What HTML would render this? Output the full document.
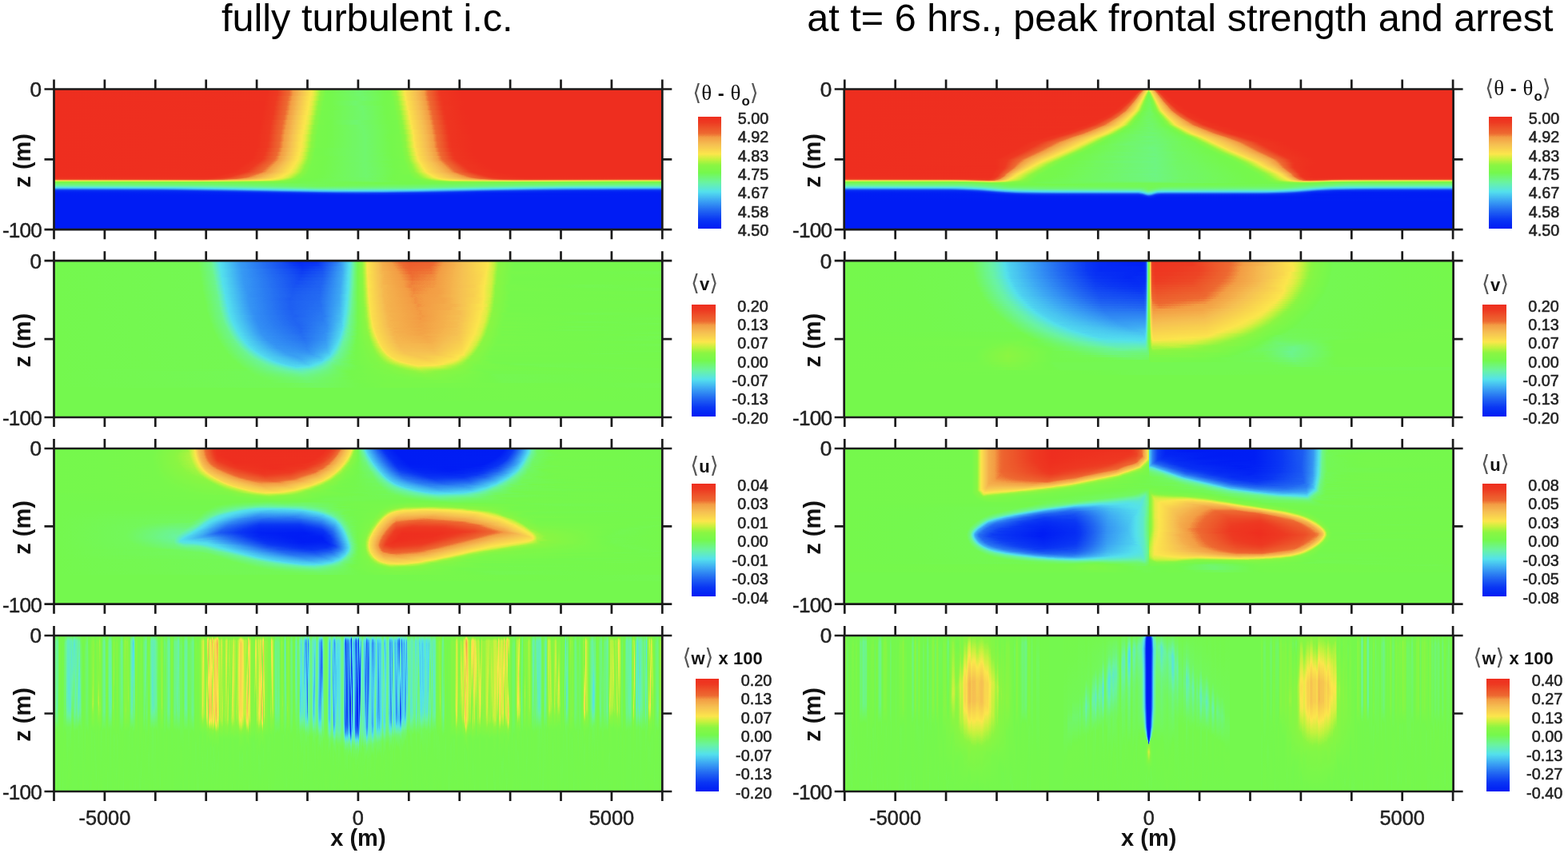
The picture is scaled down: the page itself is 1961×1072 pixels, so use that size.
<!DOCTYPE html><html><head><meta charset="utf-8"><style>body{margin:0;width:1961px;height:1072px;background:#fff;overflow:hidden;position:relative}.f{position:absolute;display:flex;filter:url(#cm);overflow:hidden}.c i{flex:none;width:1px}.r{flex-direction:column;filter:url(#cv)}.r i{flex:none;height:1px}.cb{position:absolute;filter:url(#cm);background:linear-gradient(#fff,#000)}svg.o{position:absolute;left:0;top:0}</style></head><body>
<svg width="0" height="0" style="position:absolute"><filter id="cm" x="0" y="0" width="1" height="1" color-interpolation-filters="sRGB"><feGaussianBlur stdDeviation="0.6 0" edgeMode="duplicate"/><feComponentTransfer><feFuncR type="table" tableValues="0 0.008 0.016 0.025 0.033 0.043 0.062 0.081 0.1 0.119 0.137 0.157 0.176 0.196 0.216 0.235 0.255 0.275 0.294 0.314 0.333 0.35 0.367 0.384 0.4 0.417 0.425 0.433 0.442 0.45 0.459 0.48 0.502 0.523 0.545 0.612 0.69 0.769 0.842 0.914 0.987 0.984 0.979 0.974 0.969 0.965 0.962 0.959 0.956 0.954 0.942 0.933 0.933 0.933 0.933 0.933 0.933 0.933 0.935 0.936 0.937"/><feFuncG type="table" tableValues="0.11 0.131 0.152 0.174 0.195 0.22 0.259 0.298 0.337 0.376 0.416 0.461 0.507 0.554 0.6 0.647 0.696 0.745 0.794 0.843 0.885 0.9 0.914 0.929 0.944 0.957 0.961 0.965 0.969 0.973 0.976 0.974 0.971 0.968 0.965 0.961 0.955 0.95 0.936 0.919 0.902 0.873 0.843 0.813 0.783 0.753 0.718 0.684 0.649 0.615 0.51 0.415 0.386 0.358 0.329 0.295 0.261 0.227 0.213 0.199 0.184"/><feFuncB type="table" tableValues="0.957 0.957 0.957 0.957 0.957 0.957 0.955 0.954 0.952 0.951 0.949 0.95 0.952 0.954 0.955 0.957 0.952 0.947 0.942 0.937 0.921 0.861 0.801 0.741 0.681 0.621 0.557 0.493 0.43 0.366 0.302 0.292 0.281 0.271 0.261 0.255 0.249 0.244 0.259 0.278 0.298 0.303 0.307 0.312 0.317 0.322 0.308 0.295 0.282 0.269 0.229 0.193 0.184 0.174 0.165 0.154 0.144 0.133 0.129 0.125 0.122"/></feComponentTransfer></filter><filter id="cv" x="0" y="0" width="1" height="1" color-interpolation-filters="sRGB"><feGaussianBlur stdDeviation="0 0.6" edgeMode="duplicate"/><feComponentTransfer><feFuncR type="table" tableValues="0 0.008 0.016 0.025 0.033 0.043 0.062 0.081 0.1 0.119 0.137 0.157 0.176 0.196 0.216 0.235 0.255 0.275 0.294 0.314 0.333 0.35 0.367 0.384 0.4 0.417 0.425 0.433 0.442 0.45 0.459 0.48 0.502 0.523 0.545 0.612 0.69 0.769 0.842 0.914 0.987 0.984 0.979 0.974 0.969 0.965 0.962 0.959 0.956 0.954 0.942 0.933 0.933 0.933 0.933 0.933 0.933 0.933 0.935 0.936 0.937"/><feFuncG type="table" tableValues="0.11 0.131 0.152 0.174 0.195 0.22 0.259 0.298 0.337 0.376 0.416 0.461 0.507 0.554 0.6 0.647 0.696 0.745 0.794 0.843 0.885 0.9 0.914 0.929 0.944 0.957 0.961 0.965 0.969 0.973 0.976 0.974 0.971 0.968 0.965 0.961 0.955 0.95 0.936 0.919 0.902 0.873 0.843 0.813 0.783 0.753 0.718 0.684 0.649 0.615 0.51 0.415 0.386 0.358 0.329 0.295 0.261 0.227 0.213 0.199 0.184"/><feFuncB type="table" tableValues="0.957 0.957 0.957 0.957 0.957 0.957 0.955 0.954 0.952 0.951 0.949 0.95 0.952 0.954 0.955 0.957 0.952 0.947 0.942 0.937 0.921 0.861 0.801 0.741 0.681 0.621 0.557 0.493 0.43 0.366 0.302 0.292 0.281 0.271 0.261 0.255 0.249 0.244 0.259 0.278 0.298 0.303 0.307 0.312 0.317 0.322 0.308 0.295 0.282 0.269 0.229 0.193 0.184 0.174 0.165 0.154 0.144 0.133 0.129 0.125 0.122"/></feComponentTransfer></filter></svg>
<div class="f r" style="left:67px;top:111px;width:762px;height:177px"><i style="height:9px;background:linear-gradient(90deg,#fff 0.5px,#fdfdfd 266.5px,#f3f3f3 279.5px,#aeaeae 319.5px,#a5a5a5 325.5px,#818181 340.5px,#777 383.5px,#818181 421.5px,#afafaf 441.5px,#c7c7c7 458.5px,#f8f8f8 485.5px,#fff 509.5px,#fff 761.5px)"></i><i style="height:6px;background:linear-gradient(90deg,#fff 0.5px,#fdfdfd 265.5px,#f2f2f2 278.5px,#adadad 318.5px,#a5a5a5 324.5px,#818181 339.5px,#777 387.5px,#828282 423.5px,#afafaf 442.5px,#c9c9c9 460.5px,#f8f8f8 486.5px,#fff 510.5px,#fff 761.5px)"></i><i style="height:6px;background:linear-gradient(90deg,#fff 0.5px,#fefefe 263.5px,#f3f3f3 276.5px,#adadad 317.5px,#a4a4a4 323.5px,#828282 337.5px,#777 377.5px,#828282 424.5px,#aeaeae 443.5px,#c8c8c8 461.5px,#f9f9f9 488.5px,#fff 514.5px,#fff 761.5px)"></i><i style="height:6px;background:linear-gradient(90deg,#fff 0.5px,#fefefe 262.5px,#f3f3f3 275.5px,#adadad 316.5px,#a4a4a4 322.5px,#828282 336.5px,#777 385.5px,#828282 425.5px,#b0b0b0 445.5px,#c8c8c8 462.5px,#f7f7f7 488.5px,#fff 511.5px,#fff 761.5px)"></i><i style="height:6px;background:linear-gradient(90deg,#fff 0.5px,#fdfdfd 261.5px,#f3f3f3 274.5px,#aeaeae 314.5px,#a4a4a4 321.5px,#818181 335.5px,#777 387.5px,#838383 427.5px,#afafaf 446.5px,#c7c7c7 463.5px,#f8f8f8 490.5px,#fff 515.5px,#fff 761.5px)"></i><i style="height:6px;background:linear-gradient(90deg,#fff 0.5px,#fdfdfd 260.5px,#f3f3f3 273.5px,#adadad 313.5px,#a5a5a5 319.5px,#818181 334.5px,#777 388.5px,#838383 428.5px,#afafaf 447.5px,#c7c7c7 464.5px,#f9f9f9 492.5px,#fff 519.5px,#fff 761.5px)"></i><i style="height:6px;background:linear-gradient(90deg,#fff 0.5px,#fefefe 258.5px,#f3f3f3 271.5px,#adadad 312.5px,#a5a5a5 318.5px,#838383 332.5px,#767676 378.5px,#828282 429.5px,#aeaeae 448.5px,#c8c8c8 466.5px,#f7f7f7 492.5px,#fff 515.5px,#fff 761.5px)"></i><i style="height:6px;background:linear-gradient(90deg,#fff 0.5px,#fefefe 257.5px,#f3f3f3 270.5px,#adadad 311.5px,#a4a4a4 317.5px,#828282 331.5px,#777 386.5px,#828282 430.5px,#b0b0b0 450.5px,#c6c6c6 466.5px,#f8f8f8 494.5px,#fff 519.5px,#fff 761.5px)"></i><i style="height:6px;background:linear-gradient(90deg,#fff 0.5px,#fdfdfd 256.5px,#f3f3f3 269.5px,#aeaeae 309.5px,#a4a4a4 316.5px,#828282 330.5px,#777 388.5px,#828282 431.5px,#afafaf 451.5px,#c8c8c8 468.5px,#f8f8f8 495.5px,#fff 519.5px,#fff 761.5px)"></i><i style="height:9px;background:linear-gradient(90deg,#fff 0.5px,#fdfdfd 255.5px,#f3f3f3 268.5px,#adadad 308.5px,#a5a5a5 314.5px,#828282 329.5px,#777 389.5px,#838383 433.5px,#afafaf 452.5px,#c7c7c7 469.5px,#f9f9f9 497.5px,#fff 524.5px,#fff 761.5px)"></i><i style="height:8px;background:linear-gradient(90deg,#fff 0.5px,#fdfdfd 254.5px,#f3f3f3 267.5px,#adadad 307.5px,#a5a5a5 313.5px,#828282 328.5px,#777 389.5px,#838383 434.5px,#afafaf 453.5px,#c7c7c7 470.5px,#f9f9f9 498.5px,#fff 525.5px,#fff 761.5px)"></i><i style="height:5px;background:linear-gradient(90deg,#fff 0.5px,#fdfdfd 252.5px,#f3f3f3 265.5px,#adadad 306.5px,#a5a5a5 312.5px,#818181 327.5px,#777 389.5px,#838383 435.5px,#aeaeae 454.5px,#c8c8c8 472.5px,#f8f8f8 499.5px,#fff 523.5px,#fff 761.5px)"></i><i style="height:5px;background:linear-gradient(90deg,#fff 0.5px,#fdfdfd 250.5px,#f3f3f3 263.5px,#adadad 305.5px,#a4a4a4 311.5px,#818181 326.5px,#777 389.5px,#838383 436.5px,#b0b0b0 456.5px,#c7c7c7 473.5px,#f8f8f8 501.5px,#fff 526.5px,#fff 761.5px)"></i><i style="height:4px;background:linear-gradient(90deg,#fff 0.5px,#fdfdfd 248.5px,#f3f3f3 261.5px,#acacac 304.5px,#a4a4a4 310.5px,#828282 325.5px,#777 389.5px,#838383 437.5px,#afafaf 457.5px,#c6c6c6 474.5px,#f8f8f8 503.5px,#fff 529.5px,#fff 761.5px)"></i><i style="height:2px;background:linear-gradient(90deg,#fff 0.5px,#fdfdfd 246.5px,#f2f2f2 260.5px,#aeaeae 302.5px,#a4a4a4 309.5px,#828282 324.5px,#777 389.5px,#828282 437.5px,#afafaf 458.5px,#c8c8c8 476.5px,#f8f8f8 505.5px,#fff 533.5px,#fff 761.5px)"></i><i style="height:2px;background:linear-gradient(90deg,#fff 0.5px,#fdfdfd 243.5px,#f3f3f3 257.5px,#adadad 301.5px,#a4a4a4 308.5px,#828282 323.5px,#777 387.5px,#838383 438.5px,#afafaf 459.5px,#c8c8c8 478.5px,#f7f7f7 507.5px,#fff 533.5px,#fff 761.5px)"></i><i style="height:2px;background:linear-gradient(90deg,#fff 0.5px,#fdfdfd 240.5px,#f2f2f2 255.5px,#aeaeae 299.5px,#a4a4a4 307.5px,#828282 323.5px,#777 390.5px,#838383 439.5px,#b0b0b0 461.5px,#c6c6c6 479.5px,#f8f8f8 510.5px,#fff 537.5px,#fff 761.5px)"></i><i style="height:2px;background:linear-gradient(90deg,#fff 0.5px,#fdfdfd 237.5px,#f2f2f2 252.5px,#aeaeae 298.5px,#a5a5a5 305.5px,#828282 322.5px,#777 389.5px,#838383 440.5px,#afafaf 462.5px,#c7c7c7 481.5px,#f8f8f8 513.5px,#fff 542.5px,#fff 761.5px)"></i><i style="height:2px;background:linear-gradient(90deg,#fff 0.5px,#fdfdfd 234.5px,#f3f3f3 249.5px,#adadad 297.5px,#a5a5a5 304.5px,#828282 321.5px,#777 389.5px,#848484 441.5px,#afafaf 463.5px,#c8c8c8 484.5px,#f7f7f7 515.5px,#fff 543.5px,#fff 761.5px)"></i><i style="height:2px;background:linear-gradient(90deg,#fff 0.5px,#fdfdfd 231.5px,#f2f2f2 247.5px,#aeaeae 295.5px,#a5a5a5 303.5px,#828282 321.5px,#777 390.5px,#838383 441.5px,#b0b0b0 465.5px,#c7c7c7 485.5px,#f8f8f8 518.5px,#fff 547.5px,#fff 761.5px)"></i><i style="height:2px;background:linear-gradient(90deg,#fff 0.5px,#fdfdfd 228.5px,#f3f3f3 244.5px,#adadad 294.5px,#a4a4a4 302.5px,#828282 320.5px,#777 390.5px,#838383 442.5px,#afafaf 466.5px,#c7c7c7 487.5px,#f8f8f8 521.5px,#fff 552.5px,#fff 761.5px)"></i><i style="height:2px;background:linear-gradient(90deg,#fff 0.5px,#fdfdfd 225.5px,#f3f3f3 241.5px,#adadad 293.5px,#a4a4a4 301.5px,#828282 319.5px,#777 390.5px,#848484 443.5px,#afafaf 467.5px,#c7c7c7 489.5px,#f8f8f8 524.5px,#fff 556.5px,#fff 761.5px)"></i><i style="background:linear-gradient(90deg,#fff 0.5px,#fdfdfd 222.5px,#f2f2f2 239.5px,#aeaeae 291.5px,#a4a4a4 300.5px,#828282 318.5px,#777 390.5px,#848484 444.5px,#b0b0b0 469.5px,#c7c7c7 491.5px,#f7f7f7 526.5px,#fff 557.5px,#fff 761.5px)"></i><i style="background:linear-gradient(90deg,#fff 0.5px,#fdfdfd 218.5px,#f3f3f3 235.5px,#adadad 290.5px,#a5a5a5 298.5px,#828282 318.5px,#777 390.5px,#848484 445.5px,#afafaf 470.5px,#c8c8c8 494.5px,#f8f8f8 530.5px,#fff 562.5px,#fff 761.5px)"></i><i style="background:linear-gradient(90deg,#fff 0.5px,#fdfdfd 214.5px,#f2f2f2 232.5px,#adadad 288.5px,#a4a4a4 297.5px,#828282 317.5px,#777 390.5px,#848484 446.5px,#afafaf 472.5px,#c7c7c7 496.5px,#f8f8f8 534.5px,#fff 569.5px,#fff 761.5px)"></i><i style="background:linear-gradient(90deg,#fff 0.5px,#fdfdfd 210.5px,#f3f3f3 228.5px,#adadad 286.5px,#a5a5a5 295.5px,#828282 316.5px,#777 390.5px,#818181 432.5px,#828282 445.5px,#afafaf 474.5px,#c8c8c8 499.5px,#f9f9f9 538.5px,#fff 577.5px,#fff 761.5px)"></i><i style="background:linear-gradient(90deg,#fff 0.5px,#fdfdfd 206.5px,#f3f3f3 224.5px,#acacac 285.5px,#a4a4a4 294.5px,#828282 315.5px,#777 391.5px,#818181 430.5px,#818181 445.5px,#afafaf 476.5px,#c7c7c7 501.5px,#f9f9f9 542.5px,#fff 582.5px,#fff 761.5px)"></i><i style="background:linear-gradient(90deg,#fefefe 0.5px,#fdfdfd 202.5px,#f3f3f3 221.5px,#adadad 283.5px,#a5a5a5 292.5px,#828282 314.5px,#777 390.5px,#818181 432.5px,#818181 446.5px,#b0b0b0 478.5px,#c8c8c8 504.5px,#f7f7f7 544.5px,#fff 580.5px,#fefefe 761.5px)"></i><i style="background:linear-gradient(90deg,#fdfdfd 0.5px,#fcfcfc 199.5px,#f2f2f2 218.5px,#adadad 281.5px,#a4a4a4 291.5px,#828282 313.5px,#777 391.5px,#818181 430.5px,#818181 447.5px,#b0b0b0 480.5px,#c7c7c7 506.5px,#f7f7f7 548.5px,#fff 586.5px,#fdfdfd 761.5px)"></i><i style="background:linear-gradient(90deg,#fbfbfb 0.5px,#fafafa 195.5px,#f0f0f0 214.5px,#acacac 279.5px,#a4a4a4 289.5px,#828282 312.5px,#787878 391.5px,#818181 431.5px,#818181 448.5px,#b0b0b0 483.5px,#c6c6c6 509.5px,#f6f6f6 553.5px,#fdfdfd 594.5px,#fbfbfb 761.5px)"></i><i style="background:linear-gradient(90deg,#f4f4f4 0.5px,#f5f5f5 190.5px,#ebebeb 209.5px,#aaa 277.5px,#a4a4a4 285.5px,#818181 310.5px,#787878 391.5px,#818181 432.5px,#818181 450.5px,#aeaeae 486.5px,#c7c7c7 516.5px,#f0f0f0 557.5px,#f8f8f8 595.5px,#f4f4f4 761.5px)"></i><i style="background:linear-gradient(90deg,#e4e4e4 0.5px,#e9e9e9 188.5px,#c2c2c2 243.5px,#aaa 270.5px,#a2a2a2 282.5px,#818181 308.5px,#787878 392.5px,#818181 431.5px,#818181 453.5px,#acacac 490.5px,#c4c4c4 523.5px,#e4e4e4 562.5px,#ebebeb 597.5px,#e3e3e3 722.5px,#e4e4e4 761.5px)"></i><i style="background:linear-gradient(90deg,#c5c5c5 0.5px,#cbcbcb 148.5px,#d0d0d0 184.5px,#a3a3a3 273.5px,#818181 306.5px,#787878 393.5px,#818181 432.5px,#818181 456.5px,#a7a7a7 494.5px,#d0d0d0 577.5px,#c4c4c4 737.5px,#c5c5c5 761.5px)"></i><i style="background:linear-gradient(90deg,#a2a2a2 0.5px,#a8a8a8 149.5px,#adadad 185.5px,#969696 274.5px,#808080 306.5px,#7a7a7a 396.5px,#808080 435.5px,#818181 460.5px,#9b9b9b 497.5px,#adadad 586.5px,#a1a1a1 706.5px,#a2a2a2 761.5px)"></i><i style="background:linear-gradient(90deg,#8b8b8b 0.5px,#909090 225.5px,#878787 284.5px,#7e7e7e 309.5px,#7c7c7c 408.5px,#838383 472.5px,#8e8e8e 504.5px,#8f8f8f 629.5px,#898989 732.5px,#8b8b8b 761.5px)"></i><i style="background:linear-gradient(90deg,#808080 0.5px,#838383 283.5px,#7d7d7d 323.5px,#818181 486.5px,#858585 525.5px,#7f7f7f 761.5px)"></i><i style="background:linear-gradient(90deg,#7a7a7a 0.5px,#7f7f7f 434.5px,#797979 761.5px)"></i><i style="background:linear-gradient(90deg,#757575 0.5px,#7e7e7e 443.5px,#747474 761.5px)"></i><i style="background:linear-gradient(90deg,#707070 0.5px,#767676 221.5px,#7e7e7e 349.5px,#747474 614.5px,#6e6e6e 739.5px,#707070 761.5px)"></i><i style="background:linear-gradient(90deg,#686868 0.5px,#6e6e6e 188.5px,#7c7c7c 333.5px,#767676 524.5px,#686868 668.5px,#686868 761.5px)"></i><i style="background:linear-gradient(90deg,#5f5f5f 0.5px,#656565 169.5px,#797979 328.5px,#747474 487.5px,#606060 655.5px,#5f5f5f 761.5px)"></i><i style="background:linear-gradient(90deg,#535353 0.5px,#595959 156.5px,#747474 329.5px,#727272 462.5px,#555 644.5px,#535353 761.5px)"></i><i style="background:linear-gradient(90deg,#464646 0.5px,#4c4c4c 150.5px,#6f6f6f 333.5px,#6d6d6d 446.5px,#494949 632.5px,#454545 761.5px)"></i><i style="background:linear-gradient(90deg,#323232 0.5px,#383838 124.5px,#686868 339.5px,#666 437.5px,#383838 639.5px,#313131 761.5px)"></i><i style="background:linear-gradient(90deg,#1d1d1d 0.5px,#242424 133.5px,#3b3b3b 214.5px,#464646 240.5px,#5f5f5f 351.5px,#5b5b5b 438.5px,#383838 561.5px,#282828 605.5px,#1c1c1c 727.5px,#1d1d1d 761.5px)"></i><i style="background:linear-gradient(90deg,#101010 0.5px,#151515 151.5px,#2b2b2b 230.5px,#454545 286.5px,#555 374.5px,#4a4a4a 457.5px,#363636 512.5px,#212121 557.5px,#111 651.5px,#101010 761.5px)"></i><i style="background:linear-gradient(90deg,#080808 0.5px,#0d0d0d 175.5px,#212121 256.5px,#434343 333.5px,#464646 410.5px,#383838 459.5px,#181818 530.5px,#090909 627.5px,#080808 761.5px)"></i><i style="background:linear-gradient(90deg,#040404 0.5px,#080808 204.5px,#1d1d1d 295.5px,#313131 354.5px,#303030 413.5px,#0c0c0c 530.5px,#030303 683.5px,#040404 761.5px)"></i><i style="background:linear-gradient(90deg,#020202 0.5px,#060606 235.5px,#1f1f1f 378.5px,#0f0f0f 480.5px,#040404 539.5px,#020202 761.5px)"></i><i style="background:linear-gradient(90deg,#010101 0.5px,#040404 270.5px,#111 386.5px,#010101 558.5px,#010101 761.5px)"></i><i style="background:linear-gradient(90deg,#000 0.5px,#040404 314.5px,#090909 400.5px,#000 578.5px,#000 761.5px)"></i><i style="height:2px;background:linear-gradient(90deg,#000 0.5px,#020202 547.5px,#000 761.5px)"></i><i style="height:42px;background:#000"></i></div>
<div class="f r" style="left:67px;top:326px;width:762px;height:196px"><i style="height:2px;background:linear-gradient(90deg,#7f7f7f 0.5px,#7e7e7e 180.5px,#707070 196.5px,#555 207.5px,#3c3c3c 233.5px,#212121 282.5px,#0b0b0b 307.5px,#0f0f0f 327.5px,#303030 353.5px,#545454 370.5px,#707070 376.5px,#9e9e9e 389.5px,#a9a9a9 391.5px,#c6c6c6 409.5px,#e2e2e2 444.5px,#e0e0e0 467.5px,#bfbfbf 511.5px,#acacac 541.5px,#9d9d9d 551.5px,#909090 556.5px,#828282 572.5px,#7e7e7e 761.5px)"></i><i style="height:2px;background:linear-gradient(90deg,#7f7f7f 0.5px,#7e7e7e 180.5px,#707070 196.5px,#555 207.5px,#3c3c3c 233.5px,#202020 284.5px,#0e0e0e 307.5px,#121212 328.5px,#343434 355.5px,#545454 370.5px,#717171 376.5px,#9e9e9e 389.5px,#ababab 392.5px,#c8c8c8 411.5px,#e1e1e1 445.5px,#ddd 469.5px,#bfbfbf 511.5px,#acacac 541.5px,#9f9f9f 550.5px,#8d8d8d 557.5px,#818181 575.5px,#808080 761.5px)"></i><i style="height:3px;background:linear-gradient(90deg,#7f7f7f 0.5px,#7e7e7e 180.5px,#6f6f6f 197.5px,#565656 207.5px,#3d3d3d 232.5px,#1d1d1d 290.5px,#101010 309.5px,#171717 331.5px,#3a3a3a 358.5px,#565656 370.5px,#757575 377.5px,#9d9d9d 389.5px,#ababab 392.5px,#c8c8c8 412.5px,#dfdfdf 446.5px,#dbdbdb 470.5px,#aaa 543.5px,#9c9c9c 551.5px,#8d8d8d 557.5px,#808080 576.5px,#808080 761.5px)"></i><i style="height:3px;background:linear-gradient(90deg,#7f7f7f 0.5px,#7e7e7e 181.5px,#707070 197.5px,#555 208.5px,#3c3c3c 234.5px,#131313 311.5px,#1d1d1d 334.5px,#3f3f3f 360.5px,#565656 370.5px,#757575 377.5px,#9d9d9d 389.5px,#ababab 392.5px,#c6c6c6 411.5px,#ddd 445.5px,#d9d9d9 470.5px,#acacac 541.5px,#9e9e9e 550.5px,#8e8e8e 556.5px,#818181 574.5px,#808080 761.5px)"></i><i style="height:3px;background:linear-gradient(90deg,#7f7f7f 0.5px,#7e7e7e 181.5px,#6f6f6f 198.5px,#565656 208.5px,#3d3d3d 234.5px,#161616 311.5px,#202020 335.5px,#3f3f3f 360.5px,#575757 370.5px,#727272 376.5px,#9c9c9c 389.5px,#ababab 392.5px,#c6c6c6 411.5px,#dbdbdb 446.5px,#d7d7d7 472.5px,#adadad 539.5px,#a0a0a0 549.5px,#8e8e8e 556.5px,#818181 574.5px,#808080 761.5px)"></i><i style="height:4px;background:linear-gradient(90deg,#7f7f7f 0.5px,#7e7e7e 182.5px,#707070 198.5px,#555 209.5px,#3c3c3c 235.5px,#181818 310.5px,#232323 336.5px,#424242 361.5px,#585858 370.5px,#767676 377.5px,#9c9c9c 389.5px,#aaa 392.5px,#c4c4c4 410.5px,#d9d9d9 445.5px,#d6d6d6 472.5px,#afafaf 537.5px,#9f9f9f 549.5px,#8f8f8f 555.5px,#828282 571.5px,#7e7e7e 761.5px)"></i><i style="height:4px;background:linear-gradient(90deg,#7f7f7f 0.5px,#7e7e7e 182.5px,#707070 199.5px,#545454 210.5px,#3b3b3b 237.5px,#1b1b1b 309.5px,#252525 336.5px,#414141 360.5px,#595959 370.5px,#737373 376.5px,#9b9b9b 389.5px,#adadad 393.5px,#c6c6c6 413.5px,#d8d8d8 448.5px,#d3d3d3 475.5px,#b1b1b1 535.5px,#a0a0a0 548.5px,#8e8e8e 555.5px,#818181 572.5px,#7f7f7f 761.5px)"></i><i style="height:4px;background:linear-gradient(90deg,#7f7f7f 0.5px,#7e7e7e 183.5px,#6f6f6f 200.5px,#565656 210.5px,#3c3c3c 236.5px,#1d1d1d 307.5px,#272727 336.5px,#424242 360.5px,#565656 369.5px,#737373 376.5px,#9a9a9a 389.5px,#acacac 393.5px,#c5c5c5 412.5px,#d7d7d7 448.5px,#d2d2d2 476.5px,#b2b2b2 533.5px,#a0a0a0 548.5px,#8d8d8d 555.5px,#808080 574.5px,#808080 761.5px)"></i><i style="height:5px;background:linear-gradient(90deg,#7f7f7f 0.5px,#7e7e7e 184.5px,#6f6f6f 201.5px,#555 211.5px,#3c3c3c 237.5px,#1f1f1f 304.5px,#282828 335.5px,#414141 359.5px,#575757 369.5px,#747474 376.5px,#9a9a9a 389.5px,#ababab 393.5px,#c5c5c5 412.5px,#d5d5d5 448.5px,#d1d1d1 477.5px,#b3b3b3 531.5px,#a1a1a1 547.5px,#8f8f8f 554.5px,#818181 571.5px,#7f7f7f 761.5px)"></i><i style="height:4px;background:linear-gradient(90deg,#7f7f7f 0.5px,#7e7e7e 185.5px,#6f6f6f 202.5px,#555 212.5px,#3b3b3b 239.5px,#212121 301.5px,#282828 333.5px,#404040 358.5px,#585858 369.5px,#717171 375.5px,#999 389.5px,#aaa 393.5px,#c2c2c2 410.5px,#d4d4d4 445.5px,#d1d1d1 475.5px,#b7b7b7 526.5px,#a0a0a0 547.5px,#919191 552.5px,#828282 567.5px,#7e7e7e 667.5px,#808080 761.5px)"></i><i style="height:4px;background:linear-gradient(90deg,#7f7f7f 0.5px,#7e7e7e 185.5px,#707070 202.5px,#555 213.5px,#3b3b3b 240.5px,#232323 299.5px,#292929 333.5px,#414141 358.5px,#555 368.5px,#727272 375.5px,#9b9b9b 390.5px,#adadad 394.5px,#c4c4c4 413.5px,#d4d4d4 450.5px,#cecece 482.5px,#b3b3b3 530.5px,#9f9f9f 547.5px,#909090 552.5px,#828282 568.5px,#7e7e7e 756.5px,#808080 761.5px)"></i><i style="height:4px;background:linear-gradient(90deg,#7f7f7f 0.5px,#7e7e7e 186.5px,#707070 203.5px,#545454 214.5px,#3a3a3a 242.5px,#242424 298.5px,#2a2a2a 333.5px,#414141 358.5px,#565656 368.5px,#737373 375.5px,#979797 389.5px,#acacac 394.5px,#c4c4c4 413.5px,#d3d3d3 450.5px,#cecece 482.5px,#b4b4b4 529.5px,#a0a0a0 546.5px,#8e8e8e 553.5px,#818181 571.5px,#808080 761.5px)"></i><i style="height:4px;background:linear-gradient(90deg,#7f7f7f 0.5px,#7e7e7e 187.5px,#707070 204.5px,#545454 215.5px,#393939 244.5px,#252525 298.5px,#2b2b2b 333.5px,#414141 357.5px,#585858 368.5px,#707070 374.5px,#9a9a9a 390.5px,#ababab 394.5px,#c3c3c3 412.5px,#d2d2d2 448.5px,#cecece 479.5px,#b7b7b7 525.5px,#a2a2a2 545.5px,#8f8f8f 552.5px,#818181 569.5px,#7f7f7f 761.5px)"></i><i style="height:4px;background:linear-gradient(90deg,#7f7f7f 0.5px,#7e7e7e 188.5px,#6f6f6f 205.5px,#555 215.5px,#3b3b3b 242.5px,#252525 295.5px,#2b2b2b 332.5px,#414141 357.5px,#555 367.5px,#717171 374.5px,#999 390.5px,#adadad 395.5px,#c4c4c4 414.5px,#d2d2d2 452.5px,#cbcbcb 489.5px,#b0b0b0 533.5px,#a0a0a0 545.5px,#8e8e8e 552.5px,#818181 570.5px,#808080 761.5px)"></i><i style="height:4px;background:linear-gradient(90deg,#7f7f7f 0.5px,#7e7e7e 189.5px,#6f6f6f 206.5px,#555 216.5px,#3a3a3a 244.5px,#262626 295.5px,#2c2c2c 332.5px,#424242 357.5px,#575757 367.5px,#6e6e6e 373.5px,#989898 390.5px,#acacac 395.5px,#c4c4c4 414.5px,#d2d2d2 452.5px,#cbcbcb 488.5px,#b1b1b1 531.5px,#9f9f9f 545.5px,#8f8f8f 551.5px,#818181 568.5px,#7f7f7f 761.5px)"></i><i style="height:4px;background:linear-gradient(90deg,#7f7f7f 0.5px,#7e7e7e 190.5px,#707070 206.5px,#555 217.5px,#3a3a3a 245.5px,#262626 296.5px,#2d2d2d 334.5px,#444 358.5px,#585858 367.5px,#6f6f6f 373.5px,#979797 390.5px,#adadad 396.5px,#c5c5c5 416.5px,#d2d2d2 456.5px,#c5c5c5 502.5px,#a6a6a6 541.5px,#8c8c8c 552.5px,#808080 571.5px,#808080 761.5px)"></i><i style="height:4px;background:linear-gradient(90deg,#7f7f7f 0.5px,#7e7e7e 190.5px,#707070 207.5px,#555 218.5px,#3a3a3a 246.5px,#262626 296.5px,#2e2e2e 334.5px,#444 357.5px,#565656 366.5px,#707070 373.5px,#959595 390.5px,#acacac 396.5px,#c4c4c4 415.5px,#d1d1d1 454.5px,#c8c8c8 494.5px,#acacac 535.5px,#9e9e9e 544.5px,#8f8f8f 550.5px,#818181 567.5px,#7f7f7f 761.5px)"></i><i style="height:3px;background:linear-gradient(90deg,#7f7f7f 0.5px,#7e7e7e 191.5px,#707070 208.5px,#545454 219.5px,#393939 248.5px,#272727 297.5px,#2f2f2f 335.5px,#464646 358.5px,#585858 366.5px,#6e6e6e 372.5px,#979797 391.5px,#aeaeae 397.5px,#c5c5c5 417.5px,#d1d1d1 458.5px,#c1c1c1 508.5px,#a4a4a4 541.5px,#8d8d8d 550.5px,#808080 569.5px,#808080 761.5px)"></i><i style="height:3px;background:linear-gradient(90deg,#7f7f7f 0.5px,#7e7e7e 192.5px,#707070 209.5px,#545454 220.5px,#383838 250.5px,#272727 298.5px,#303030 336.5px,#474747 358.5px,#565656 365.5px,#6f6f6f 372.5px,#969696 391.5px,#adadad 397.5px,#c4c4c4 417.5px,#d1d1d1 458.5px,#c1c1c1 508.5px,#a3a3a3 541.5px,#929292 547.5px,#828282 562.5px,#7e7e7e 669.5px,#808080 761.5px)"></i><i style="height:3px;background:linear-gradient(90deg,#7f7f7f 0.5px,#7e7e7e 193.5px,#6f6f6f 210.5px,#545454 221.5px,#383838 252.5px,#272727 301.5px,#323232 339.5px,#4b4b4b 360.5px,#5b5b5b 366.5px,#6e6e6e 371.5px,#969696 391.5px,#afafaf 398.5px,#c5c5c5 419.5px,#d1d1d1 461.5px,#bebebe 511.5px,#a3a3a3 540.5px,#8f8f8f 548.5px,#818181 565.5px,#7f7f7f 761.5px)"></i><i style="height:3px;background:linear-gradient(90deg,#7f7f7f 0.5px,#7e7e7e 194.5px,#6f6f6f 211.5px,#545454 222.5px,#383838 252.5px,#282828 299.5px,#313131 336.5px,#484848 358.5px,#595959 365.5px,#6c6c6c 370.5px,#979797 392.5px,#aeaeae 398.5px,#c4c4c4 418.5px,#d1d1d1 458.5px,#c1c1c1 506.5px,#a4a4a4 539.5px,#8f8f8f 547.5px,#828282 563.5px,#7e7e7e 761.5px)"></i><i style="height:2px;background:linear-gradient(90deg,#7f7f7f 0.5px,#7e7e7e 194.5px,#717171 211.5px,#545454 223.5px,#383838 253.5px,#282828 301.5px,#323232 337.5px,#494949 358.5px,#575757 364.5px,#6d6d6d 370.5px,#969696 392.5px,#afafaf 399.5px,#c6c6c6 421.5px,#d0d0d0 462.5px,#bebebe 510.5px,#a3a3a3 539.5px,#8f8f8f 546.5px,#818181 563.5px,#7f7f7f 761.5px)"></i><i style="height:2px;background:linear-gradient(90deg,#7f7f7f 0.5px,#7e7e7e 195.5px,#707070 212.5px,#545454 224.5px,#383838 254.5px,#282828 303.5px,#343434 339.5px,#4b4b4b 359.5px,#5c5c5c 365.5px,#6d6d6d 370.5px,#959595 392.5px,#aeaeae 399.5px,#c4c4c4 419.5px,#d0d0d0 458.5px,#c1c1c1 505.5px,#a4a4a4 538.5px,#919191 545.5px,#828282 560.5px,#7e7e7e 665.5px,#808080 761.5px)"></i><i style="height:2px;background:linear-gradient(90deg,#7f7f7f 0.5px,#7e7e7e 196.5px,#707070 213.5px,#545454 225.5px,#383838 255.5px,#282828 304.5px,#353535 340.5px,#4e4e4e 360.5px,#707070 371.5px,#949494 392.5px,#adadad 399.5px,#c4c4c4 419.5px,#cfcfcf 457.5px,#c2c2c2 503.5px,#a4a4a4 537.5px,#909090 545.5px,#828282 561.5px,#7e7e7e 759.5px,#808080 761.5px)"></i><i style="height:2px;background:linear-gradient(90deg,#7f7f7f 0.5px,#7e7e7e 197.5px,#707070 214.5px,#545454 226.5px,#383838 256.5px,#282828 306.5px,#363636 341.5px,#505050 361.5px,#6d6d6d 369.5px,#949494 392.5px,#afafaf 400.5px,#c5c5c5 421.5px,#cfcfcf 460.5px,#c0c0c0 506.5px,#a3a3a3 537.5px,#909090 544.5px,#818181 561.5px,#7f7f7f 761.5px)"></i><i style="height:2px;background:linear-gradient(90deg,#7f7f7f 0.5px,#7e7e7e 197.5px,#707070 215.5px,#545454 227.5px,#383838 257.5px,#292929 307.5px,#373737 341.5px,#4f4f4f 360.5px,#707070 370.5px,#939393 392.5px,#aeaeae 400.5px,#c4c4c4 420.5px,#cfcfcf 457.5px,#c2c2c2 503.5px,#a4a4a4 536.5px,#919191 543.5px,#838383 558.5px,#7e7e7e 654.5px,#808080 761.5px)"></i><i style="height:2px;background:linear-gradient(90deg,#7f7f7f 0.5px,#7e7e7e 198.5px,#707070 216.5px,#545454 228.5px,#383838 258.5px,#292929 309.5px,#383838 342.5px,#525252 361.5px,#646464 365.5px,#7e7e7e 378.5px,#909090 391.5px,#b1b1b1 402.5px,#c7c7c7 426.5px,#cecece 464.5px,#bebebe 508.5px,#a2a2a2 536.5px,#8f8f8f 543.5px,#818181 560.5px,#7f7f7f 761.5px)"></i><i style="height:2px;background:linear-gradient(90deg,#7f7f7f 0.5px,#7e7e7e 199.5px,#707070 217.5px,#545454 229.5px,#393939 258.5px,#2a2a2a 308.5px,#383838 341.5px,#515151 360.5px,#6b6b6b 367.5px,#959595 394.5px,#aeaeae 401.5px,#c4c4c4 422.5px,#cecece 458.5px,#c0c0c0 504.5px,#a3a3a3 535.5px,#929292 541.5px,#838383 556.5px,#7e7e7e 643.5px,#808080 761.5px)"></i><i style="height:2px;background:linear-gradient(90deg,#7f7f7f 0.5px,#7e7e7e 200.5px,#707070 218.5px,#545454 230.5px,#393939 259.5px,#2a2a2a 309.5px,#383838 341.5px,#535353 360.5px,#646464 364.5px,#7b7b7b 376.5px,#909090 392.5px,#b1b1b1 403.5px,#c7c7c7 427.5px,#cdcdcd 464.5px,#bebebe 507.5px,#a3a3a3 534.5px,#8f8f8f 542.5px,#818181 560.5px,#7f7f7f 761.5px)"></i><i style="height:2px;background:linear-gradient(90deg,#7f7f7f 0.5px,#7e7e7e 201.5px,#707070 219.5px,#555 231.5px,#3a3a3a 259.5px,#2b2b2b 308.5px,#373737 338.5px,#505050 358.5px,#6d6d6d 367.5px,#939393 394.5px,#afafaf 403.5px,#c5c5c5 425.5px,#cdcdcd 460.5px,#bfbfbf 505.5px,#a4a4a4 533.5px,#8f8f8f 541.5px,#828282 558.5px,#7e7e7e 761.5px)"></i><i style="height:2px;background:linear-gradient(90deg,#7f7f7f 0.5px,#7e7e7e 202.5px,#707070 220.5px,#535353 233.5px,#393939 262.5px,#2c2c2c 311.5px,#393939 340.5px,#515151 358.5px,#696969 365.5px,#828282 381.5px,#8e8e8e 392.5px,#a6a6a6 401.5px,#aeaeae 403.5px,#c4c4c4 424.5px,#ccc 457.5px,#bfbfbf 504.5px,#a4a4a4 532.5px,#8e8e8e 541.5px,#818181 560.5px,#808080 761.5px)"></i><i style="height:2px;background:linear-gradient(90deg,#7f7f7f 0.5px,#7e7e7e 203.5px,#6f6f6f 222.5px,#545454 234.5px,#3a3a3a 263.5px,#2d2d2d 311.5px,#393939 339.5px,#525252 358.5px,#636363 362.5px,#7a7a7a 374.5px,#8e8e8e 393.5px,#b0b0b0 405.5px,#c5c5c5 428.5px,#cbcbcb 467.5px,#bbb 508.5px,#a2a2a2 532.5px,#909090 539.5px,#828282 556.5px,#7e7e7e 760.5px,#808080 761.5px)"></i><i style="height:2px;background:linear-gradient(90deg,#7f7f7f 0.5px,#7e7e7e 204.5px,#6f6f6f 223.5px,#535353 236.5px,#393939 266.5px,#2d2d2d 313.5px,#3a3a3a 340.5px,#525252 357.5px,#6a6a6a 364.5px,#828282 381.5px,#8d8d8d 393.5px,#a7a7a7 403.5px,#afafaf 405.5px,#c4c4c4 427.5px,#cacaca 465.5px,#bbb 507.5px,#a2a2a2 531.5px,#909090 538.5px,#828282 555.5px,#7e7e7e 761.5px)"></i><i style="height:2px;background:linear-gradient(90deg,#7f7f7f 0.5px,#7e7e7e 205.5px,#707070 224.5px,#545454 237.5px,#3a3a3a 266.5px,#2e2e2e 313.5px,#3a3a3a 339.5px,#525252 356.5px,#696969 363.5px,#7f7f7f 378.5px,#8c8c8c 393.5px,#a4a4a4 403.5px,#afafaf 406.5px,#c4c4c4 428.5px,#c9c9c9 468.5px,#bababa 508.5px,#a2a2a2 530.5px,#909090 537.5px,#828282 554.5px,#7e7e7e 742.5px,#808080 761.5px)"></i><i style="background:linear-gradient(90deg,#7f7f7f 0.5px,#7e7e7e 206.5px,#707070 225.5px,#545454 238.5px,#3a3a3a 268.5px,#2f2f2f 314.5px,#3c3c3c 340.5px,#535353 356.5px,#686868 362.5px,#7d7d7d 376.5px,#8d8d8d 394.5px,#a5a5a5 404.5px,#afafaf 407.5px,#c4c4c4 430.5px,#c8c8c8 472.5px,#b8b8b8 509.5px,#a2a2a2 529.5px,#8f8f8f 537.5px,#818181 555.5px,#7f7f7f 761.5px)"></i><i style="height:2px;background:linear-gradient(90deg,#7f7f7f 0.5px,#7e7e7e 207.5px,#6e6e6e 227.5px,#535353 240.5px,#393939 272.5px,#303030 315.5px,#3d3d3d 340.5px,#525252 355.5px,#6a6a6a 362.5px,#7e7e7e 377.5px,#8c8c8c 394.5px,#a3a3a3 404.5px,#aeaeae 407.5px,#c3c3c3 428.5px,#c8c8c8 469.5px,#b8b8b8 508.5px,#a2a2a2 528.5px,#8f8f8f 536.5px,#818181 555.5px,#808080 761.5px)"></i><i style="background:linear-gradient(90deg,#7f7f7f 0.5px,#7e7e7e 208.5px,#6f6f6f 228.5px,#535353 241.5px,#3a3a3a 272.5px,#313131 315.5px,#3d3d3d 340.5px,#545454 355.5px,#696969 361.5px,#7d7d7d 376.5px,#8c8c8c 395.5px,#a4a4a4 405.5px,#afafaf 408.5px,#c3c3c3 430.5px,#c6c6c6 472.5px,#b7b7b7 509.5px,#a0a0a0 528.5px,#8f8f8f 535.5px,#818181 554.5px,#7f7f7f 761.5px)"></i><i style="height:2px;background:linear-gradient(90deg,#7f7f7f 0.5px,#7e7e7e 209.5px,#6f6f6f 229.5px,#525252 243.5px,#393939 276.5px,#323232 316.5px,#3f3f3f 341.5px,#535353 354.5px,#6a6a6a 361.5px,#7e7e7e 376.5px,#8c8c8c 395.5px,#a4a4a4 406.5px,#afafaf 409.5px,#c2c2c2 431.5px,#c5c5c5 473.5px,#b5b5b5 510.5px,#a1a1a1 527.5px,#909090 534.5px,#828282 552.5px,#7e7e7e 761.5px)"></i><i style="background:linear-gradient(90deg,#7f7f7f 0.5px,#7e7e7e 210.5px,#6f6f6f 230.5px,#525252 245.5px,#3a3a3a 278.5px,#333 316.5px,#404040 341.5px,#555 354.5px,#696969 360.5px,#7d7d7d 375.5px,#8b8b8b 395.5px,#a2a2a2 406.5px,#afafaf 410.5px,#c2c2c2 432.5px,#c4c4c4 474.5px,#b4b4b4 510.5px,#a1a1a1 526.5px,#909090 533.5px,#828282 551.5px,#7e7e7e 761.5px)"></i><i style="background:linear-gradient(90deg,#7f7f7f 0.5px,#7e7e7e 210.5px,#6f6f6f 231.5px,#535353 245.5px,#3b3b3b 277.5px,#333 316.5px,#414141 341.5px,#545454 353.5px,#6a6a6a 360.5px,#7d7d7d 375.5px,#8b8b8b 396.5px,#a3a3a3 407.5px,#aeaeae 410.5px,#c1c1c1 431.5px,#c4c4c4 473.5px,#b4b4b4 510.5px,#a1a1a1 525.5px,#8f8f8f 533.5px,#818181 552.5px,#7f7f7f 761.5px)"></i><i style="background:linear-gradient(90deg,#7f7f7f 0.5px,#7e7e7e 211.5px,#6f6f6f 232.5px,#535353 246.5px,#3b3b3b 278.5px,#343434 316.5px,#414141 341.5px,#555 353.5px,#696969 359.5px,#7d7d7d 374.5px,#8b8b8b 396.5px,#a4a4a4 408.5px,#afafaf 411.5px,#c1c1c1 433.5px,#c3c3c3 474.5px,#b3b3b3 510.5px,#a2a2a2 524.5px,#8f8f8f 532.5px,#818181 551.5px,#7f7f7f 761.5px)"></i><i style="background:linear-gradient(90deg,#7f7f7f 0.5px,#7e7e7e 212.5px,#6f6f6f 233.5px,#535353 247.5px,#3b3b3b 279.5px,#353535 316.5px,#424242 341.5px,#545454 352.5px,#6a6a6a 359.5px,#7e7e7e 375.5px,#8a8a8a 396.5px,#a2a2a2 408.5px,#afafaf 412.5px,#c1c1c1 434.5px,#c3c3c3 475.5px,#b2b2b2 510.5px,#a1a1a1 524.5px,#909090 531.5px,#818181 550.5px,#7f7f7f 761.5px)"></i><i style="background:linear-gradient(90deg,#7f7f7f 0.5px,#7e7e7e 212.5px,#6f6f6f 234.5px,#525252 249.5px,#3b3b3b 282.5px,#353535 317.5px,#444 342.5px,#555 352.5px,#6b6b6b 359.5px,#7e7e7e 376.5px,#8a8a8a 396.5px,#a0a0a0 408.5px,#aeaeae 412.5px,#bfbfbf 432.5px,#c2c2c2 473.5px,#b2b2b2 510.5px,#a1a1a1 523.5px,#8f8f8f 531.5px,#818181 551.5px,#7f7f7f 761.5px)"></i><i style="background:linear-gradient(90deg,#7f7f7f 0.5px,#7e7e7e 213.5px,#6f6f6f 235.5px,#525252 250.5px,#3c3c3c 283.5px,#363636 317.5px,#454545 342.5px,#575757 352.5px,#6a6a6a 358.5px,#7d7d7d 374.5px,#8a8a8a 397.5px,#a1a1a1 409.5px,#afafaf 413.5px,#c0c0c0 435.5px,#c1c1c1 475.5px,#b1b1b1 510.5px,#a2a2a2 522.5px,#8f8f8f 530.5px,#818181 550.5px,#7f7f7f 761.5px)"></i><i style="background:linear-gradient(90deg,#7f7f7f 0.5px,#7e7e7e 214.5px,#6f6f6f 236.5px,#515151 252.5px,#3b3b3b 286.5px,#373737 318.5px,#464646 342.5px,#565656 351.5px,#6b6b6b 358.5px,#7d7d7d 374.5px,#8a8a8a 397.5px,#a0a0a0 409.5px,#afafaf 414.5px,#bfbfbf 435.5px,#c1c1c1 475.5px,#b0b0b0 510.5px,#a2a2a2 521.5px,#909090 529.5px,#828282 548.5px,#7f7f7f 761.5px)"></i><i style="background:linear-gradient(90deg,#7f7f7f 0.5px,#7e7e7e 215.5px,#6f6f6f 237.5px,#525252 253.5px,#3c3c3c 287.5px,#383838 319.5px,#484848 343.5px,#585858 351.5px,#686868 356.5px,#7b7b7b 370.5px,#8a8a8a 398.5px,#a3a3a3 411.5px,#afafaf 415.5px,#bfbfbf 438.5px,#c0c0c0 476.5px,#afafaf 510.5px,#a1a1a1 521.5px,#909090 528.5px,#828282 547.5px,#7e7e7e 761.5px)"></i><i style="background:linear-gradient(90deg,#7f7f7f 0.5px,#7e7e7e 215.5px,#6f6f6f 238.5px,#515151 255.5px,#3c3c3c 289.5px,#393939 320.5px,#494949 343.5px,#575757 350.5px,#6b6b6b 357.5px,#7d7d7d 373.5px,#8a8a8a 398.5px,#a1a1a1 411.5px,#afafaf 416.5px,#bebebe 439.5px,#bfbfbf 476.5px,#aeaeae 510.5px,#a1a1a1 520.5px,#8f8f8f 528.5px,#818181 548.5px,#7f7f7f 761.5px)"></i><i style="background:linear-gradient(90deg,#7f7f7f 0.5px,#7e7e7e 216.5px,#6f6f6f 239.5px,#525252 256.5px,#3d3d3d 289.5px,#3a3a3a 319.5px,#4a4a4a 343.5px,#595959 350.5px,#6c6c6c 357.5px,#7e7e7e 374.5px,#898989 398.5px,#a1a1a1 412.5px,#aeaeae 416.5px,#bdbdbd 438.5px,#bebebe 476.5px,#aeaeae 510.5px,#a1a1a1 519.5px,#8f8f8f 527.5px,#818181 548.5px,#808080 761.5px)"></i><i style="background:linear-gradient(90deg,#7f7f7f 0.5px,#7e7e7e 217.5px,#6e6e6e 241.5px,#515151 258.5px,#3d3d3d 293.5px,#3c3c3c 322.5px,#4e4e4e 345.5px,#6d6d6d 357.5px,#7e7e7e 375.5px,#898989 399.5px,#a1a1a1 413.5px,#aeaeae 417.5px,#bdbdbd 440.5px,#bdbdbd 477.5px,#acacac 511.5px,#9f9f9f 519.5px,#919191 525.5px,#828282 544.5px,#7e7e7e 693.5px,#808080 761.5px)"></i><i style="background:linear-gradient(90deg,#7f7f7f 0.5px,#7e7e7e 218.5px,#6e6e6e 242.5px,#525252 259.5px,#3d3d3d 294.5px,#3d3d3d 323.5px,#505050 345.5px,#6b6b6b 355.5px,#7d7d7d 372.5px,#898989 399.5px,#9f9f9f 413.5px,#afafaf 419.5px,#bdbdbd 445.5px,#bbb 480.5px,#aaa 512.5px,#8c8c8c 528.5px,#808080 553.5px,#808080 761.5px)"></i><i style="background:linear-gradient(90deg,#7f7f7f 0.5px,#7e7e7e 219.5px,#6e6e6e 243.5px,#515151 261.5px,#3d3d3d 297.5px,#404040 325.5px,#515151 345.5px,#686868 353.5px,#7b7b7b 369.5px,#8a8a8a 401.5px,#a2a2a2 415.5px,#afafaf 420.5px,#bcbcbc 447.5px,#bababa 482.5px,#a8a8a8 513.5px,#909090 524.5px,#818181 546.5px,#808080 761.5px)"></i><i style="background:linear-gradient(90deg,#7f7f7f 0.5px,#7e7e7e 220.5px,#6e6e6e 245.5px,#515151 263.5px,#3d3d3d 301.5px,#434343 330.5px,#545454 345.5px,#6c6c6c 354.5px,#7d7d7d 372.5px,#898989 400.5px,#9f9f9f 415.5px,#b0b0b0 422.5px,#bcbcbc 455.5px,#b3b3b3 496.5px,#a3a3a3 514.5px,#909090 523.5px,#818181 544.5px,#7f7f7f 761.5px)"></i><i style="background:linear-gradient(90deg,#7f7f7f 0.5px,#7e7e7e 220.5px,#6e6e6e 246.5px,#515151 265.5px,#3e3e3e 303.5px,#454545 331.5px,#545454 344.5px,#6b6b6b 353.5px,#7d7d7d 371.5px,#898989 401.5px,#a1a1a1 417.5px,#afafaf 423.5px,#bbb 456.5px,#b2b2b2 497.5px,#a3a3a3 513.5px,#909090 522.5px,#818181 544.5px,#7f7f7f 761.5px)"></i><i style="background:linear-gradient(90deg,#7f7f7f 0.5px,#7e7e7e 221.5px,#6e6e6e 247.5px,#515151 267.5px,#3f3f3f 305.5px,#484848 333.5px,#575757 344.5px,#6b6b6b 352.5px,#7d7d7d 371.5px,#888 401.5px,#a0a0a0 418.5px,#afafaf 425.5px,#bbb 461.5px,#adadad 503.5px,#a0a0a0 513.5px,#8e8e8e 523.5px,#808080 547.5px,#808080 761.5px)"></i><i style="background:linear-gradient(90deg,#7f7f7f 0.5px,#7e7e7e 222.5px,#6e6e6e 249.5px,#515151 269.5px,#404040 307.5px,#4a4a4a 334.5px,#575757 343.5px,#696969 350.5px,#7c7c7c 368.5px,#898989 403.5px,#a4a4a4 421.5px,#afafaf 427.5px,#bababa 465.5px,#aaa 505.5px,#8c8c8c 524.5px,#808080 551.5px,#808080 761.5px)"></i><i style="background:linear-gradient(90deg,#7f7f7f 0.5px,#7e7e7e 223.5px,#6e6e6e 251.5px,#505050 272.5px,#414141 309.5px,#4e4e4e 336.5px,#727272 355.5px,#818181 381.5px,#888 402.5px,#a1a1a1 421.5px,#aeaeae 428.5px,#b8b8b8 464.5px,#aaa 504.5px,#8d8d8d 522.5px,#808080 548.5px,#808080 761.5px)"></i><i style="background:linear-gradient(90deg,#7f7f7f 0.5px,#7e7e7e 225.5px,#6d6d6d 253.5px,#505050 274.5px,#434343 310.5px,#4f4f4f 336.5px,#6f6f6f 352.5px,#7f7f7f 374.5px,#888 403.5px,#a3a3a3 424.5px,#afafaf 431.5px,#b7b7b7 468.5px,#a8a8a8 504.5px,#909090 518.5px,#818181 542.5px,#7f7f7f 761.5px)"></i><i style="background:linear-gradient(90deg,#7f7f7f 0.5px,#7e7e7e 226.5px,#6d6d6d 255.5px,#515151 276.5px,#444 310.5px,#505050 335.5px,#6f6f6f 351.5px,#7f7f7f 374.5px,#888 404.5px,#a9a9a9 430.5px,#afafaf 434.5px,#b5b5b5 470.5px,#a7a7a7 502.5px,#8c8c8c 520.5px,#808080 548.5px,#808080 761.5px)"></i><i style="background:linear-gradient(90deg,#7f7f7f 0.5px,#7e7e7e 227.5px,#6d6d6d 257.5px,#505050 279.5px,#464646 312.5px,#535353 335.5px,#656565 343.5px,#7a7a7a 363.5px,#898989 406.5px,#afafaf 438.5px,#b3b3b3 473.5px,#a7a7a7 500.5px,#8b8b8b 520.5px,#808080 549.5px,#808080 761.5px)"></i><i style="background:linear-gradient(90deg,#7f7f7f 0.5px,#7e7e7e 228.5px,#6c6c6c 259.5px,#505050 282.5px,#484848 313.5px,#535353 333.5px,#6e6e6e 348.5px,#7f7f7f 372.5px,#878787 405.5px,#b0b0b0 442.5px,#b1b1b1 475.5px,#a6a6a6 498.5px,#8a8a8a 520.5px,#7f7f7f 552.5px,#808080 761.5px)"></i><i style="background:linear-gradient(90deg,#7f7f7f 0.5px,#7e7e7e 229.5px,#6c6c6c 261.5px,#505050 285.5px,#494949 314.5px,#555 332.5px,#6f6f6f 348.5px,#7f7f7f 374.5px,#878787 405.5px,#afafaf 446.5px,#afafaf 478.5px,#a4a4a4 497.5px,#898989 520.5px,#7f7f7f 555.5px,#808080 761.5px)"></i><i style="background:linear-gradient(90deg,#7f7f7f 0.5px,#7e7e7e 230.5px,#6c6c6c 263.5px,#505050 289.5px,#4b4b4b 316.5px,#565656 330.5px,#717171 349.5px,#808080 378.5px,#878787 406.5px,#afafaf 451.5px,#acacac 484.5px,#868686 525.5px,#7e7e7e 577.5px,#808080 761.5px)"></i><i style="background:linear-gradient(90deg,#7f7f7f 0.5px,#7e7e7e 231.5px,#6c6c6c 265.5px,#505050 293.5px,#4e4e4e 318.5px,#5a5a5a 331.5px,#737373 349.5px,#818181 381.5px,#868686 407.5px,#aeaeae 455.5px,#a9a9a9 483.5px,#858585 525.5px,#7e7e7e 582.5px,#808080 761.5px)"></i><i style="background:linear-gradient(90deg,#7f7f7f 0.5px,#7e7e7e 233.5px,#6b6b6b 269.5px,#505050 297.5px,#515151 320.5px,#767676 352.5px,#8a8a8a 414.5px,#a9a9a9 453.5px,#ababab 472.5px,#838383 529.5px,#7e7e7e 622.5px,#808080 761.5px)"></i><i style="background:linear-gradient(90deg,#7f7f7f 0.5px,#7e7e7e 234.5px,#6b6b6b 271.5px,#505050 303.5px,#555 320.5px,#777 352.5px,#8a8a8a 415.5px,#a6a6a6 455.5px,#a3a3a3 481.5px,#838383 527.5px,#7e7e7e 613.5px,#808080 761.5px)"></i><i style="background:linear-gradient(90deg,#7f7f7f 0.5px,#7e7e7e 235.5px,#6b6b6b 274.5px,#545454 303.5px,#575757 318.5px,#797979 354.5px,#898989 415.5px,#a3a3a3 456.5px,#9f9f9f 483.5px,#838383 528.5px,#7e7e7e 652.5px,#808080 761.5px)"></i><i style="background:linear-gradient(90deg,#7f7f7f 0.5px,#7e7e7e 237.5px,#6a6a6a 279.5px,#585858 303.5px,#5c5c5c 320.5px,#797979 354.5px,#898989 417.5px,#9f9f9f 456.5px,#9c9c9c 484.5px,#828282 529.5px,#7e7e7e 720.5px,#808080 761.5px)"></i><i style="background:linear-gradient(90deg,#7f7f7f 0.5px,#7e7e7e 238.5px,#696969 284.5px,#5c5c5c 302.5px,#606060 321.5px,#7a7a7a 355.5px,#888 417.5px,#9d9d9d 458.5px,#969696 490.5px,#828282 529.5px,#7e7e7e 761.5px)"></i><i style="background:linear-gradient(90deg,#7f7f7f 0.5px,#7d7d7d 240.5px,#646464 296.5px,#5e5e5e 307.5px,#6c6c6c 334.5px,#7b7b7b 355.5px,#888 419.5px,#9a9a9a 458.5px,#939393 492.5px,#818181 530.5px,#7f7f7f 761.5px)"></i><i style="background:linear-gradient(90deg,#7f7f7f 0.5px,#7e7e7e 241.5px,#616161 310.5px,#7e7e7e 364.5px,#868686 417.5px,#989898 460.5px,#8e8e8e 501.5px,#818181 530.5px,#808080 761.5px)"></i><i style="height:2px;background:linear-gradient(90deg,#7f7f7f 0.5px,#7d7d7d 244.5px,#656565 310.5px,#7f7f7f 366.5px,#868686 419.5px,#959595 461.5px,#878787 516.5px,#7f7f7f 542.5px,#808080 761.5px)"></i><i style="height:2px;background:linear-gradient(90deg,#7f7f7f 0.5px,#7d7d7d 247.5px,#6a6a6a 311.5px,#7f7f7f 369.5px,#868686 422.5px,#929292 463.5px,#7f7f7f 548.5px,#808080 761.5px)"></i><i style="height:2px;background:linear-gradient(90deg,#7f7f7f 0.5px,#7d7d7d 251.5px,#6e6e6e 312.5px,#808080 372.5px,#858585 426.5px,#8e8e8e 465.5px,#7e7e7e 552.5px,#808080 761.5px)"></i><i style="height:2px;background:linear-gradient(90deg,#7f7f7f 0.5px,#7d7d7d 255.5px,#717171 313.5px,#808080 376.5px,#858585 432.5px,#8c8c8c 469.5px,#7e7e7e 554.5px,#808080 761.5px)"></i><i style="height:3px;background:linear-gradient(90deg,#7f7f7f 0.5px,#7d7d7d 260.5px,#747474 316.5px,#818181 379.5px,#858585 444.5px,#898989 477.5px,#7e7e7e 556.5px,#808080 761.5px)"></i><i style="height:4px;background:linear-gradient(90deg,#7f7f7f 0.5px,#7d7d7d 270.5px,#777 318.5px,#818181 391.5px,#858585 492.5px,#7e7e7e 563.5px,#808080 761.5px)"></i><i style="height:6px;background:linear-gradient(90deg,#7f7f7f 0.5px,#7d7d7d 288.5px,#7a7a7a 328.5px,#838383 423.5px,#7e7e7e 761.5px)"></i><i style="height:16px;background:linear-gradient(90deg,#7f7f7f 0.5px,#7f7f7f 447.5px,#818181 577.5px,#7f7f7f 761.5px)"></i><i style="height:21px;background:#7f7f7f"></i></div>
<div class="f r" style="left:67px;top:561px;width:762px;height:195px"><i style="background:linear-gradient(90deg,#808080 0.5px,#828282 126.5px,#949494 167.5px,#a5a5a5 175.5px,#bfbfbf 180.5px,#fdfdfd 203.5px,#fff 219.5px,#fefefe 340.5px,#e9e9e9 352.5px,#a8a8a8 373.5px,#8e8e8e 377.5px,#666 386.5px,#525252 389.5px,#101010 412.5px,#000 425.5px,#010101 563.5px,#171717 575.5px,#535353 594.5px,#6a6a6a 598.5px,#7b7b7b 606.5px,#818181 636.5px,#7f7f7f 761.5px)"></i><i style="height:2px;background:linear-gradient(90deg,#808080 0.5px,#828282 125.5px,#959595 167.5px,#a5a5a5 175.5px,#bfbfbf 180.5px,#fcfcfc 203.5px,#fff 214.5px,#fefefe 339.5px,#e7e7e7 352.5px,#aaa 372.5px,#8d8d8d 377.5px,#646464 387.5px,#515151 390.5px,#0d0d0d 414.5px,#000 427.5px,#010101 562.5px,#171717 574.5px,#535353 594.5px,#666 597.5px,#787878 604.5px,#818181 623.5px,#7f7f7f 761.5px)"></i><i style="background:linear-gradient(90deg,#808080 0.5px,#828282 124.5px,#969696 168.5px,#a8a8a8 176.5px,#c2c2c2 181.5px,#fcfcfc 203.5px,#fff 211.5px,#fefefe 338.5px,#e8e8e8 351.5px,#a8a8a8 372.5px,#949494 375.5px,#666 387.5px,#505050 391.5px,#0d0d0d 415.5px,#000 428.5px,#010101 561.5px,#161616 573.5px,#555 594.5px,#676767 597.5px,#797979 604.5px,#818181 623.5px,#7f7f7f 761.5px)"></i><i style="background:linear-gradient(90deg,#808080 0.5px,#828282 123.5px,#969696 168.5px,#a8a8a8 176.5px,#c1c1c1 181.5px,#fbfbfb 203.5px,#fff 210.5px,#fefefe 337.5px,#e8e8e8 350.5px,#ababab 371.5px,#939393 375.5px,#686868 387.5px,#515151 391.5px,#0f0f0f 415.5px,#000 428.5px,#010101 561.5px,#1a1a1a 574.5px,#565656 594.5px,#686868 597.5px,#797979 604.5px,#818181 623.5px,#7f7f7f 761.5px)"></i><i style="background:linear-gradient(90deg,#808080 0.5px,#828282 123.5px,#989898 169.5px,#ababab 177.5px,#c1c1c1 181.5px,#fdfdfd 204.5px,#fff 223.5px,#fefefe 336.5px,#e9e9e9 349.5px,#a9a9a9 371.5px,#969696 374.5px,#666 388.5px,#4f4f4f 392.5px,#0e0e0e 416.5px,#000 429.5px,#010101 560.5px,#161616 572.5px,#535353 593.5px,#696969 597.5px,#7b7b7b 605.5px,#818181 633.5px,#7f7f7f 761.5px)"></i><i style="background:linear-gradient(90deg,#808080 0.5px,#828282 123.5px,#989898 169.5px,#aaa 177.5px,#c0c0c0 181.5px,#fcfcfc 204.5px,#fff 215.5px,#fefefe 335.5px,#e7e7e7 349.5px,#ababab 370.5px,#909090 375.5px,#686868 388.5px,#515151 392.5px,#0d0d0d 417.5px,#000 430.5px,#010101 559.5px,#151515 571.5px,#555 593.5px,#6a6a6a 597.5px,#7a7a7a 605.5px,#818181 631.5px,#7f7f7f 761.5px)"></i><i style="background:linear-gradient(90deg,#808080 0.5px,#828282 123.5px,#989898 169.5px,#aaa 177.5px,#c3c3c3 182.5px,#fcfcfc 204.5px,#fff 211.5px,#fefefe 334.5px,#e8e8e8 348.5px,#aaa 370.5px,#929292 374.5px,#696969 388.5px,#505050 393.5px,#0d0d0d 418.5px,#000 431.5px,#010101 558.5px,#141414 570.5px,#535353 592.5px,#6c6c6c 597.5px,#7c7c7c 606.5px,#818181 644.5px,#7f7f7f 761.5px)"></i><i style="background:linear-gradient(90deg,#808080 0.5px,#828282 122.5px,#989898 169.5px,#a9a9a9 177.5px,#c2c2c2 182.5px,#fdfdfd 205.5px,#fff 223.5px,#fdfdfd 333.5px,#e8e8e8 347.5px,#acacac 369.5px,#929292 374.5px,#6b6b6b 388.5px,#515151 393.5px,#0f0f0f 418.5px,#000 432.5px,#010101 557.5px,#131313 569.5px,#555 592.5px,#6a6a6a 596.5px,#7b7b7b 605.5px,#818181 637.5px,#7f7f7f 761.5px)"></i><i style="background:linear-gradient(90deg,#808080 0.5px,#828282 122.5px,#999 170.5px,#acacac 178.5px,#c1c1c1 182.5px,#fcfcfc 205.5px,#fff 214.5px,#fefefe 331.5px,#ebebeb 345.5px,#aaa 369.5px,#989898 372.5px,#767676 384.5px,#696969 389.5px,#505050 394.5px,#0e0e0e 419.5px,#000 433.5px,#010101 556.5px,#131313 568.5px,#535353 591.5px,#6c6c6c 596.5px,#7b7b7b 605.5px,#818181 638.5px,#7f7f7f 761.5px)"></i><i style="background:linear-gradient(90deg,#808080 0.5px,#828282 122.5px,#999 170.5px,#ababab 178.5px,#c0c0c0 182.5px,#fbfbfb 205.5px,#fff 215.5px,#fefefe 330.5px,#e9e9e9 345.5px,#acacac 368.5px,#929292 373.5px,#6b6b6b 389.5px,#4e4e4e 395.5px,#0e0e0e 420.5px,#000 434.5px,#020202 555.5px,#141414 568.5px,#565656 591.5px,#666 594.5px,#797979 602.5px,#818181 624.5px,#7f7f7f 761.5px)"></i><i style="background:linear-gradient(90deg,#808080 0.5px,#828282 122.5px,#989898 170.5px,#a9a9a9 178.5px,#c3c3c3 183.5px,#fafafa 205.5px,#fff 216.5px,#fdfdfd 329.5px,#e9e9e9 344.5px,#a9a9a9 368.5px,#989898 371.5px,#7e7e7e 381.5px,#707070 388.5px,#4d4d4d 396.5px,#0e0e0e 421.5px,#000 435.5px,#010101 553.5px,#141414 567.5px,#535353 590.5px,#686868 594.5px,#797979 602.5px,#818181 624.5px,#7f7f7f 761.5px)"></i><i style="background:linear-gradient(90deg,#808080 0.5px,#828282 122.5px,#999 171.5px,#acacac 179.5px,#c2c2c2 183.5px,#f8f8f8 205.5px,#fff 218.5px,#fdfdfd 327.5px,#e9e9e9 343.5px,#ababab 367.5px,#969696 371.5px,#7c7c7c 382.5px,#717171 388.5px,#595959 394.5px,#4f4f4f 396.5px,#0d0d0d 422.5px,#000 436.5px,#020202 552.5px,#151515 567.5px,#565656 590.5px,#6b6b6b 594.5px,#7c7c7c 604.5px,#818181 648.5px,#7f7f7f 761.5px)"></i><i style="background:linear-gradient(90deg,#808080 0.5px,#828282 123.5px,#999 171.5px,#ababab 179.5px,#c0c0c0 183.5px,#f7f7f7 205.5px,#fff 220.5px,#fefefe 325.5px,#ebebeb 341.5px,#adadad 366.5px,#949494 371.5px,#7c7c7c 382.5px,#707070 389.5px,#4e4e4e 397.5px,#0d0d0d 423.5px,#000 437.5px,#010101 550.5px,#151515 566.5px,#545454 589.5px,#646464 592.5px,#777 599.5px,#808080 616.5px,#7f7f7f 761.5px)"></i><i style="background:linear-gradient(90deg,#808080 0.5px,#828282 123.5px,#999 172.5px,#aaa 179.5px,#c2c2c2 184.5px,#f5f5f5 205.5px,#fff 221.5px,#fdfdfd 324.5px,#ebebeb 340.5px,#aeaeae 365.5px,#929292 371.5px,#6e6e6e 390.5px,#4c4c4c 398.5px,#0d0d0d 424.5px,#000 438.5px,#020202 549.5px,#151515 565.5px,#525252 588.5px,#6b6b6b 593.5px,#7b7b7b 602.5px,#818181 634.5px,#7f7f7f 761.5px)"></i><i style="background:linear-gradient(90deg,#808080 0.5px,#828282 123.5px,#999 172.5px,#acacac 180.5px,#c1c1c1 184.5px,#f3f3f3 205.5px,#fff 223.5px,#fdfdfd 321.5px,#ececec 338.5px,#b2b2b2 363.5px,#919191 371.5px,#6d6d6d 391.5px,#4f4f4f 398.5px,#0d0d0d 425.5px,#000 440.5px,#020202 547.5px,#151515 564.5px,#535353 588.5px,#656565 591.5px,#787878 599.5px,#808080 620.5px,#7f7f7f 761.5px)"></i><i style="background:linear-gradient(90deg,#808080 0.5px,#828282 123.5px,#989898 172.5px,#aaa 180.5px,#c3c3c3 185.5px,#f0f0f0 205.5px,#fff 225.5px,#fdfdfd 319.5px,#ececec 337.5px,#b3b3b3 362.5px,#8f8f8f 371.5px,#6f6f6f 391.5px,#4d4d4d 399.5px,#0d0d0d 426.5px,#000 441.5px,#020202 545.5px,#141414 562.5px,#434343 582.5px,#575757 588.5px,#676767 591.5px,#797979 599.5px,#818181 623.5px,#7f7f7f 761.5px)"></i><i style="background:linear-gradient(90deg,#808080 0.5px,#828282 123.5px,#999 173.5px,#acacac 181.5px,#c1c1c1 185.5px,#eee 205.5px,#fff 226.5px,#fdfdfd 317.5px,#ebebeb 336.5px,#b1b1b1 362.5px,#939393 369.5px,#7f7f7f 380.5px,#737373 390.5px,#5a5a5a 397.5px,#4f4f4f 399.5px,#0c0c0c 427.5px,#000 442.5px,#020202 543.5px,#151515 561.5px,#454545 582.5px,#5a5a5a 588.5px,#696969 591.5px,#797979 599.5px,#818181 623.5px,#7f7f7f 761.5px)"></i><i style="background:linear-gradient(90deg,#808080 0.5px,#828282 123.5px,#989898 173.5px,#aaa 181.5px,#bfbfbf 185.5px,#eaeaea 204.5px,#fefefe 225.5px,#fdfdfd 314.5px,#ececec 334.5px,#b7b7b7 359.5px,#a6a6a6 364.5px,#949494 368.5px,#808080 379.5px,#747474 390.5px,#5d5d5d 397.5px,#4f4f4f 400.5px,#0c0c0c 428.5px,#000 444.5px,#020202 541.5px,#151515 560.5px,#444 581.5px,#585858 587.5px,#676767 590.5px,#797979 598.5px,#818181 621.5px,#7f7f7f 761.5px)"></i><i style="background:linear-gradient(90deg,#808080 0.5px,#828282 123.5px,#999 174.5px,#acacac 182.5px,#c1c1c1 186.5px,#e9e9e9 205.5px,#fdfdfd 226.5px,#fff 297.5px,#f5f5f5 325.5px,#d9d9d9 343.5px,#acacac 362.5px,#959595 367.5px,#818181 378.5px,#757575 390.5px,#606060 397.5px,#515151 400.5px,#0e0e0e 428.5px,#000 443.5px,#010101 538.5px,#131313 557.5px,#3e3e3e 578.5px,#565656 586.5px,#6a6a6a 590.5px,#7b7b7b 599.5px,#818181 632.5px,#7f7f7f 761.5px)"></i><i style="background:linear-gradient(90deg,#808080 0.5px,#828282 124.5px,#989898 174.5px,#aaa 182.5px,#bfbfbf 186.5px,#e8e8e8 206.5px,#fcfcfc 228.5px,#fff 283.5px,#f9f9f9 317.5px,#e4e4e4 336.5px,#adadad 361.5px,#999 365.5px,#858585 374.5px,#747474 391.5px,#5f5f5f 398.5px,#505050 401.5px,#0e0e0e 429.5px,#010101 445.5px,#010101 536.5px,#141414 556.5px,#404040 578.5px,#555 585.5px,#686868 589.5px,#797979 597.5px,#818181 619.5px,#7f7f7f 761.5px)"></i><i style="background:linear-gradient(90deg,#808080 0.5px,#828282 124.5px,#989898 175.5px,#a9a9a9 182.5px,#bfbfbf 187.5px,#e5e5e5 206.5px,#fbfbfb 228.5px,#fff 270.5px,#fbfbfb 311.5px,#e6e6e6 333.5px,#aeaeae 360.5px,#999 364.5px,#868686 373.5px,#747474 392.5px,#5e5e5e 399.5px,#4f4f4f 402.5px,#101010 429.5px,#020202 445.5px,#010101 531.5px,#121212 553.5px,#3d3d3d 576.5px,#585858 585.5px,#6b6b6b 589.5px,#7b7b7b 599.5px,#818181 639.5px,#7f7f7f 761.5px)"></i><i style="background:linear-gradient(90deg,#808080 0.5px,#828282 124.5px,#989898 175.5px,#aaa 183.5px,#bebebe 187.5px,#e4e4e4 207.5px,#f9f9f9 229.5px,#fff 270.5px,#fafafa 310.5px,#e5e5e5 332.5px,#aeaeae 359.5px,#979797 364.5px,#848484 374.5px,#757575 392.5px,#5d5d5d 400.5px,#525252 402.5px,#121212 429.5px,#030303 445.5px,#000 497.5px,#030303 535.5px,#181818 556.5px,#4c4c4c 581.5px,#6f6f6f 590.5px,#7e7e7e 602.5px,#808080 761.5px)"></i><i style="background:linear-gradient(90deg,#808080 0.5px,#828282 124.5px,#989898 176.5px,#ababab 184.5px,#bebebe 188.5px,#e5e5e5 210.5px,#fafafa 233.5px,#fff 279.5px,#f5f5f5 315.5px,#dcdcdc 336.5px,#adadad 358.5px,#949494 364.5px,#828282 375.5px,#767676 392.5px,#606060 400.5px,#4e4e4e 404.5px,#111 431.5px,#020202 450.5px,#000 518.5px,#0d0d0d 545.5px,#2d2d2d 566.5px,#555 583.5px,#686868 587.5px,#7a7a7a 596.5px,#818181 623.5px,#7f7f7f 761.5px)"></i><i style="background:linear-gradient(90deg,#808080 0.5px,#828282 125.5px,#979797 176.5px,#a8a8a8 184.5px,#bfbfbf 189.5px,#e6e6e6 213.5px,#f9f9f9 236.5px,#fff 279.5px,#f3f3f3 314.5px,#d9d9d9 336.5px,#ababab 358.5px,#9b9b9b 361.5px,#878787 370.5px,#757575 393.5px,#606060 401.5px,#515151 404.5px,#151515 430.5px,#050505 447.5px,#000 493.5px,#050505 533.5px,#1c1c1c 555.5px,#505050 581.5px,#6b6b6b 587.5px,#7b7b7b 597.5px,#818181 635.5px,#7f7f7f 761.5px)"></i><i style="background:linear-gradient(90deg,#808080 0.5px,#828282 125.5px,#979797 177.5px,#a9a9a9 185.5px,#bcbcbc 189.5px,#e1e1e1 211.5px,#f6f6f6 234.5px,#fff 274.5px,#f4f4f4 311.5px,#d8d8d8 335.5px,#ababab 357.5px,#989898 361.5px,#858585 371.5px,#767676 393.5px,#636363 401.5px,#505050 405.5px,#161616 431.5px,#050505 450.5px,#000 498.5px,#080808 534.5px,#202020 556.5px,#535353 581.5px,#636363 584.5px,#777 592.5px,#808080 610.5px,#7f7f7f 761.5px)"></i><i style="background:linear-gradient(90deg,#808080 0.5px,#828282 125.5px,#969696 177.5px,#a9a9a9 186.5px,#bcbcbc 190.5px,#e5e5e5 217.5px,#f9f9f9 245.5px,#fdfdfd 284.5px,#ededed 316.5px,#cdcdcd 340.5px,#ababab 356.5px,#959595 361.5px,#838383 372.5px,#767676 394.5px,#626262 402.5px,#505050 406.5px,#161616 432.5px,#050505 454.5px,#000 502.5px,#0a0a0a 534.5px,#252525 557.5px,#535353 580.5px,#666 584.5px,#797979 593.5px,#818181 616.5px,#7f7f7f 761.5px)"></i><i style="background:linear-gradient(90deg,#808080 0.5px,#828282 126.5px,#969696 178.5px,#aaa 187.5px,#bbb 191.5px,#e7e7e7 221.5px,#fbfbfb 254.5px,#f9f9f9 293.5px,#e4e4e4 322.5px,#bdbdbd 347.5px,#a6a6a6 356.5px,#969696 360.5px,#858585 370.5px,#777 394.5px,#626262 403.5px,#4f4f4f 407.5px,#191919 432.5px,#070707 454.5px,#010101 498.5px,#0a0a0a 532.5px,#262626 556.5px,#535353 579.5px,#656565 583.5px,#787878 592.5px,#818181 614.5px,#7f7f7f 761.5px)"></i><i style="background:linear-gradient(90deg,#808080 0.5px,#828282 126.5px,#969696 179.5px,#aaa 188.5px,#bbb 192.5px,#e7e7e7 224.5px,#fbfbfb 259.5px,#f5f5f5 297.5px,#ddd 326.5px,#aeaeae 353.5px,#9c9c9c 357.5px,#888 366.5px,#767676 396.5px,#616161 404.5px,#4f4f4f 408.5px,#1c1c1c 432.5px,#090909 454.5px,#020202 493.5px,#0a0a0a 529.5px,#252525 554.5px,#535353 578.5px,#656565 582.5px,#797979 592.5px,#818181 619.5px,#7f7f7f 761.5px)"></i><i style="background:linear-gradient(90deg,#808080 0.5px,#828282 126.5px,#959595 179.5px,#a6a6a6 188.5px,#bcbcbc 194.5px,#e7e7e7 227.5px,#f9f9f9 261.5px,#f3f3f3 297.5px,#dadada 326.5px,#aeaeae 352.5px,#999 357.5px,#868686 367.5px,#777 396.5px,#616161 405.5px,#4e4e4e 409.5px,#1d1d1d 433.5px,#090909 457.5px,#040404 496.5px,#0c0c0c 529.5px,#2a2a2a 555.5px,#535353 577.5px,#686868 582.5px,#7b7b7b 593.5px,#818181 629.5px,#7f7f7f 761.5px)"></i><i style="background:linear-gradient(90deg,#808080 0.5px,#828282 127.5px,#959595 180.5px,#a6a6a6 189.5px,#b9b9b9 194.5px,#e3e3e3 226.5px,#f7f7f7 260.5px,#f2f2f2 295.5px,#d8d8d8 325.5px,#adadad 351.5px,#9b9b9b 355.5px,#878787 365.5px,#777 397.5px,#646464 405.5px,#4c4c4c 411.5px,#1d1d1d 435.5px,#080808 464.5px,#060606 510.5px,#161616 537.5px,#3d3d3d 565.5px,#545454 576.5px,#696969 581.5px,#7a7a7a 592.5px,#818181 624.5px,#7f7f7f 761.5px)"></i><i style="background:linear-gradient(90deg,#808080 0.5px,#828282 127.5px,#959595 181.5px,#a8a8a8 191.5px,#bababa 196.5px,#e3e3e3 229.5px,#f6f6f6 263.5px,#eee 297.5px,#d1d1d1 328.5px,#acacac 350.5px,#9b9b9b 354.5px,#868686 365.5px,#787878 397.5px,#646464 406.5px,#4e4e4e 411.5px,#202020 435.5px,#0a0a0a 465.5px,#080808 509.5px,#171717 536.5px,#404040 565.5px,#565656 575.5px,#6b6b6b 581.5px,#7c7c7c 593.5px,#818181 644.5px,#7f7f7f 761.5px)"></i><i style="background:linear-gradient(90deg,#808080 0.5px,#828282 128.5px,#949494 182.5px,#a7a7a7 192.5px,#b8b8b8 197.5px,#e0e0e0 229.5px,#f3f3f3 263.5px,#ececec 296.5px,#cecece 328.5px,#ababab 349.5px,#9a9a9a 353.5px,#868686 364.5px,#777 398.5px,#636363 407.5px,#515151 411.5px,#252525 433.5px,#0f0f0f 460.5px,#090909 494.5px,#121212 526.5px,#313131 554.5px,#535353 573.5px,#6b6b6b 580.5px,#7c7c7c 592.5px,#818181 639.5px,#7f7f7f 761.5px)"></i><i style="background:linear-gradient(90deg,#808080 0.5px,#828282 128.5px,#949494 183.5px,#a5a5a5 193.5px,#b6b6b6 198.5px,#ddd 229.5px,#f1f1f1 263.5px,#eaeaea 295.5px,#cbcbcb 328.5px,#acacac 347.5px,#949494 354.5px,#848484 366.5px,#787878 398.5px,#666 407.5px,#4e4e4e 413.5px,#262626 435.5px,#0f0f0f 465.5px,#0b0b0b 501.5px,#161616 529.5px,#3d3d3d 560.5px,#545454 572.5px,#696969 578.5px,#7b7b7b 590.5px,#818181 630.5px,#7f7f7f 761.5px)"></i><i style="background:linear-gradient(90deg,#808080 0.5px,#828282 129.5px,#939393 184.5px,#a7a7a7 195.5px,#b7b7b7 200.5px,#ddd 232.5px,#efefef 265.5px,#e6e6e6 297.5px,#c4c4c4 331.5px,#ababab 346.5px,#969696 352.5px,#858585 364.5px,#787878 399.5px,#666 408.5px,#4e4e4e 414.5px,#272727 436.5px,#0f0f0f 469.5px,#101010 513.5px,#242424 540.5px,#515151 570.5px,#6a6a6a 577.5px,#7c7c7c 590.5px,#818181 637.5px,#7f7f7f 761.5px)"></i><i style="background:linear-gradient(90deg,#808080 0.5px,#828282 130.5px,#939393 186.5px,#a8a8a8 197.5px,#b5b5b5 201.5px,#d8d8d8 231.5px,#ececec 264.5px,#e4e4e4 295.5px,#c3c3c3 330.5px,#aaa 345.5px,#939393 352.5px,#838383 366.5px,#797979 399.5px,#666 409.5px,#4e4e4e 415.5px,#2b2b2b 436.5px,#121212 469.5px,#121212 512.5px,#262626 539.5px,#525252 569.5px,#636363 573.5px,#777 584.5px,#808080 608.5px,#7f7f7f 761.5px)"></i><i style="background:linear-gradient(90deg,#808080 0.5px,#828282 130.5px,#939393 187.5px,#a8a8a8 199.5px,#b5b5b5 203.5px,#d7d7d7 233.5px,#e9e9e9 265.5px,#e1e1e1 296.5px,#bdbdbd 332.5px,#a8a8a8 344.5px,#959595 350.5px,#848484 363.5px,#797979 400.5px,#666 410.5px,#4f4f4f 416.5px,#2e2e2e 436.5px,#141414 470.5px,#151515 512.5px,#292929 539.5px,#525252 567.5px,#696969 574.5px,#7b7b7b 587.5px,#818181 627.5px,#7f7f7f 761.5px)"></i><i style="background:linear-gradient(90deg,#808080 0.5px,#828282 131.5px,#929292 188.5px,#a6a6a6 200.5px,#b3b3b3 204.5px,#d4d4d4 233.5px,#e7e7e7 265.5px,#dedede 296.5px,#b9b9b9 333.5px,#a9a9a9 342.5px,#929292 350.5px,#828282 366.5px,#7a7a7a 400.5px,#676767 411.5px,#4f4f4f 417.5px,#2f2f2f 437.5px,#161616 472.5px,#191919 514.5px,#303030 542.5px,#535353 566.5px,#686868 572.5px,#7a7a7a 585.5px,#818181 622.5px,#7f7f7f 761.5px)"></i><i style="background:linear-gradient(90deg,#808080 0.5px,#828282 132.5px,#929292 190.5px,#a6a6a6 202.5px,#b5b5b5 207.5px,#d8d8d8 242.5px,#e4e4e4 270.5px,#d6d6d6 302.5px,#b0b0b0 337.5px,#919191 349.5px,#828282 365.5px,#7b7b7b 400.5px,#696969 411.5px,#4d4d4d 419.5px,#2e2e2e 441.5px,#181818 476.5px,#1d1d1d 517.5px,#393939 547.5px,#555 565.5px,#6b6b6b 572.5px,#7c7c7c 587.5px,#818181 659.5px,#7f7f7f 761.5px)"></i><i style="background:linear-gradient(90deg,#808080 0.5px,#828282 132.5px,#919191 191.5px,#a6a6a6 204.5px,#b3b3b3 208.5px,#d4d4d4 241.5px,#e1e1e1 269.5px,#d4d4d4 301.5px,#afafaf 336.5px,#929292 347.5px,#818181 364.5px,#7b7b7b 401.5px,#6a6a6a 412.5px,#4e4e4e 420.5px,#313131 442.5px,#1b1b1b 477.5px,#212121 518.5px,#404040 550.5px,#545454 563.5px,#6c6c6c 571.5px,#7d7d7d 587.5px,#818181 681.5px,#7f7f7f 761.5px)"></i><i style="background:linear-gradient(90deg,#808080 0.5px,#828282 133.5px,#909090 192.5px,#a4a4a4 205.5px,#b3b3b3 210.5px,#d5d5d5 247.5px,#ddd 273.5px,#cdcdcd 306.5px,#adadad 335.5px,#949494 344.5px,#838383 360.5px,#7a7a7a 402.5px,#686868 414.5px,#4f4f4f 421.5px,#343434 442.5px,#1e1e1e 478.5px,#242424 519.5px,#454545 552.5px,#575757 562.5px,#6b6b6b 569.5px,#7c7c7c 584.5px,#818181 640.5px,#7f7f7f 761.5px)"></i><i style="background:linear-gradient(90deg,#808080 0.5px,#828282 134.5px,#909090 194.5px,#a4a4a4 207.5px,#b3b3b3 212.5px,#d5d5d5 252.5px,#d9d9d9 277.5px,#c5c5c5 311.5px,#aaa 334.5px,#959595 342.5px,#838383 358.5px,#7a7a7a 403.5px,#686868 415.5px,#4e4e4e 423.5px,#323232 448.5px,#212121 480.5px,#282828 520.5px,#4a4a4a 553.5px,#595959 561.5px,#6c6c6c 568.5px,#7c7c7c 584.5px,#818181 665.5px,#7f7f7f 761.5px)"></i><i style="background:linear-gradient(90deg,#808080 0.5px,#828282 135.5px,#909090 196.5px,#a4a4a4 209.5px,#b2b2b2 214.5px,#d4d4d4 256.5px,#d4d4d4 283.5px,#bbb 319.5px,#a9a9a9 332.5px,#959595 340.5px,#838383 357.5px,#7a7a7a 404.5px,#696969 416.5px,#4e4e4e 425.5px,#303030 454.5px,#242424 483.5px,#2c2c2c 521.5px,#4e4e4e 554.5px,#6f6f6f 568.5px,#7e7e7e 586.5px,#808080 761.5px)"></i><i style="background:linear-gradient(90deg,#808080 0.5px,#828282 136.5px,#8f8f8f 197.5px,#a1a1a1 210.5px,#b2b2b2 217.5px,#d2d2d2 259.5px,#d0d0d0 286.5px,#b3b3b3 323.5px,#a3a3a3 332.5px,#929292 340.5px,#828282 359.5px,#7b7b7b 404.5px,#6a6a6a 417.5px,#4f4f4f 426.5px,#323232 456.5px,#272727 484.5px,#2f2f2f 521.5px,#515151 554.5px,#6b6b6b 564.5px,#7c7c7c 581.5px,#818181 658.5px,#7f7f7f 761.5px)"></i><i style="background:linear-gradient(90deg,#808080 0.5px,#828282 137.5px,#8e8e8e 199.5px,#a3a3a3 213.5px,#b1b1b1 219.5px,#cfcfcf 259.5px,#ccc 286.5px,#b0b0b0 323.5px,#8f8f8f 340.5px,#808080 362.5px,#7c7c7c 404.5px,#6b6b6b 418.5px,#4f4f4f 428.5px,#333 460.5px,#2a2a2a 488.5px,#343434 523.5px,#535353 553.5px,#606060 557.5px,#767676 571.5px,#808080 598.5px,#7f7f7f 761.5px)"></i><i style="background:linear-gradient(90deg,#808080 0.5px,#828282 138.5px,#8d8d8d 200.5px,#a2a2a2 215.5px,#b0b0b0 221.5px,#cbcbcb 259.5px,#c9c9c9 286.5px,#aeaeae 322.5px,#939393 335.5px,#828282 356.5px,#7b7b7b 406.5px,#6a6a6a 420.5px,#505050 430.5px,#343434 464.5px,#2e2e2e 493.5px,#393939 526.5px,#545454 551.5px,#636363 556.5px,#797979 572.5px,#818181 607.5px,#7f7f7f 761.5px)"></i><i style="background:linear-gradient(90deg,#808080 0.5px,#828282 139.5px,#8d8d8d 202.5px,#a4a4a4 219.5px,#b0b0b0 224.5px,#c9c9c9 261.5px,#c5c5c5 289.5px,#acacac 320.5px,#949494 332.5px,#828282 353.5px,#7b7b7b 407.5px,#676767 423.5px,#4f4f4f 433.5px,#333 471.5px,#353535 512.5px,#4b4b4b 542.5px,#5a5a5a 551.5px,#6a6a6a 558.5px,#7c7c7c 576.5px,#818181 641.5px,#7f7f7f 761.5px)"></i><i style="background:linear-gradient(90deg,#808080 0.5px,#828282 140.5px,#8c8c8c 203.5px,#a2a2a2 221.5px,#afafaf 227.5px,#c6c6c6 262.5px,#c1c1c1 290.5px,#aaa 318.5px,#999 326.5px,#848484 347.5px,#7b7b7b 409.5px,#676767 425.5px,#515151 435.5px,#373737 471.5px,#383838 512.5px,#4d4d4d 541.5px,#707070 560.5px,#7e7e7e 582.5px,#7f7f7f 761.5px)"></i><i style="background:linear-gradient(90deg,#808080 0.5px,#828282 141.5px,#8c8c8c 205.5px,#a5a5a5 226.5px,#afafaf 230.5px,#c3c3c3 264.5px,#bbb 296.5px,#a9a9a9 315.5px,#919191 329.5px,#818181 354.5px,#7c7c7c 409.5px,#676767 427.5px,#4f4f4f 439.5px,#383838 476.5px,#3d3d3d 518.5px,#535353 543.5px,#6a6a6a 553.5px,#7c7c7c 573.5px,#818181 645.5px,#7f7f7f 761.5px)"></i><i style="background:linear-gradient(90deg,#808080 0.5px,#828282 143.5px,#898989 187.5px,#8a8a8a 204.5px,#a0a0a0 226.5px,#b0b0b0 235.5px,#c0c0c0 266.5px,#b6b6b6 298.5px,#a7a7a7 313.5px,#929292 326.5px,#818181 353.5px,#7c7c7c 410.5px,#666 430.5px,#505050 442.5px,#3b3b3b 478.5px,#414141 520.5px,#555 541.5px,#686868 550.5px,#7c7c7c 571.5px,#818181 644.5px,#808080 761.5px)"></i><i style="background:linear-gradient(90deg,#808080 0.5px,#828282 144.5px,#888 189.5px,#8a8a8a 207.5px,#a0a0a0 230.5px,#b0b0b0 239.5px,#bdbdbd 267.5px,#b3b3b3 298.5px,#a5a5a5 311.5px,#8f8f8f 326.5px,#808080 356.5px,#7c7c7c 410.5px,#696969 431.5px,#505050 446.5px,#3e3e3e 479.5px,#454545 520.5px,#575757 539.5px,#6c6c6c 550.5px,#7d7d7d 573.5px,#818181 726.5px,#808080 761.5px)"></i><i style="background:linear-gradient(90deg,#808080 0.5px,#828282 146.5px,#888 189.5px,#888 207.5px,#9e9e9e 232.5px,#afafaf 243.5px,#bababa 270.5px,#adadad 302.5px,#999 314.5px,#848484 340.5px,#7b7b7b 414.5px,#636363 438.5px,#505050 450.5px,#414141 481.5px,#484848 521.5px,#575757 536.5px,#6f6f6f 550.5px,#7e7e7e 576.5px,#808080 761.5px)"></i><i style="background:linear-gradient(90deg,#808080 0.5px,#828282 148.5px,#878787 189.5px,#888 209.5px,#9d9d9d 235.5px,#b0b0b0 248.5px,#b6b6b6 275.5px,#a9a9a9 300.5px,#939393 316.5px,#818181 347.5px,#7c7c7c 414.5px,#646464 441.5px,#505050 454.5px,#444 483.5px,#4c4c4c 522.5px,#595959 534.5px,#6c6c6c 545.5px,#7d7d7d 570.5px,#818181 761.5px)"></i><i style="background:linear-gradient(90deg,#808080 0.5px,#828282 150.5px,#878787 191.5px,#878787 211.5px,#9d9d9d 239.5px,#afafaf 252.5px,#b2b2b2 279.5px,#a7a7a7 296.5px,#8e8e8e 318.5px,#808080 353.5px,#7d7d7d 414.5px,#666 443.5px,#4f4f4f 460.5px,#484848 488.5px,#515151 524.5px,#707070 546.5px,#7f7f7f 574.5px,#808080 761.5px)"></i><i style="background:linear-gradient(90deg,#808080 0.5px,#828282 152.5px,#888 217.5px,#a2a2a2 248.5px,#aeaeae 258.5px,#acacac 285.5px,#8a8a8a 320.5px,#7f7f7f 361.5px,#7d7d7d 415.5px,#666 447.5px,#505050 465.5px,#4b4b4b 495.5px,#505050 505.5px,#505050 516.5px,#5c5c5c 528.5px,#727272 545.5px,#7f7f7f 576.5px,#808080 761.5px)"></i><i style="background:linear-gradient(90deg,#808080 0.5px,#828282 155.5px,#888 219.5px,#ababab 266.5px,#a7a7a7 282.5px,#878787 323.5px,#7e7e7e 375.5px,#7d7d7d 416.5px,#676767 451.5px,#515151 470.5px,#525252 511.5px,#787878 551.5px,#818181 596.5px,#808080 761.5px)"></i><i style="background:linear-gradient(90deg,#7f7f7f 0.5px,#828282 158.5px,#878787 222.5px,#a4a4a4 265.5px,#9f9f9f 286.5px,#858585 324.5px,#7e7e7e 393.5px,#7d7d7d 420.5px,#656565 458.5px,#535353 476.5px,#575757 508.5px,#7a7a7a 553.5px,#818181 612.5px,#808080 761.5px)"></i><i style="background:linear-gradient(90deg,#7f7f7f 0.5px,#828282 164.5px,#878787 225.5px,#9e9e9e 266.5px,#979797 291.5px,#848484 324.5px,#7b7b7b 426.5px,#5a5a5a 479.5px,#5f5f5f 514.5px,#6f6f6f 531.5px,#7f7f7f 566.5px,#808080 761.5px)"></i><i style="background:linear-gradient(90deg,#7f7f7f 0.5px,#838383 214.5px,#999 268.5px,#8e8e8e 303.5px,#838383 323.5px,#7c7c7c 429.5px,#5f5f5f 480.5px,#666 517.5px,#7c7c7c 553.5px,#818181 656.5px,#808080 761.5px)"></i><i style="background:linear-gradient(90deg,#7f7f7f 0.5px,#838383 219.5px,#959595 269.5px,#808080 339.5px,#7d7d7d 428.5px,#656565 481.5px,#6b6b6b 520.5px,#7d7d7d 553.5px,#818181 726.5px,#808080 761.5px)"></i><i style="background:linear-gradient(90deg,#7f7f7f 0.5px,#838383 225.5px,#919191 270.5px,#7f7f7f 340.5px,#7d7d7d 432.5px,#696969 482.5px,#707070 525.5px,#7b7b7b 545.5px,#818181 633.5px,#808080 761.5px)"></i><i style="background:linear-gradient(90deg,#7f7f7f 0.5px,#838383 232.5px,#8e8e8e 271.5px,#7f7f7f 341.5px,#7d7d7d 435.5px,#6d6d6d 484.5px,#747474 529.5px,#7f7f7f 560.5px,#808080 761.5px)"></i><i style="background:linear-gradient(90deg,#7f7f7f 0.5px,#838383 240.5px,#8b8b8b 273.5px,#7e7e7e 340.5px,#7e7e7e 440.5px,#707070 485.5px,#797979 538.5px,#808080 569.5px,#808080 761.5px)"></i><i style="background:linear-gradient(90deg,#7f7f7f 0.5px,#838383 249.5px,#888 275.5px,#7e7e7e 338.5px,#7e7e7e 446.5px,#737373 486.5px,#818181 586.5px,#808080 761.5px)"></i><i style="background:linear-gradient(90deg,#7f7f7f 0.5px,#828282 260.5px,#858585 277.5px,#7e7e7e 338.5px,#7f7f7f 448.5px,#767676 490.5px,#818181 590.5px,#808080 761.5px)"></i><i style="background:linear-gradient(90deg,#7f7f7f 0.5px,#818181 295.5px,#7d7d7d 338.5px,#818181 446.5px,#797979 496.5px,#818181 575.5px,#808080 761.5px)"></i><i style="background:linear-gradient(90deg,#7f7f7f 0.5px,#808080 220.5px,#7e7e7e 273.5px,#818181 457.5px,#7b7b7b 501.5px,#818181 608.5px,#808080 761.5px)"></i><i style="background:linear-gradient(90deg,#7f7f7f 0.5px,#808080 213.5px,#7b7b7b 272.5px,#7d7d7d 293.5px,#7b7b7b 319.5px,#818181 387.5px,#818181 431.5px,#838383 465.5px,#7d7d7d 505.5px,#818181 627.5px,#808080 761.5px)"></i><i style="background:linear-gradient(90deg,#7f7f7f 0.5px,#808080 210.5px,#787878 271.5px,#7b7b7b 287.5px,#797979 314.5px,#818181 377.5px,#818181 422.5px,#868686 446.5px,#7f7f7f 547.5px,#808080 761.5px)"></i><i style="background:linear-gradient(90deg,#7f7f7f 0.5px,#808080 206.5px,#747474 270.5px,#787878 287.5px,#767676 311.5px,#818181 370.5px,#818181 418.5px,#888 446.5px,#7e7e7e 605.5px,#808080 761.5px)"></i><i style="background:linear-gradient(90deg,#7f7f7f 0.5px,#808080 204.5px,#717171 267.5px,#797979 334.5px,#818181 367.5px,#828282 416.5px,#8b8b8b 443.5px,#7e7e7e 618.5px,#808080 761.5px)"></i><i style="background:linear-gradient(90deg,#7f7f7f 0.5px,#7f7f7f 201.5px,#6d6d6d 266.5px,#757575 324.5px,#808080 359.5px,#828282 415.5px,#8d8d8d 440.5px,#8c8c8c 498.5px,#848484 524.5px,#7e7e7e 637.5px,#808080 761.5px)"></i><i style="background:linear-gradient(90deg,#7f7f7f 0.5px,#7f7f7f 199.5px,#696969 261.5px,#6e6e6e 311.5px,#797979 332.5px,#818181 387.5px,#828282 412.5px,#909090 440.5px,#919191 486.5px,#8c8c8c 501.5px,#8b8b8b 519.5px,#7f7f7f 573.5px,#808080 761.5px)"></i><i style="background:linear-gradient(90deg,#7f7f7f 0.5px,#7f7f7f 197.5px,#646464 260.5px,#676767 303.5px,#7f7f7f 354.5px,#828282 412.5px,#949494 440.5px,#949494 450.5px,#989898 470.5px,#7f7f7f 581.5px,#808080 761.5px)"></i><i style="background:linear-gradient(90deg,#7f7f7f 0.5px,#7f7f7f 195.5px,#686868 240.5px,#5d5d5d 255.5px,#5e5e5e 290.5px,#636363 298.5px,#636363 306.5px,#6c6c6c 317.5px,#7f7f7f 359.5px,#828282 410.5px,#989898 439.5px,#9e9e9e 475.5px,#999 485.5px,#989898 498.5px,#939393 505.5px,#8f8f8f 527.5px,#808080 571.5px,#808080 761.5px)"></i><i style="background:linear-gradient(90deg,#7f7f7f 0.5px,#7f7f7f 193.5px,#696969 233.5px,#555 254.5px,#575757 295.5px,#5b5b5b 297.5px,#5d5d5d 306.5px,#7c7c7c 348.5px,#848484 411.5px,#9d9d9d 437.5px,#9f9f9f 450.5px,#a5a5a5 464.5px,#9a9a9a 510.5px,#939393 518.5px,#7f7f7f 577.5px,#808080 761.5px)"></i><i style="background:linear-gradient(90deg,#7f7f7f 0.5px,#7f7f7f 192.5px,#676767 229.5px,#565656 244.5px,#505050 283.5px,#565656 308.5px,#5c5c5c 311.5px,#7c7c7c 351.5px,#838383 409.5px,#a3a3a3 437.5px,#a4a4a4 446.5px,#a9a9a9 449.5px,#acacac 476.5px,#a8a8a8 484.5px,#a8a8a8 493.5px,#a2a2a2 500.5px,#a0a0a0 510.5px,#989898 518.5px,#808080 573.5px,#808080 761.5px)"></i><i style="background:linear-gradient(90deg,#7f7f7f 0.5px,#7f7f7f 190.5px,#686868 223.5px,#555 238.5px,#4c4c4c 270.5px,#4f4f4f 279.5px,#4e4e4e 299.5px,#565656 316.5px,#646464 325.5px,#7c7c7c 353.5px,#838383 408.5px,#acacac 438.5px,#acacac 450.5px,#b0b0b0 460.5px,#a8a8a8 509.5px,#9f9f9f 517.5px,#9c9c9c 526.5px,#929292 537.5px,#808080 576.5px,#808080 761.5px)"></i><i style="background:linear-gradient(90deg,#7f7f7f 0.5px,#7e7e7e 189.5px,#696969 218.5px,#555 233.5px,#494949 266.5px,#4e4e4e 312.5px,#585858 323.5px,#757575 344.5px,#808080 370.5px,#828282 405.5px,#959595 420.5px,#acacac 430.5px,#b4b4b4 468.5px,#a7a7a7 521.5px,#a1a1a1 524.5px,#838383 568.5px,#7e7e7e 681.5px,#808080 761.5px)"></i><i style="background:linear-gradient(90deg,#7f7f7f 0.5px,#7e7e7e 187.5px,#6a6a6a 213.5px,#575757 226.5px,#474747 260.5px,#4a4a4a 309.5px,#565656 327.5px,#707070 342.5px,#7f7f7f 364.5px,#838383 405.5px,#969696 418.5px,#afafaf 428.5px,#b8b8b8 469.5px,#a9a9a9 525.5px,#868686 563.5px,#7e7e7e 611.5px,#808080 761.5px)"></i><i style="background:linear-gradient(90deg,#7f7f7f 0.5px,#7e7e7e 186.5px,#6a6a6a 209.5px,#575757 222.5px,#444 259.5px,#464646 309.5px,#545454 330.5px,#6c6c6c 342.5px,#7e7e7e 362.5px,#838383 404.5px,#959595 416.5px,#adadad 424.5px,#b8b8b8 443.5px,#b9b9b9 484.5px,#a7a7a7 535.5px,#8b8b8b 559.5px,#7f7f7f 591.5px,#808080 761.5px)"></i><i style="background:linear-gradient(90deg,#7f7f7f 0.5px,#7e7e7e 185.5px,#6b6b6b 205.5px,#585858 217.5px,#404040 258.5px,#434343 308.5px,#535353 333.5px,#6c6c6c 344.5px,#7e7e7e 362.5px,#848484 404.5px,#969696 415.5px,#aeaeae 422.5px,#bababa 439.5px,#bdbdbd 479.5px,#aeaeae 529.5px,#a1a1a1 545.5px,#8a8a8a 563.5px,#7f7f7f 596.5px,#808080 761.5px)"></i><i style="background:linear-gradient(90deg,#7f7f7f 0.5px,#7d7d7d 184.5px,#6c6c6c 202.5px,#585858 213.5px,#3d3d3d 257.5px,#3f3f3f 307.5px,#525252 336.5px,#696969 345.5px,#7d7d7d 361.5px,#848484 403.5px,#949494 413.5px,#aeaeae 420.5px,#bcbcbc 435.5px,#c1c1c1 476.5px,#b2b2b2 527.5px,#a1a1a1 549.5px,#8c8c8c 563.5px,#808080 591.5px,#808080 761.5px)"></i><i style="background:linear-gradient(90deg,#7f7f7f 0.5px,#7d7d7d 183.5px,#6b6b6b 200.5px,#595959 209.5px,#3a3a3a 256.5px,#3c3c3c 307.5px,#4f4f4f 337.5px,#727272 352.5px,#7f7f7f 369.5px,#838383 401.5px,#949494 412.5px,#afafaf 419.5px,#bfbfbf 434.5px,#c4c4c4 475.5px,#b5b5b5 527.5px,#a1a1a1 553.5px,#919191 561.5px,#818181 584.5px,#7f7f7f 761.5px)"></i><i style="background:linear-gradient(90deg,#7f7f7f 0.5px,#7d7d7d 182.5px,#6c6c6c 197.5px,#595959 206.5px,#383838 254.5px,#373737 304.5px,#4b4b4b 336.5px,#575757 343.5px,#6e6e6e 351.5px,#7e7e7e 365.5px,#848484 401.5px,#959595 411.5px,#aeaeae 417.5px,#c1c1c1 431.5px,#c8c8c8 473.5px,#b8b8b8 525.5px,#a2a2a2 556.5px,#939393 563.5px,#828282 584.5px,#7f7f7f 761.5px)"></i><i style="background:linear-gradient(90deg,#7f7f7f 0.5px,#7c7c7c 181.5px,#6c6c6c 195.5px,#5a5a5a 203.5px,#353535 252.5px,#333 301.5px,#454545 333.5px,#565656 345.5px,#6a6a6a 351.5px,#7c7c7c 363.5px,#848484 401.5px,#959595 410.5px,#afafaf 416.5px,#c4c4c4 430.5px,#ccc 472.5px,#bcbcbc 524.5px,#a3a3a3 558.5px,#929292 566.5px,#828282 586.5px,#7f7f7f 761.5px)"></i><i style="background:linear-gradient(90deg,#7f7f7f 0.5px,#7c7c7c 180.5px,#6d6d6d 193.5px,#595959 201.5px,#333 250.5px,#2f2f2f 294.5px,#3d3d3d 328.5px,#535353 346.5px,#6e6e6e 354.5px,#7d7d7d 366.5px,#848484 400.5px,#959595 409.5px,#b0b0b0 415.5px,#c6c6c6 429.5px,#cfcfcf 469.5px,#c0c0c0 522.5px,#a4a4a4 561.5px,#939393 568.5px,#838383 587.5px,#7e7e7e 761.5px)"></i><i style="background:linear-gradient(90deg,#7f7f7f 0.5px,#7c7c7c 179.5px,#6b6b6b 192.5px,#5b5b5b 198.5px,#363636 239.5px,#2b2b2b 269.5px,#2e2e2e 277.5px,#2c2c2c 299.5px,#3e3e3e 332.5px,#535353 348.5px,#6d6d6d 355.5px,#7d7d7d 366.5px,#848484 399.5px,#959595 408.5px,#b0b0b0 414.5px,#c8c8c8 428.5px,#d3d3d3 461.5px,#c7c7c7 514.5px,#a9a9a9 558.5px,#9a9a9a 568.5px,#8c8c8c 576.5px,#808080 599.5px,#808080 761.5px)"></i><i style="background:linear-gradient(90deg,#7f7f7f 0.5px,#7b7b7b 178.5px,#6c6c6c 190.5px,#5b5b5b 196.5px,#393939 231.5px,#292929 261.5px,#2b2b2b 307.5px,#3f3f3f 336.5px,#545454 350.5px,#6a6a6a 355.5px,#7c7c7c 365.5px,#858585 399.5px,#989898 408.5px,#b1b1b1 413.5px,#cdcdcd 429.5px,#d6d6d6 468.5px,#c7c7c7 520.5px,#a8a8a8 562.5px,#8a8a8a 580.5px,#808080 604.5px,#808080 761.5px)"></i><i style="background:linear-gradient(90deg,#7f7f7f 0.5px,#7b7b7b 176.5px,#6d6d6d 188.5px,#5a5a5a 195.5px,#363636 232.5px,#262626 261.5px,#282828 307.5px,#3c3c3c 336.5px,#535353 351.5px,#6a6a6a 356.5px,#7c7c7c 366.5px,#858585 398.5px,#959595 406.5px,#b0b0b0 412.5px,#cfcfcf 428.5px,#d9d9d9 460.5px,#cecece 512.5px,#b0b0b0 557.5px,#9e9e9e 571.5px,#8b8b8b 581.5px,#808080 604.5px,#808080 761.5px)"></i><i style="background:linear-gradient(90deg,#7f7f7f 0.5px,#7b7b7b 174.5px,#6e6e6e 186.5px,#595959 194.5px,#343434 230.5px,#232323 261.5px,#242424 307.5px,#383838 336.5px,#525252 352.5px,#696969 357.5px,#7b7b7b 366.5px,#858585 398.5px,#979797 406.5px,#b0b0b0 411.5px,#d1d1d1 427.5px,#dbdbdb 449.5px,#dadada 485.5px,#c9c9c9 527.5px,#a7a7a7 568.5px,#8a8a8a 584.5px,#818181 607.5px,#808080 761.5px)"></i><i style="background:linear-gradient(90deg,#7f7f7f 0.5px,#7b7b7b 172.5px,#6d6d6d 185.5px,#595959 192.5px,#373737 223.5px,#202020 259.5px,#212121 306.5px,#343434 335.5px,#515151 353.5px,#6a6a6a 358.5px,#7b7b7b 367.5px,#858585 397.5px,#979797 405.5px,#b0b0b0 410.5px,#d5d5d5 428.5px,#e0e0e0 459.5px,#d5d5d5 511.5px,#b6b6b6 556.5px,#9f9f9f 575.5px,#8e8e8e 583.5px,#828282 601.5px,#7f7f7f 761.5px)"></i><i style="background:linear-gradient(90deg,#7f7f7f 0.5px,#7b7b7b 169.5px,#707070 182.5px,#585858 191.5px,#353535 222.5px,#1d1d1d 259.5px,#1e1e1e 307.5px,#313131 335.5px,#4e4e4e 353.5px,#6d6d6d 360.5px,#7c7c7c 369.5px,#858585 396.5px,#969696 404.5px,#afafaf 409.5px,#d8d8d8 428.5px,#e4e4e4 458.5px,#d9d9d9 511.5px,#b8b8b8 556.5px,#9f9f9f 577.5px,#8d8d8d 585.5px,#828282 603.5px,#7f7f7f 761.5px)"></i><i style="background:linear-gradient(90deg,#7f7f7f 0.5px,#7c7c7c 121.5px,#777 175.5px,#666 185.5px,#5b5b5b 188.5px,#383838 216.5px,#1a1a1a 257.5px,#1a1a1a 306.5px,#2d2d2d 334.5px,#4a4a4a 352.5px,#565656 356.5px,#6e6e6e 361.5px,#7e7e7e 371.5px,#858585 395.5px,#959595 403.5px,#afafaf 408.5px,#dcdcdc 428.5px,#e6e6e6 455.5px,#dfdfdf 504.5px,#c0c0c0 551.5px,#a0a0a0 579.5px,#8e8e8e 586.5px,#838383 603.5px,#7f7f7f 761.5px)"></i><i style="background:linear-gradient(90deg,#7f7f7f 0.5px,#7c7c7c 114.5px,#777 156.5px,#777 172.5px,#6a6a6a 182.5px,#585858 188.5px,#333 218.5px,#171717 258.5px,#171717 307.5px,#2a2a2a 334.5px,#474747 352.5px,#565656 357.5px,#686868 360.5px,#797979 367.5px,#878787 396.5px,#989898 403.5px,#aeaeae 407.5px,#ddd 427.5px,#e7e7e7 445.5px,#e7e7e7 482.5px,#d8d8d8 523.5px,#b6b6b6 563.5px,#9f9f9f 581.5px,#8e8e8e 588.5px,#838383 605.5px,#7f7f7f 761.5px)"></i><i style="background:linear-gradient(90deg,#7f7f7f 0.5px,#7c7c7c 109.5px,#777 152.5px,#767676 171.5px,#696969 181.5px,#595959 186.5px,#313131 217.5px,#151515 257.5px,#141414 307.5px,#262626 334.5px,#424242 351.5px,#535353 357.5px,#6d6d6d 362.5px,#7d7d7d 371.5px,#868686 395.5px,#979797 402.5px,#b1b1b1 407.5px,#e2e2e2 428.5px,#ebebeb 450.5px,#e8e8e8 490.5px,#d6d6d6 531.5px,#acacac 575.5px,#9c9c9c 584.5px,#8d8d8d 590.5px,#848484 608.5px,#7f7f7f 761.5px)"></i><i style="background:linear-gradient(90deg,#7f7f7f 0.5px,#7c7c7c 106.5px,#767676 148.5px,#757575 170.5px,#676767 180.5px,#595959 185.5px,#2f2f2f 216.5px,#121212 257.5px,#121212 307.5px,#232323 334.5px,#404040 351.5px,#545454 358.5px,#6a6a6a 362.5px,#7b7b7b 370.5px,#868686 394.5px,#969696 401.5px,#b0b0b0 406.5px,#e4e4e4 428.5px,#eee 449.5px,#ebebeb 490.5px,#d9d9d9 531.5px,#afafaf 574.5px,#9e9e9e 585.5px,#8e8e8e 591.5px,#848484 609.5px,#7e7e7e 761.5px)"></i><i style="background:linear-gradient(90deg,#7f7f7f 0.5px,#7c7c7c 103.5px,#757575 147.5px,#757575 168.5px,#676767 179.5px,#585858 184.5px,#2d2d2d 216.5px,#101010 257.5px,#0f0f0f 308.5px,#202020 334.5px,#3b3b3b 350.5px,#555 359.5px,#676767 362.5px,#797979 369.5px,#878787 394.5px,#999 401.5px,#b0b0b0 405.5px,#e7e7e7 428.5px,#f0f0f0 447.5px,#efefef 485.5px,#e0e0e0 524.5px,#bfbfbf 562.5px,#a2a2a2 585.5px,#919191 591.5px,#868686 606.5px,#7e7e7e 746.5px,#808080 761.5px)"></i><i style="background:linear-gradient(90deg,#7f7f7f 0.5px,#7c7c7c 100.5px,#747474 146.5px,#747474 167.5px,#676767 177.5px,#595959 182.5px,#2b2b2b 215.5px,#0e0e0e 257.5px,#0d0d0d 309.5px,#1e1e1e 335.5px,#3b3b3b 351.5px,#575757 360.5px,#696969 363.5px,#7a7a7a 370.5px,#878787 394.5px,#9c9c9c 401.5px,#aeaeae 404.5px,#eaeaea 428.5px,#f3f3f3 447.5px,#f0f0f0 489.5px,#dfdfdf 529.5px,#bbb 568.5px,#a1a1a1 587.5px,#919191 593.5px,#868686 610.5px,#7e7e7e 742.5px,#808080 761.5px)"></i><i style="background:linear-gradient(90deg,#7f7f7f 0.5px,#7c7c7c 98.5px,#737373 145.5px,#727272 166.5px,#646464 177.5px,#5a5a5a 180.5px,#2a2a2a 214.5px,#0c0c0c 257.5px,#0b0b0b 309.5px,#1a1a1a 334.5px,#343434 349.5px,#545454 360.5px,#6b6b6b 364.5px,#7c7c7c 372.5px,#878787 393.5px,#9b9b9b 400.5px,#b1b1b1 404.5px,#ececec 428.5px,#f4f4f4 444.5px,#f3f3f3 485.5px,#e4e4e4 525.5px,#c5c5c5 562.5px,#a3a3a3 588.5px,#939393 593.5px,#878787 608.5px,#7e7e7e 729.5px,#808080 761.5px)"></i><i style="background:linear-gradient(90deg,#7f7f7f 0.5px,#7c7c7c 96.5px,#727272 145.5px,#717171 165.5px,#626262 176.5px,#585858 179.5px,#272727 214.5px,#0a0a0a 257.5px,#090909 310.5px,#181818 335.5px,#323232 349.5px,#565656 361.5px,#696969 364.5px,#7b7b7b 372.5px,#868686 392.5px,#999 399.5px,#b0b0b0 403.5px,#eee 428.5px,#f7f7f7 444.5px,#f5f5f5 487.5px,#e5e5e5 527.5px,#c5c5c5 564.5px,#a4a4a4 589.5px,#939393 595.5px,#888 611.5px,#7e7e7e 724.5px,#808080 761.5px)"></i><i style="background:linear-gradient(90deg,#7f7f7f 0.5px,#7c7c7c 95.5px,#717171 144.5px,#707070 163.5px,#636363 174.5px,#575757 178.5px,#393939 200.5px,#282828 211.5px,#090909 256.5px,#070707 311.5px,#161616 336.5px,#333 350.5px,#535353 361.5px,#6b6b6b 365.5px,#7c7c7c 373.5px,#878787 392.5px,#989898 398.5px,#aeaeae 402.5px,#efefef 427.5px,#f8f8f8 439.5px,#f7f7f7 484.5px,#e9e9e9 525.5px,#cacaca 562.5px,#a3a3a3 591.5px,#969696 595.5px,#898989 609.5px,#7e7e7e 717.5px,#808080 761.5px)"></i><i style="background:linear-gradient(90deg,#7f7f7f 0.5px,#7c7c7c 93.5px,#707070 144.5px,#6f6f6f 162.5px,#616161 173.5px,#565656 177.5px,#383838 199.5px,#272727 210.5px,#080808 255.5px,#050505 311.5px,#141414 336.5px,#2e2e2e 349.5px,#555 362.5px,#696969 365.5px,#7a7a7a 372.5px,#888 392.5px,#9b9b9b 398.5px,#b1b1b1 402.5px,#f1f1f1 427.5px,#f9f9f9 438.5px,#f9f9f9 484.5px,#ebebeb 525.5px,#cdcdcd 562.5px,#a4a4a4 592.5px,#979797 596.5px,#8a8a8a 609.5px,#7e7e7e 712.5px,#808080 761.5px)"></i><i style="background:linear-gradient(90deg,#7f7f7f 0.5px,#7c7c7c 92.5px,#6f6f6f 144.5px,#6e6e6e 161.5px,#5e5e5e 172.5px,#565656 175.5px,#414141 192.5px,#262626 209.5px,#070707 255.5px,#040404 312.5px,#111 336.5px,#292929 348.5px,#535353 362.5px,#6b6b6b 366.5px,#7b7b7b 373.5px,#878787 391.5px,#999 397.5px,#b0b0b0 401.5px,#f1f1f1 426.5px,#fbfbfb 437.5px,#fafafa 486.5px,#ececec 526.5px,#cfcfcf 562.5px,#a5a5a5 593.5px,#969696 598.5px,#8b8b8b 612.5px,#7e7e7e 712.5px,#808080 761.5px)"></i><i style="background:linear-gradient(90deg,#7f7f7f 0.5px,#7c7c7c 92.5px,#6f6f6f 143.5px,#6d6d6d 159.5px,#5f5f5f 170.5px,#555 174.5px,#3c3c3c 194.5px,#252525 208.5px,#060606 255.5px,#020202 313.5px,#101010 337.5px,#2a2a2a 349.5px,#565656 363.5px,#646464 365.5px,#787878 371.5px,#888 391.5px,#9b9b9b 397.5px,#aeaeae 400.5px,#f1f1f1 425.5px,#fcfcfc 436.5px,#fbfbfb 485.5px,#f0f0f0 518.5px,#cfcfcf 565.5px,#a4a4a4 595.5px,#979797 599.5px,#8c8c8c 612.5px,#7e7e7e 708.5px,#808080 761.5px)"></i><i style="background:linear-gradient(90deg,#7f7f7f 0.5px,#7c7c7c 91.5px,#6e6e6e 143.5px,#6d6d6d 158.5px,#5d5d5d 169.5px,#555 172.5px,#454545 187.5px,#262626 206.5px,#040404 258.5px,#010101 315.5px,#0f0f0f 338.5px,#2e2e2e 351.5px,#535353 363.5px,#6b6b6b 367.5px,#7b7b7b 374.5px,#898989 391.5px,#9e9e9e 397.5px,#b1b1b1 400.5px,#f2f2f2 425.5px,#fdfdfd 436.5px,#fcfcfc 486.5px,#ededed 520.5px,#c9c9c9 572.5px,#a5a5a5 596.5px,#959595 602.5px,#8b8b8b 618.5px,#7e7e7e 707.5px,#808080 761.5px)"></i><i style="background:linear-gradient(90deg,#7f7f7f 0.5px,#7c7c7c 90.5px,#6e6e6e 144.5px,#6c6c6c 157.5px,#505050 175.5px,#3e3e3e 190.5px,#2c2c2c 201.5px,#040404 259.5px,#000 315.5px,#0d0d0d 338.5px,#2f2f2f 352.5px,#565656 364.5px,#6a6a6a 367.5px,#7b7b7b 374.5px,#888 390.5px,#9c9c9c 396.5px,#afafaf 399.5px,#f2f2f2 424.5px,#fff 436.5px,#fcfcfc 486.5px,#e7e7e7 525.5px,#c4c4c4 578.5px,#a6a6a6 597.5px,#979797 602.5px,#8d8d8d 615.5px,#7e7e7e 705.5px,#808080 761.5px)"></i><i style="background:linear-gradient(90deg,#7f7f7f 0.5px,#7c7c7c 90.5px,#6d6d6d 144.5px,#6b6b6b 156.5px,#515151 172.5px,#414141 187.5px,#323232 196.5px,#050505 259.5px,#000 314.5px,#0a0a0a 337.5px,#252525 349.5px,#545454 364.5px,#686868 367.5px,#797979 373.5px,#898989 390.5px,#9e9e9e 396.5px,#acacac 398.5px,#efefef 422.5px,#fff 435.5px,#fdfdfd 482.5px,#e7e7e7 522.5px,#cdcdcd 559.5px,#c0c0c0 582.5px,#a6a6a6 598.5px,#999 602.5px,#8e8e8e 614.5px,#7e7e7e 703.5px,#808080 761.5px)"></i><i style="background:linear-gradient(90deg,#7f7f7f 0.5px,#7c7c7c 90.5px,#6d6d6d 145.5px,#6a6a6a 155.5px,#515151 170.5px,#424242 185.5px,#383838 192.5px,#1a1a1a 233.5px,#060606 257.5px,#000 306.5px,#060606 335.5px,#181818 345.5px,#525252 364.5px,#6a6a6a 368.5px,#7a7a7a 374.5px,#8a8a8a 390.5px,#a1a1a1 396.5px,#aaa 397.5px,#e8e8e8 418.5px,#fefefe 431.5px,#fdfdfd 477.5px,#e7e7e7 519.5px,#ccc 556.5px,#bcbcbc 586.5px,#a7a7a7 599.5px,#989898 603.5px,#8e8e8e 616.5px,#858585 665.5px,#7f7f7f 697.5px,#808080 761.5px)"></i><i style="background:linear-gradient(90deg,#7f7f7f 0.5px,#7c7c7c 90.5px,#6a6a6a 154.5px,#515151 168.5px,#3a3a3a 192.5px,#252525 222.5px,#090909 254.5px,#000 301.5px,#040404 334.5px,#161616 345.5px,#555 365.5px,#686868 368.5px,#797979 374.5px,#898989 389.5px,#999 394.5px,#b1b1b1 398.5px,#f3f3f3 422.5px,#fff 435.5px,#fcfcfc 478.5px,#e4e4e4 521.5px,#cdcdcd 550.5px,#b8b8b8 591.5px,#a9a9a9 599.5px,#979797 604.5px,#8e8e8e 618.5px,#858585 665.5px,#7e7e7e 698.5px,#808080 761.5px)"></i><i style="background:linear-gradient(90deg,#7f7f7f 0.5px,#7c7c7c 90.5px,#6a6a6a 153.5px,#535353 165.5px,#404040 186.5px,#333 208.5px,#090909 256.5px,#000 303.5px,#030303 335.5px,#181818 346.5px,#535353 365.5px,#6c6c6c 369.5px,#7d7d7d 377.5px,#898989 389.5px,#a1a1a1 395.5px,#aaa 396.5px,#ececec 418.5px,#fff 431.5px,#fdfdfd 473.5px,#e3e3e3 518.5px,#cbcbcb 549.5px,#b5b5b5 594.5px,#a7a7a7 600.5px,#989898 604.5px,#8e8e8e 618.5px,#878787 657.5px,#7f7f7f 689.5px,#808080 761.5px)"></i><i style="background:linear-gradient(90deg,#7f7f7f 0.5px,#7c7c7c 90.5px,#6b6b6b 152.5px,#525252 164.5px,#444 181.5px,#3d3d3d 199.5px,#090909 259.5px,#000 305.5px,#030303 336.5px,#1c1c1c 348.5px,#565656 366.5px,#6a6a6a 369.5px,#7c7c7c 376.5px,#8a8a8a 389.5px,#9e9e9e 394.5px,#b1b1b1 397.5px,#f4f4f4 421.5px,#fff 433.5px,#fbfbfb 474.5px,#dfdfdf 520.5px,#c8c8c8 549.5px,#b1b1b1 597.5px,#999 604.5px,#8f8f8f 615.5px,#868686 661.5px,#7f7f7f 693.5px,#808080 761.5px)"></i><i style="background:linear-gradient(90deg,#7f7f7f 0.5px,#7c7c7c 91.5px,#6b6b6b 151.5px,#525252 163.5px,#484848 177.5px,#444 193.5px,#0a0a0a 261.5px,#000 307.5px,#020202 336.5px,#1a1a1a 348.5px,#545454 366.5px,#686868 369.5px,#797979 375.5px,#8a8a8a 389.5px,#9f9f9f 394.5px,#adadad 396.5px,#f1f1f1 419.5px,#fff 431.5px,#fafafa 473.5px,#dcdcdc 520.5px,#c5c5c5 549.5px,#afafaf 598.5px,#999 604.5px,#8f8f8f 616.5px,#7e7e7e 700.5px,#808080 761.5px)"></i><i style="background:linear-gradient(90deg,#7f7f7f 0.5px,#7c7c7c 91.5px,#6c6c6c 151.5px,#535353 161.5px,#4b4b4b 174.5px,#4a4a4a 185.5px,#222 236.5px,#0c0c0c 260.5px,#000 308.5px,#020202 336.5px,#161616 347.5px,#535353 366.5px,#6b6b6b 370.5px,#7c7c7c 377.5px,#898989 388.5px,#9c9c9c 393.5px,#b0b0b0 396.5px,#f2f2f2 419.5px,#fff 431.5px,#f8f8f8 474.5px,#d5d5d5 525.5px,#c4c4c4 546.5px,#adadad 598.5px,#989898 604.5px,#8f8f8f 617.5px,#868686 663.5px,#7f7f7f 695.5px,#808080 761.5px)"></i><i style="background:linear-gradient(90deg,#7f7f7f 0.5px,#7c7c7c 92.5px,#6d6d6d 150.5px,#5c5c5c 157.5px,#535353 160.5px,#474747 196.5px,#0c0c0c 263.5px,#000 312.5px,#020202 337.5px,#1b1b1b 349.5px,#565656 367.5px,#6a6a6a 370.5px,#7c7c7c 377.5px,#898989 388.5px,#9d9d9d 393.5px,#acacac 395.5px,#efefef 417.5px,#fff 429.5px,#f7f7f7 473.5px,#bcbcbc 556.5px,#ababab 597.5px,#969696 605.5px,#8d8d8d 628.5px,#7e7e7e 700.5px,#808080 761.5px)"></i><i style="background:linear-gradient(90deg,#7f7f7f 0.5px,#7c7c7c 93.5px,#6d6d6d 150.5px,#5e5e5e 156.5px,#565656 158.5px,#4e4e4e 181.5px,#4a4a4a 195.5px,#0e0e0e 264.5px,#000 312.5px,#030303 338.5px,#1a1a1a 349.5px,#545454 367.5px,#6d6d6d 371.5px,#7e7e7e 379.5px,#8a8a8a 388.5px,#9e9e9e 393.5px,#adadad 395.5px,#eee 416.5px,#fff 427.5px,#f6f6f6 470.5px,#bababa 555.5px,#a9a9a9 596.5px,#959595 605.5px,#8b8b8b 633.5px,#7e7e7e 702.5px,#808080 761.5px)"></i><i style="background:linear-gradient(90deg,#7f7f7f 0.5px,#7c7c7c 95.5px,#6e6e6e 150.5px,#5f5f5f 156.5px,#575757 158.5px,#4e4e4e 192.5px,#0f0f0f 266.5px,#000 312.5px,#040404 340.5px,#222 352.5px,#525252 367.5px,#6b6b6b 371.5px,#7d7d7d 378.5px,#8a8a8a 388.5px,#a0a0a0 393.5px,#aeaeae 395.5px,#efefef 416.5px,#fefefe 426.5px,#f5f5f5 468.5px,#b9b9b9 552.5px,#a8a8a8 593.5px,#919191 608.5px,#7e7e7e 698.5px,#808080 761.5px)"></i><i style="background:linear-gradient(90deg,#7f7f7f 0.5px,#7c7c7c 96.5px,#6f6f6f 150.5px,#595959 159.5px,#515151 192.5px,#111 267.5px,#010101 312.5px,#050505 341.5px,#242424 353.5px,#565656 368.5px,#646464 370.5px,#797979 376.5px,#8a8a8a 388.5px,#a1a1a1 393.5px,#aaa 394.5px,#eee 415.5px,#fcfcfc 424.5px,#f5f5f5 465.5px,#b7b7b7 551.5px,#a6a6a6 591.5px,#909090 609.5px,#7e7e7e 700.5px,#808080 761.5px)"></i><i style="background:linear-gradient(90deg,#7f7f7f 0.5px,#7c7c7c 98.5px,#707070 150.5px,#5a5a5a 162.5px,#555 189.5px,#262626 246.5px,#151515 263.5px,#030303 309.5px,#070707 342.5px,#292929 355.5px,#545454 368.5px,#686868 371.5px,#7a7a7a 377.5px,#8a8a8a 388.5px,#a1a1a1 393.5px,#ababab 394.5px,#efefef 415.5px,#fbfbfb 423.5px,#f3f3f3 464.5px,#b5b5b5 549.5px,#a4a4a4 587.5px,#8f8f8f 610.5px,#7e7e7e 702.5px,#808080 761.5px)"></i><i style="background:linear-gradient(90deg,#7f7f7f 0.5px,#7c7c7c 100.5px,#717171 151.5px,#616161 161.5px,#545454 195.5px,#141414 269.5px,#040404 313.5px,#090909 344.5px,#3e3e3e 362.5px,#535353 368.5px,#6c6c6c 372.5px,#7f7f7f 380.5px,#8b8b8b 388.5px,#a1a1a1 393.5px,#ababab 394.5px,#f0f0f0 415.5px,#f9f9f9 422.5px,#f2f2f2 461.5px,#b3b3b3 548.5px,#a3a3a3 583.5px,#979797 595.5px,#8b8b8b 621.5px,#868686 659.5px,#7f7f7f 694.5px,#808080 761.5px)"></i><i style="background:linear-gradient(90deg,#7f7f7f 0.5px,#7c7c7c 103.5px,#727272 151.5px,#646464 163.5px,#646464 174.5px,#595959 186.5px,#4f4f4f 207.5px,#171717 269.5px,#060606 313.5px,#0b0b0b 344.5px,#1d1d1d 352.5px,#525252 368.5px,#707070 373.5px,#8e8e8e 389.5px,#a3a3a3 393.5px,#acacac 394.5px,#f1f1f1 415.5px,#f7f7f7 424.5px,#efefef 462.5px,#b1b1b1 546.5px,#a3a3a3 576.5px,#959595 593.5px,#8a8a8a 626.5px,#7e7e7e 708.5px,#808080 761.5px)"></i><i style="background:linear-gradient(90deg,#7f7f7f 0.5px,#7c7c7c 105.5px,#737373 152.5px,#686868 163.5px,#666 180.5px,#585858 194.5px,#434343 224.5px,#1a1a1a 268.5px,#080808 312.5px,#0d0d0d 343.5px,#191919 351.5px,#565656 369.5px,#656565 371.5px,#7a7a7a 377.5px,#8b8b8b 388.5px,#a2a2a2 393.5px,#acacac 394.5px,#ededed 414.5px,#f5f5f5 423.5px,#eee 459.5px,#aeaeae 546.5px,#a2a2a2 571.5px,#959595 586.5px,#888 632.5px,#7e7e7e 713.5px,#808080 761.5px)"></i><i style="background:linear-gradient(90deg,#7f7f7f 0.5px,#7c7c7c 109.5px,#737373 153.5px,#6b6b6b 165.5px,#6b6b6b 180.5px,#555 201.5px,#3d3d3d 234.5px,#1e1e1e 267.5px,#0a0a0a 311.5px,#0e0e0e 341.5px,#1c1c1c 352.5px,#545454 369.5px,#6a6a6a 372.5px,#7d7d7d 379.5px,#8b8b8b 388.5px,#a1a1a1 393.5px,#ababab 394.5px,#e9e9e9 413.5px,#f3f3f3 422.5px,#ececec 458.5px,#ababab 546.5px,#a2a2a2 566.5px,#979797 575.5px,#888 626.5px,#7e7e7e 715.5px,#808080 761.5px)"></i><i style="background:linear-gradient(90deg,#7f7f7f 0.5px,#7c7c7c 113.5px,#747474 156.5px,#6e6e6e 166.5px,#6d6d6d 183.5px,#555 205.5px,#393939 242.5px,#212121 267.5px,#0d0d0d 311.5px,#101010 341.5px,#202020 353.5px,#545454 369.5px,#646464 371.5px,#777 376.5px,#8d8d8d 389.5px,#a1a1a1 393.5px,#ababab 394.5px,#e8e8e8 413.5px,#f0f0f0 423.5px,#e9e9e9 457.5px,#a8a8a8 546.5px,#a3a3a3 559.5px,#969696 571.5px,#888 625.5px,#7e7e7e 720.5px,#808080 761.5px)"></i><i style="background:linear-gradient(90deg,#7f7f7f 0.5px,#7c7c7c 120.5px,#6e6e6e 187.5px,#565656 207.5px,#353535 250.5px,#252525 266.5px,#0f0f0f 311.5px,#121212 340.5px,#232323 353.5px,#4f4f4f 368.5px,#6f6f6f 373.5px,#818181 382.5px,#8a8a8a 388.5px,#a0a0a0 393.5px,#afafaf 395.5px,#e5e5e5 413.5px,#eee 424.5px,#e6e6e6 458.5px,#a6a6a6 545.5px,#a2a2a2 553.5px,#959595 566.5px,#888 612.5px,#7e7e7e 725.5px,#808080 761.5px)"></i><i style="background:linear-gradient(90deg,#7f7f7f 0.5px,#7c7c7c 131.5px,#6f6f6f 190.5px,#555 212.5px,#1e1e1e 281.5px,#101010 321.5px,#1a1a1a 346.5px,#313131 358.5px,#555 369.5px,#6a6a6a 372.5px,#7d7d7d 379.5px,#8a8a8a 388.5px,#9f9f9f 393.5px,#adadad 395.5px,#e1e1e1 412.5px,#eaeaea 422.5px,#e5e5e5 454.5px,#9e9e9e 551.5px,#959595 560.5px,#898989 598.5px,#7e7e7e 726.5px,#808080 761.5px)"></i><i style="background:linear-gradient(90deg,#7f7f7f 0.5px,#7c7c7c 143.5px,#747474 179.5px,#717171 191.5px,#535353 218.5px,#202020 283.5px,#131313 323.5px,#1d1d1d 346.5px,#363636 359.5px,#565656 369.5px,#656565 371.5px,#777 376.5px,#8c8c8c 389.5px,#a3a3a3 394.5px,#acacac 395.5px,#dedede 412.5px,#e8e8e8 424.5px,#e0e0e0 457.5px,#a0a0a0 543.5px,#929292 558.5px,#878787 600.5px,#7e7e7e 737.5px,#808080 761.5px)"></i><i style="background:linear-gradient(90deg,#7f7f7f 0.5px,#7c7c7c 148.5px,#767676 178.5px,#737373 193.5px,#5e5e5e 212.5px,#565656 218.5px,#232323 284.5px,#161616 324.5px,#222 347.5px,#3d3d3d 361.5px,#535353 368.5px,#6c6c6c 372.5px,#7d7d7d 379.5px,#8b8b8b 389.5px,#a2a2a2 394.5px,#ababab 395.5px,#dadada 411.5px,#e4e4e4 422.5px,#dfdfdf 453.5px,#a2a2a2 535.5px,#959595 547.5px,#878787 587.5px,#7e7e7e 747.5px,#808080 761.5px)"></i><i style="background:linear-gradient(90deg,#7f7f7f 0.5px,#7c7c7c 153.5px,#747474 196.5px,#5e5e5e 216.5px,#565656 221.5px,#424242 249.5px,#303030 269.5px,#1a1a1a 314.5px,#1f1f1f 340.5px,#313131 355.5px,#545454 368.5px,#696969 371.5px,#7c7c7c 378.5px,#8a8a8a 389.5px,#a0a0a0 394.5px,#adadad 396.5px,#d7d7d7 411.5px,#e1e1e1 422.5px,#dcdcdc 453.5px,#a4a4a4 528.5px,#969696 539.5px,#878787 578.5px,#7e7e7e 757.5px,#808080 761.5px)"></i><i style="background:linear-gradient(90deg,#7f7f7f 0.5px,#7b7b7b 178.5px,#6f6f6f 207.5px,#545454 227.5px,#282828 287.5px,#1d1d1d 325.5px,#282828 347.5px,#444 362.5px,#535353 367.5px,#6a6a6a 371.5px,#7c7c7c 378.5px,#8a8a8a 389.5px,#9d9d9d 394.5px,#b0b0b0 397.5px,#d8d8d8 413.5px,#dfdfdf 429.5px,#d3d3d3 463.5px,#a5a5a5 522.5px,#989898 531.5px,#878787 565.5px,#7e7e7e 750.5px,#808080 761.5px)"></i><i style="background:linear-gradient(90deg,#7f7f7f 0.5px,#7b7b7b 186.5px,#6c6c6c 214.5px,#545454 231.5px,#2a2a2a 290.5px,#202020 326.5px,#2c2c2c 348.5px,#4b4b4b 364.5px,#5c5c5c 368.5px,#6c6c6c 371.5px,#7e7e7e 379.5px,#898989 389.5px,#9b9b9b 394.5px,#aeaeae 397.5px,#d1d1d1 411.5px,#dbdbdb 424.5px,#d3d3d3 456.5px,#a6a6a6 517.5px,#9a9a9a 524.5px,#898989 553.5px,#7e7e7e 707.5px,#808080 761.5px)"></i><i style="background:linear-gradient(90deg,#7f7f7f 0.5px,#7b7b7b 190.5px,#6c6c6c 218.5px,#545454 235.5px,#2c2c2c 292.5px,#242424 328.5px,#323232 350.5px,#505050 365.5px,#6a6a6a 370.5px,#7b7b7b 377.5px,#8a8a8a 390.5px,#a3a3a3 396.5px,#ababab 397.5px,#ccc 410.5px,#d8d8d8 423.5px,#d1d1d1 455.5px,#a7a7a7 512.5px,#9a9a9a 519.5px,#898989 546.5px,#818181 630.5px,#7f7f7f 761.5px)"></i><i style="background:linear-gradient(90deg,#7f7f7f 0.5px,#7b7b7b 195.5px,#6a6a6a 223.5px,#525252 240.5px,#2d2d2d 296.5px,#272727 329.5px,#353535 350.5px,#525252 365.5px,#656565 368.5px,#797979 375.5px,#8a8a8a 390.5px,#9f9f9f 396.5px,#b1b1b1 399.5px,#cecece 413.5px,#d4d4d4 430.5px,#c8c8c8 464.5px,#a7a7a7 507.5px,#969696 518.5px,#868686 549.5px,#7e7e7e 761.5px)"></i><i style="background:linear-gradient(90deg,#7f7f7f 0.5px,#7b7b7b 198.5px,#6b6b6b 227.5px,#525252 244.5px,#2f2f2f 299.5px,#2b2b2b 330.5px,#393939 351.5px,#535353 364.5px,#646464 367.5px,#787878 374.5px,#8b8b8b 391.5px,#a1a1a1 397.5px,#aeaeae 399.5px,#c9c9c9 412.5px,#d1d1d1 428.5px,#c6c6c6 462.5px,#a6a6a6 503.5px,#949494 516.5px,#858585 549.5px,#7f7f7f 761.5px)"></i><i style="background:linear-gradient(90deg,#7f7f7f 0.5px,#7c7c7c 202.5px,#6b6b6b 231.5px,#515151 249.5px,#313131 304.5px,#2f2f2f 332.5px,#3f3f3f 353.5px,#535353 363.5px,#6b6b6b 368.5px,#7d7d7d 377.5px,#898989 391.5px,#9e9e9e 397.5px,#aeaeae 400.5px,#c8c8c8 413.5px,#cecece 432.5px,#bfbfbf 468.5px,#a7a7a7 498.5px,#959595 510.5px,#858585 540.5px,#7e7e7e 753.5px,#808080 761.5px)"></i><i style="background:linear-gradient(90deg,#7f7f7f 0.5px,#7c7c7c 205.5px,#6b6b6b 235.5px,#515151 253.5px,#333 308.5px,#333 335.5px,#454545 355.5px,#545454 362.5px,#6b6b6b 367.5px,#7d7d7d 377.5px,#888 391.5px,#9e9e9e 398.5px,#ababab 400.5px,#c4c4c4 412.5px,#cacaca 430.5px,#bebebe 464.5px,#a8a8a8 493.5px,#989898 503.5px,#868686 531.5px,#808080 633.5px,#808080 761.5px)"></i><i style="background:linear-gradient(90deg,#7f7f7f 0.5px,#7c7c7c 208.5px,#6b6b6b 239.5px,#515151 257.5px,#363636 311.5px,#383838 338.5px,#4b4b4b 357.5px,#555 361.5px,#6b6b6b 366.5px,#7c7c7c 375.5px,#898989 392.5px,#9f9f9f 399.5px,#ababab 401.5px,#c2c2c2 413.5px,#c7c7c7 435.5px,#b2b2b2 477.5px,#a4a4a4 491.5px,#939393 503.5px,#848484 536.5px,#7f7f7f 761.5px)"></i><i style="background:linear-gradient(90deg,#7f7f7f 0.5px,#7c7c7c 210.5px,#6c6c6c 242.5px,#515151 262.5px,#383838 314.5px,#3d3d3d 341.5px,#525252 359.5px,#686868 364.5px,#7a7a7a 373.5px,#888 392.5px,#9b9b9b 399.5px,#aeaeae 403.5px,#c0c0c0 415.5px,#c3c3c3 440.5px,#ababab 481.5px,#979797 494.5px,#858585 525.5px,#7e7e7e 669.5px,#808080 761.5px)"></i><i style="background:linear-gradient(90deg,#7f7f7f 0.5px,#7d7d7d 213.5px,#6d6d6d 245.5px,#515151 267.5px,#3b3b3b 316.5px,#414141 343.5px,#545454 358.5px,#656565 362.5px,#797979 371.5px,#888 393.5px,#9e9e9e 401.5px,#adadad 404.5px,#bdbdbd 416.5px,#bfbfbf 442.5px,#aaa 477.5px,#9a9a9a 487.5px,#868686 516.5px,#7f7f7f 597.5px,#808080 761.5px)"></i><i style="background:linear-gradient(90deg,#7f7f7f 0.5px,#7d7d7d 216.5px,#6d6d6d 249.5px,#505050 273.5px,#3e3e3e 320.5px,#474747 346.5px,#545454 356.5px,#6f6f6f 364.5px,#7e7e7e 377.5px,#878787 393.5px,#9d9d9d 402.5px,#afafaf 406.5px,#bcbcbc 420.5px,#b8b8b8 451.5px,#a8a8a8 473.5px,#979797 485.5px,#848484 517.5px,#7f7f7f 645.5px,#808080 761.5px)"></i><i style="background:linear-gradient(90deg,#7f7f7f 0.5px,#7d7d7d 220.5px,#6e6e6e 253.5px,#515151 278.5px,#414141 322.5px,#4c4c4c 348.5px,#585858 355.5px,#6d6d6d 362.5px,#7e7e7e 375.5px,#868686 393.5px,#9c9c9c 403.5px,#afafaf 408.5px,#bababa 425.5px,#b2b2b2 457.5px,#a5a5a5 470.5px,#959595 482.5px,#838383 517.5px,#7e7e7e 720.5px,#808080 761.5px)"></i><i style="background:linear-gradient(90deg,#7f7f7f 0.5px,#7d7d7d 223.5px,#6d6d6d 258.5px,#505050 286.5px,#454545 325.5px,#505050 349.5px,#747474 364.5px,#828282 383.5px,#858585 393.5px,#989898 403.5px,#aeaeae 410.5px,#b7b7b7 428.5px,#acacac 460.5px,#a3a3a3 464.5px,#8b8b8b 491.5px,#808080 540.5px,#808080 761.5px)"></i><i style="background:linear-gradient(90deg,#7f7f7f 0.5px,#7d7d7d 227.5px,#6d6d6d 264.5px,#505050 293.5px,#494949 328.5px,#545454 348.5px,#707070 360.5px,#7f7f7f 376.5px,#858585 394.5px,#9b9b9b 406.5px,#aeaeae 413.5px,#b3b3b3 434.5px,#aaa 455.5px,#969696 471.5px,#838383 509.5px,#7e7e7e 716.5px,#808080 761.5px)"></i><i style="background:linear-gradient(90deg,#7f7f7f 0.5px,#7d7d7d 231.5px,#6b6b6b 271.5px,#505050 301.5px,#4d4d4d 332.5px,#565656 345.5px,#757575 362.5px,#828282 384.5px,#868686 396.5px,#aeaeae 418.5px,#adadad 444.5px,#8f8f8f 475.5px,#818181 520.5px,#808080 761.5px)"></i><i style="background:linear-gradient(90deg,#7f7f7f 0.5px,#7d7d7d 235.5px,#6a6a6a 279.5px,#505050 310.5px,#525252 336.5px,#7b7b7b 366.5px,#878787 398.5px,#a7a7a7 419.5px,#a8a8a8 426.5px,#adadad 429.5px,#a7a7a7 432.5px,#a7a7a7 441.5px,#a1a1a1 446.5px,#989898 461.5px,#8a8a8a 479.5px,#7f7f7f 537.5px,#808080 761.5px)"></i><i style="background:linear-gradient(90deg,#7f7f7f 0.5px,#7d7d7d 239.5px,#686868 289.5px,#585858 311.5px,#535353 326.5px,#585858 328.5px,#5a5a5a 336.5px,#7c7c7c 367.5px,#868686 398.5px,#a0a0a0 419.5px,#a2a2a2 437.5px,#9d9d9d 442.5px,#989898 455.5px,#898989 476.5px,#7f7f7f 540.5px,#808080 761.5px)"></i><i style="background:linear-gradient(90deg,#7f7f7f 0.5px,#7d7d7d 243.5px,#676767 300.5px,#5d5d5d 314.5px,#5f5f5f 334.5px,#6b6b6b 345.5px,#7f7f7f 372.5px,#858585 398.5px,#9c9c9c 421.5px,#979797 449.5px,#888 473.5px,#7f7f7f 542.5px,#808080 761.5px)"></i><i style="background:linear-gradient(90deg,#7f7f7f 0.5px,#7d7d7d 247.5px,#626262 325.5px,#767676 358.5px,#7f7f7f 371.5px,#858585 400.5px,#979797 421.5px,#919191 453.5px,#858585 476.5px,#7e7e7e 570.5px,#808080 761.5px)"></i><i style="background:linear-gradient(90deg,#7f7f7f 0.5px,#7d7d7d 251.5px,#676767 326.5px,#808080 374.5px,#848484 400.5px,#939393 422.5px,#8c8c8c 460.5px,#828282 489.5px,#7f7f7f 761.5px)"></i><i style="background:linear-gradient(90deg,#7f7f7f 0.5px,#7d7d7d 255.5px,#6b6b6b 326.5px,#818181 378.5px,#848484 402.5px,#909090 422.5px,#7f7f7f 514.5px,#808080 761.5px)"></i><i style="background:linear-gradient(90deg,#7f7f7f 0.5px,#7d7d7d 260.5px,#6f6f6f 327.5px,#818181 381.5px,#838383 403.5px,#8d8d8d 424.5px,#7f7f7f 516.5px,#808080 761.5px)"></i><i style="height:2px;background:linear-gradient(90deg,#7f7f7f 0.5px,#7d7d7d 268.5px,#737373 330.5px,#818181 384.5px,#848484 408.5px,#8a8a8a 428.5px,#7f7f7f 516.5px,#808080 761.5px)"></i><i style="height:2px;background:linear-gradient(90deg,#7f7f7f 0.5px,#7d7d7d 281.5px,#777 333.5px,#878787 422.5px,#7e7e7e 542.5px,#808080 761.5px)"></i><i style="height:3px;background:linear-gradient(90deg,#7f7f7f 0.5px,#7d7d7d 301.5px,#7a7a7a 341.5px,#858585 427.5px,#7e7e7e 554.5px,#808080 761.5px)"></i><i style="height:8px;background:linear-gradient(90deg,#7f7f7f 0.5px,#7f7f7f 414.5px,#818181 483.5px,#7e7e7e 761.5px)"></i><i style="height:29px;background:#7f7f7f"></i></div>
<div class="f c" style="left:67px;top:795px;width:762px;height:195px"><i style="background:#808080"></i><i style="background:linear-gradient(#7f7f7f 0.5px,#797979 14.5px,#818181 188.5px,#7f7f7f 194.5px)"></i><i style="background:linear-gradient(#7d7d7d 0.5px,#717171 8.5px,#737373 96.5px,#808080 119.5px,#7f7f7f 194.5px)"></i><i style="background:linear-gradient(#7c7c7c 0.5px,#6c6c6c 6.5px,#6e6e6e 68.5px,#6b6b6b 92.5px,#808080 119.5px,#7f7f7f 194.5px)"></i><i style="background:linear-gradient(#7c7c7c 0.5px,#6e6e6e 7.5px,#6d6d6d 50.5px,#656565 86.5px,#737373 105.5px,#7e7e7e 115.5px,#7f7f7f 194.5px)"></i><i style="background:linear-gradient(#7c7c7c 0.5px,#6b6b6b 7.5px,#787878 104.5px,#808080 122.5px,#7f7f7f 194.5px)"></i><i style="background:linear-gradient(#7f7f7f 0.5px,#7a7a7a 51.5px,#818181 169.5px,#7f7f7f 194.5px)"></i><i style="width:2px;background:linear-gradient(#808080 0.5px,#848484 23.5px,#7e7e7e 194.5px)"></i><i style="width:2px;background:#808080"></i><i style="background:linear-gradient(#808080 0.5px,#848484 27.5px,#7e7e7e 194.5px)"></i><i style="background:linear-gradient(#7f7f7f 0.5px,#7d7d7d 106.5px,#818181 141.5px,#7f7f7f 194.5px)"></i><i style="background:linear-gradient(#7e7e7e 0.5px,#777 11.5px,#787878 98.5px,#818181 121.5px,#7f7f7f 194.5px)"></i><i style="background:linear-gradient(#7e7e7e 0.5px,#737373 9.5px,#787878 98.5px,#818181 122.5px,#7f7f7f 194.5px)"></i><i style="background:linear-gradient(#7c7c7c 0.5px,#6a6a6a 7.5px,#777 101.5px,#808080 122.5px,#7f7f7f 194.5px)"></i><i style="background:linear-gradient(#7c7c7c 0.5px,#6b6b6b 7.5px,#616161 82.5px,#6e6e6e 101.5px,#7d7d7d 113.5px,#818181 194.5px)"></i><i style="background:linear-gradient(#7a7a7a 0.5px,#616161 6.5px,#606060 55.5px,#676767 95.5px,#7d7d7d 115.5px,#808080 194.5px)"></i><i style="width:2px;background:linear-gradient(#7a7a7a 0.5px,#626262 6.5px,#5b5b5b 68.5px,#636363 94.5px,#7d7d7d 114.5px,#818181 175.5px,#7f7f7f 194.5px)"></i><i style="background:linear-gradient(#7a7a7a 0.5px,#646464 6.5px,#5c5c5c 88.5px,#6e6e6e 104.5px,#7c7c7c 113.5px,#818181 150.5px,#7f7f7f 194.5px)"></i><i style="background:linear-gradient(#7a7a7a 0.5px,#656565 6.5px,#646464 61.5px,#5f5f5f 88.5px,#6d6d6d 103.5px,#7c7c7c 114.5px,#818181 165.5px,#7f7f7f 194.5px)"></i><i style="background:linear-gradient(#7b7b7b 0.5px,#636363 6.5px,#5b5b5b 26.5px,#666 67.5px,#808080 121.5px,#7f7f7f 194.5px)"></i><i style="width:2px;background:linear-gradient(#7c7c7c 0.5px,#676767 7.5px,#626262 38.5px,#808080 115.5px,#7f7f7f 194.5px)"></i><i style="background:linear-gradient(#797979 0.5px,#606060 5.5px,#5a5a5a 11.5px,#747474 64.5px,#717171 100.5px,#7f7f7f 120.5px,#7f7f7f 194.5px)"></i><i style="background:linear-gradient(#797979 0.5px,#616161 5.5px,#5c5c5c 11.5px,#6c6c6c 60.5px,#686868 95.5px,#7e7e7e 118.5px,#7f7f7f 194.5px)"></i><i style="background:linear-gradient(#7a7a7a 0.5px,#646464 6.5px,#656565 88.5px,#7f7f7f 119.5px,#7f7f7f 194.5px)"></i><i style="background:linear-gradient(#7a7a7a 0.5px,#636363 6.5px,#606060 30.5px,#757575 103.5px,#7f7f7f 118.5px,#7f7f7f 194.5px)"></i><i style="background:linear-gradient(#7b7b7b 0.5px,#6b6b6b 6.5px,#707070 49.5px,#656565 91.5px,#7f7f7f 118.5px,#7f7f7f 194.5px)"></i><i style="background:linear-gradient(#7b7b7b 0.5px,#666 6.5px,#666 80.5px,#707070 101.5px,#7e7e7e 115.5px,#808080 194.5px)"></i><i style="background:linear-gradient(#7d7d7d 0.5px,#707070 7.5px,#656565 42.5px,#585858 68.5px,#5d5d5d 91.5px,#7d7d7d 113.5px,#818181 172.5px,#7f7f7f 194.5px)"></i><i style="background:linear-gradient(#7c7c7c 0.5px,#696969 7.5px,#595959 43.5px,#616161 76.5px,#7f7f7f 114.5px,#7f7f7f 194.5px)"></i><i style="background:linear-gradient(#7e7e7e 0.5px,#757575 9.5px,#727272 37.5px,#646464 76.5px,#6c6c6c 97.5px,#7e7e7e 113.5px,#808080 194.5px)"></i><i style="background:linear-gradient(#7e7e7e 0.5px,#797979 13.5px,#747474 93.5px,#808080 120.5px,#7f7f7f 194.5px)"></i><i style="background:linear-gradient(#7f7f7f 0.5px,#7b7b7b 28.5px,#808080 194.5px)"></i><i style="width:2px;background:linear-gradient(#808080 0.5px,#818181 194.5px)"></i><i style="background:#7f7f7f"></i><i style="background:linear-gradient(#7f7f7f 0.5px,#7a7a7a 22.5px,#818181 194.5px)"></i><i style="background:linear-gradient(#7e7e7e 0.5px,#777 12.5px,#7b7b7b 102.5px,#818181 125.5px,#7f7f7f 194.5px)"></i><i style="background:linear-gradient(#7e7e7e 0.5px,#747474 9.5px,#767676 94.5px,#818181 122.5px,#7f7f7f 194.5px)"></i><i style="background:linear-gradient(#7d7d7d 0.5px,#737373 8.5px,#7a7a7a 106.5px,#818181 126.5px,#7f7f7f 194.5px)"></i><i style="background:linear-gradient(#7f7f7f 0.5px,#7b7b7b 31.5px,#7d7d7d 108.5px,#818181 137.5px,#7f7f7f 194.5px)"></i><i style="width:2px;background:#808080"></i><i style="background:linear-gradient(#808080 0.5px,#858585 17.5px,#7e7e7e 194.5px)"></i><i style="background:linear-gradient(#818181 0.5px,#8a8a8a 9.5px,#878787 99.5px,#7e7e7e 121.5px,#808080 194.5px)"></i><i style="background:linear-gradient(#828282 0.5px,#8d8d8d 7.5px,#8f8f8f 54.5px,#969696 87.5px,#7f7f7f 119.5px,#808080 194.5px)"></i><i style="background:linear-gradient(#828282 0.5px,#909090 7.5px,#969696 62.5px,#9a9a9a 85.5px,#8b8b8b 105.5px,#818181 115.5px,#808080 194.5px)"></i><i style="background:linear-gradient(#828282 0.5px,#909090 7.5px,#919191 81.5px,#7f7f7f 123.5px,#808080 194.5px)"></i><i style="background:linear-gradient(#808080 0.5px,#868686 13.5px,#848484 104.5px,#7e7e7e 126.5px,#808080 194.5px)"></i><i style="background:linear-gradient(#808080 0.5px,#828282 103.5px,#7e7e7e 152.5px,#808080 194.5px)"></i><i style="background:linear-gradient(#818181 0.5px,#888 11.5px,#7e7e7e 175.5px,#808080 194.5px)"></i><i style="background:linear-gradient(#818181 0.5px,#8c8c8c 9.5px,#888 99.5px,#7f7f7f 120.5px,#808080 194.5px)"></i><i style="background:linear-gradient(#818181 0.5px,#898989 9.5px,#8c8c8c 44.5px,#959595 81.5px,#8a8a8a 103.5px,#808080 114.5px,#808080 194.5px)"></i><i style="background:linear-gradient(#818181 0.5px,#8a8a8a 8.5px,#898989 33.5px,#9c9c9c 84.5px,#919191 101.5px,#828282 113.5px,#7e7e7e 194.5px)"></i><i style="background:linear-gradient(#848484 0.5px,#979797 6.5px,#8c8c8c 59.5px,#929292 95.5px,#808080 119.5px,#808080 194.5px)"></i><i style="background:linear-gradient(#838383 0.5px,#919191 7.5px,#8e8e8e 57.5px,#939393 92.5px,#7f7f7f 119.5px,#808080 194.5px)"></i><i style="background:linear-gradient(#818181 0.5px,#898989 10.5px,#8a8a8a 93.5px,#7e7e7e 121.5px,#808080 194.5px)"></i><i style="background:linear-gradient(#7f7f7f 0.5px,#7c7c7c 58.5px,#818181 194.5px)"></i><i style="background:linear-gradient(#7e7e7e 0.5px,#747474 8.5px,#767676 99.5px,#808080 120.5px,#7f7f7f 194.5px)"></i><i style="background:linear-gradient(#7d7d7d 0.5px,#6e6e6e 7.5px,#707070 95.5px,#808080 118.5px,#7f7f7f 194.5px)"></i><i style="background:linear-gradient(#7c7c7c 0.5px,#6b6b6b 6.5px,#6f6f6f 96.5px,#808080 118.5px,#7f7f7f 194.5px)"></i><i style="background:linear-gradient(#7d7d7d 0.5px,#717171 8.5px,#707070 92.5px,#808080 118.5px,#7f7f7f 194.5px)"></i><i style="background:linear-gradient(#7f7f7f 0.5px,#7d7d7d 110.5px,#818181 170.5px,#7f7f7f 194.5px)"></i><i style="background:linear-gradient(#808080 0.5px,#868686 23.5px,#8c8c8c 90.5px,#7f7f7f 120.5px,#808080 194.5px)"></i><i style="background:linear-gradient(#808080 0.5px,#858585 19.5px,#7e7e7e 194.5px)"></i><i style="background:linear-gradient(#7d7d7d 0.5px,#737373 8.5px,#7b7b7b 107.5px,#818181 126.5px,#7f7f7f 194.5px)"></i><i style="background:linear-gradient(#7d7d7d 0.5px,#6e6e6e 7.5px,#676767 73.5px,#727272 100.5px,#7f7f7f 115.5px,#7f7f7f 194.5px)"></i><i style="background:linear-gradient(#7b7b7b 0.5px,#676767 6.5px,#6d6d6d 96.5px,#7f7f7f 117.5px,#7f7f7f 194.5px)"></i><i style="background:linear-gradient(#7c7c7c 0.5px,#6c6c6c 7.5px,#616161 80.5px,#6e6e6e 100.5px,#7d7d7d 113.5px,#808080 194.5px)"></i><i style="background:linear-gradient(#7d7d7d 0.5px,#717171 8.5px,#696969 83.5px,#808080 119.5px,#7f7f7f 194.5px)"></i><i style="background:#808080"></i><i style="background:linear-gradient(#818181 0.5px,#8a8a8a 8.5px,#8a8a8a 46.5px,#939393 88.5px,#7f7f7f 120.5px,#808080 194.5px)"></i><i style="background:linear-gradient(#828282 0.5px,#909090 8.5px,#959595 53.5px,#7e7e7e 124.5px,#808080 194.5px)"></i><i style="background:linear-gradient(#818181 0.5px,#8a8a8a 9.5px,#818181 66.5px,#858585 104.5px,#7e7e7e 128.5px,#808080 194.5px)"></i><i style="background:linear-gradient(#808080 0.5px,#858585 17.5px,#7f7f7f 99.5px,#808080 194.5px)"></i><i style="background:linear-gradient(#818181 0.5px,#8b8b8b 9.5px,#818181 88.5px,#828282 115.5px,#7e7e7e 172.5px,#808080 194.5px)"></i><i style="background:linear-gradient(#818181 0.5px,#8a8a8a 11.5px,#8c8c8c 81.5px,#7e7e7e 124.5px,#808080 194.5px)"></i><i style="background:linear-gradient(#818181 0.5px,#888 10.5px,#838383 107.5px,#7e7e7e 132.5px,#808080 194.5px)"></i><i style="background:linear-gradient(#808080 0.5px,#818181 191.5px,#808080 194.5px)"></i><i style="background:linear-gradient(#7f7f7f 0.5px,#7a7a7a 45.5px,#818181 171.5px,#7f7f7f 194.5px)"></i><i style="background:linear-gradient(#7e7e7e 0.5px,#777 12.5px,#777 95.5px,#818181 121.5px,#7f7f7f 194.5px)"></i><i style="background:linear-gradient(#7d7d7d 0.5px,#6f6f6f 7.5px,#767676 100.5px,#808080 120.5px,#7f7f7f 194.5px)"></i><i style="background:linear-gradient(#7d7d7d 0.5px,#6d6d6d 7.5px,#6e6e6e 74.5px,#818181 126.5px,#7f7f7f 194.5px)"></i><i style="background:linear-gradient(#7e7e7e 0.5px,#747474 9.5px,#777 99.5px,#818181 121.5px,#7f7f7f 194.5px)"></i><i style="background:linear-gradient(#808080 0.5px,#848484 20.5px,#7e7e7e 194.5px)"></i><i style="background:linear-gradient(#828282 0.5px,#8e8e8e 7.5px,#8f8f8f 93.5px,#7f7f7f 119.5px,#808080 194.5px)"></i><i style="background:linear-gradient(#848484 0.5px,#959595 6.5px,#8e8e8e 73.5px,#909090 96.5px,#808080 119.5px,#808080 194.5px)"></i><i style="background:linear-gradient(#838383 0.5px,#909090 6.5px,#8a8a8a 52.5px,#939393 93.5px,#808080 119.5px,#808080 194.5px)"></i><i style="width:2px;background:linear-gradient(#838383 0.5px,#929292 7.5px,#8a8a8a 101.5px,#7f7f7f 119.5px,#808080 194.5px)"></i><i style="background:linear-gradient(#818181 0.5px,#8b8b8b 9.5px,#949494 77.5px,#868686 107.5px,#7f7f7f 120.5px,#808080 194.5px)"></i><i style="background:linear-gradient(#818181 0.5px,#888 11.5px,#8b8b8b 90.5px,#7e7e7e 121.5px,#808080 194.5px)"></i><i style="background:linear-gradient(#7f7f7f 0.5px,#7b7b7b 88.5px,#818181 146.5px,#7f7f7f 194.5px)"></i><i style="background:linear-gradient(#7c7c7c 0.5px,#6d6d6d 7.5px,#717171 97.5px,#7f7f7f 117.5px,#7f7f7f 194.5px)"></i><i style="background:linear-gradient(#7b7b7b 0.5px,#666 6.5px,#656565 91.5px,#7f7f7f 117.5px,#7f7f7f 194.5px)"></i><i style="background:linear-gradient(#7b7b7b 0.5px,#646464 6.5px,#585858 38.5px,#5e5e5e 80.5px,#717171 103.5px,#7e7e7e 114.5px,#808080 194.5px)"></i><i style="background:linear-gradient(#777 0.5px,#555 5.5px,#4e4e4e 9.5px,#5d5d5d 38.5px,#707070 63.5px,#727272 103.5px,#7f7f7f 120.5px,#7f7f7f 194.5px)"></i><i style="background:linear-gradient(#7a7a7a 0.5px,#5d5d5d 6.5px,#565656 23.5px,#606060 61.5px,#808080 122.5px,#7f7f7f 194.5px)"></i><i style="background:linear-gradient(#7d7d7d 0.5px,#6f6f6f 7.5px,#717171 92.5px,#808080 120.5px,#7f7f7f 194.5px)"></i><i style="background:linear-gradient(#808080 0.5px,#868686 15.5px,#7e7e7e 189.5px,#808080 194.5px)"></i><i style="background:linear-gradient(#828282 0.5px,#8f8f8f 7.5px,#888 102.5px,#7f7f7f 122.5px,#808080 194.5px)"></i><i style="background:linear-gradient(#818181 0.5px,#898989 10.5px,#828282 115.5px,#7e7e7e 153.5px,#808080 194.5px)"></i><i style="width:2px;background:#7f7f7f"></i><i style="background:linear-gradient(#808080 0.5px,#848484 59.5px,#7e7e7e 188.5px,#808080 194.5px)"></i><i style="background:linear-gradient(#808080 0.5px,#868686 15.5px,#7e7e7e 191.5px,#808080 194.5px)"></i><i style="background:linear-gradient(#818181 0.5px,#898989 11.5px,#7e7e7e 169.5px,#808080 194.5px)"></i><i style="background:linear-gradient(#818181 0.5px,#898989 9.5px,#838383 85.5px,#848484 106.5px,#7e7e7e 132.5px,#808080 194.5px)"></i><i style="background:linear-gradient(#808080 0.5px,#808080 194.5px)"></i><i style="background:linear-gradient(#7e7e7e 0.5px,#777 11.5px,#7a7a7a 102.5px,#818181 124.5px,#7f7f7f 194.5px)"></i><i style="background:linear-gradient(#7d7d7d 0.5px,#717171 8.5px,#767676 99.5px,#808080 120.5px,#7f7f7f 194.5px)"></i><i style="background:linear-gradient(#7d7d7d 0.5px,#6f6f6f 8.5px,#6b6b6b 58.5px,#818181 125.5px,#7f7f7f 194.5px)"></i><i style="background:linear-gradient(#7c7c7c 0.5px,#696969 6.5px,#676767 28.5px,#7c7c7c 87.5px,#818181 186.5px,#7f7f7f 194.5px)"></i><i style="background:linear-gradient(#7d7d7d 0.5px,#747474 7.5px,#7b7b7b 52.5px,#737373 96.5px,#808080 121.5px,#7f7f7f 194.5px)"></i><i style="background:linear-gradient(#7f7f7f 0.5px,#7a7a7a 88.5px,#818181 140.5px,#7f7f7f 194.5px)"></i><i style="width:2px;background:linear-gradient(#808080 0.5px,#868686 14.5px,#828282 113.5px,#7e7e7e 150.5px,#808080 194.5px)"></i><i style="background:linear-gradient(#7f7f7f 0.5px,#7a7a7a 19.5px,#818181 194.5px)"></i><i style="background:linear-gradient(#7c7c7c 0.5px,#6e6e6e 7.5px,#707070 95.5px,#808080 118.5px,#7f7f7f 194.5px)"></i><i style="background:linear-gradient(#7a7a7a 0.5px,#646464 6.5px,#6a6a6a 96.5px,#7e7e7e 117.5px,#7f7f7f 194.5px)"></i><i style="background:linear-gradient(#7b7b7b 0.5px,#666 6.5px,#5b5b5b 62.5px,#646464 93.5px,#7d7d7d 114.5px,#808080 194.5px)"></i><i style="background:linear-gradient(#7a7a7a 0.5px,#646464 6.5px,#606060 87.5px,#737373 106.5px,#7d7d7d 115.5px,#808080 194.5px)"></i><i style="background:linear-gradient(#7a7a7a 0.5px,#646464 6.5px,#646464 90.5px,#7e7e7e 117.5px,#7f7f7f 194.5px)"></i><i style="background:linear-gradient(#7b7b7b 0.5px,#666 6.5px,#676767 92.5px,#7f7f7f 117.5px,#7f7f7f 194.5px)"></i><i style="background:linear-gradient(#7b7b7b 0.5px,#696969 6.5px,#666 74.5px,#707070 100.5px,#7e7e7e 115.5px,#7f7f7f 194.5px)"></i><i style="background:linear-gradient(#7d7d7d 0.5px,#6f6f6f 7.5px,#696969 84.5px,#808080 119.5px,#7f7f7f 194.5px)"></i><i style="background:linear-gradient(#7d7d7d 0.5px,#737373 8.5px,#767676 58.5px,#727272 95.5px,#808080 120.5px,#7f7f7f 194.5px)"></i><i style="background:linear-gradient(#7f7f7f 0.5px,#797979 13.5px,#818181 187.5px,#7f7f7f 194.5px)"></i><i style="width:2px;background:#7f7f7f"></i><i style="background:linear-gradient(#808080 0.5px,#868686 14.5px,#7e7e7e 186.5px,#808080 194.5px)"></i><i style="background:linear-gradient(#828282 0.5px,#909090 7.5px,#8d8d8d 94.5px,#7f7f7f 119.5px,#808080 194.5px)"></i><i style="background:linear-gradient(#828282 0.5px,#919191 7.5px,#969696 87.5px,#808080 118.5px,#808080 194.5px)"></i><i style="background:linear-gradient(#818181 0.5px,#8c8c8c 9.5px,#8e8e8e 92.5px,#7f7f7f 119.5px,#808080 194.5px)"></i><i style="background:#7f7f7f"></i><i style="background:linear-gradient(#7d7d7d 0.5px,#737373 8.5px,#7c7c7c 82.5px,#7b7b7b 106.5px,#818181 130.5px,#7f7f7f 194.5px)"></i><i style="background:linear-gradient(#7e7e7e 0.5px,#777 9.5px,#808080 44.5px,#767676 99.5px,#808080 122.5px,#7f7f7f 194.5px)"></i><i style="background:linear-gradient(#7e7e7e 0.5px,#767676 11.5px,#818181 141.5px,#7f7f7f 194.5px)"></i><i style="background:linear-gradient(#7f7f7f 0.5px,#777 15.5px,#767676 86.5px,#818181 123.5px,#7f7f7f 194.5px)"></i><i style="background:linear-gradient(#7c7c7c 0.5px,#6e6e6e 7.5px,#747474 74.5px,#737373 97.5px,#808080 120.5px,#7f7f7f 194.5px)"></i><i style="background:linear-gradient(#7c7c7c 0.5px,#6d6d6d 7.5px,#676767 89.5px,#7f7f7f 118.5px,#7f7f7f 194.5px)"></i><i style="background:linear-gradient(#7b7b7b 0.5px,#676767 6.5px,#707070 80.5px,#6f6f6f 96.5px,#7f7f7f 119.5px,#7f7f7f 194.5px)"></i><i style="background:linear-gradient(#7e7e7e 0.5px,#737373 9.5px,#6f6f6f 86.5px,#808080 120.5px,#7f7f7f 194.5px)"></i><i style="background:linear-gradient(#808080 0.5px,#808080 194.5px)"></i><i style="background:linear-gradient(#818181 0.5px,#8b8b8b 9.5px,#8b8b8b 96.5px,#7f7f7f 119.5px,#808080 194.5px)"></i><i style="background:linear-gradient(#828282 0.5px,#8d8d8d 7.5px,#878787 87.5px,#868686 103.5px,#7f7f7f 123.5px,#808080 194.5px)"></i><i style="background:linear-gradient(#808080 0.5px,#808080 194.5px)"></i><i style="background:linear-gradient(#7e7e7e 0.5px,#767676 9.5px,#757575 96.5px,#808080 120.5px,#7f7f7f 194.5px)"></i><i style="width:2px;background:linear-gradient(#7d7d7d 0.5px,#6f6f6f 7.5px,#717171 96.5px,#808080 118.5px,#7f7f7f 194.5px)"></i><i style="background:linear-gradient(#7d7d7d 0.5px,#6f6f6f 8.5px,#6d6d6d 76.5px,#808080 123.5px,#7f7f7f 194.5px)"></i><i style="background:linear-gradient(#7c7c7c 0.5px,#6c6c6c 7.5px,#6b6b6b 71.5px,#767676 103.5px,#808080 118.5px,#7f7f7f 194.5px)"></i><i style="background:linear-gradient(#7c7c7c 0.5px,#6a6a6a 6.5px,#6b6b6b 92.5px,#7f7f7f 118.5px,#7f7f7f 194.5px)"></i><i style="background:linear-gradient(#7b7b7b 0.5px,#656565 6.5px,#676767 36.5px,#727272 76.5px,#727272 99.5px,#7f7f7f 119.5px,#7f7f7f 194.5px)"></i><i style="background:linear-gradient(#7d7d7d 0.5px,#737373 7.5px,#767676 48.5px,#6d6d6d 91.5px,#808080 120.5px,#7f7f7f 194.5px)"></i><i style="width:3px;background:linear-gradient(#7e7e7e 0.5px,#787878 12.5px,#7d7d7d 113.5px,#818181 152.5px,#7f7f7f 194.5px)"></i><i style="width:2px;background:linear-gradient(#7f7f7f 0.5px,#7e7e7e 113.5px,#818181 194.5px)"></i><i style="background:linear-gradient(#7d7d7d 0.5px,#737373 8.5px,#747474 96.5px,#808080 120.5px,#7f7f7f 194.5px)"></i><i style="background:linear-gradient(#7c7c7c 0.5px,#6d6d6d 7.5px,#666 85.5px,#808080 119.5px,#7f7f7f 194.5px)"></i><i style="background:linear-gradient(#7b7b7b 0.5px,#696969 6.5px,#676767 89.5px,#7f7f7f 118.5px,#7f7f7f 194.5px)"></i><i style="background:linear-gradient(#7c7c7c 0.5px,#6b6b6b 7.5px,#6a6a6a 91.5px,#7f7f7f 118.5px,#7f7f7f 194.5px)"></i><i style="background:linear-gradient(#7d7d7d 0.5px,#727272 8.5px,#757575 97.5px,#808080 120.5px,#7f7f7f 194.5px)"></i><i style="width:2px;background:linear-gradient(#7f7f7f 0.5px,#7a7a7a 18.5px,#818181 194.5px)"></i><i style="background:linear-gradient(#7f7f7f 0.5px,#797979 16.5px,#7b7b7b 105.5px,#818181 128.5px,#7f7f7f 194.5px)"></i><i style="background:linear-gradient(#7e7e7e 0.5px,#767676 10.5px,#7b7b7b 106.5px,#818181 127.5px,#7f7f7f 194.5px)"></i><i style="background:linear-gradient(#7e7e7e 0.5px,#747474 8.5px,#757575 98.5px,#808080 120.5px,#7f7f7f 194.5px)"></i><i style="background:linear-gradient(#7d7d7d 0.5px,#707070 7.5px,#747474 53.5px,#6d6d6d 94.5px,#808080 120.5px,#7f7f7f 194.5px)"></i><i style="background:linear-gradient(#7c7c7c 0.5px,#6d6d6d 7.5px,#727272 99.5px,#7f7f7f 119.5px,#7f7f7f 194.5px)"></i><i style="background:linear-gradient(#7e7e7e 0.5px,#757575 8.5px,#777 62.5px,#737373 95.5px,#808080 122.5px,#7f7f7f 194.5px)"></i><i style="background:#808080"></i><i style="width:2px;background:linear-gradient(#818181 0.5px,#898989 10.5px,#838383 110.5px,#7e7e7e 136.5px,#808080 194.5px)"></i><i style="width:3px;background:linear-gradient(#808080 0.5px,#858585 19.5px,#7e7e7e 194.5px)"></i><i style="background:linear-gradient(#818181 0.5px,#8a8a8a 9.5px,#878787 103.5px,#7e7e7e 126.5px,#808080 194.5px)"></i><i style="background:linear-gradient(#818181 0.5px,#8c8c8c 8.5px,#8f8f8f 90.5px,#7f7f7f 125.5px,#808080 194.5px)"></i><i style="background:linear-gradient(#838383 0.5px,#949494 6.5px,#909090 86.5px,#909090 101.5px,#808080 122.5px,#808080 194.5px)"></i><i style="background:linear-gradient(#858585 0.5px,#9b9b9b 6.5px,#9a9a9a 98.5px,#818181 121.5px,#808080 194.5px)"></i><i style="background:linear-gradient(#858585 0.5px,#9e9e9e 6.5px,#a6a6a6 86.5px,#9a9a9a 103.5px,#848484 118.5px,#7e7e7e 154.5px,#808080 194.5px)"></i><i style="background:linear-gradient(#868686 0.5px,#a3a3a3 6.5px,#a9a9a9 30.5px,#999 100.5px,#818181 121.5px,#7f7f7f 194.5px)"></i><i style="background:linear-gradient(#848484 0.5px,#989898 6.5px,#999 96.5px,#808080 123.5px,#808080 194.5px)"></i><i style="background:linear-gradient(#828282 0.5px,#909090 8.5px,#949494 72.5px,#878787 110.5px,#7f7f7f 124.5px,#808080 194.5px)"></i><i style="background:linear-gradient(#838383 0.5px,#939393 6.5px,#8b8b8b 60.5px,#939393 100.5px,#808080 126.5px,#808080 194.5px)"></i><i style="background:linear-gradient(#838383 0.5px,#929292 6.5px,#929292 37.5px,#aaa 85.5px,#a2a2a2 102.5px,#838383 120.5px,#7e7e7e 157.5px,#808080 194.5px)"></i><i style="background:linear-gradient(#888 0.5px,#a8a8a8 5.5px,#ababab 10.5px,#939393 40.5px,#959595 65.5px,#ababab 98.5px,#9f9f9f 109.5px,#868686 121.5px,#7e7e7e 143.5px,#808080 194.5px)"></i><i style="background:linear-gradient(#8a8a8a 0.5px,#a2a2a2 3.5px,#b5b5b5 5.5px,#c0c0c0 9.5px,#c3c3c3 29.5px,#a8a8a8 61.5px,#959595 80.5px,#8b8b8b 114.5px,#808080 128.5px,#808080 194.5px)"></i><i style="background:linear-gradient(#858585 0.5px,#999 6.5px,#969696 28.5px,#b2b2b2 62.5px,#c2c2c2 80.5px,#c1c1c1 96.5px,#acacac 107.5px,#8b8b8b 118.5px,#808080 131.5px,#808080 194.5px)"></i><i style="background:linear-gradient(#878787 0.5px,#a4a4a4 5.5px,#a9a9a9 10.5px,#a4a4a4 36.5px,#bababa 91.5px,#b0b0b0 104.5px,#898989 120.5px,#7f7f7f 135.5px,#808080 194.5px)"></i><i style="background:linear-gradient(#878787 0.5px,#a5a5a5 5.5px,#acacac 10.5px,#ababab 42.5px,#b9b9b9 89.5px,#afafaf 103.5px,#878787 121.5px,#7e7e7e 139.5px,#808080 194.5px)"></i><i style="background:linear-gradient(#868686 0.5px,#9d9d9d 5.5px,#a3a3a3 12.5px,#a6a6a6 32.5px,#bfbfbf 75.5px,#bbb 96.5px,#a7a7a7 108.5px,#8a8a8a 119.5px,#7f7f7f 133.5px,#808080 194.5px)"></i><i style="background:linear-gradient(#8c8c8c 0.5px,#bbb 5.5px,#c3c3c3 8.5px,#b8b8b8 26.5px,#999 56.5px,#969696 79.5px,#a4a4a4 104.5px,#919191 118.5px,#848484 126.5px,#7e7e7e 161.5px,#808080 194.5px)"></i><i style="background:linear-gradient(#888 0.5px,#a4a4a4 5.5px,#a9a9a9 10.5px,#9c9c9c 38.5px,#a7a7a7 73.5px,#b3b3b3 95.5px,#aaa 107.5px,#888 122.5px,#7e7e7e 140.5px,#808080 194.5px)"></i><i style="background:linear-gradient(#868686 0.5px,#a0a0a0 5.5px,#a4a4a4 11.5px,#9f9f9f 36.5px,#b4b4b4 93.5px,#aaa 106.5px,#878787 122.5px,#7e7e7e 141.5px,#808080 194.5px)"></i><i style="background:linear-gradient(#878787 0.5px,#a6a6a6 5.5px,#b1b1b1 10.5px,#bfbfbf 45.5px,#b2b2b2 80.5px,#9a9a9a 108.5px,#848484 122.5px,#7e7e7e 154.5px,#808080 194.5px)"></i><i style="background:linear-gradient(#898989 0.5px,#acacac 5.5px,#b3b3b3 9.5px,#b2b2b2 55.5px,#bababa 94.5px,#adadad 107.5px,#898989 122.5px,#7f7f7f 138.5px,#808080 194.5px)"></i><i style="background:linear-gradient(#8a8a8a 0.5px,#aeaeae 5.5px,#b3b3b3 9.5px,#a6a6a6 35.5px,#b0b0b0 64.5px,#c6c6c6 93.5px,#bfbfbf 104.5px,#a1a1a1 115.5px,#8c8c8c 122.5px,#808080 135.5px,#808080 194.5px)"></i><i style="background:linear-gradient(#8c8c8c 0.5px,#9f9f9f 2.5px,#b6b6b6 4.5px,#c3c3c3 6.5px,#cbcbcb 11.5px,#bfbfbf 42.5px,#aaa 72.5px,#a8a8a8 105.5px,#848484 127.5px,#7e7e7e 162.5px,#808080 194.5px)"></i><i style="background:linear-gradient(#8a8a8a 0.5px,#b4b4b4 5.5px,#bcbcbc 9.5px,#a9a9a9 65.5px,#afafaf 102.5px,#9d9d9d 114.5px,#898989 123.5px,#7f7f7f 140.5px,#808080 194.5px)"></i><i style="background:linear-gradient(#868686 0.5px,#9d9d9d 5.5px,#a1a1a1 12.5px,#9a9a9a 42.5px,#a7a7a7 99.5px,#979797 113.5px,#858585 123.5px,#7e7e7e 147.5px,#808080 194.5px)"></i><i style="background:linear-gradient(#848484 0.5px,#989898 6.5px,#9e9e9e 38.5px,#8e8e8e 109.5px,#808080 128.5px,#808080 194.5px)"></i><i style="background:linear-gradient(#848484 0.5px,#979797 6.5px,#959595 72.5px,#999 102.5px,#808080 129.5px,#808080 194.5px)"></i><i style="background:linear-gradient(#858585 0.5px,#9b9b9b 6.5px,#9d9d9d 63.5px,#969696 106.5px,#818181 127.5px,#7f7f7f 194.5px)"></i><i style="background:linear-gradient(#868686 0.5px,#9e9e9e 5.5px,#a3a3a3 11.5px,#939393 61.5px,#9a9a9a 106.5px,#818181 129.5px,#808080 194.5px)"></i><i style="background:linear-gradient(#838383 0.5px,#929292 6.5px,#989898 61.5px,#9e9e9e 91.5px,#949494 110.5px,#828282 125.5px,#7f7f7f 194.5px)"></i><i style="background:linear-gradient(#838383 0.5px,#939393 6.5px,#919191 101.5px,#7f7f7f 132.5px,#808080 194.5px)"></i><i style="background:linear-gradient(#838383 0.5px,#929292 7.5px,#919191 104.5px,#7f7f7f 130.5px,#808080 194.5px)"></i><i style="background:linear-gradient(#838383 0.5px,#939393 6.5px,#979797 100.5px,#808080 130.5px,#808080 194.5px)"></i><i style="background:linear-gradient(#858585 0.5px,#9f9f9f 6.5px,#a1a1a1 32.5px,#959595 93.5px,#949494 108.5px,#818181 128.5px,#808080 194.5px)"></i><i style="background:linear-gradient(#858585 0.5px,#a0a0a0 6.5px,#a5a5a5 30.5px,#939393 109.5px,#818181 128.5px,#808080 194.5px)"></i><i style="background:linear-gradient(#858585 0.5px,#9c9c9c 6.5px,#909090 57.5px,#9b9b9b 104.5px,#818181 129.5px,#808080 194.5px)"></i><i style="background:linear-gradient(#828282 0.5px,#8c8c8c 8.5px,#8c8c8c 32.5px,#a0a0a0 82.5px,#999 105.5px,#818181 125.5px,#7f7f7f 194.5px)"></i><i style="background:linear-gradient(#848484 0.5px,#989898 6.5px,#9d9d9d 28.5px,#888 96.5px,#878787 116.5px,#7f7f7f 136.5px,#808080 194.5px)"></i><i style="width:2px;background:linear-gradient(#838383 0.5px,#949494 6.5px,#959595 50.5px,#8b8b8b 112.5px,#7f7f7f 130.5px,#808080 194.5px)"></i><i style="background:linear-gradient(#848484 0.5px,#969696 6.5px,#8e8e8e 59.5px,#979797 103.5px,#808080 130.5px,#808080 194.5px)"></i><i style="background:linear-gradient(#838383 0.5px,#949494 6.5px,#9a9a9a 53.5px,#a3a3a3 86.5px,#9b9b9b 107.5px,#828282 125.5px,#7e7e7e 194.5px)"></i><i style="background:linear-gradient(#848484 0.5px,#9a9a9a 6.5px,#aaa 57.5px,#a0a0a0 98.5px,#818181 127.5px,#808080 194.5px)"></i><i style="background:linear-gradient(#868686 0.5px,#9d9d9d 5.5px,#a3a3a3 11.5px,#999 78.5px,#9b9b9b 104.5px,#818181 129.5px,#808080 194.5px)"></i><i style="background:linear-gradient(#848484 0.5px,#979797 6.5px,#9c9c9c 56.5px,#929292 107.5px,#808080 128.5px,#808080 194.5px)"></i><i style="background:linear-gradient(#848484 0.5px,#989898 6.5px,#979797 39.5px,#8e8e8e 83.5px,#8f8f8f 109.5px,#7f7f7f 131.5px,#808080 194.5px)"></i><i style="background:linear-gradient(#838383 0.5px,#919191 7.5px,#909090 49.5px,#999 95.5px,#8e8e8e 114.5px,#818181 126.5px,#7f7f7f 194.5px)"></i><i style="background:linear-gradient(#848484 0.5px,#959595 6.5px,#949494 102.5px,#7f7f7f 131.5px,#808080 194.5px)"></i><i style="background:linear-gradient(#848484 0.5px,#979797 6.5px,#9d9d9d 82.5px,#949494 109.5px,#818181 126.5px,#7f7f7f 194.5px)"></i><i style="background:linear-gradient(#858585 0.5px,#a0a0a0 6.5px,#a7a7a7 42.5px,#9d9d9d 103.5px,#818181 128.5px,#808080 194.5px)"></i><i style="background:linear-gradient(#878787 0.5px,#a2a2a2 5.5px,#a9a9a9 10.5px,#aeaeae 67.5px,#b1b1b1 92.5px,#a5a5a5 108.5px,#868686 124.5px,#7e7e7e 147.5px,#808080 194.5px)"></i><i style="background:linear-gradient(#898989 0.5px,#adadad 5.5px,#b5b5b5 9.5px,#b6b6b6 67.5px,#acacac 103.5px,#858585 126.5px,#7e7e7e 154.5px,#808080 194.5px)"></i><i style="background:linear-gradient(#898989 0.5px,#afafaf 5.5px,#b7b7b7 9.5px,#b0b0b0 86.5px,#b0b0b0 101.5px,#9f9f9f 113.5px,#878787 124.5px,#7f7f7f 143.5px,#808080 194.5px)"></i><i style="background:linear-gradient(#888 0.5px,#aaa 5.5px,#b3b3b3 10.5px,#aeaeae 93.5px,#a2a2a2 109.5px,#858585 125.5px,#7e7e7e 152.5px,#808080 194.5px)"></i><i style="background:linear-gradient(#878787 0.5px,#a4a4a4 5.5px,#acacac 10.5px,#a8a8a8 100.5px,#959595 115.5px,#858585 124.5px,#7e7e7e 148.5px,#808080 194.5px)"></i><i style="background:linear-gradient(#868686 0.5px,#a2a2a2 6.5px,#a8a8a8 40.5px,#9e9e9e 104.5px,#828282 127.5px,#7f7f7f 194.5px)"></i><i style="background:linear-gradient(#858585 0.5px,#9c9c9c 6.5px,#9c9c9c 98.5px,#8d8d8d 117.5px,#818181 127.5px,#7f7f7f 194.5px)"></i><i style="background:linear-gradient(#848484 0.5px,#969696 6.5px,#9d9d9d 95.5px,#8f8f8f 114.5px,#818181 126.5px,#7f7f7f 194.5px)"></i><i style="background:linear-gradient(#858585 0.5px,#9b9b9b 5.5px,#9f9f9f 12.5px,#949494 49.5px,#9f9f9f 103.5px,#818181 129.5px,#808080 194.5px)"></i><i style="background:linear-gradient(#848484 0.5px,#979797 6.5px,#929292 32.5px,#b5b5b5 90.5px,#afafaf 104.5px,#868686 124.5px,#7e7e7e 145.5px,#808080 194.5px)"></i><i style="background:linear-gradient(#838383 0.5px,#919191 6.5px,#959595 28.5px,#bfbfbf 74.5px,#bebebe 94.5px,#acacac 107.5px,#898989 121.5px,#7f7f7f 136.5px,#808080 194.5px)"></i><i style="background:linear-gradient(#8a8a8a 0.5px,#b1b1b1 5.5px,#b6b6b6 9.5px,#939393 45.5px,#929292 68.5px,#aeaeae 102.5px,#a5a5a5 112.5px,#888 125.5px,#7f7f7f 143.5px,#808080 194.5px)"></i><i style="background:linear-gradient(#868686 0.5px,#a3a3a3 6.5px,#b4b4b4 28.5px,#b9b9b9 58.5px,#a2a2a2 99.5px,#828282 125.5px,#7e7e7e 194.5px)"></i><i style="background:linear-gradient(#868686 0.5px,#9f9f9f 5.5px,#a6a6a6 11.5px,#a3a3a3 101.5px,#818181 128.5px,#7f7f7f 194.5px)"></i><i style="background:linear-gradient(#848484 0.5px,#989898 6.5px,#959595 106.5px,#818181 128.5px,#808080 194.5px)"></i><i style="width:2px;background:linear-gradient(#828282 0.5px,#8f8f8f 7.5px,#8b8b8b 109.5px,#7f7f7f 130.5px,#808080 194.5px)"></i><i style="background:linear-gradient(#828282 0.5px,#8c8c8c 8.5px,#8b8b8b 106.5px,#7f7f7f 131.5px,#808080 194.5px)"></i><i style="background:linear-gradient(#818181 0.5px,#8a8a8a 10.5px,#8d8d8d 62.5px,#909090 92.5px,#7e7e7e 133.5px,#808080 194.5px)"></i><i style="background:linear-gradient(#818181 0.5px,#8b8b8b 11.5px,#979797 67.5px,#898989 109.5px,#7f7f7f 126.5px,#808080 194.5px)"></i><i style="background:linear-gradient(#858585 0.5px,#a0a0a0 6.5px,#a7a7a7 22.5px,#999 59.5px,#8a8a8a 86.5px,#868686 118.5px,#7f7f7f 137.5px,#808080 194.5px)"></i><i style="background:linear-gradient(#868686 0.5px,#a5a5a5 6.5px,#ababab 21.5px,#9b9b9b 59.5px,#8d8d8d 82.5px,#898989 115.5px,#7f7f7f 133.5px,#808080 194.5px)"></i><i style="background:linear-gradient(#838383 0.5px,#919191 7.5px,#929292 39.5px,#a1a1a1 84.5px,#9a9a9a 105.5px,#828282 124.5px,#7f7f7f 194.5px)"></i><i style="background:linear-gradient(#858585 0.5px,#9e9e9e 6.5px,#929292 71.5px,#989898 104.5px,#808080 129.5px,#808080 194.5px)"></i><i style="background:linear-gradient(#858585 0.5px,#9a9a9a 5.5px,#9e9e9e 13.5px,#979797 37.5px,#a8a8a8 97.5px,#9c9c9c 110.5px,#858585 123.5px,#7e7e7e 151.5px,#808080 194.5px)"></i><i style="background:linear-gradient(#858585 0.5px,#9e9e9e 6.5px,#adadad 81.5px,#a4a4a4 103.5px,#848484 123.5px,#7e7e7e 158.5px,#808080 194.5px)"></i><i style="background:linear-gradient(#858585 0.5px,#9b9b9b 6.5px,#a3a3a3 50.5px,#aeaeae 81.5px,#a7a7a7 102.5px,#848484 123.5px,#7e7e7e 157.5px,#808080 194.5px)"></i><i style="background:linear-gradient(#878787 0.5px,#ababab 6.5px,#b6b6b6 18.5px,#b7b7b7 43.5px,#8e8e8e 99.5px,#7f7f7f 136.5px,#808080 194.5px)"></i><i style="background:linear-gradient(#828282 0.5px,#8b8b8b 7.5px,#8b8b8b 23.5px,#a9a9a9 53.5px,#bfbfbf 71.5px,#c3c3c3 90.5px,#b3b3b3 103.5px,#898989 119.5px,#7f7f7f 134.5px,#808080 194.5px)"></i><i style="background:linear-gradient(#898989 0.5px,#a9a9a9 5.5px,#aaa 10.5px,#8e8e8e 33.5px,#888 53.5px,#9c9c9c 76.5px,#b5b5b5 96.5px,#b1b1b1 106.5px,#878787 123.5px,#7f7f7f 141.5px,#808080 194.5px)"></i><i style="background:linear-gradient(#888 0.5px,#ababab 5.5px,#b5b5b5 8.5px,#c0c0c0 26.5px,#b7b7b7 49.5px,#8e8e8e 88.5px,#7e7e7e 142.5px,#808080 194.5px)"></i><i style="background:linear-gradient(#838383 0.5px,#949494 7.5px,#9a9a9a 41.5px,#a7a7a7 73.5px,#a1a1a1 99.5px,#828282 122.5px,#7f7f7f 194.5px)"></i><i style="background:linear-gradient(#838383 0.5px,#939393 6.5px,#949494 99.5px,#808080 126.5px,#808080 194.5px)"></i><i style="background:linear-gradient(#838383 0.5px,#929292 7.5px,#909090 102.5px,#808080 125.5px,#808080 194.5px)"></i><i style="background:linear-gradient(#838383 0.5px,#929292 6.5px,#8d8d8d 105.5px,#7f7f7f 126.5px,#808080 194.5px)"></i><i style="background:linear-gradient(#838383 0.5px,#919191 7.5px,#888 109.5px,#7f7f7f 128.5px,#808080 194.5px)"></i><i style="background:linear-gradient(#818181 0.5px,#8b8b8b 9.5px,#848484 113.5px,#7e7e7e 132.5px,#808080 194.5px)"></i><i style="background:linear-gradient(#808080 0.5px,#868686 14.5px,#7e7e7e 194.5px)"></i><i style="background:linear-gradient(#818181 0.5px,#888 11.5px,#858585 107.5px,#7e7e7e 128.5px,#808080 194.5px)"></i><i style="background:linear-gradient(#838383 0.5px,#909090 7.5px,#8b8b8b 44.5px,#979797 95.5px,#808080 124.5px,#808080 194.5px)"></i><i style="background:linear-gradient(#878787 0.5px,#a6a6a6 5.5px,#adadad 10.5px,#8f8f8f 73.5px,#919191 104.5px,#808080 125.5px,#808080 194.5px)"></i><i style="background:linear-gradient(#858585 0.5px,#a0a0a0 6.5px,#aaa 28.5px,#a5a5a5 68.5px,#919191 104.5px,#818181 119.5px,#7f7f7f 194.5px)"></i><i style="background:linear-gradient(#848484 0.5px,#9a9a9a 6.5px,#9a9a9a 94.5px,#808080 122.5px,#808080 194.5px)"></i><i style="background:linear-gradient(#828282 0.5px,#8e8e8e 8.5px,#8d8d8d 95.5px,#7f7f7f 125.5px,#808080 194.5px)"></i><i style="background:linear-gradient(#7f7f7f 0.5px,#797979 14.5px,#7d7d7d 114.5px,#818181 146.5px,#7f7f7f 194.5px)"></i><i style="background:linear-gradient(#7d7d7d 0.5px,#707070 8.5px,#6f6f6f 94.5px,#808080 123.5px,#7f7f7f 194.5px)"></i><i style="background:linear-gradient(#7d7d7d 0.5px,#717171 8.5px,#6c6c6c 90.5px,#808080 123.5px,#7f7f7f 194.5px)"></i><i style="width:2px;background:linear-gradient(#7d7d7d 0.5px,#727272 7.5px,#737373 71.5px,#717171 97.5px,#808080 122.5px,#7f7f7f 194.5px)"></i><i style="background:linear-gradient(#7d7d7d 0.5px,#727272 8.5px,#6d6d6d 88.5px,#808080 123.5px,#7f7f7f 194.5px)"></i><i style="background:linear-gradient(#7e7e7e 0.5px,#757575 9.5px,#747474 96.5px,#808080 122.5px,#7f7f7f 194.5px)"></i><i style="background:#808080"></i><i style="background:linear-gradient(#828282 0.5px,#8e8e8e 8.5px,#888 102.5px,#7f7f7f 123.5px,#808080 194.5px)"></i><i style="background:linear-gradient(#838383 0.5px,#939393 7.5px,#8a8a8a 84.5px,#8b8b8b 101.5px,#7f7f7f 123.5px,#808080 194.5px)"></i><i style="background:linear-gradient(#818181 0.5px,#8a8a8a 9.5px,#8c8c8c 48.5px,#939393 85.5px,#7f7f7f 123.5px,#808080 194.5px)"></i><i style="background:linear-gradient(#818181 0.5px,#868686 12.5px,#858585 67.5px,#878787 100.5px,#7e7e7e 125.5px,#808080 194.5px)"></i><i style="background:linear-gradient(#7e7e7e 0.5px,#777 10.5px,#767676 99.5px,#808080 122.5px,#7f7f7f 194.5px)"></i><i style="background:linear-gradient(#7a7a7a 0.5px,#616161 6.5px,#5e5e5e 24.5px,#797979 85.5px,#7b7b7b 113.5px,#818181 133.5px,#7f7f7f 194.5px)"></i><i style="background:linear-gradient(#7e7e7e 0.5px,#757575 9.5px,#717171 50.5px,#6a6a6a 80.5px,#737373 103.5px,#7f7f7f 117.5px,#7f7f7f 194.5px)"></i><i style="background:linear-gradient(#818181 0.5px,#878787 13.5px,#7e7e7e 187.5px,#808080 194.5px)"></i><i style="background:linear-gradient(#828282 0.5px,#8d8d8d 7.5px,#8b8b8b 50.5px,#939393 93.5px,#7f7f7f 122.5px,#808080 194.5px)"></i><i style="background:linear-gradient(#838383 0.5px,#929292 7.5px,#8d8d8d 97.5px,#7f7f7f 123.5px,#808080 194.5px)"></i><i style="background:linear-gradient(#828282 0.5px,#8d8d8d 8.5px,#898989 101.5px,#7f7f7f 122.5px,#808080 194.5px)"></i><i style="background:linear-gradient(#808080 0.5px,#848484 29.5px,#7f7f7f 194.5px)"></i><i style="background:linear-gradient(#7e7e7e 0.5px,#767676 10.5px,#7a7a7a 107.5px,#818181 129.5px,#7f7f7f 194.5px)"></i><i style="background:linear-gradient(#7d7d7d 0.5px,#6f6f6f 7.5px,#787878 105.5px,#808080 124.5px,#7f7f7f 194.5px)"></i><i style="background:linear-gradient(#7e7e7e 0.5px,#747474 9.5px,#767676 95.5px,#818181 127.5px,#7f7f7f 194.5px)"></i><i style="background:#7f7f7f"></i><i style="background:linear-gradient(#808080 0.5px,#858585 14.5px,#818181 63.5px,#858585 104.5px,#7e7e7e 131.5px,#808080 194.5px)"></i><i style="background:#808080"></i><i style="background:linear-gradient(#7d7d7d 0.5px,#6f6f6f 8.5px,#6a6a6a 47.5px,#808080 119.5px,#7f7f7f 194.5px)"></i><i style="background:linear-gradient(#7b7b7b 0.5px,#676767 6.5px,#5e5e5e 27.5px,#686868 66.5px,#7e7e7e 114.5px,#7f7f7f 194.5px)"></i><i style="background:linear-gradient(#7d7d7d 0.5px,#6f6f6f 8.5px,#6f6f6f 74.5px,#818181 131.5px,#7f7f7f 194.5px)"></i><i style="background:linear-gradient(#7f7f7f 0.5px,#797979 14.5px,#7d7d7d 115.5px,#818181 146.5px,#7f7f7f 194.5px)"></i><i style="background:linear-gradient(#7e7e7e 0.5px,#777 13.5px,#7c7c7c 107.5px,#818181 135.5px,#7f7f7f 194.5px)"></i><i style="background:linear-gradient(#7b7b7b 0.5px,#676767 6.5px,#787878 54.5px,#6c6c6c 101.5px,#7f7f7f 124.5px,#7f7f7f 194.5px)"></i><i style="background:linear-gradient(#7b7b7b 0.5px,#6a6a6a 6.5px,#616161 39.5px,#4d4d4d 73.5px,#525252 94.5px,#6d6d6d 110.5px,#7a7a7a 117.5px,#818181 141.5px,#7f7f7f 194.5px)"></i><i style="background:linear-gradient(#787878 0.5px,#5a5a5a 5.5px,#525252 10.5px,#565656 69.5px,#606060 100.5px,#7c7c7c 120.5px,#818181 177.5px,#7f7f7f 194.5px)"></i><i style="background:linear-gradient(#7a7a7a 0.5px,#636363 6.5px,#535353 67.5px,#5c5c5c 96.5px,#7c7c7c 119.5px,#818181 169.5px,#7f7f7f 194.5px)"></i><i style="background:linear-gradient(#7b7b7b 0.5px,#696969 6.5px,#5b5b5b 88.5px,#686868 105.5px,#7c7c7c 118.5px,#818181 156.5px,#7f7f7f 194.5px)"></i><i style="background:linear-gradient(#7a7a7a 0.5px,#626262 6.5px,#636363 71.5px,#5f5f5f 96.5px,#7e7e7e 123.5px,#7f7f7f 194.5px)"></i><i style="background:linear-gradient(#797979 0.5px,#5c5c5c 6.5px,#4f4f4f 26.5px,#4e4e4e 59.5px,#676767 101.5px,#7d7d7d 120.5px,#808080 194.5px)"></i><i style="background:linear-gradient(#757575 0.5px,#4c4c4c 5.5px,#414141 9.5px,#4a4a4a 38.5px,#616161 73.5px,#636363 103.5px,#7d7d7d 124.5px,#808080 194.5px)"></i><i style="background:linear-gradient(#747474 0.5px,#474747 5.5px,#3f3f3f 9.5px,#585858 58.5px,#515151 100.5px,#686868 113.5px,#797979 121.5px,#818181 143.5px,#7f7f7f 194.5px)"></i><i style="background:linear-gradient(#747474 0.5px,#595959 3.5px,#444 5.5px,#393939 9.5px,#373737 36.5px,#5c5c5c 103.5px,#7a7a7a 121.5px,#818181 147.5px,#7f7f7f 194.5px)"></i><i style="background:linear-gradient(#7b7b7b 0.5px,#656565 6.5px,#525252 30.5px,#2d2d2d 60.5px,#272727 80.5px,#353535 95.5px,#555 107.5px,#707070 115.5px,#7e7e7e 126.5px,#7f7f7f 194.5px)"></i><i style="background:linear-gradient(#727272 0.5px,#5f5f5f 2.5px,#474747 4.5px,#393939 6.5px,#323232 11.5px,#474747 37.5px,#646464 62.5px,#696969 84.5px,#626262 104.5px,#7d7d7d 127.5px,#808080 194.5px)"></i><i style="background:linear-gradient(#787878 0.5px,#585858 5.5px,#4f4f4f 10.5px,#555 46.5px,#666 84.5px,#696969 105.5px,#7e7e7e 125.5px,#808080 194.5px)"></i><i style="background:linear-gradient(#7c7c7c 0.5px,#6a6a6a 6.5px,#666 96.5px,#7f7f7f 126.5px,#7f7f7f 194.5px)"></i><i style="width:2px;background:linear-gradient(#7d7d7d 0.5px,#707070 7.5px,#747474 106.5px,#808080 128.5px,#7f7f7f 194.5px)"></i><i style="background:linear-gradient(#7b7b7b 0.5px,#696969 6.5px,#686868 101.5px,#7f7f7f 126.5px,#7f7f7f 194.5px)"></i><i style="background:linear-gradient(#797979 0.5px,#5e5e5e 6.5px,#585858 85.5px,#616161 105.5px,#7c7c7c 123.5px,#818181 163.5px,#7f7f7f 194.5px)"></i><i style="background:linear-gradient(#7a7a7a 0.5px,#646464 6.5px,#5c5c5c 38.5px,#464646 75.5px,#4a4a4a 97.5px,#5f5f5f 110.5px,#777 120.5px,#808080 136.5px,#7f7f7f 194.5px)"></i><i style="background:linear-gradient(#7a7a7a 0.5px,#5d5d5d 6.5px,#4a4a4a 32.5px,#474747 63.5px,#5d5d5d 100.5px,#7c7c7c 123.5px,#818181 178.5px,#7f7f7f 194.5px)"></i><i style="background:linear-gradient(#797979 0.5px,#5e5e5e 5.5px,#585858 10.5px,#666 80.5px,#646464 104.5px,#7e7e7e 128.5px,#7f7f7f 194.5px)"></i><i style="background:linear-gradient(#7c7c7c 0.5px,#6e6e6e 7.5px,#6e6e6e 104.5px,#808080 129.5px,#7f7f7f 194.5px)"></i><i style="background:linear-gradient(#7d7d7d 0.5px,#717171 8.5px,#747474 109.5px,#808080 130.5px,#7f7f7f 194.5px)"></i><i style="background:linear-gradient(#7c7c7c 0.5px,#6d6d6d 7.5px,#626262 88.5px,#6e6e6e 111.5px,#7e7e7e 125.5px,#808080 194.5px)"></i><i style="background:linear-gradient(#797979 0.5px,#5e5e5e 5.5px,#585858 11.5px,#575757 43.5px,#4c4c4c 87.5px,#555 105.5px,#7a7a7a 125.5px,#818181 151.5px,#7f7f7f 194.5px)"></i><i style="background:linear-gradient(#767676 0.5px,#525252 5.5px,#4a4a4a 9.5px,#3f3f3f 81.5px,#494949 103.5px,#686868 118.5px,#767676 124.5px,#808080 140.5px,#7f7f7f 194.5px)"></i><i style="background:linear-gradient(#747474 0.5px,#595959 3.5px,#464646 5.5px,#3b3b3b 9.5px,#373737 45.5px,#4d4d4d 104.5px,#6a6a6a 119.5px,#787878 126.5px,#818181 146.5px,#7f7f7f 194.5px)"></i><i style="background:linear-gradient(#767676 0.5px,#4e4e4e 5.5px,#444 8.5px,#2f2f2f 41.5px,#333 70.5px,#4e4e4e 104.5px,#7a7a7a 126.5px,#818181 151.5px,#7f7f7f 194.5px)"></i><i style="background:linear-gradient(#737373 0.5px,#5f5f5f 2.5px,#3a3a3a 5.5px,#2e2e2e 8.5px,#232323 20.5px,#282828 39.5px,#656565 85.5px,#6f6f6f 118.5px,#7e7e7e 133.5px,#808080 194.5px)"></i><i style="background:linear-gradient(#7a7a7a 0.5px,#5b5b5b 6.5px,#494949 21.5px,#3f3f3f 46.5px,#4d4d4d 72.5px,#7a7a7a 120.5px,#818181 156.5px,#7f7f7f 194.5px)"></i><i style="background:linear-gradient(#7c7c7c 0.5px,#6d6d6d 7.5px,#6b6b6b 63.5px,#676767 98.5px,#757575 119.5px,#7f7f7f 130.5px,#7f7f7f 194.5px)"></i><i style="background:linear-gradient(#7e7e7e 0.5px,#747474 8.5px,#7a7a7a 98.5px,#7a7a7a 118.5px,#818181 139.5px,#7f7f7f 194.5px)"></i><i style="background:linear-gradient(#7f7f7f 0.5px,#787878 25.5px,#818181 185.5px,#7f7f7f 194.5px)"></i><i style="width:2px;background:linear-gradient(#7f7f7f 0.5px,#7b7b7b 50.5px,#818181 194.5px)"></i><i style="background:linear-gradient(#7e7e7e 0.5px,#757575 9.5px,#7a7a7a 118.5px,#818181 140.5px,#7f7f7f 194.5px)"></i><i style="background:linear-gradient(#7b7b7b 0.5px,#676767 6.5px,#686868 61.5px,#606060 102.5px,#6d6d6d 118.5px,#7d7d7d 130.5px,#818181 188.5px,#7f7f7f 194.5px)"></i><i style="background:linear-gradient(#787878 0.5px,#5c5c5c 5.5px,#545454 10.5px,#434343 74.5px,#4d4d4d 104.5px,#656565 119.5px,#787878 128.5px,#818181 149.5px,#7f7f7f 194.5px)"></i><i style="background:linear-gradient(#767676 0.5px,#4f4f4f 5.5px,#464646 9.5px,#4f4f4f 88.5px,#4e4e4e 106.5px,#5e5e5e 118.5px,#777 129.5px,#808080 146.5px,#7f7f7f 194.5px)"></i><i style="background:linear-gradient(#797979 0.5px,#5e5e5e 6.5px,#5b5b5b 98.5px,#666 116.5px,#7c7c7c 131.5px,#818181 174.5px,#7f7f7f 194.5px)"></i><i style="background:linear-gradient(#7c7c7c 0.5px,#6b6b6b 6.5px,#6c6c6c 113.5px,#7f7f7f 135.5px,#7f7f7f 194.5px)"></i><i style="background:linear-gradient(#7a7a7a 0.5px,#626262 6.5px,#5d5d5d 29.5px,#6f6f6f 101.5px,#707070 117.5px,#7f7f7f 137.5px,#7f7f7f 194.5px)"></i><i style="background:linear-gradient(#797979 0.5px,#585858 6.5px,#474747 25.5px,#3f3f3f 54.5px,#535353 91.5px,#6e6e6e 121.5px,#7c7c7c 132.5px,#818181 189.5px,#7f7f7f 194.5px)"></i><i style="background:linear-gradient(#757575 0.5px,#4d4d4d 5.5px,#484848 9.5px,#565656 36.5px,#4e4e4e 64.5px,#363636 99.5px,#3c3c3c 111.5px,#555 121.5px,#707070 129.5px,#7e7e7e 140.5px,#808080 194.5px)"></i><i style="background:linear-gradient(#737373 0.5px,#575757 3.5px,#434343 5.5px,#393939 9.5px,#535353 68.5px,#4a4a4a 111.5px,#5d5d5d 122.5px,#747474 131.5px,#7f7f7f 145.5px,#7f7f7f 194.5px)"></i><i style="background:linear-gradient(#777 0.5px,#555 5.5px,#4c4c4c 10.5px,#515151 108.5px,#626262 121.5px,#787878 132.5px,#818181 153.5px,#7f7f7f 194.5px)"></i><i style="background:linear-gradient(#7a7a7a 0.5px,#5e5e5e 6.5px,#4d4d4d 45.5px,#515151 83.5px,#656565 116.5px,#7c7c7c 133.5px,#818181 180.5px,#7f7f7f 194.5px)"></i><i style="background:linear-gradient(#7a7a7a 0.5px,#606060 6.5px,#515151 37.5px,#535353 74.5px,#6b6b6b 118.5px,#7e7e7e 135.5px,#808080 194.5px)"></i><i style="background:linear-gradient(#787878 0.5px,#5a5a5a 5.5px,#515151 10.5px,#565656 50.5px,#646464 88.5px,#646464 116.5px,#7e7e7e 138.5px,#808080 194.5px)"></i><i style="background:linear-gradient(#797979 0.5px,#5b5b5b 6.5px,#515151 33.5px,#565656 83.5px,#646464 117.5px,#7c7c7c 135.5px,#818181 184.5px,#7f7f7f 194.5px)"></i><i style="background:linear-gradient(#797979 0.5px,#5e5e5e 5.5px,#565656 11.5px,#595959 103.5px,#656565 120.5px,#7c7c7c 135.5px,#818181 175.5px,#7f7f7f 194.5px)"></i><i style="background:linear-gradient(#797979 0.5px,#5f5f5f 6.5px,#5c5c5c 54.5px,#626262 114.5px,#7e7e7e 138.5px,#808080 194.5px)"></i><i style="background:linear-gradient(#7b7b7b 0.5px,#696969 6.5px,#6a6a6a 114.5px,#7f7f7f 140.5px,#7f7f7f 194.5px)"></i><i style="width:2px;background:linear-gradient(#7d7d7d 0.5px,#717171 8.5px,#737373 118.5px,#808080 142.5px,#7f7f7f 194.5px)"></i><i style="background:linear-gradient(#7b7b7b 0.5px,#696969 6.5px,#6b6b6b 73.5px,#666 111.5px,#7f7f7f 141.5px,#7f7f7f 194.5px)"></i><i style="background:linear-gradient(#777 0.5px,#555 5.5px,#4d4d4d 10.5px,#4b4b4b 103.5px,#575757 119.5px,#787878 135.5px,#818181 154.5px,#7f7f7f 194.5px)"></i><i style="background:linear-gradient(#737373 0.5px,#434343 5.5px,#3b3b3b 9.5px,#434343 34.5px,#303030 73.5px,#232323 93.5px,#282828 110.5px,#3c3c3c 120.5px,#6d6d6d 133.5px,#7d7d7d 143.5px,#818181 194.5px)"></i><i style="background:linear-gradient(#6c6c6c 0.5px,#505050 2.5px,#2d2d2d 4.5px,#191919 6.5px,#111 10.5px,#2a2a2a 40.5px,#3d3d3d 59.5px,#404040 82.5px,#2b2b2b 112.5px,#353535 120.5px,#6f6f6f 136.5px,#7e7e7e 147.5px,#808080 194.5px)"></i><i style="background:linear-gradient(#737373 0.5px,#575757 3.5px,#434343 5.5px,#383838 9.5px,#2f2f2f 32.5px,#111 67.5px,#111 92.5px,#242424 111.5px,#434343 122.5px,#6a6a6a 132.5px,#7c7c7c 142.5px,#818181 186.5px,#7f7f7f 194.5px)"></i><i style="background:linear-gradient(#717171 0.5px,#5c5c5c 2.5px,#424242 4.5px,#343434 6.5px,#2e2e2e 11.5px,#343434 35.5px,#1c1c1c 100.5px,#262626 114.5px,#3f3f3f 123.5px,#6c6c6c 134.5px,#7c7c7c 144.5px,#818181 193.5px,#7f7f7f 194.5px)"></i><i style="background:linear-gradient(#727272 0.5px,#5f5f5f 2.5px,#484848 4.5px,#3a3a3a 6.5px,#323232 11.5px,#3b3b3b 112.5px,#4b4b4b 122.5px,#747474 136.5px,#7f7f7f 150.5px,#7f7f7f 194.5px)"></i><i style="background:linear-gradient(#747474 0.5px,#585858 3.5px,#454545 5.5px,#3b3b3b 9.5px,#3d3d3d 108.5px,#4c4c4c 121.5px,#747474 136.5px,#808080 151.5px,#7f7f7f 194.5px)"></i><i style="background:linear-gradient(#767676 0.5px,#525252 5.5px,#494949 10.5px,#424242 25.5px,#141414 65.5px,#101010 86.5px,#232323 106.5px,#3f3f3f 119.5px,#6f6f6f 133.5px,#7e7e7e 144.5px,#808080 194.5px)"></i><i style="background:linear-gradient(#707070 0.5px,#474747 4.5px,#3e3e3e 6.5px,#464646 12.5px,#5b5b5b 22.5px,#646464 36.5px,#565656 50.5px,#262626 70.5px,#000 84.5px,#000 118.5px,#141414 122.5px,#585858 132.5px,#707070 138.5px,#7e7e7e 147.5px,#808080 194.5px)"></i><i style="background:linear-gradient(#666 0.5px,#555 1.5px,#0e0e0e 4.5px,#000 5.5px,#000 39.5px,#525252 69.5px,#656565 83.5px,#626262 96.5px,#404040 118.5px,#454545 125.5px,#727272 140.5px,#7f7f7f 153.5px,#7f7f7f 194.5px)"></i><i style="background:linear-gradient(#7a7a7a 0.5px,#606060 6.5px,#4d4d4d 26.5px,#151515 59.5px,#0b0b0b 77.5px,#181818 95.5px,#3d3d3d 114.5px,#727272 132.5px,#7f7f7f 144.5px,#7f7f7f 194.5px)"></i><i style="background:linear-gradient(#767676 0.5px,#515151 5.5px,#484848 9.5px,#575757 91.5px,#545454 116.5px,#696969 130.5px,#797979 138.5px,#818181 160.5px,#7f7f7f 194.5px)"></i><i style="background:linear-gradient(#777 0.5px,#545454 5.5px,#4d4d4d 9.5px,#5f5f5f 73.5px,#575757 116.5px,#686868 129.5px,#797979 138.5px,#818181 160.5px,#7f7f7f 194.5px)"></i><i style="background:linear-gradient(#757575 0.5px,#4e4e4e 5.5px,#454545 9.5px,#4e4e4e 95.5px,#4d4d4d 114.5px,#5e5e5e 126.5px,#767676 137.5px,#808080 154.5px,#7f7f7f 194.5px)"></i><i style="background:linear-gradient(#707070 0.5px,#5b5b5b 2.5px,#424242 4.5px,#343434 6.5px,#303030 11.5px,#404040 35.5px,#3c3c3c 62.5px,#202020 104.5px,#272727 116.5px,#3d3d3d 124.5px,#6a6a6a 135.5px,#7b7b7b 144.5px,#818181 173.5px,#7f7f7f 194.5px)"></i><i style="background:linear-gradient(#6e6e6e 0.5px,#555 2.5px,#363636 4.5px,#252525 6.5px,#1d1d1d 10.5px,#2a2a2a 61.5px,#202020 110.5px,#2e2e2e 120.5px,#6f6f6f 137.5px,#7e7e7e 148.5px,#808080 194.5px)"></i><i style="background:linear-gradient(#727272 0.5px,#424242 5.5px,#393939 9.5px,#3b3b3b 27.5px,#202020 57.5px,#0b0b0b 76.5px,#050505 97.5px,#141414 112.5px,#2e2e2e 121.5px,#696969 134.5px,#7b7b7b 143.5px,#818181 172.5px,#7f7f7f 194.5px)"></i><i style="background:linear-gradient(#737373 0.5px,#454545 5.5px,#3d3d3d 9.5px,#3f3f3f 26.5px,#282828 52.5px,#0c0c0c 76.5px,#070707 97.5px,#161616 112.5px,#333 122.5px,#666 133.5px,#797979 141.5px,#818181 159.5px,#7f7f7f 194.5px)"></i><i style="background:linear-gradient(#6b6b6b 0.5px,#4f4f4f 2.5px,#2a2a2a 4.5px,#161616 6.5px,#0e0e0e 10.5px,#272727 38.5px,#3d3d3d 58.5px,#414141 80.5px,#282828 114.5px,#323232 122.5px,#6f6f6f 138.5px,#7e7e7e 149.5px,#808080 194.5px)"></i><i style="background:linear-gradient(#7a7a7a 0.5px,#5e5e5e 6.5px,#424242 26.5px,#0b0b0b 54.5px,#000 69.5px,#030303 84.5px,#222 103.5px,#585858 123.5px,#737373 132.5px,#7f7f7f 145.5px,#7f7f7f 194.5px)"></i><i style="background:linear-gradient(#7b7b7b 0.5px,#5c5c5c 7.5px,#1d1d1d 38.5px,#0f0f0f 54.5px,#171717 70.5px,#414141 93.5px,#686868 111.5px,#7c7c7c 129.5px,#818181 194.5px)"></i><i style="background:linear-gradient(#767676 0.5px,#515151 5.5px,#474747 8.5px,#424242 25.5px,#575757 54.5px,#6f6f6f 78.5px,#727272 102.5px,#696969 122.5px,#7f7f7f 147.5px,#7f7f7f 194.5px)"></i><i style="background:linear-gradient(#7d7d7d 0.5px,#6e6e6e 7.5px,#5d5d5d 80.5px,#6a6a6a 117.5px,#7e7e7e 139.5px,#7f7f7f 194.5px)"></i><i style="background:linear-gradient(#7c7c7c 0.5px,#6c6c6c 6.5px,#676767 66.5px,#626262 98.5px,#6b6b6b 122.5px,#7e7e7e 139.5px,#808080 194.5px)"></i><i style="background:linear-gradient(#7a7a7a 0.5px,#616161 6.5px,#5d5d5d 45.5px,#666 119.5px,#7e7e7e 141.5px,#808080 194.5px)"></i><i style="background:linear-gradient(#787878 0.5px,#575757 5.5px,#4e4e4e 10.5px,#515151 52.5px,#5e5e5e 95.5px,#5f5f5f 118.5px,#7d7d7d 141.5px,#818181 194.5px)"></i><i style="background:linear-gradient(#787878 0.5px,#555 6.5px,#414141 30.5px,#383838 60.5px,#4e4e4e 99.5px,#666 124.5px,#7a7a7a 137.5px,#818181 166.5px,#7f7f7f 194.5px)"></i><i style="background:linear-gradient(#777 0.5px,#535353 5.5px,#484848 9.5px,#2c2c2c 53.5px,#313131 81.5px,#4f4f4f 116.5px,#797979 137.5px,#818181 159.5px,#7f7f7f 194.5px)"></i><i style="background:linear-gradient(#707070 0.5px,#595959 2.5px,#3d3d3d 4.5px,#2d2d2d 6.5px,#262626 10.5px,#3b3b3b 49.5px,#464646 67.5px,#414141 96.5px,#393939 113.5px,#454545 122.5px,#737373 137.5px,#7f7f7f 150.5px,#7f7f7f 194.5px)"></i><i style="background:linear-gradient(#737373 0.5px,#565656 3.5px,#424242 5.5px,#373737 9.5px,#2e2e2e 93.5px,#393939 114.5px,#525252 125.5px,#6f6f6f 134.5px,#7d7d7d 145.5px,#808080 194.5px)"></i><i style="background:linear-gradient(#757575 0.5px,#5b5b5b 3.5px,#474747 5.5px,#3b3b3b 9.5px,#262626 41.5px,#2a2a2a 68.5px,#545454 119.5px,#787878 137.5px,#818181 158.5px,#7f7f7f 194.5px)"></i><i style="background:linear-gradient(#757575 0.5px,#5d5d5d 3.5px,#4a4a4a 5.5px,#3e3e3e 9.5px,#2f2f2f 33.5px,#393939 58.5px,#5b5b5b 97.5px,#646464 122.5px,#7c7c7c 140.5px,#818181 187.5px,#7f7f7f 194.5px)"></i><i style="background:linear-gradient(#787878 0.5px,#5a5a5a 5.5px,#545454 10.5px,#5c5c5c 66.5px,#565656 112.5px,#656565 125.5px,#797979 136.5px,#818181 158.5px,#7f7f7f 194.5px)"></i><i style="background:linear-gradient(#787878 0.5px,#5d5d5d 5.5px,#565656 10.5px,#5d5d5d 92.5px,#5c5c5c 114.5px,#7d7d7d 140.5px,#808080 194.5px)"></i><i style="background:linear-gradient(#777 0.5px,#565656 5.5px,#4e4e4e 10.5px,#505050 109.5px,#5f5f5f 123.5px,#787878 135.5px,#818181 155.5px,#7f7f7f 194.5px)"></i><i style="background:linear-gradient(#737373 0.5px,#454545 5.5px,#3c3c3c 9.5px,#4f4f4f 53.5px,#454545 92.5px,#3e3e3e 109.5px,#4a4a4a 120.5px,#747474 135.5px,#808080 149.5px,#7f7f7f 194.5px)"></i><i style="background:linear-gradient(#737373 0.5px,#565656 3.5px,#414141 5.5px,#363636 9.5px,#4e4e4e 72.5px,#464646 113.5px,#555 123.5px,#757575 135.5px,#808080 150.5px,#7f7f7f 194.5px)"></i><i style="background:linear-gradient(#757575 0.5px,#4e4e4e 5.5px,#454545 9.5px,#525252 89.5px,#505050 112.5px,#606060 124.5px,#787878 135.5px,#808080 154.5px,#7f7f7f 194.5px)"></i><i style="background:linear-gradient(#777 0.5px,#555 5.5px,#4b4b4b 9.5px,#494949 34.5px,#6a6a6a 89.5px,#6a6a6a 121.5px,#7e7e7e 141.5px,#7f7f7f 194.5px)"></i><i style="background:linear-gradient(#787878 0.5px,#585858 5.5px,#4f4f4f 10.5px,#545454 37.5px,#727272 80.5px,#6f6f6f 111.5px,#6d6d6d 121.5px,#7f7f7f 142.5px,#7f7f7f 194.5px)"></i><i style="background:linear-gradient(#7a7a7a 0.5px,#656565 5.5px,#636363 13.5px,#6b6b6b 35.5px,#5f5f5f 74.5px,#525252 99.5px,#585858 115.5px,#7b7b7b 135.5px,#818181 167.5px,#7f7f7f 194.5px)"></i><i style="background:linear-gradient(#787878 0.5px,#5a5a5a 5.5px,#535353 10.5px,#505050 64.5px,#4c4c4c 97.5px,#565656 115.5px,#797979 134.5px,#818181 157.5px,#7f7f7f 194.5px)"></i><i style="background:linear-gradient(#757575 0.5px,#4f4f4f 5.5px,#474747 9.5px,#484848 51.5px,#3e3e3e 98.5px,#474747 114.5px,#767676 133.5px,#808080 148.5px,#7f7f7f 194.5px)"></i><i style="background:linear-gradient(#777 0.5px,#555 5.5px,#4a4a4a 10.5px,#333 57.5px,#3b3b3b 88.5px,#515151 113.5px,#797979 133.5px,#818181 156.5px,#7f7f7f 194.5px)"></i><i style="background:linear-gradient(#767676 0.5px,#535353 5.5px,#4c4c4c 10.5px,#545454 37.5px,#3f3f3f 102.5px,#4a4a4a 115.5px,#767676 132.5px,#808080 147.5px,#7f7f7f 194.5px)"></i><i style="background:linear-gradient(#777 0.5px,#555 5.5px,#4c4c4c 10.5px,#4d4d4d 104.5px,#5b5b5b 118.5px,#787878 132.5px,#818181 152.5px,#7f7f7f 194.5px)"></i><i style="background:linear-gradient(#777 0.5px,#585858 5.5px,#515151 10.5px,#545454 109.5px,#6a6a6a 124.5px,#797979 132.5px,#818181 155.5px,#7f7f7f 194.5px)"></i><i style="background:linear-gradient(#7a7a7a 0.5px,#656565 6.5px,#5a5a5a 101.5px,#676767 118.5px,#7c7c7c 132.5px,#818181 173.5px,#7f7f7f 194.5px)"></i><i style="background:linear-gradient(#7c7c7c 0.5px,#686868 7.5px,#5d5d5d 47.5px,#737373 116.5px,#808080 137.5px,#7f7f7f 194.5px)"></i><i style="background:linear-gradient(#7b7b7b 0.5px,#6c6c6c 6.5px,#747474 36.5px,#565656 99.5px,#5f5f5f 114.5px,#7b7b7b 131.5px,#818181 163.5px,#7f7f7f 194.5px)"></i><i style="background:linear-gradient(#767676 0.5px,#545454 5.5px,#4e4e4e 9.5px,#676767 60.5px,#5e5e5e 95.5px,#575757 109.5px,#656565 121.5px,#7a7a7a 132.5px,#818181 158.5px,#7f7f7f 194.5px)"></i><i style="background:linear-gradient(#767676 0.5px,#535353 5.5px,#4c4c4c 9.5px,#585858 61.5px,#505050 107.5px,#5f5f5f 119.5px,#777 130.5px,#818181 149.5px,#7f7f7f 194.5px)"></i><i style="background:linear-gradient(#797979 0.5px,#585858 6.5px,#4e4e4e 22.5px,#535353 56.5px,#696969 100.5px,#6d6d6d 116.5px,#7e7e7e 135.5px,#7f7f7f 194.5px)"></i><i style="background:linear-gradient(#7b7b7b 0.5px,#656565 6.5px,#626262 31.5px,#717171 95.5px,#727272 116.5px,#7f7f7f 136.5px,#7f7f7f 194.5px)"></i><i style="background:linear-gradient(#7c7c7c 0.5px,#6d6d6d 7.5px,#717171 81.5px,#6e6e6e 110.5px,#808080 136.5px,#7f7f7f 194.5px)"></i><i style="background:linear-gradient(#7b7b7b 0.5px,#676767 6.5px,#656565 40.5px,#717171 116.5px,#7f7f7f 134.5px,#7f7f7f 194.5px)"></i><i style="background:linear-gradient(#797979 0.5px,#616161 5.5px,#5c5c5c 12.5px,#616161 34.5px,#4e4e4e 97.5px,#595959 112.5px,#797979 128.5px,#818181 149.5px,#7f7f7f 194.5px)"></i><i style="background:linear-gradient(#747474 0.5px,#585858 3.5px,#454545 5.5px,#3b3b3b 9.5px,#4d4d4d 84.5px,#4b4b4b 106.5px,#5c5c5c 117.5px,#767676 128.5px,#808080 145.5px,#7f7f7f 194.5px)"></i><i style="background:linear-gradient(#757575 0.5px,#4c4c4c 5.5px,#434343 9.5px,#363636 84.5px,#404040 105.5px,#5a5a5a 117.5px,#727272 125.5px,#7e7e7e 137.5px,#7f7f7f 194.5px)"></i><i style="background:linear-gradient(#747474 0.5px,#4c4c4c 5.5px,#464646 9.5px,#545454 37.5px,#4b4b4b 67.5px,#373737 96.5px,#3e3e3e 108.5px,#5f5f5f 120.5px,#727272 126.5px,#7f7f7f 139.5px,#7f7f7f 194.5px)"></i><i style="background:linear-gradient(#767676 0.5px,#505050 5.5px,#454545 8.5px,#383838 29.5px,#3f3f3f 54.5px,#646464 96.5px,#6e6e6e 116.5px,#7d7d7d 131.5px,#808080 194.5px)"></i><i style="background:linear-gradient(#777 0.5px,#595959 5.5px,#555 10.5px,#686868 42.5px,#646464 71.5px,#525252 102.5px,#5b5b5b 113.5px,#787878 127.5px,#818181 147.5px,#7f7f7f 194.5px)"></i><i style="background:linear-gradient(#797979 0.5px,#636363 5.5px,#606060 12.5px,#686868 36.5px,#5b5b5b 78.5px,#525252 98.5px,#5c5c5c 111.5px,#797979 126.5px,#818181 147.5px,#7f7f7f 194.5px)"></i><i style="background:linear-gradient(#777 0.5px,#545454 5.5px,#4d4d4d 9.5px,#5e5e5e 82.5px,#5c5c5c 106.5px,#7d7d7d 130.5px,#818181 194.5px)"></i><i style="background:linear-gradient(#767676 0.5px,#4f4f4f 5.5px,#464646 9.5px,#505050 104.5px,#686868 118.5px,#787878 126.5px,#818181 147.5px,#7f7f7f 194.5px)"></i><i style="background:linear-gradient(#777 0.5px,#595959 5.5px,#525252 10.5px,#4e4e4e 33.5px,#353535 75.5px,#383838 97.5px,#4b4b4b 109.5px,#747474 123.5px,#808080 137.5px,#7f7f7f 194.5px)"></i><i style="background:linear-gradient(#757575 0.5px,#4e4e4e 5.5px,#484848 9.5px,#545454 38.5px,#474747 73.5px,#3a3a3a 94.5px,#414141 106.5px,#767676 125.5px,#808080 140.5px,#7f7f7f 194.5px)"></i><i style="background:linear-gradient(#737373 0.5px,#585858 3.5px,#444 5.5px,#3a3a3a 9.5px,#505050 69.5px,#4c4c4c 103.5px,#5d5d5d 114.5px,#757575 124.5px,#808080 140.5px,#7f7f7f 194.5px)"></i><i style="background:linear-gradient(#727272 0.5px,#5e5e5e 2.5px,#464646 4.5px,#393939 6.5px,#353535 11.5px,#565656 50.5px,#565656 75.5px,#454545 101.5px,#4e4e4e 110.5px,#767676 125.5px,#808080 141.5px,#7f7f7f 194.5px)"></i><i style="background:linear-gradient(#6e6e6e 0.5px,#565656 2.5px,#373737 4.5px,#262626 6.5px,#1f1f1f 10.5px,#353535 31.5px,#5a5a5a 57.5px,#636363 77.5px,#505050 105.5px,#5c5c5c 114.5px,#777 126.5px,#808080 145.5px,#7f7f7f 194.5px)"></i><i style="background:linear-gradient(#767676 0.5px,#585858 5.5px,#595959 11.5px,#656565 24.5px,#5f5f5f 42.5px,#1e1e1e 86.5px,#1c1c1c 98.5px,#2c2c2c 106.5px,#6c6c6c 121.5px,#7c7c7c 130.5px,#818181 167.5px,#7f7f7f 194.5px)"></i><i style="background:linear-gradient(#737373 0.5px,#484848 5.5px,#444 9.5px,#595959 30.5px,#595959 50.5px,#3a3a3a 80.5px,#2a2a2a 93.5px,#2e2e2e 103.5px,#444 111.5px,#6d6d6d 121.5px,#7d7d7d 131.5px,#818181 187.5px,#7f7f7f 194.5px)"></i><i style="background:linear-gradient(#737373 0.5px,#606060 2.5px,#494949 4.5px,#3b3b3b 6.5px,#343434 11.5px,#4d4d4d 79.5px,#4d4d4d 102.5px,#626262 114.5px,#777 123.5px,#808080 141.5px,#7f7f7f 194.5px)"></i><i style="background:linear-gradient(#767676 0.5px,#515151 5.5px,#484848 9.5px,#454545 72.5px,#4f4f4f 101.5px,#7a7a7a 124.5px,#818181 152.5px,#7f7f7f 194.5px)"></i><i style="background:linear-gradient(#767676 0.5px,#535353 5.5px,#4c4c4c 9.5px,#505050 98.5px,#626262 111.5px,#777 121.5px,#808080 139.5px,#7f7f7f 194.5px)"></i><i style="background:linear-gradient(#757575 0.5px,#4a4a4a 5.5px,#404040 9.5px,#555 77.5px,#545454 101.5px,#6a6a6a 115.5px,#787878 122.5px,#818181 142.5px,#7f7f7f 194.5px)"></i><i style="background:linear-gradient(#777 0.5px,#575757 5.5px,#505050 10.5px,#515151 35.5px,#3c3c3c 85.5px,#444 100.5px,#5f5f5f 112.5px,#737373 119.5px,#7f7f7f 132.5px,#7f7f7f 194.5px)"></i><i style="background:linear-gradient(#787878 0.5px,#5a5a5a 5.5px,#525252 10.5px,#3b3b3b 66.5px,#444 93.5px,#5a5a5a 107.5px,#757575 118.5px,#808080 133.5px,#7f7f7f 194.5px)"></i><i style="background:linear-gradient(#757575 0.5px,#4a4a4a 5.5px,#414141 8.5px,#404040 27.5px,#646464 80.5px,#676767 106.5px,#7e7e7e 126.5px,#808080 194.5px)"></i><i style="background:linear-gradient(#7c7c7c 0.5px,#676767 7.5px,#4e4e4e 45.5px,#515151 72.5px,#6e6e6e 105.5px,#7d7d7d 118.5px,#818181 194.5px)"></i><i style="background:linear-gradient(#7d7d7d 0.5px,#6c6c6c 7.5px,#626262 49.5px,#747474 104.5px,#808080 123.5px,#7f7f7f 194.5px)"></i><i style="background:linear-gradient(#7d7d7d 0.5px,#6f6f6f 7.5px,#707070 101.5px,#808080 126.5px,#7f7f7f 194.5px)"></i><i style="background:linear-gradient(#7c7c7c 0.5px,#686868 7.5px,#646464 51.5px,#767676 110.5px,#808080 125.5px,#7f7f7f 194.5px)"></i><i style="background:linear-gradient(#7b7b7b 0.5px,#696969 6.5px,#6b6b6b 44.5px,#5b5b5b 91.5px,#666 106.5px,#7b7b7b 119.5px,#818181 149.5px,#7f7f7f 194.5px)"></i><i style="background:linear-gradient(#7a7a7a 0.5px,#636363 6.5px,#5b5b5b 81.5px,#656565 103.5px,#7d7d7d 120.5px,#818181 181.5px,#7f7f7f 194.5px)"></i><i style="background:linear-gradient(#7a7a7a 0.5px,#616161 6.5px,#636363 73.5px,#606060 96.5px,#7e7e7e 123.5px,#808080 194.5px)"></i><i style="background:linear-gradient(#7b7b7b 0.5px,#686868 6.5px,#696969 68.5px,#656565 96.5px,#7f7f7f 124.5px,#7f7f7f 194.5px)"></i><i style="background:linear-gradient(#7c7c7c 0.5px,#6b6b6b 7.5px,#6f6f6f 101.5px,#7f7f7f 123.5px,#7f7f7f 194.5px)"></i><i style="background:linear-gradient(#7c7c7c 0.5px,#6b6b6b 7.5px,#686868 84.5px,#757575 109.5px,#7f7f7f 121.5px,#7f7f7f 194.5px)"></i><i style="background:linear-gradient(#797979 0.5px,#5f5f5f 5.5px,#585858 10.5px,#616161 51.5px,#6d6d6d 80.5px,#6f6f6f 104.5px,#7f7f7f 123.5px,#7f7f7f 194.5px)"></i><i style="background:linear-gradient(#787878 0.5px,#5e5e5e 5.5px,#5b5b5b 11.5px,#6b6b6b 42.5px,#656565 75.5px,#5b5b5b 95.5px,#666 107.5px,#7b7b7b 119.5px,#818181 149.5px,#7f7f7f 194.5px)"></i><i style="background:linear-gradient(#7a7a7a 0.5px,#636363 6.5px,#636363 94.5px,#7e7e7e 122.5px,#7f7f7f 194.5px)"></i><i style="background:linear-gradient(#7a7a7a 0.5px,#626262 6.5px,#646464 29.5px,#747474 72.5px,#737373 105.5px,#808080 125.5px,#7f7f7f 194.5px)"></i><i style="background:linear-gradient(#7a7a7a 0.5px,#656565 6.5px,#787878 53.5px,#6b6b6b 101.5px,#7f7f7f 123.5px,#7f7f7f 194.5px)"></i><i style="background:linear-gradient(#777 0.5px,#565656 5.5px,#4f4f4f 9.5px,#595959 35.5px,#727272 68.5px,#727272 107.5px,#7f7f7f 124.5px,#7f7f7f 194.5px)"></i><i style="background:linear-gradient(#797979 0.5px,#5a5a5a 6.5px,#4e4e4e 25.5px,#4d4d4d 58.5px,#646464 98.5px,#7d7d7d 117.5px,#818181 187.5px,#7f7f7f 194.5px)"></i><i style="background:linear-gradient(#787878 0.5px,#5d5d5d 5.5px,#565656 10.5px,#545454 92.5px,#666 106.5px,#797979 116.5px,#818181 139.5px,#7f7f7f 194.5px)"></i><i style="background:linear-gradient(#787878 0.5px,#5a5a5a 5.5px,#535353 10.5px,#565656 92.5px,#676767 106.5px,#797979 116.5px,#818181 140.5px,#7f7f7f 194.5px)"></i><i style="background:linear-gradient(#777 0.5px,#565656 5.5px,#4d4d4d 10.5px,#505050 57.5px,#5f5f5f 98.5px,#7c7c7c 118.5px,#818181 167.5px,#7f7f7f 194.5px)"></i><i style="background:linear-gradient(#797979 0.5px,#5d5d5d 5.5px,#555 10.5px,#515151 67.5px,#5c5c5c 96.5px,#7c7c7c 117.5px,#818181 156.5px,#7f7f7f 194.5px)"></i><i style="background:linear-gradient(#7a7a7a 0.5px,#5d5d5d 6.5px,#525252 30.5px,#565656 70.5px,#686868 100.5px,#7d7d7d 116.5px,#818181 181.5px,#7f7f7f 194.5px)"></i><i style="background:linear-gradient(#7a7a7a 0.5px,#606060 6.5px,#5e5e5e 88.5px,#6c6c6c 105.5px,#7c7c7c 116.5px,#818181 157.5px,#7f7f7f 194.5px)"></i><i style="background:linear-gradient(#787878 0.5px,#5c5c5c 5.5px,#565656 10.5px,#626262 56.5px,#5c5c5c 95.5px,#7d7d7d 119.5px,#818181 178.5px,#7f7f7f 194.5px)"></i><i style="width:2px;background:linear-gradient(#787878 0.5px,#5a5a5a 5.5px,#535353 10.5px,#5c5c5c 68.5px,#5b5b5b 94.5px,#7d7d7d 119.5px,#818181 194.5px)"></i><i style="background:linear-gradient(#7a7a7a 0.5px,#626262 6.5px,#505050 35.5px,#4f4f4f 67.5px,#636363 96.5px,#7c7c7c 114.5px,#818181 160.5px,#7f7f7f 194.5px)"></i><i style="background:linear-gradient(#787878 0.5px,#585858 5.5px,#4e4e4e 10.5px,#555 38.5px,#707070 78.5px,#767676 108.5px,#808080 124.5px,#7f7f7f 194.5px)"></i><i style="background:linear-gradient(#797979 0.5px,#656565 5.5px,#646464 13.5px,#747474 36.5px,#727272 64.5px,#606060 94.5px,#6d6d6d 107.5px,#7b7b7b 117.5px,#818181 153.5px,#7f7f7f 194.5px)"></i><i style="background:linear-gradient(#7a7a7a 0.5px,#656565 5.5px,#636363 12.5px,#777 46.5px,#737373 77.5px,#6a6a6a 96.5px,#7f7f7f 123.5px,#7f7f7f 194.5px)"></i><i style="background:linear-gradient(#7c7c7c 0.5px,#696969 7.5px,#626262 41.5px,#808080 124.5px,#7f7f7f 194.5px)"></i><i style="background:linear-gradient(#7c7c7c 0.5px,#6c6c6c 6.5px,#737373 101.5px,#808080 121.5px,#7f7f7f 194.5px)"></i><i style="background:linear-gradient(#7b7b7b 0.5px,#656565 6.5px,#676767 43.5px,#6e6e6e 79.5px,#6e6e6e 99.5px,#7f7f7f 121.5px,#7f7f7f 194.5px)"></i><i style="background:linear-gradient(#7b7b7b 0.5px,#666 6.5px,#5c5c5c 54.5px,#656565 94.5px,#7e7e7e 117.5px,#808080 194.5px)"></i><i style="background:linear-gradient(#7a7a7a 0.5px,#636363 6.5px,#616161 82.5px,#6b6b6b 102.5px,#7d7d7d 116.5px,#818181 186.5px,#7f7f7f 194.5px)"></i><i style="background:linear-gradient(#7c7c7c 0.5px,#6a6a6a 6.5px,#6a6a6a 95.5px,#7f7f7f 120.5px,#7f7f7f 194.5px)"></i><i style="background:linear-gradient(#7e7e7e 0.5px,#787878 12.5px,#7d7d7d 118.5px,#818181 167.5px,#7f7f7f 194.5px)"></i><i style="background:linear-gradient(#818181 0.5px,#878787 12.5px,#838383 109.5px,#7e7e7e 130.5px,#808080 194.5px)"></i><i style="background:linear-gradient(#818181 0.5px,#898989 9.5px,#868686 103.5px,#7e7e7e 125.5px,#808080 194.5px)"></i><i style="background:linear-gradient(#828282 0.5px,#8d8d8d 8.5px,#868686 82.5px,#878787 104.5px,#7e7e7e 127.5px,#808080 194.5px)"></i><i style="background:linear-gradient(#838383 0.5px,#939393 7.5px,#919191 53.5px,#7e7e7e 136.5px,#808080 194.5px)"></i><i style="background:linear-gradient(#828282 0.5px,#8d8d8d 8.5px,#949494 58.5px,#989898 83.5px,#8c8c8c 105.5px,#818181 117.5px,#808080 194.5px)"></i><i style="background:linear-gradient(#828282 0.5px,#8b8b8b 8.5px,#858585 51.5px,#8c8c8c 99.5px,#7f7f7f 124.5px,#808080 194.5px)"></i><i style="background:linear-gradient(#7f7f7f 0.5px,#797979 14.5px,#777 99.5px,#818181 125.5px,#7f7f7f 194.5px)"></i><i style="background:linear-gradient(#7d7d7d 0.5px,#6e6e6e 7.5px,#707070 92.5px,#808080 126.5px,#7f7f7f 194.5px)"></i><i style="background:linear-gradient(#7c7c7c 0.5px,#6f6f6f 6.5px,#797979 49.5px,#6c6c6c 99.5px,#7f7f7f 123.5px,#7f7f7f 194.5px)"></i><i style="background:linear-gradient(#7f7f7f 0.5px,#7a7a7a 14.5px,#787878 49.5px,#707070 88.5px,#818181 128.5px,#7f7f7f 194.5px)"></i><i style="background:linear-gradient(#808080 0.5px,#848484 100.5px,#7e7e7e 139.5px,#808080 194.5px)"></i><i style="background:linear-gradient(#808080 0.5px,#878787 14.5px,#878787 101.5px,#7e7e7e 128.5px,#808080 194.5px)"></i><i style="width:2px;background:#808080"></i><i style="width:3px;background:linear-gradient(#808080 0.5px,#848484 35.5px,#7e7e7e 194.5px)"></i><i style="background:linear-gradient(#818181 0.5px,#878787 12.5px,#838383 115.5px,#7e7e7e 139.5px,#808080 194.5px)"></i><i style="background:linear-gradient(#818181 0.5px,#8c8c8c 9.5px,#8c8c8c 86.5px,#7e7e7e 135.5px,#808080 194.5px)"></i><i style="background:linear-gradient(#828282 0.5px,#8f8f8f 7.5px,#8b8b8b 107.5px,#7f7f7f 127.5px,#808080 194.5px)"></i><i style="background:linear-gradient(#828282 0.5px,#8c8c8c 8.5px,#8a8a8a 106.5px,#7f7f7f 129.5px,#808080 194.5px)"></i><i style="width:2px;background:linear-gradient(#818181 0.5px,#8b8b8b 9.5px,#878787 109.5px,#7e7e7e 130.5px,#808080 194.5px)"></i><i style="background:linear-gradient(#838383 0.5px,#929292 7.5px,#979797 88.5px,#8a8a8a 113.5px,#808080 125.5px,#808080 194.5px)"></i><i style="background:linear-gradient(#858585 0.5px,#9c9c9c 6.5px,#9e9e9e 52.5px,#a8a8a8 92.5px,#9e9e9e 107.5px,#848484 123.5px,#7e7e7e 158.5px,#808080 194.5px)"></i><i style="background:linear-gradient(#868686 0.5px,#9e9e9e 5.5px,#a5a5a5 11.5px,#a2a2a2 99.5px,#818181 127.5px,#7f7f7f 194.5px)"></i><i style="background:linear-gradient(#848484 0.5px,#969696 6.5px,#9b9b9b 75.5px,#929292 107.5px,#818181 125.5px,#808080 194.5px)"></i><i style="width:2px;background:linear-gradient(#828282 0.5px,#8f8f8f 7.5px,#8c8c8c 108.5px,#7f7f7f 129.5px,#808080 194.5px)"></i><i style="background:linear-gradient(#818181 0.5px,#8c8c8c 9.5px,#939393 58.5px,#979797 83.5px,#8b8b8b 111.5px,#808080 125.5px,#808080 194.5px)"></i><i style="background:linear-gradient(#838383 0.5px,#9a9a9a 7.5px,#a4a4a4 38.5px,#929292 84.5px,#808080 123.5px,#808080 194.5px)"></i><i style="background:linear-gradient(#838383 0.5px,#939393 7.5px,#a5a5a5 58.5px,#9a9a9a 96.5px,#808080 126.5px,#808080 194.5px)"></i><i style="background:linear-gradient(#838383 0.5px,#939393 7.5px,#a2a2a2 74.5px,#989898 104.5px,#818181 125.5px,#808080 194.5px)"></i><i style="background:linear-gradient(#848484 0.5px,#989898 6.5px,#a0a0a0 54.5px,#969696 104.5px,#808080 127.5px,#808080 194.5px)"></i><i style="background:linear-gradient(#868686 0.5px,#a1a1a1 5.5px,#a7a7a7 11.5px,#9d9d9d 71.5px,#a0a0a0 103.5px,#828282 128.5px,#7f7f7f 194.5px)"></i><i style="background:linear-gradient(#868686 0.5px,#a3a3a3 6.5px,#bfbfbf 57.5px,#bababa 87.5px,#a6a6a6 106.5px,#868686 122.5px,#7e7e7e 142.5px,#808080 194.5px)"></i><i style="background:linear-gradient(#8c8c8c 0.5px,#bababa 5.5px,#c1c1c1 9.5px,#a1a1a1 41.5px,#a0a0a0 63.5px,#bebebe 100.5px,#b6b6b6 109.5px,#8c8c8c 124.5px,#808080 137.5px,#808080 194.5px)"></i><i style="background:linear-gradient(#8e8e8e 0.5px,#a2a2a2 2.5px,#bbb 4.5px,#c9c9c9 6.5px,#cfcfcf 10.5px,#bebebe 35.5px,#a4a4a4 61.5px,#a0a0a0 84.5px,#aaa 105.5px,#9b9b9b 116.5px,#878787 126.5px,#7e7e7e 147.5px,#808080 194.5px)"></i><i style="background:linear-gradient(#898989 0.5px,#adadad 5.5px,#b6b6b6 9.5px,#b8b8b8 45.5px,#a2a2a2 106.5px,#848484 126.5px,#7e7e7e 162.5px,#808080 194.5px)"></i><i style="background:linear-gradient(#858585 0.5px,#a0a0a0 6.5px,#a8a8a8 50.5px,#9f9f9f 102.5px,#828282 127.5px,#7f7f7f 194.5px)"></i><i style="background:linear-gradient(#848484 0.5px,#999 6.5px,#9f9f9f 63.5px,#969696 106.5px,#818181 127.5px,#808080 194.5px)"></i><i style="background:linear-gradient(#838383 0.5px,#959595 6.5px,#9d9d9d 67.5px,#939393 107.5px,#808080 127.5px,#808080 194.5px)"></i><i style="background:linear-gradient(#828282 0.5px,#909090 7.5px,#a2a2a2 73.5px,#979797 104.5px,#818181 125.5px,#808080 194.5px)"></i><i style="background:linear-gradient(#868686 0.5px,#a2a2a2 6.5px,#a7a7a7 23.5px,#8c8c8c 88.5px,#8c8c8c 113.5px,#7f7f7f 133.5px,#808080 194.5px)"></i><i style="background:linear-gradient(#868686 0.5px,#a7a7a7 6.5px,#adadad 21.5px,#9d9d9d 60.5px,#909090 83.5px,#8c8c8c 114.5px,#808080 132.5px,#808080 194.5px)"></i><i style="background:linear-gradient(#898989 0.5px,#ababab 5.5px,#b1b1b1 9.5px,#909090 59.5px,#969696 87.5px,#9f9f9f 104.5px,#949494 116.5px,#848484 127.5px,#7e7e7e 162.5px,#808080 194.5px)"></i><i style="background:linear-gradient(#868686 0.5px,#a6a6a6 6.5px,#b4b4b4 21.5px,#b7b7b7 49.5px,#808080 131.5px,#808080 194.5px)"></i><i style="background:linear-gradient(#868686 0.5px,#a2a2a2 6.5px,#a7a7a7 55.5px,#a0a0a0 103.5px,#828282 127.5px,#7e7e7e 194.5px)"></i><i style="background:linear-gradient(#868686 0.5px,#a4a4a4 6.5px,#acacac 22.5px,#a3a3a3 57.5px,#909090 91.5px,#8b8b8b 114.5px,#7f7f7f 132.5px,#808080 194.5px)"></i><i style="background:linear-gradient(#838383 0.5px,#999 7.5px,#a8a8a8 38.5px,#9f9f9f 70.5px,#818181 120.5px,#7f7f7f 194.5px)"></i><i style="background:linear-gradient(#848484 0.5px,#9b9b9b 6.5px,#9f9f9f 29.5px,#898989 116.5px,#808080 130.5px,#808080 194.5px)"></i><i style="background:linear-gradient(#848484 0.5px,#979797 6.5px,#989898 103.5px,#808080 129.5px,#808080 194.5px)"></i><i style="background:linear-gradient(#858585 0.5px,#9e9e9e 6.5px,#a0a0a0 34.5px,#959595 94.5px,#949494 108.5px,#808080 129.5px,#808080 194.5px)"></i><i style="background:linear-gradient(#838383 0.5px,#959595 7.5px,#a8a8a8 69.5px,#9e9e9e 101.5px,#828282 125.5px,#7f7f7f 194.5px)"></i><i style="background:linear-gradient(#828282 0.5px,#8d8d8d 7.5px,#929292 33.5px,#a9a9a9 75.5px,#a5a5a5 99.5px,#828282 125.5px,#7f7f7f 194.5px)"></i><i style="background:linear-gradient(#828282 0.5px,#919191 9.5px,#a6a6a6 54.5px,#9e9e9e 86.5px,#808080 125.5px,#808080 194.5px)"></i><i style="background:linear-gradient(#858585 0.5px,#9c9c9c 6.5px,#9b9b9b 29.5px,#8a8a8a 73.5px,#8d8d8d 111.5px,#7f7f7f 132.5px,#808080 194.5px)"></i><i style="background:linear-gradient(#838383 0.5px,#939393 7.5px,#969696 79.5px,#8c8c8c 112.5px,#808080 127.5px,#808080 194.5px)"></i><i style="width:3px;background:linear-gradient(#838383 0.5px,#949494 7.5px,#919191 106.5px,#808080 129.5px,#808080 194.5px)"></i><i style="background:linear-gradient(#848484 0.5px,#979797 6.5px,#999 76.5px,#929292 109.5px,#818181 127.5px,#808080 194.5px)"></i><i style="background:linear-gradient(#848484 0.5px,#999 6.5px,#9f9f9f 97.5px,#909090 115.5px,#828282 125.5px,#7e7e7e 184.5px,#808080 194.5px)"></i><i style="background:linear-gradient(#848484 0.5px,#9a9a9a 6.5px,#a2a2a2 88.5px,#989898 109.5px,#828282 125.5px,#7e7e7e 191.5px,#808080 194.5px)"></i><i style="background:linear-gradient(#848484 0.5px,#9a9a9a 6.5px,#a1a1a1 44.5px,#959595 105.5px,#808080 128.5px,#808080 194.5px)"></i><i style="background:linear-gradient(#858585 0.5px,#9c9c9c 6.5px,#989898 42.5px,#919191 74.5px,#949494 107.5px,#808080 130.5px,#808080 194.5px)"></i><i style="background:linear-gradient(#848484 0.5px,#989898 6.5px,#939393 85.5px,#959595 105.5px,#808080 130.5px,#808080 194.5px)"></i><i style="background:linear-gradient(#848484 0.5px,#979797 6.5px,#969696 104.5px,#808080 129.5px,#808080 194.5px)"></i><i style="background:linear-gradient(#848484 0.5px,#989898 6.5px,#9f9f9f 42.5px,#909090 108.5px,#808080 128.5px,#808080 194.5px)"></i><i style="background:linear-gradient(#838383 0.5px,#959595 6.5px,#9f9f9f 71.5px,#959595 106.5px,#818181 126.5px,#808080 194.5px)"></i><i style="background:linear-gradient(#848484 0.5px,#9a9a9a 6.5px,#9a9a9a 101.5px,#808080 129.5px,#808080 194.5px)"></i><i style="background:linear-gradient(#858585 0.5px,#9c9c9c 6.5px,#9d9d9d 73.5px,#a1a1a1 99.5px,#919191 115.5px,#838383 125.5px,#7e7e7e 173.5px,#808080 194.5px)"></i><i style="width:2px;background:linear-gradient(#858585 0.5px,#9f9f9f 6.5px,#a4a4a4 71.5px,#9d9d9d 105.5px,#828282 126.5px,#7e7e7e 194.5px)"></i><i style="background:linear-gradient(#858585 0.5px,#9d9d9d 6.5px,#a1a1a1 65.5px,#9a9a9a 105.5px,#818181 127.5px,#7f7f7f 194.5px)"></i><i style="background:linear-gradient(#848484 0.5px,#999 6.5px,#a4a4a4 39.5px,#9b9b9b 90.5px,#7f7f7f 131.5px,#808080 194.5px)"></i><i style="background:linear-gradient(#828282 0.5px,#969696 8.5px,#aeaeae 48.5px,#a7a7a7 77.5px,#808080 124.5px,#808080 194.5px)"></i><i style="background:linear-gradient(#878787 0.5px,#a6a6a6 5.5px,#afafaf 10.5px,#a7a7a7 42.5px,#939393 78.5px,#919191 110.5px,#808080 130.5px,#808080 194.5px)"></i><i style="background:linear-gradient(#868686 0.5px,#a1a1a1 6.5px,#ababab 81.5px,#a2a2a2 104.5px,#838383 125.5px,#7e7e7e 183.5px,#808080 194.5px)"></i><i style="background:linear-gradient(#848484 0.5px,#989898 6.5px,#9f9f9f 36.5px,#b6b6b6 75.5px,#b3b3b3 97.5px,#9f9f9f 110.5px,#878787 121.5px,#7f7f7f 139.5px,#808080 194.5px)"></i><i style="background:linear-gradient(#858585 0.5px,#a0a0a0 6.5px,#adadad 32.5px,#acacac 69.5px,#979797 106.5px,#828282 124.5px,#7f7f7f 194.5px)"></i><i style="width:2px;background:linear-gradient(#858585 0.5px,#a0a0a0 6.5px,#a1a1a1 97.5px,#909090 114.5px,#838383 123.5px,#7e7e7e 161.5px,#808080 194.5px)"></i><i style="background:linear-gradient(#848484 0.5px,#979797 6.5px,#b3b3b3 65.5px,#adadad 93.5px,#979797 110.5px,#848484 121.5px,#7e7e7e 155.5px,#808080 194.5px)"></i><i style="background:linear-gradient(#898989 0.5px,#adadad 5.5px,#b6b6b6 9.5px,#b0b0b0 33.5px,#919191 74.5px,#919191 110.5px,#808080 129.5px,#808080 194.5px)"></i><i style="background:linear-gradient(#858585 0.5px,#9e9e9e 6.5px,#a5a5a5 32.5px,#989898 98.5px,#808080 127.5px,#808080 194.5px)"></i><i style="background:linear-gradient(#848484 0.5px,#999 6.5px,#9a9a9a 60.5px,#a0a0a0 95.5px,#939393 111.5px,#838383 122.5px,#7e7e7e 172.5px,#808080 194.5px)"></i><i style="background:linear-gradient(#878787 0.5px,#a3a3a3 5.5px,#a9a9a9 10.5px,#9d9d9d 62.5px,#a2a2a2 100.5px,#828282 125.5px,#7e7e7e 194.5px)"></i><i style="background:linear-gradient(#8a8a8a 0.5px,#b1b1b1 5.5px,#b8b8b8 9.5px,#9c9c9c 62.5px,#a3a3a3 103.5px,#838383 125.5px,#7e7e7e 179.5px,#808080 194.5px)"></i><i style="background:linear-gradient(#888 0.5px,#a2a2a2 5.5px,#9f9f9f 12.5px,#8d8d8d 27.5px,#8a8a8a 47.5px,#a1a1a1 71.5px,#bbb 91.5px,#bababa 102.5px,#9c9c9c 114.5px,#8b8b8b 120.5px,#7f7f7f 134.5px,#808080 194.5px)"></i><i style="background:linear-gradient(#878787 0.5px,#a1a1a1 5.5px,#a2a2a2 11.5px,#8b8b8b 37.5px,#8b8b8b 61.5px,#a7a7a7 98.5px,#9c9c9c 109.5px,#868686 121.5px,#7e7e7e 144.5px,#808080 194.5px)"></i><i style="background:linear-gradient(#848484 0.5px,#989898 6.5px,#888 64.5px,#909090 104.5px,#808080 127.5px,#808080 194.5px)"></i><i style="background:linear-gradient(#818181 0.5px,#898989 10.5px,#8a8a8a 102.5px,#7f7f7f 126.5px,#808080 194.5px)"></i><i style="background:#808080"></i><i style="background:linear-gradient(#7f7f7f 0.5px,#797979 17.5px,#818181 194.5px)"></i><i style="background:linear-gradient(#7e7e7e 0.5px,#777 11.5px,#797979 106.5px,#818181 128.5px,#7f7f7f 194.5px)"></i><i style="width:2px;background:linear-gradient(#7e7e7e 0.5px,#757575 10.5px,#7a7a7a 106.5px,#818181 128.5px,#7f7f7f 194.5px)"></i><i style="background:#7f7f7f"></i><i style="background:linear-gradient(#828282 0.5px,#909090 8.5px,#909090 72.5px,#7e7e7e 132.5px,#808080 194.5px)"></i><i style="background:linear-gradient(#848484 0.5px,#999 6.5px,#9b9b9b 88.5px,#8c8c8c 108.5px,#818181 118.5px,#7f7f7f 194.5px)"></i><i style="background:linear-gradient(#848484 0.5px,#999 6.5px,#9d9d9d 45.5px,#ababab 83.5px,#a2a2a2 99.5px,#848484 116.5px,#7e7e7e 147.5px,#808080 194.5px)"></i><i style="background:linear-gradient(#848484 0.5px,#9a9a9a 6.5px,#b2b2b2 48.5px,#aeaeae 78.5px,#9b9b9b 99.5px,#838383 114.5px,#7e7e7e 154.5px,#808080 194.5px)"></i><i style="background:linear-gradient(#878787 0.5px,#a1a1a1 5.5px,#a6a6a6 11.5px,#969696 48.5px,#9f9f9f 96.5px,#818181 120.5px,#7f7f7f 194.5px)"></i><i style="background:linear-gradient(#838383 0.5px,#919191 6.5px,#8c8c8c 46.5px,#9a9a9a 92.5px,#808080 121.5px,#808080 194.5px)"></i><i style="background:linear-gradient(#7f7f7f 0.5px,#7e7e7e 116.5px,#818181 194.5px)"></i><i style="background:linear-gradient(#7f7f7f 0.5px,#777 17.5px,#6b6b6b 79.5px,#787878 106.5px,#808080 118.5px,#7f7f7f 194.5px)"></i><i style="background:linear-gradient(#7d7d7d 0.5px,#707070 7.5px,#7d7d7d 69.5px,#797979 104.5px,#818181 127.5px,#7f7f7f 194.5px)"></i><i style="background:linear-gradient(#808080 0.5px,#818181 143.5px,#808080 194.5px)"></i><i style="background:linear-gradient(#828282 0.5px,#8e8e8e 7.5px,#818181 46.5px,#8d8d8d 98.5px,#7f7f7f 122.5px,#808080 194.5px)"></i><i style="background:linear-gradient(#818181 0.5px,#898989 12.5px,#909090 46.5px,#989898 72.5px,#909090 97.5px,#808080 115.5px,#808080 194.5px)"></i><i style="background:linear-gradient(#828282 0.5px,#8e8e8e 8.5px,#888 102.5px,#7f7f7f 121.5px,#808080 194.5px)"></i><i style="background:linear-gradient(#818181 0.5px,#8c8c8c 9.5px,#7e7e7e 157.5px,#808080 194.5px)"></i><i style="background:linear-gradient(#828282 0.5px,#8d8d8d 8.5px,#8b8b8b 76.5px,#7e7e7e 129.5px,#808080 194.5px)"></i><i style="background:linear-gradient(#838383 0.5px,#959595 7.5px,#909090 91.5px,#7f7f7f 120.5px,#808080 194.5px)"></i><i style="background:linear-gradient(#848484 0.5px,#9a9a9a 6.5px,#919191 98.5px,#808080 117.5px,#808080 194.5px)"></i><i style="background:linear-gradient(#838383 0.5px,#959595 6.5px,#979797 89.5px,#808080 118.5px,#808080 194.5px)"></i><i style="background:linear-gradient(#838383 0.5px,#929292 7.5px,#8d8d8d 97.5px,#7f7f7f 118.5px,#808080 194.5px)"></i><i style="background:linear-gradient(#808080 0.5px,#848484 34.5px,#7e7e7e 194.5px)"></i><i style="background:linear-gradient(#7d7d7d 0.5px,#707070 8.5px,#797979 103.5px,#818181 123.5px,#7f7f7f 194.5px)"></i><i style="background:linear-gradient(#7c7c7c 0.5px,#6b6b6b 6.5px,#6a6a6a 82.5px,#777 106.5px,#7f7f7f 118.5px,#7f7f7f 194.5px)"></i><i style="background:linear-gradient(#7b7b7b 0.5px,#656565 6.5px,#606060 28.5px,#818181 128.5px,#7f7f7f 194.5px)"></i><i style="background:linear-gradient(#7c7c7c 0.5px,#6d6d6d 6.5px,#777 67.5px,#737373 98.5px,#808080 121.5px,#7f7f7f 194.5px)"></i><i style="background:linear-gradient(#7d7d7d 0.5px,#717171 8.5px,#787878 102.5px,#808080 122.5px,#7f7f7f 194.5px)"></i><i style="background:linear-gradient(#7c7c7c 0.5px,#6e6e6e 7.5px,#717171 74.5px,#6f6f6f 94.5px,#808080 119.5px,#7f7f7f 194.5px)"></i><i style="background:linear-gradient(#7a7a7a 0.5px,#616161 6.5px,#666 35.5px,#717171 65.5px,#707070 99.5px,#7f7f7f 119.5px,#7f7f7f 194.5px)"></i><i style="background:linear-gradient(#7c7c7c 0.5px,#676767 7.5px,#5b5b5b 56.5px,#666 91.5px,#7e7e7e 114.5px,#7f7f7f 194.5px)"></i><i style="background:linear-gradient(#7a7a7a 0.5px,#646464 6.5px,#636363 90.5px,#7e7e7e 117.5px,#7f7f7f 194.5px)"></i><i style="background:linear-gradient(#7b7b7b 0.5px,#656565 6.5px,#5e5e5e 85.5px,#6d6d6d 102.5px,#7c7c7c 113.5px,#818181 161.5px,#7f7f7f 194.5px)"></i><i style="background:linear-gradient(#7a7a7a 0.5px,#636363 6.5px,#656565 92.5px,#7e7e7e 117.5px,#7f7f7f 194.5px)"></i><i style="background:linear-gradient(#7b7b7b 0.5px,#6a6a6a 6.5px,#6f6f6f 96.5px,#7f7f7f 118.5px,#7f7f7f 194.5px)"></i><i style="background:linear-gradient(#7f7f7f 0.5px,#797979 14.5px,#7d7d7d 115.5px,#818181 165.5px,#7f7f7f 194.5px)"></i><i style="background:linear-gradient(#808080 0.5px,#838383 30.5px,#7e7e7e 194.5px)"></i><i style="background:linear-gradient(#7f7f7f 0.5px,#7e7e7e 194.5px)"></i><i style="background:linear-gradient(#7e7e7e 0.5px,#737373 9.5px,#797979 101.5px,#808080 121.5px,#7f7f7f 194.5px)"></i><i style="background:linear-gradient(#7d7d7d 0.5px,#727272 8.5px,#717171 38.5px,#656565 82.5px,#707070 101.5px,#7d7d7d 113.5px,#808080 194.5px)"></i><i style="background:linear-gradient(#7b7b7b 0.5px,#656565 7.5px,#5c5c5c 38.5px,#6e6e6e 84.5px,#808080 116.5px,#7f7f7f 194.5px)"></i><i style="background:linear-gradient(#7d7d7d 0.5px,#6f6f6f 7.5px,#787878 103.5px,#808080 121.5px,#7f7f7f 194.5px)"></i><i style="background:linear-gradient(#818181 0.5px,#8d8d8d 9.5px,#888 94.5px,#7e7e7e 123.5px,#808080 194.5px)"></i><i style="background:linear-gradient(#858585 0.5px,#9e9e9e 6.5px,#a0a0a0 31.5px,#8f8f8f 99.5px,#808080 117.5px,#808080 194.5px)"></i><i style="background:linear-gradient(#858585 0.5px,#9d9d9d 6.5px,#9b9b9b 93.5px,#818181 116.5px,#7f7f7f 194.5px)"></i><i style="background:linear-gradient(#858585 0.5px,#9e9e9e 6.5px,#979797 60.5px,#9c9c9c 92.5px,#818181 118.5px,#808080 194.5px)"></i><i style="background:linear-gradient(#838383 0.5px,#969696 6.5px,#a1a1a1 56.5px,#989898 92.5px,#818181 115.5px,#808080 194.5px)"></i><i style="background:linear-gradient(#828282 0.5px,#8f8f8f 8.5px,#969696 53.5px,#9b9b9b 79.5px,#909090 100.5px,#818181 113.5px,#7f7f7f 194.5px)"></i><i style="background:linear-gradient(#818181 0.5px,#898989 8.5px,#878787 41.5px,#949494 88.5px,#7f7f7f 120.5px,#808080 194.5px)"></i><i style="background:linear-gradient(#828282 0.5px,#909090 7.5px,#8a8a8a 66.5px,#7e7e7e 138.5px,#808080 194.5px)"></i><i style="background:linear-gradient(#838383 0.5px,#919191 7.5px,#909090 95.5px,#808080 117.5px,#808080 194.5px)"></i><i style="background:linear-gradient(#838383 0.5px,#949494 6.5px,#9c9c9c 85.5px,#8d8d8d 104.5px,#818181 115.5px,#808080 194.5px)"></i><i style="background:linear-gradient(#848484 0.5px,#9b9b9b 6.5px,#a0a0a0 36.5px,#929292 96.5px,#808080 116.5px,#808080 194.5px)"></i><i style="background:linear-gradient(#848484 0.5px,#9a9a9a 6.5px,#9f9f9f 29.5px,#878787 105.5px,#7f7f7f 120.5px,#808080 194.5px)"></i><i style="background:linear-gradient(#828282 0.5px,#909090 7.5px,#979797 71.5px,#8c8c8c 100.5px,#808080 115.5px,#808080 194.5px)"></i><i style="background:linear-gradient(#828282 0.5px,#8d8d8d 8.5px,#8d8d8d 36.5px,#9b9b9b 83.5px,#909090 101.5px,#818181 114.5px,#7f7f7f 194.5px)"></i><i style="background:linear-gradient(#818181 0.5px,#8d8d8d 11.5px,#a6a6a6 62.5px,#9e9e9e 88.5px,#818181 112.5px,#7f7f7f 194.5px)"></i><i style="background:linear-gradient(#828282 0.5px,#8f8f8f 9.5px,#a1a1a1 66.5px,#979797 93.5px,#818181 112.5px,#7f7f7f 194.5px)"></i><i style="background:linear-gradient(#818181 0.5px,#8b8b8b 8.5px,#8e8e8e 55.5px,#949494 86.5px,#7f7f7f 120.5px,#808080 194.5px)"></i><i style="background:linear-gradient(#808080 0.5px,#868686 24.5px,#7e7e7e 172.5px,#808080 194.5px)"></i><i style="background:#7f7f7f"></i><i style="background:linear-gradient(#808080 0.5px,#878787 13.5px,#7e7e7e 165.5px,#808080 194.5px)"></i><i style="background:linear-gradient(#818181 0.5px,#888 11.5px,#868686 101.5px,#7e7e7e 124.5px,#808080 194.5px)"></i><i style="background:#7f7f7f"></i><i style="background:linear-gradient(#7e7e7e 0.5px,#737373 11.5px,#696969 65.5px,#757575 99.5px,#7f7f7f 113.5px,#7f7f7f 194.5px)"></i><i style="background:linear-gradient(#797979 0.5px,#616161 5.5px,#5b5b5b 11.5px,#7b7b7b 70.5px,#787878 106.5px,#808080 126.5px,#7f7f7f 194.5px)"></i><i style="background:linear-gradient(#7e7e7e 0.5px,#767676 12.5px,#6f6f6f 34.5px,#5c5c5c 66.5px,#5f5f5f 89.5px,#7d7d7d 113.5px,#808080 194.5px)"></i><i style="background:linear-gradient(#7d7d7d 0.5px,#707070 8.5px,#626262 66.5px,#6d6d6d 95.5px,#7e7e7e 113.5px,#7f7f7f 194.5px)"></i><i style="background:linear-gradient(#7e7e7e 0.5px,#747474 9.5px,#6f6f6f 82.5px,#808080 121.5px,#7f7f7f 194.5px)"></i><i style="background:linear-gradient(#808080 0.5px,#808080 194.5px)"></i><i style="background:linear-gradient(#828282 0.5px,#8f8f8f 7.5px,#868686 104.5px,#7e7e7e 123.5px,#808080 194.5px)"></i><i style="background:linear-gradient(#838383 0.5px,#959595 6.5px,#8d8d8d 43.5px,#858585 69.5px,#878787 104.5px,#7f7f7f 124.5px,#808080 194.5px)"></i><i style="background:linear-gradient(#838383 0.5px,#909090 7.5px,#848484 51.5px,#8d8d8d 98.5px,#7f7f7f 120.5px,#808080 194.5px)"></i><i style="background:linear-gradient(#838383 0.5px,#929292 7.5px,#838383 111.5px,#7e7e7e 130.5px,#808080 194.5px)"></i><i style="background:linear-gradient(#818181 0.5px,#8a8a8a 9.5px,#8c8c8c 93.5px,#7f7f7f 119.5px,#808080 194.5px)"></i><i style="background:linear-gradient(#808080 0.5px,#848484 37.5px,#7e7e7e 194.5px)"></i><i style="background:linear-gradient(#7e7e7e 0.5px,#767676 9.5px,#787878 101.5px,#818181 121.5px,#7f7f7f 194.5px)"></i><i style="background:linear-gradient(#7d7d7d 0.5px,#707070 7.5px,#737373 97.5px,#808080 119.5px,#7f7f7f 194.5px)"></i><i style="background:linear-gradient(#7d7d7d 0.5px,#727272 8.5px,#717171 75.5px,#818181 126.5px,#7f7f7f 194.5px)"></i><i style="background:linear-gradient(#7f7f7f 0.5px,#797979 22.5px,#787878 97.5px,#818181 121.5px,#7f7f7f 194.5px)"></i><i style="width:2px;background:linear-gradient(#7f7f7f 0.5px,#7c7c7c 61.5px,#818181 194.5px)"></i><i style="width:2px;background:linear-gradient(#7e7e7e 0.5px,#787878 12.5px,#7a7a7a 102.5px,#818181 125.5px,#7f7f7f 194.5px)"></i><i style="background:linear-gradient(#7f7f7f 0.5px,#7c7c7c 45.5px,#808080 194.5px)"></i><i style="background:linear-gradient(#808080 0.5px,#808080 194.5px)"></i><i style="background:linear-gradient(#808080 0.5px,#878787 28.5px,#868686 94.5px,#7e7e7e 121.5px,#808080 194.5px)"></i><i style="background:linear-gradient(#838383 0.5px,#929292 7.5px,#8f8f8f 59.5px,#949494 91.5px,#7f7f7f 119.5px,#808080 194.5px)"></i><i style="background:linear-gradient(#848484 0.5px,#949494 6.5px,#919191 36.5px,#a8a8a8 86.5px,#9d9d9d 99.5px,#848484 113.5px,#7e7e7e 143.5px,#808080 194.5px)"></i><i style="background:linear-gradient(#828282 0.5px,#8d8d8d 7.5px,#898989 25.5px,#a1a1a1 57.5px,#b4b4b4 77.5px,#b1b1b1 92.5px,#858585 113.5px,#7e7e7e 136.5px,#808080 194.5px)"></i><i style="background:linear-gradient(#878787 0.5px,#a4a4a4 5.5px,#acacac 10.5px,#a9a9a9 42.5px,#898989 106.5px,#808080 119.5px,#808080 194.5px)"></i><i style="background:linear-gradient(#858585 0.5px,#9d9d9d 6.5px,#9c9c9c 92.5px,#818181 117.5px,#808080 194.5px)"></i><i style="background:linear-gradient(#848484 0.5px,#979797 6.5px,#999 91.5px,#808080 117.5px,#808080 194.5px)"></i><i style="background:linear-gradient(#838383 0.5px,#939393 7.5px,#929292 76.5px,#929292 94.5px,#808080 117.5px,#808080 194.5px)"></i><i style="background:linear-gradient(#818181 0.5px,#898989 11.5px,#848484 102.5px,#7e7e7e 126.5px,#808080 194.5px)"></i><i style="background:linear-gradient(#7f7f7f 0.5px,#7a7a7a 15.5px,#818181 194.5px)"></i><i style="background:linear-gradient(#7e7e7e 0.5px,#747474 9.5px,#767676 93.5px,#818181 123.5px,#7f7f7f 194.5px)"></i><i style="background:linear-gradient(#7d7d7d 0.5px,#6f6f6f 7.5px,#6e6e6e 90.5px,#808080 119.5px,#7f7f7f 194.5px)"></i><i style="background:linear-gradient(#7b7b7b 0.5px,#686868 6.5px,#676767 72.5px,#656565 91.5px,#7e7e7e 117.5px,#7f7f7f 194.5px)"></i><i style="background:linear-gradient(#7c7c7c 0.5px,#6d6d6d 6.5px,#696969 40.5px,#575757 79.5px,#5f5f5f 95.5px,#7c7c7c 113.5px,#818181 149.5px,#7f7f7f 194.5px)"></i><i style="background:linear-gradient(#7d7d7d 0.5px,#707070 8.5px,#646464 37.5px,#555 62.5px,#585858 86.5px,#707070 104.5px,#7c7c7c 112.5px,#818181 153.5px,#7f7f7f 194.5px)"></i><i style="background:linear-gradient(#7e7e7e 0.5px,#737373 9.5px,#707070 32.5px,#5e5e5e 72.5px,#646464 93.5px,#7d7d7d 113.5px,#818181 194.5px)"></i><i style="background:linear-gradient(#7d7d7d 0.5px,#717171 9.5px,#6c6c6c 59.5px,#818181 123.5px,#7f7f7f 194.5px)"></i><i style="background:linear-gradient(#7f7f7f 0.5px,#787878 54.5px,#818181 156.5px,#7f7f7f 194.5px)"></i><i style="background:linear-gradient(#808080 0.5px,#858585 25.5px,#7e7e7e 194.5px)"></i><i style="background:linear-gradient(#818181 0.5px,#878787 12.5px,#828282 109.5px,#7e7e7e 135.5px,#808080 194.5px)"></i><i style="background:linear-gradient(#808080 0.5px,#838383 45.5px,#7f7f7f 194.5px)"></i><i style="background:linear-gradient(#7e7e7e 0.5px,#767676 10.5px,#818181 160.5px,#7f7f7f 194.5px)"></i><i style="background:linear-gradient(#7e7e7e 0.5px,#767676 8.5px,#777 42.5px,#6c6c6c 88.5px,#808080 120.5px,#7f7f7f 194.5px)"></i><i style="background:linear-gradient(#7c7c7c 0.5px,#6e6e6e 7.5px,#737373 68.5px,#707070 95.5px,#808080 120.5px,#7f7f7f 194.5px)"></i><i style="background:linear-gradient(#7d7d7d 0.5px,#727272 7.5px,#7a7a7a 105.5px,#818181 125.5px,#7f7f7f 194.5px)"></i><i style="width:2px;background:linear-gradient(#7f7f7f 0.5px,#777 57.5px,#818181 144.5px,#7f7f7f 194.5px)"></i><i style="background:linear-gradient(#7e7e7e 0.5px,#767676 10.5px,#737373 91.5px,#808080 120.5px,#7f7f7f 194.5px)"></i><i style="width:2px;background:linear-gradient(#7d7d7d 0.5px,#717171 8.5px,#757575 97.5px,#808080 120.5px,#7f7f7f 194.5px)"></i><i style="background:linear-gradient(#7c7c7c 0.5px,#6e6e6e 7.5px,#707070 95.5px,#808080 118.5px,#7f7f7f 194.5px)"></i><i style="background:linear-gradient(#7b7b7b 0.5px,#6a6a6a 6.5px,#707070 60.5px,#6a6a6a 93.5px,#7f7f7f 119.5px,#7f7f7f 194.5px)"></i><i style="background:linear-gradient(#7c7c7c 0.5px,#6d6d6d 7.5px,#757575 75.5px,#747474 98.5px,#808080 120.5px,#7f7f7f 194.5px)"></i><i style="background:linear-gradient(#828282 0.5px,#8c8c8c 8.5px,#7e7e7e 155.5px,#808080 194.5px)"></i><i style="background:linear-gradient(#838383 0.5px,#929292 6.5px,#8d8d8d 38.5px,#a3a3a3 88.5px,#959595 102.5px,#848484 113.5px,#7e7e7e 147.5px,#808080 194.5px)"></i><i style="background:linear-gradient(#848484 0.5px,#9a9a9a 6.5px,#a0a0a0 73.5px,#969696 97.5px,#828282 114.5px,#7f7f7f 194.5px)"></i><i style="background:linear-gradient(#858585 0.5px,#9c9c9c 6.5px,#9f9f9f 47.5px,#969696 95.5px,#818181 116.5px,#808080 194.5px)"></i><i style="background:linear-gradient(#848484 0.5px,#989898 6.5px,#9e9e9e 86.5px,#8e8e8e 104.5px,#818181 115.5px,#7f7f7f 194.5px)"></i><i style="background:linear-gradient(#848484 0.5px,#9b9b9b 6.5px,#a2a2a2 34.5px,#949494 93.5px,#808080 116.5px,#808080 194.5px)"></i><i style="background:linear-gradient(#838383 0.5px,#949494 7.5px,#a1a1a1 52.5px,#959595 90.5px,#808080 114.5px,#808080 194.5px)"></i><i style="background:linear-gradient(#838383 0.5px,#929292 6.5px,#8e8e8e 58.5px,#959595 92.5px,#808080 119.5px,#808080 194.5px)"></i><i style="background:linear-gradient(#838383 0.5px,#949494 6.5px,#929292 94.5px,#808080 117.5px,#808080 194.5px)"></i><i style="background:linear-gradient(#848484 0.5px,#999 6.5px,#909090 75.5px,#919191 96.5px,#808080 119.5px,#808080 194.5px)"></i><i style="background:linear-gradient(#828282 0.5px,#8f8f8f 7.5px,#a1a1a1 76.5px,#979797 96.5px,#828282 113.5px,#7f7f7f 194.5px)"></i><i style="background:linear-gradient(#858585 0.5px,#999 5.5px,#9a9a9a 13.5px,#8e8e8e 39.5px,#949494 73.5px,#9d9d9d 92.5px,#818181 118.5px,#7f7f7f 194.5px)"></i><i style="background:linear-gradient(#878787 0.5px,#a3a3a3 5.5px,#acacac 10.5px,#a8a8a8 40.5px,#8f8f8f 86.5px,#898989 105.5px,#7f7f7f 121.5px,#808080 194.5px)"></i><i style="background:linear-gradient(#868686 0.5px,#a0a0a0 6.5px,#989898 95.5px,#818181 116.5px,#7f7f7f 194.5px)"></i><i style="background:linear-gradient(#858585 0.5px,#9e9e9e 6.5px,#a0a0a0 30.5px,#8d8d8d 101.5px,#808080 117.5px,#808080 194.5px)"></i><i style="background:linear-gradient(#818181 0.5px,#8a8a8a 11.5px,#8e8e8e 66.5px,#7e7e7e 124.5px,#808080 194.5px)"></i><i style="background:linear-gradient(#7f7f7f 0.5px,#7a7a7a 20.5px,#787878 98.5px,#818181 121.5px,#7f7f7f 194.5px)"></i><i style="background:linear-gradient(#7e7e7e 0.5px,#787878 11.5px,#7c7c7c 108.5px,#818181 131.5px,#7f7f7f 194.5px)"></i><i style="background:linear-gradient(#808080 0.5px,#818181 194.5px)"></i><i style="background:linear-gradient(#818181 0.5px,#878787 12.5px,#838383 107.5px,#7e7e7e 130.5px,#808080 194.5px)"></i><i style="background:#808080"></i><i style="background:linear-gradient(#7d7d7d 0.5px,#727272 8.5px,#717171 69.5px,#818181 127.5px,#7f7f7f 194.5px)"></i><i style="background:linear-gradient(#7b7b7b 0.5px,#686868 6.5px,#727272 70.5px,#6f6f6f 96.5px,#7f7f7f 119.5px,#7f7f7f 194.5px)"></i><i style="background:linear-gradient(#7b7b7b 0.5px,#676767 6.5px,#717171 99.5px,#7f7f7f 118.5px,#7f7f7f 194.5px)"></i><i style="background:linear-gradient(#7c7c7c 0.5px,#6a6a6a 6.5px,#6e6e6e 95.5px,#7f7f7f 118.5px,#7f7f7f 194.5px)"></i><i style="background:linear-gradient(#7c7c7c 0.5px,#6c6c6c 7.5px,#666 82.5px,#747474 104.5px,#7e7e7e 115.5px,#7f7f7f 194.5px)"></i><i style="background:linear-gradient(#7b7b7b 0.5px,#686868 6.5px,#6a6a6a 95.5px,#7f7f7f 117.5px,#7f7f7f 194.5px)"></i><i style="background:linear-gradient(#7b7b7b 0.5px,#686868 6.5px,#626262 57.5px,#6b6b6b 95.5px,#7e7e7e 115.5px,#7f7f7f 194.5px)"></i><i style="background:linear-gradient(#7b7b7b 0.5px,#696969 6.5px,#6d6d6d 57.5px,#747474 101.5px,#808080 119.5px,#7f7f7f 194.5px)"></i><i style="background:#808080"></i><i style="background:linear-gradient(#848484 0.5px,#989898 6.5px,#949494 53.5px,#8d8d8d 100.5px,#808080 118.5px,#808080 194.5px)"></i><i style="background:linear-gradient(#848484 0.5px,#979797 6.5px,#8a8a8a 37.5px,#979797 70.5px,#a3a3a3 88.5px,#9b9b9b 100.5px,#848484 114.5px,#7e7e7e 147.5px,#808080 194.5px)"></i><i style="background:linear-gradient(#838383 0.5px,#9a9a9a 7.5px,#acacac 34.5px,#a6a6a6 60.5px,#808080 107.5px,#808080 194.5px)"></i><i style="background:linear-gradient(#808080 0.5px,#818181 113.5px,#7e7e7e 194.5px)"></i><i style="background:linear-gradient(#7c7c7c 0.5px,#6a6a6a 7.5px,#656565 85.5px,#7f7f7f 118.5px,#7f7f7f 194.5px)"></i><i style="background:linear-gradient(#7b7b7b 0.5px,#676767 6.5px,#5e5e5e 87.5px,#6f6f6f 104.5px,#7d7d7d 114.5px,#818181 192.5px,#7f7f7f 194.5px)"></i><i style="background:linear-gradient(#797979 0.5px,#5e5e5e 5.5px,#575757 10.5px,#6e6e6e 84.5px,#6f6f6f 99.5px,#7f7f7f 118.5px,#7f7f7f 194.5px)"></i><i style="background:linear-gradient(#7c7c7c 0.5px,#676767 7.5px,#565656 46.5px,#5e5e5e 79.5px,#7f7f7f 114.5px,#7f7f7f 194.5px)"></i><i style="background:linear-gradient(#7b7b7b 0.5px,#696969 6.5px,#717171 41.5px,#5f5f5f 90.5px,#6d6d6d 104.5px,#7c7c7c 114.5px,#818181 155.5px,#7f7f7f 194.5px)"></i><i style="background:linear-gradient(#7c7c7c 0.5px,#686868 6.5px,#5c5c5c 46.5px,#646464 87.5px,#7e7e7e 115.5px,#7f7f7f 194.5px)"></i><i style="background:linear-gradient(#7b7b7b 0.5px,#656565 6.5px,#676767 81.5px,#717171 102.5px,#7e7e7e 116.5px,#7f7f7f 194.5px)"></i><i style="background:linear-gradient(#7c7c7c 0.5px,#6b6b6b 6.5px,#696969 87.5px,#7f7f7f 119.5px,#7f7f7f 194.5px)"></i><i style="background:linear-gradient(#7d7d7d 0.5px,#707070 7.5px,#707070 92.5px,#808080 119.5px,#7f7f7f 194.5px)"></i><i style="width:2px;background:linear-gradient(#7d7d7d 0.5px,#727272 8.5px,#777 100.5px,#808080 120.5px,#7f7f7f 194.5px)"></i><i style="background:linear-gradient(#7c7c7c 0.5px,#6a6a6a 7.5px,#777 101.5px,#808080 121.5px,#7f7f7f 194.5px)"></i><i style="background:linear-gradient(#7d7d7d 0.5px,#747474 8.5px,#747474 31.5px,#5e5e5e 80.5px,#666 97.5px,#7d7d7d 113.5px,#818181 180.5px,#7f7f7f 194.5px)"></i><i style="background:linear-gradient(#797979 0.5px,#5c5c5c 6.5px,#575757 21.5px,#686868 58.5px,#777 83.5px,#818181 144.5px,#7f7f7f 194.5px)"></i><i style="background:linear-gradient(#7d7d7d 0.5px,#747474 7.5px,#797979 36.5px,#666 89.5px,#7f7f7f 119.5px,#7f7f7f 194.5px)"></i><i style="background:linear-gradient(#828282 0.5px,#8f8f8f 7.5px,#7e7e7e 139.5px,#808080 194.5px)"></i><i style="background:linear-gradient(#848484 0.5px,#999 6.5px,#939393 43.5px,#a2a2a2 89.5px,#949494 103.5px,#848484 113.5px,#7e7e7e 145.5px,#808080 194.5px)"></i><i style="background:linear-gradient(#868686 0.5px,#9e9e9e 5.5px,#9f9f9f 12.5px,#909090 36.5px,#949494 65.5px,#a3a3a3 91.5px,#979797 103.5px,#858585 114.5px,#7e7e7e 142.5px,#808080 194.5px)"></i><i style="background:linear-gradient(#828282 0.5px,#919191 8.5px,#9f9f9f 35.5px,#b0b0b0 59.5px,#aeaeae 83.5px,#9a9a9a 99.5px,#858585 110.5px,#7e7e7e 134.5px,#808080 194.5px)"></i><i style="background:linear-gradient(#868686 0.5px,#9f9f9f 5.5px,#a5a5a5 11.5px,#919191 81.5px,#909090 98.5px,#808080 119.5px,#808080 194.5px)"></i><i style="background:linear-gradient(#848484 0.5px,#9a9a9a 6.5px,#9f9f9f 28.5px,#7e7e7e 127.5px,#808080 194.5px)"></i><i style="background:linear-gradient(#818181 0.5px,#8e8e8e 10.5px,#9b9b9b 58.5px,#8f8f8f 93.5px,#808080 113.5px,#808080 194.5px)"></i><i style="background:linear-gradient(#828282 0.5px,#8b8b8b 8.5px,#848484 50.5px,#8b8b8b 97.5px,#7f7f7f 121.5px,#808080 194.5px)"></i><i style="background:linear-gradient(#808080 0.5px,#838383 31.5px,#7e7e7e 180.5px,#808080 194.5px)"></i><i style="background:linear-gradient(#7f7f7f 0.5px,#797979 13.5px,#7d7d7d 83.5px,#7c7c7c 108.5px,#818181 137.5px,#7f7f7f 194.5px)"></i><i style="background:linear-gradient(#7e7e7e 0.5px,#767676 10.5px,#787878 99.5px,#818181 121.5px,#7f7f7f 194.5px)"></i><i style="background:linear-gradient(#7d7d7d 0.5px,#737373 8.5px,#737373 93.5px,#808080 120.5px,#7f7f7f 194.5px)"></i><i style="background:linear-gradient(#7d7d7d 0.5px,#727272 7.5px,#747474 57.5px,#6f6f6f 93.5px,#808080 120.5px,#7f7f7f 194.5px)"></i><i style="background:linear-gradient(#7e7e7e 0.5px,#787878 12.5px,#767676 59.5px,#737373 89.5px,#808080 121.5px,#7f7f7f 194.5px)"></i><i style="background:linear-gradient(#808080 0.5px,#868686 18.5px,#868686 98.5px,#7e7e7e 124.5px,#808080 194.5px)"></i><i style="width:2px;background:linear-gradient(#838383 0.5px,#939393 7.5px,#8f8f8f 94.5px,#7f7f7f 118.5px,#808080 194.5px)"></i><i style="background:linear-gradient(#828282 0.5px,#909090 7.5px,#8b8b8b 99.5px,#7f7f7f 119.5px,#808080 194.5px)"></i><i style="background:linear-gradient(#838383 0.5px,#919191 7.5px,#868686 72.5px,#888 101.5px,#7f7f7f 123.5px,#808080 194.5px)"></i></div>
<div class="f r" style="left:1055px;top:111px;width:763px;height:177px"><i style="background:linear-gradient(90deg,#fff 0.5px,#fefefe 369.5px,#f5f5f5 372.5px,#a7a7a7 381.5px,#c4c4c4 385.5px,#f3f3f3 390.5px,#fefefe 393.5px,#fff 762.5px)"></i><i style="background:linear-gradient(90deg,#fff 0.5px,#fefefe 368.5px,#f4f4f4 371.5px,#a1a1a1 381.5px,#c6c6c6 386.5px,#f9f9f9 392.5px,#fff 398.5px,#fff 762.5px)"></i><i style="background:linear-gradient(90deg,#fff 0.5px,#fefefe 367.5px,#f4f4f4 370.5px,#acacac 379.5px,#a6a6a6 380.5px,#9a9a9a 381.5px,#f7f7f7 393.5px,#fff 397.5px,#fff 762.5px)"></i><i style="background:linear-gradient(90deg,#fff 0.5px,#fefefe 366.5px,#f3f3f3 369.5px,#aeaeae 378.5px,#a8a8a8 379.5px,#939393 381.5px,#b3b3b3 385.5px,#d0d0d0 389.5px,#f7f7f7 394.5px,#fff 399.5px,#fff 762.5px)"></i><i style="background:linear-gradient(90deg,#fff 0.5px,#fefefe 364.5px,#f8f8f8 367.5px,#a3a3a3 379.5px,#8d8d8d 381.5px,#9c9c9c 383.5px,#a8a8a8 384.5px,#c9c9c9 389.5px,#f7f7f7 395.5px,#fff 400.5px,#fff 762.5px)"></i><i style="background:linear-gradient(90deg,#fff 0.5px,#fefefe 363.5px,#f7f7f7 366.5px,#a5a5a5 378.5px,#888 381.5px,#969696 383.5px,#ababab 385.5px,#cacaca 390.5px,#f6f6f6 396.5px,#fff 401.5px,#fff 762.5px)"></i><i style="background:linear-gradient(90deg,#fff 0.5px,#fefefe 362.5px,#f7f7f7 365.5px,#a1a1a1 378.5px,#848484 381.5px,#919191 383.5px,#aeaeae 386.5px,#c4c4c4 390.5px,#f6f6f6 397.5px,#fff 402.5px,#fff 762.5px)"></i><i style="background:linear-gradient(90deg,#fff 0.5px,#fefefe 361.5px,#f7f7f7 364.5px,#a4a4a4 377.5px,#808080 381.5px,#8d8d8d 383.5px,#a9a9a9 386.5px,#c7c7c7 391.5px,#f6f6f6 398.5px,#fff 403.5px,#fff 762.5px)"></i><i style="background:linear-gradient(90deg,#fff 0.5px,#fefefe 360.5px,#f7f7f7 363.5px,#a1a1a1 377.5px,#858585 380.5px,#7f7f7f 381.5px,#828282 382.5px,#adadad 387.5px,#c8c8c8 392.5px,#f6f6f6 399.5px,#fff 405.5px,#fff 762.5px)"></i><i style="background:linear-gradient(90deg,#fff 0.5px,#fefefe 359.5px,#f3f3f3 363.5px,#a3a3a3 376.5px,#828282 380.5px,#7f7f7f 381.5px,#808080 382.5px,#afafaf 388.5px,#c4c4c4 392.5px,#f6f6f6 400.5px,#fff 406.5px,#fff 762.5px)"></i><i style="background:linear-gradient(90deg,#fff 0.5px,#fefefe 358.5px,#f4f4f4 362.5px,#acacac 374.5px,#a1a1a1 376.5px,#7f7f7f 380.5px,#7f7f7f 382.5px,#939393 385.5px,#adadad 388.5px,#c6c6c6 393.5px,#f7f7f7 401.5px,#fff 407.5px,#fff 762.5px)"></i><i style="background:linear-gradient(90deg,#fff 0.5px,#fefefe 357.5px,#f4f4f4 361.5px,#a4a4a4 375.5px,#7e7e7e 380.5px,#808080 383.5px,#afafaf 389.5px,#c7c7c7 394.5px,#f7f7f7 402.5px,#fff 409.5px,#fff 762.5px)"></i><i style="background:linear-gradient(90deg,#fff 0.5px,#fefefe 356.5px,#f4f4f4 360.5px,#acacac 373.5px,#a2a2a2 375.5px,#818181 379.5px,#7d7d7d 382.5px,#858585 384.5px,#acacac 389.5px,#c9c9c9 395.5px,#f7f7f7 403.5px,#fff 410.5px,#fff 762.5px)"></i><i style="background:linear-gradient(90deg,#fff 0.5px,#fefefe 355.5px,#f4f4f4 359.5px,#a4a4a4 374.5px,#7f7f7f 379.5px,#7d7d7d 382.5px,#838383 384.5px,#aeaeae 390.5px,#c5c5c5 395.5px,#f7f7f7 404.5px,#fff 411.5px,#fff 762.5px)"></i><i style="background:linear-gradient(90deg,#fff 0.5px,#fefefe 354.5px,#f4f4f4 358.5px,#a1a1a1 374.5px,#838383 378.5px,#7b7b7b 381.5px,#808080 384.5px,#ababab 390.5px,#ccc 397.5px,#f7f7f7 405.5px,#fff 412.5px,#fff 762.5px)"></i><i style="background:linear-gradient(90deg,#fff 0.5px,#fdfdfd 353.5px,#f4f4f4 357.5px,#a4a4a4 373.5px,#818181 378.5px,#7c7c7c 382.5px,#838383 385.5px,#aeaeae 391.5px,#c8c8c8 397.5px,#f8f8f8 406.5px,#fff 414.5px,#fff 762.5px)"></i><i style="background:linear-gradient(90deg,#fff 0.5px,#fefefe 351.5px,#f5f5f5 356.5px,#a1a1a1 373.5px,#7f7f7f 378.5px,#7c7c7c 383.5px,#878787 386.5px,#ababab 391.5px,#cacaca 398.5px,#f7f7f7 407.5px,#fff 415.5px,#fff 762.5px)"></i><i style="background:linear-gradient(90deg,#fff 0.5px,#fefefe 350.5px,#f4f4f4 355.5px,#a4a4a4 372.5px,#7e7e7e 378.5px,#7c7c7c 383.5px,#808080 385.5px,#adadad 392.5px,#cacaca 399.5px,#f2f2f2 407.5px,#fff 413.5px,#fff 762.5px)"></i><i style="background:linear-gradient(90deg,#fff 0.5px,#fefefe 349.5px,#f4f4f4 354.5px,#aaa 370.5px,#a2a2a2 372.5px,#808080 377.5px,#7b7b7b 382.5px,#838383 386.5px,#ababab 392.5px,#cbcbcb 400.5px,#f6f6f6 409.5px,#fff 417.5px,#fff 762.5px)"></i><i style="background:linear-gradient(90deg,#fff 0.5px,#fefefe 348.5px,#f3f3f3 353.5px,#acacac 369.5px,#a5a5a5 371.5px,#7f7f7f 377.5px,#7b7b7b 383.5px,#828282 386.5px,#adadad 393.5px,#c8c8c8 400.5px,#f6f6f6 410.5px,#fff 418.5px,#fff 762.5px)"></i><i style="background:linear-gradient(90deg,#fff 0.5px,#fefefe 346.5px,#f3f3f3 352.5px,#a1a1a1 371.5px,#7e7e7e 377.5px,#7b7b7b 383.5px,#808080 386.5px,#afafaf 394.5px,#c8c8c8 401.5px,#f5f5f5 411.5px,#fff 419.5px,#fff 762.5px)"></i><i style="background:linear-gradient(90deg,#fff 0.5px,#fefefe 345.5px,#f3f3f3 351.5px,#ababab 368.5px,#a5a5a5 370.5px,#808080 376.5px,#7b7b7b 382.5px,#838383 387.5px,#acacac 394.5px,#c9c9c9 402.5px,#f9f9f9 413.5px,#fff 424.5px,#fff 762.5px)"></i><i style="background:linear-gradient(90deg,#fff 0.5px,#fefefe 344.5px,#f5f5f5 349.5px,#a2a2a2 370.5px,#7f7f7f 376.5px,#7b7b7b 383.5px,#828282 387.5px,#aeaeae 395.5px,#c6c6c6 402.5px,#f8f8f8 414.5px,#fff 424.5px,#fff 762.5px)"></i><i style="background:linear-gradient(90deg,#fff 0.5px,#fdfdfd 343.5px,#f5f5f5 348.5px,#ababab 367.5px,#a5a5a5 369.5px,#7e7e7e 376.5px,#7b7b7b 384.5px,#808080 387.5px,#acacac 395.5px,#cbcbcb 404.5px,#f7f7f7 415.5px,#fff 425.5px,#fff 762.5px)"></i><i style="background:linear-gradient(90deg,#fff 0.5px,#fefefe 341.5px,#f5f5f5 347.5px,#a2a2a2 369.5px,#818181 375.5px,#7a7a7a 382.5px,#838383 388.5px,#aeaeae 396.5px,#c8c8c8 404.5px,#f7f7f7 416.5px,#fff 426.5px,#fff 762.5px)"></i><i style="background:linear-gradient(90deg,#fff 0.5px,#fefefe 340.5px,#f4f4f4 346.5px,#ababab 366.5px,#a5a5a5 368.5px,#7f7f7f 375.5px,#7a7a7a 383.5px,#828282 388.5px,#ababab 396.5px,#c8c8c8 405.5px,#f6f6f6 417.5px,#fff 427.5px,#fff 762.5px)"></i><i style="background:linear-gradient(90deg,#fff 0.5px,#fefefe 339.5px,#f4f4f4 345.5px,#a2a2a2 368.5px,#7f7f7f 375.5px,#7a7a7a 384.5px,#848484 389.5px,#adadad 397.5px,#c9c9c9 406.5px,#f6f6f6 418.5px,#fff 429.5px,#fff 762.5px)"></i><i style="background:linear-gradient(90deg,#fff 0.5px,#fefefe 337.5px,#f4f4f4 344.5px,#aaa 365.5px,#a5a5a5 367.5px,#818181 374.5px,#7a7a7a 382.5px,#828282 389.5px,#ababab 397.5px,#cacaca 407.5px,#f9f9f9 420.5px,#fff 432.5px,#fff 762.5px)"></i><i style="background:linear-gradient(90deg,#fff 0.5px,#fefefe 336.5px,#f5f5f5 342.5px,#ababab 364.5px,#a5a5a5 366.5px,#7e7e7e 374.5px,#7a7a7a 384.5px,#848484 390.5px,#ababab 398.5px,#c9c9c9 408.5px,#f7f7f7 421.5px,#fff 432.5px,#fff 762.5px)"></i><i style="background:linear-gradient(90deg,#fff 0.5px,#fefefe 334.5px,#f4f4f4 341.5px,#aaa 363.5px,#a5a5a5 365.5px,#7f7f7f 373.5px,#797979 383.5px,#818181 390.5px,#ababab 399.5px,#ccc 410.5px,#f6f6f6 422.5px,#fff 433.5px,#fff 762.5px)"></i><i style="background:linear-gradient(90deg,#fff 0.5px,#fefefe 332.5px,#f5f5f5 339.5px,#aaa 362.5px,#a5a5a5 364.5px,#808080 372.5px,#797979 381.5px,#7f7f7f 390.5px,#afafaf 401.5px,#c7c7c7 410.5px,#f7f7f7 424.5px,#fff 436.5px,#fff 762.5px)"></i><i style="background:linear-gradient(90deg,#fff 0.5px,#fefefe 331.5px,#f3f3f3 338.5px,#adadad 360.5px,#a6a6a6 363.5px,#7e7e7e 372.5px,#797979 385.5px,#838383 392.5px,#ababab 401.5px,#cacaca 412.5px,#f8f8f8 426.5px,#fff 439.5px,#fff 762.5px)"></i><i style="background:linear-gradient(90deg,#fff 0.5px,#fefefe 329.5px,#f4f4f4 336.5px,#aaa 360.5px,#a6a6a6 362.5px,#7f7f7f 371.5px,#797979 383.5px,#808080 392.5px,#afafaf 403.5px,#c6c6c6 412.5px,#f9f9f9 428.5px,#fff 443.5px,#fff 762.5px)"></i><i style="background:linear-gradient(90deg,#fff 0.5px,#fefefe 327.5px,#f3f3f3 335.5px,#adadad 358.5px,#a6a6a6 361.5px,#7f7f7f 370.5px,#797979 382.5px,#808080 393.5px,#afafaf 404.5px,#c5c5c5 413.5px,#f7f7f7 429.5px,#fff 442.5px,#fff 762.5px)"></i><i style="background:linear-gradient(90deg,#fff 0.5px,#fdfdfd 326.5px,#f4f4f4 333.5px,#aaa 358.5px,#a6a6a6 360.5px,#808080 369.5px,#797979 380.5px,#7f7f7f 393.5px,#aeaeae 405.5px,#c7c7c7 415.5px,#f9f9f9 431.5px,#fff 447.5px,#fff 762.5px)"></i><i style="background:linear-gradient(90deg,#fff 0.5px,#fefefe 324.5px,#f3f3f3 332.5px,#adadad 356.5px,#a2a2a2 360.5px,#808080 368.5px,#797979 380.5px,#7f7f7f 394.5px,#aeaeae 406.5px,#c6c6c6 416.5px,#f7f7f7 432.5px,#fff 445.5px,#fff 762.5px)"></i><i style="background:linear-gradient(90deg,#fff 0.5px,#fdfdfd 322.5px,#f3f3f3 330.5px,#acacac 355.5px,#a3a3a3 359.5px,#818181 367.5px,#797979 378.5px,#7e7e7e 394.5px,#aeaeae 407.5px,#c8c8c8 418.5px,#f7f7f7 434.5px,#fff 448.5px,#fff 762.5px)"></i><i style="background:linear-gradient(90deg,#fff 0.5px,#fefefe 319.5px,#f3f3f3 328.5px,#acacac 354.5px,#a3a3a3 358.5px,#7f7f7f 367.5px,#787878 383.5px,#808080 396.5px,#aeaeae 408.5px,#c7c7c7 419.5px,#f7f7f7 436.5px,#fff 450.5px,#fff 762.5px)"></i><i style="background:linear-gradient(90deg,#fff 0.5px,#fefefe 317.5px,#f3f3f3 326.5px,#acacac 353.5px,#a3a3a3 357.5px,#808080 366.5px,#787878 381.5px,#7f7f7f 396.5px,#aeaeae 409.5px,#c8c8c8 421.5px,#f7f7f7 438.5px,#fff 453.5px,#fff 762.5px)"></i><i style="background:linear-gradient(90deg,#fff 0.5px,#fefefe 315.5px,#f3f3f3 324.5px,#acacac 352.5px,#a3a3a3 356.5px,#818181 365.5px,#787878 379.5px,#7f7f7f 397.5px,#adadad 410.5px,#c7c7c7 422.5px,#f7f7f7 440.5px,#fff 455.5px,#fff 762.5px)"></i><i style="background:linear-gradient(90deg,#fff 0.5px,#fdfdfd 313.5px,#f3f3f3 322.5px,#acacac 351.5px,#a3a3a3 355.5px,#7f7f7f 365.5px,#787878 385.5px,#808080 398.5px,#adadad 411.5px,#c6c6c6 423.5px,#f9f9f9 443.5px,#fff 461.5px,#fff 762.5px)"></i><i style="background:linear-gradient(90deg,#fff 0.5px,#fefefe 310.5px,#f3f3f3 320.5px,#ababab 350.5px,#a3a3a3 354.5px,#7f7f7f 364.5px,#787878 382.5px,#808080 399.5px,#adadad 412.5px,#c7c7c7 425.5px,#f6f6f6 444.5px,#fff 460.5px,#fff 762.5px)"></i><i style="background:linear-gradient(90deg,#fff 0.5px,#fefefe 308.5px,#f3f3f3 318.5px,#ababab 349.5px,#a3a3a3 353.5px,#808080 363.5px,#777 381.5px,#7f7f7f 399.5px,#adadad 413.5px,#c9c9c9 427.5px,#f4f4f4 445.5px,#fff 460.5px,#fff 762.5px)"></i><i style="background:linear-gradient(90deg,#fff 0.5px,#fdfdfd 306.5px,#f3f3f3 316.5px,#ababab 348.5px,#a3a3a3 352.5px,#7e7e7e 363.5px,#787878 386.5px,#808080 400.5px,#adadad 414.5px,#c8c8c8 428.5px,#f8f8f8 449.5px,#fff 469.5px,#fff 762.5px)"></i><i style="background:linear-gradient(90deg,#fff 0.5px,#fefefe 303.5px,#f3f3f3 314.5px,#ababab 347.5px,#a4a4a4 351.5px,#7f7f7f 362.5px,#777 385.5px,#808080 401.5px,#adadad 415.5px,#c7c7c7 429.5px,#f8f8f8 451.5px,#fff 471.5px,#fff 762.5px)"></i><i style="background:linear-gradient(90deg,#fff 0.5px,#fefefe 301.5px,#f3f3f3 312.5px,#ababab 346.5px,#a4a4a4 350.5px,#7f7f7f 361.5px,#777 382.5px,#808080 402.5px,#adadad 416.5px,#c8c8c8 431.5px,#f6f6f6 452.5px,#fff 470.5px,#fff 762.5px)"></i><i style="background:linear-gradient(90deg,#fff 0.5px,#fefefe 298.5px,#f3f3f3 309.5px,#ababab 344.5px,#a4a4a4 348.5px,#7e7e7e 360.5px,#787878 387.5px,#818181 404.5px,#adadad 418.5px,#c7c7c7 433.5px,#f8f8f8 456.5px,#fff 476.5px,#fff 762.5px)"></i><i style="background:linear-gradient(90deg,#fff 0.5px,#fdfdfd 295.5px,#f3f3f3 306.5px,#a9a9a9 343.5px,#a4a4a4 346.5px,#7f7f7f 358.5px,#777 384.5px,#808080 405.5px,#adadad 420.5px,#c8c8c8 436.5px,#f4f4f4 457.5px,#fff 475.5px,#fff 762.5px)"></i><i style="background:linear-gradient(90deg,#fff 0.5px,#fdfdfd 292.5px,#f3f3f3 303.5px,#a9a9a9 341.5px,#a5a5a5 344.5px,#808080 356.5px,#767676 380.5px,#7f7f7f 406.5px,#adadad 422.5px,#c8c8c8 438.5px,#f8f8f8 462.5px,#fff 485.5px,#fff 762.5px)"></i><i style="background:linear-gradient(90deg,#fff 0.5px,#fefefe 288.5px,#f4f4f4 300.5px,#a9a9a9 339.5px,#a5a5a5 342.5px,#7f7f7f 355.5px,#777 385.5px,#7f7f7f 408.5px,#adadad 424.5px,#c7c7c7 440.5px,#f8f8f8 465.5px,#fff 488.5px,#fff 762.5px)"></i><i style="background:linear-gradient(90deg,#fff 0.5px,#fefefe 285.5px,#f4f4f4 297.5px,#aaa 337.5px,#a3a3a3 341.5px,#7f7f7f 353.5px,#767676 383.5px,#7f7f7f 409.5px,#adadad 426.5px,#c8c8c8 443.5px,#f7f7f7 467.5px,#fff 488.5px,#fff 762.5px)"></i><i style="background:linear-gradient(90deg,#fff 0.5px,#fefefe 282.5px,#f4f4f4 294.5px,#aaa 335.5px,#a3a3a3 339.5px,#7e7e7e 352.5px,#777 388.5px,#7f7f7f 411.5px,#adadad 428.5px,#c7c7c7 445.5px,#f7f7f7 470.5px,#fff 492.5px,#fff 762.5px)"></i><i style="background:linear-gradient(90deg,#fff 0.5px,#fdfdfd 279.5px,#f3f3f3 292.5px,#aaa 333.5px,#a4a4a4 337.5px,#7f7f7f 350.5px,#767676 384.5px,#7f7f7f 413.5px,#acacac 429.5px,#cacaca 449.5px,#f5f5f5 472.5px,#fff 493.5px,#fff 762.5px)"></i><i style="background:linear-gradient(90deg,#fff 0.5px,#fdfdfd 276.5px,#f3f3f3 289.5px,#aaa 331.5px,#a4a4a4 335.5px,#808080 348.5px,#787878 370.5px,#797979 399.5px,#818181 415.5px,#acacac 431.5px,#cacaca 451.5px,#f5f5f5 475.5px,#fff 497.5px,#fff 762.5px)"></i><i style="background:linear-gradient(90deg,#fff 0.5px,#fdfdfd 273.5px,#f3f3f3 286.5px,#aaa 329.5px,#a5a5a5 333.5px,#7f7f7f 347.5px,#757575 383.5px,#7f7f7f 416.5px,#acacac 433.5px,#c9c9c9 453.5px,#f7f7f7 479.5px,#fff 503.5px,#fff 762.5px)"></i><i style="background:linear-gradient(90deg,#fff 0.5px,#fdfdfd 270.5px,#f3f3f3 283.5px,#aaa 327.5px,#a5a5a5 331.5px,#7e7e7e 346.5px,#767676 388.5px,#7f7f7f 417.5px,#acacac 435.5px,#c9c9c9 455.5px,#f9f9f9 483.5px,#fff 511.5px,#fff 762.5px)"></i><i style="background:linear-gradient(90deg,#fff 0.5px,#fefefe 266.5px,#f3f3f3 280.5px,#aaa 325.5px,#a5a5a5 329.5px,#7e7e7e 344.5px,#757575 385.5px,#7f7f7f 419.5px,#acacac 437.5px,#c9c9c9 458.5px,#f9f9f9 486.5px,#fff 514.5px,#fff 762.5px)"></i><i style="background:linear-gradient(90deg,#fff 0.5px,#fdfdfd 263.5px,#f2f2f2 277.5px,#ababab 322.5px,#a4a4a4 327.5px,#7f7f7f 341.5px,#787878 364.5px,#777 392.5px,#7f7f7f 421.5px,#adadad 440.5px,#c9c9c9 461.5px,#f8f8f8 489.5px,#fff 516.5px,#fff 762.5px)"></i><i style="background:linear-gradient(90deg,#fff 0.5px,#fdfdfd 259.5px,#f3f3f3 273.5px,#ababab 319.5px,#a5a5a5 324.5px,#7f7f7f 339.5px,#787878 364.5px,#777 392.5px,#7f7f7f 423.5px,#adadad 443.5px,#c8c8c8 463.5px,#f8f8f8 493.5px,#fff 521.5px,#fff 762.5px)"></i><i style="background:linear-gradient(90deg,#fff 0.5px,#fdfdfd 255.5px,#f2f2f2 270.5px,#acacac 316.5px,#a4a4a4 322.5px,#7f7f7f 337.5px,#747474 381.5px,#7f7f7f 426.5px,#acacac 445.5px,#c9c9c9 467.5px,#f7f7f7 496.5px,#fff 523.5px,#fff 762.5px)"></i><i style="background:linear-gradient(90deg,#fff 0.5px,#fdfdfd 251.5px,#f3f3f3 266.5px,#ababab 314.5px,#a5a5a5 319.5px,#7f7f7f 335.5px,#747474 383.5px,#7f7f7f 428.5px,#adadad 448.5px,#c9c9c9 470.5px,#f5f5f5 498.5px,#fff 523.5px,#fff 762.5px)"></i><i style="background:linear-gradient(90deg,#fff 0.5px,#fdfdfd 248.5px,#f3f3f3 263.5px,#aaa 312.5px,#a4a4a4 317.5px,#7f7f7f 333.5px,#747474 384.5px,#7c7c7c 416.5px,#7e7e7e 428.5px,#979797 441.5px,#acacac 450.5px,#c9c9c9 473.5px,#f8f8f8 503.5px,#fff 531.5px,#fff 762.5px)"></i><i style="background:linear-gradient(90deg,#fff 0.5px,#fdfdfd 244.5px,#f3f3f3 260.5px,#ababab 309.5px,#a4a4a4 315.5px,#7f7f7f 331.5px,#777 366.5px,#767676 393.5px,#7f7f7f 432.5px,#aeaeae 453.5px,#c7c7c7 474.5px,#f9f9f9 507.5px,#fff 539.5px,#fff 762.5px)"></i><i style="background:linear-gradient(90deg,#fff 0.5px,#fdfdfd 241.5px,#f3f3f3 257.5px,#ababab 307.5px,#a4a4a4 313.5px,#808080 329.5px,#787878 359.5px,#757575 391.5px,#7f7f7f 433.5px,#adadad 455.5px,#c8c8c8 477.5px,#f9f9f9 510.5px,#fff 542.5px,#fff 762.5px)"></i><i style="background:linear-gradient(90deg,#fff 0.5px,#fdfdfd 238.5px,#f3f3f3 254.5px,#ababab 305.5px,#a4a4a4 311.5px,#7f7f7f 328.5px,#747474 387.5px,#7c7c7c 417.5px,#7e7e7e 433.5px,#939393 445.5px,#adadad 457.5px,#c8c8c8 480.5px,#f6f6f6 511.5px,#fff 538.5px,#fff 762.5px)"></i><i style="background:linear-gradient(90deg,#fff 0.5px,#fdfdfd 234.5px,#f4f4f4 250.5px,#ababab 303.5px,#a4a4a4 309.5px,#7f7f7f 326.5px,#737373 383.5px,#7c7c7c 422.5px,#7e7e7e 435.5px,#a0a0a0 453.5px,#adadad 459.5px,#c8c8c8 482.5px,#f8f8f8 516.5px,#fff 548.5px,#fff 762.5px)"></i><i style="background:linear-gradient(90deg,#fff 0.5px,#fdfdfd 231.5px,#f3f3f3 247.5px,#ababab 301.5px,#a4a4a4 307.5px,#808080 324.5px,#777 360.5px,#757575 391.5px,#7f7f7f 439.5px,#adadad 461.5px,#c8c8c8 485.5px,#f8f8f8 519.5px,#fff 551.5px,#fff 762.5px)"></i><i style="background:linear-gradient(90deg,#fff 0.5px,#fdfdfd 228.5px,#f3f3f3 245.5px,#acacac 298.5px,#a4a4a4 305.5px,#808080 322.5px,#777 357.5px,#757575 391.5px,#7d7d7d 426.5px,#7e7e7e 438.5px,#8f8f8f 449.5px,#adadad 463.5px,#c8c8c8 487.5px,#f8f8f8 522.5px,#fff 555.5px,#fff 762.5px)"></i><i style="background:linear-gradient(90deg,#fff 0.5px,#fdfdfd 227.5px,#f3f3f3 243.5px,#acacac 296.5px,#a4a4a4 303.5px,#808080 320.5px,#777 355.5px,#757575 391.5px,#7c7c7c 424.5px,#7e7e7e 440.5px,#909090 451.5px,#adadad 465.5px,#c9c9c9 490.5px,#f6f6f6 522.5px,#fff 551.5px,#fff 762.5px)"></i><i style="background:linear-gradient(90deg,#fff 0.5px,#fdfdfd 225.5px,#f3f3f3 241.5px,#acacac 294.5px,#a4a4a4 301.5px,#808080 318.5px,#777 353.5px,#747474 391.5px,#7c7c7c 422.5px,#7e7e7e 442.5px,#929292 454.5px,#adadad 467.5px,#c9c9c9 492.5px,#f7f7f7 524.5px,#fff 553.5px,#fff 762.5px)"></i><i style="background:linear-gradient(90deg,#fff 0.5px,#fdfdfd 223.5px,#f3f3f3 239.5px,#acacac 292.5px,#a4a4a4 299.5px,#808080 316.5px,#777 351.5px,#747474 391.5px,#7b7b7b 419.5px,#7f7f7f 444.5px,#929292 456.5px,#aeaeae 470.5px,#c8c8c8 493.5px,#f7f7f7 526.5px,#fff 555.5px,#fff 762.5px)"></i><i style="background:linear-gradient(90deg,#fff 0.5px,#fdfdfd 222.5px,#f3f3f3 238.5px,#acacac 290.5px,#a5a5a5 296.5px,#7f7f7f 315.5px,#737373 386.5px,#7b7b7b 417.5px,#7f7f7f 446.5px,#949494 459.5px,#aeaeae 472.5px,#c8c8c8 495.5px,#f7f7f7 528.5px,#fff 557.5px,#fff 762.5px)"></i><i style="background:linear-gradient(90deg,#fff 0.5px,#fdfdfd 220.5px,#f3f3f3 236.5px,#ababab 288.5px,#a5a5a5 294.5px,#7f7f7f 313.5px,#737373 386.5px,#7a7a7a 415.5px,#7f7f7f 448.5px,#969696 462.5px,#aeaeae 474.5px,#c8c8c8 497.5px,#f7f7f7 530.5px,#fff 560.5px,#fff 762.5px)"></i><i style="background:linear-gradient(90deg,#fff 0.5px,#fdfdfd 218.5px,#f3f3f3 234.5px,#ababab 286.5px,#a5a5a5 292.5px,#808080 311.5px,#727272 386.5px,#7a7a7a 413.5px,#7f7f7f 450.5px,#969696 464.5px,#aeaeae 476.5px,#c8c8c8 499.5px,#f8f8f8 532.5px,#fff 562.5px,#fff 762.5px)"></i><i style="background:linear-gradient(90deg,#fff 0.5px,#fdfdfd 216.5px,#f3f3f3 232.5px,#ababab 284.5px,#a5a5a5 290.5px,#808080 309.5px,#727272 386.5px,#7a7a7a 415.5px,#7f7f7f 452.5px,#989898 467.5px,#adadad 478.5px,#c8c8c8 501.5px,#f8f8f8 534.5px,#fff 564.5px,#fff 762.5px)"></i><i style="background:linear-gradient(90deg,#fff 0.5px,#fdfdfd 215.5px,#f3f3f3 230.5px,#ababab 282.5px,#a5a5a5 288.5px,#808080 307.5px,#727272 386.5px,#7a7a7a 415.5px,#7f7f7f 454.5px,#999 470.5px,#afafaf 481.5px,#c7c7c7 502.5px,#f8f8f8 536.5px,#fff 567.5px,#fff 762.5px)"></i><i style="background:linear-gradient(90deg,#fff 0.5px,#fdfdfd 213.5px,#f3f3f3 229.5px,#acacac 279.5px,#a3a3a3 287.5px,#808080 305.5px,#737373 389.5px,#7a7a7a 412.5px,#7f7f7f 456.5px,#9b9b9b 473.5px,#afafaf 483.5px,#c7c7c7 504.5px,#f9f9f9 538.5px,#fff 570.5px,#fff 762.5px)"></i><i style="background:linear-gradient(90deg,#fff 0.5px,#fdfdfd 211.5px,#f3f3f3 227.5px,#acacac 277.5px,#a4a4a4 284.5px,#808080 303.5px,#727272 387.5px,#7a7a7a 414.5px,#808080 459.5px,#b0b0b0 486.5px,#c8c8c8 507.5px,#f8f8f8 539.5px,#fff 568.5px,#fff 762.5px)"></i><i style="background:linear-gradient(90deg,#fff 0.5px,#fdfdfd 209.5px,#f3f3f3 225.5px,#adadad 274.5px,#a4a4a4 282.5px,#808080 301.5px,#737373 389.5px,#7a7a7a 417.5px,#808080 461.5px,#b1b1b1 489.5px,#c7c7c7 508.5px,#f9f9f9 542.5px,#fff 575.5px,#fff 762.5px)"></i><i style="background:linear-gradient(90deg,#fff 0.5px,#fdfdfd 207.5px,#f3f3f3 223.5px,#adadad 272.5px,#a3a3a3 280.5px,#818181 298.5px,#777 346.5px,#737373 391.5px,#7a7a7a 418.5px,#808080 463.5px,#b0b0b0 491.5px,#c8c8c8 511.5px,#f9f9f9 544.5px,#fff 577.5px,#fff 762.5px)"></i><i style="background:linear-gradient(90deg,#fff 0.5px,#fdfdfd 206.5px,#f3f3f3 221.5px,#acacac 270.5px,#a3a3a3 278.5px,#818181 296.5px,#767676 356.5px,#737373 391.5px,#7c7c7c 432.5px,#808080 465.5px,#b1b1b1 494.5px,#c8c8c8 513.5px,#f9f9f9 546.5px,#fff 579.5px,#fff 762.5px)"></i><i style="background:linear-gradient(90deg,#fff 0.5px,#fdfdfd 204.5px,#f3f3f3 219.5px,#acacac 268.5px,#a2a2a2 276.5px,#808080 294.5px,#727272 387.5px,#797979 412.5px,#808080 468.5px,#b1b1b1 496.5px,#c7c7c7 515.5px,#f9f9f9 548.5px,#fff 580.5px,#fff 762.5px)"></i><i style="background:linear-gradient(90deg,#fff 0.5px,#fdfdfd 202.5px,#f3f3f3 217.5px,#adadad 265.5px,#a2a2a2 274.5px,#808080 292.5px,#727272 389.5px,#7a7a7a 419.5px,#808080 470.5px,#b2b2b2 499.5px,#c7c7c7 517.5px,#f8f8f8 549.5px,#fff 577.5px,#fff 762.5px)"></i><i style="background:linear-gradient(90deg,#fff 0.5px,#fdfdfd 200.5px,#f3f3f3 215.5px,#adadad 263.5px,#a3a3a3 271.5px,#808080 290.5px,#727272 389.5px,#7a7a7a 419.5px,#808080 472.5px,#b1b1b1 501.5px,#c8c8c8 520.5px,#f8f8f8 551.5px,#fff 579.5px,#fff 762.5px)"></i><i style="background:linear-gradient(90deg,#fff 0.5px,#fdfdfd 198.5px,#f3f3f3 213.5px,#acacac 261.5px,#a3a3a3 269.5px,#818181 287.5px,#777 342.5px,#737373 391.5px,#797979 416.5px,#808080 475.5px,#b1b1b1 503.5px,#c8c8c8 522.5px,#f8f8f8 553.5px,#fff 581.5px,#fff 762.5px)"></i><i style="background:linear-gradient(90deg,#fff 0.5px,#fdfdfd 196.5px,#f3f3f3 211.5px,#adadad 258.5px,#a2a2a2 267.5px,#818181 285.5px,#757575 358.5px,#737373 392.5px,#7a7a7a 419.5px,#808080 477.5px,#b2b2b2 506.5px,#c8c8c8 524.5px,#f6f6f6 554.5px,#fff 580.5px,#fff 762.5px)"></i><i style="background:linear-gradient(90deg,#fff 0.5px,#fdfdfd 194.5px,#f3f3f3 209.5px,#adadad 256.5px,#a2a2a2 265.5px,#818181 283.5px,#717171 387.5px,#797979 414.5px,#808080 479.5px,#b3b3b3 509.5px,#c8c8c8 526.5px,#f8f8f8 557.5px,#fff 585.5px,#fff 762.5px)"></i><i style="background:linear-gradient(90deg,#fff 0.5px,#fdfdfd 192.5px,#f3f3f3 207.5px,#acacac 254.5px,#a1a1a1 263.5px,#818181 281.5px,#727272 389.5px,#7a7a7a 421.5px,#808080 481.5px,#b4b4b4 512.5px,#c7c7c7 528.5px,#f8f8f8 559.5px,#fff 587.5px,#fff 762.5px)"></i><i style="background:linear-gradient(90deg,#fff 0.5px,#fdfdfd 190.5px,#f3f3f3 205.5px,#acacac 252.5px,#a2a2a2 260.5px,#818181 279.5px,#727272 389.5px,#7a7a7a 422.5px,#808080 483.5px,#b3b3b3 514.5px,#c7c7c7 530.5px,#f8f8f8 561.5px,#fff 588.5px,#fff 762.5px)"></i><i style="background:linear-gradient(90deg,#fff 0.5px,#fdfdfd 190.5px,#f3f3f3 204.5px,#adadad 249.5px,#a0a0a0 259.5px,#818181 277.5px,#727272 389.5px,#7a7a7a 424.5px,#818181 486.5px,#b5b5b5 517.5px,#c6c6c6 531.5px,#f9f9f9 562.5px,#fff 590.5px,#fff 762.5px)"></i><i style="background:linear-gradient(90deg,#fff 0.5px,#fdfdfd 190.5px,#f3f3f3 204.5px,#adadad 247.5px,#a0a0a0 257.5px,#818181 274.5px,#767676 341.5px,#727272 391.5px,#797979 420.5px,#818181 488.5px,#b7b7b7 521.5px,#c7c7c7 533.5px,#f8f8f8 562.5px,#fff 587.5px,#fff 762.5px)"></i><i style="background:linear-gradient(90deg,#fff 0.5px,#fdfdfd 190.5px,#f3f3f3 203.5px,#adadad 245.5px,#9d9d9d 256.5px,#818181 272.5px,#717171 385.5px,#797979 416.5px,#818181 490.5px,#bbb 526.5px,#c6c6c6 534.5px,#f9f9f9 563.5px,#fff 589.5px,#fff 762.5px)"></i><i style="background:linear-gradient(90deg,#fff 0.5px,#fdfdfd 190.5px,#f4f4f4 202.5px,#adadad 243.5px,#989898 257.5px,#828282 270.5px,#767676 340.5px,#727272 391.5px,#797979 420.5px,#818181 492.5px,#dcdcdc 548.5px,#fafafa 565.5px,#fff 592.5px,#fff 762.5px)"></i><i style="background:linear-gradient(90deg,#fff 0.5px,#fdfdfd 190.5px,#f3f3f3 202.5px,#adadad 241.5px,#8a8a8a 264.5px,#818181 270.5px,#727272 390.5px,#787878 413.5px,#818181 494.5px,#d0d0d0 542.5px,#f9f9f9 565.5px,#fff 591.5px,#fff 762.5px)"></i><i style="background:linear-gradient(90deg,#fff 0.5px,#fdfdfd 190.5px,#f3f3f3 202.5px,#adadad 239.5px,#818181 268.5px,#727272 390.5px,#787878 412.5px,#818181 496.5px,#ccc 541.5px,#f9f9f9 564.5px,#fff 587.5px,#fff 762.5px)"></i><i style="background:linear-gradient(90deg,#fff 0.5px,#fdfdfd 190.5px,#f4f4f4 201.5px,#adadad 237.5px,#808080 267.5px,#727272 390.5px,#787878 416.5px,#818181 497.5px,#c8c8c8 540.5px,#f9f9f9 564.5px,#fff 587.5px,#fff 762.5px)"></i><i style="background:linear-gradient(90deg,#fff 0.5px,#fefefe 190.5px,#f3f3f3 201.5px,#aeaeae 235.5px,#818181 265.5px,#727272 390.5px,#787878 415.5px,#818181 499.5px,#c5c5c5 540.5px,#f8f8f8 564.5px,#fff 585.5px,#fff 762.5px)"></i><i style="background:linear-gradient(90deg,#fff 0.5px,#fefefe 190.5px,#f3f3f3 201.5px,#aeaeae 233.5px,#818181 263.5px,#727272 390.5px,#787878 415.5px,#818181 501.5px,#c0c0c0 539.5px,#f8f8f8 564.5px,#fff 584.5px,#fff 762.5px)"></i><i style="background:linear-gradient(90deg,#fff 0.5px,#fdfdfd 191.5px,#f4f4f4 200.5px,#acacac 232.5px,#808080 262.5px,#727272 390.5px,#787878 418.5px,#818181 502.5px,#bbb 538.5px,#f8f8f8 564.5px,#fff 582.5px,#fff 762.5px)"></i><i style="background:linear-gradient(90deg,#fff 0.5px,#fefefe 190.5px,#f3f3f3 200.5px,#afafaf 229.5px,#818181 259.5px,#717171 389.5px,#787878 416.5px,#818181 504.5px,#b9b9b9 539.5px,#f8f8f8 565.5px,#fff 584.5px,#fff 762.5px)"></i><i style="background:linear-gradient(90deg,#fff 0.5px,#fdfdfd 190.5px,#f3f3f3 199.5px,#adadad 228.5px,#818181 258.5px,#727272 390.5px,#787878 417.5px,#818181 506.5px,#b6b6b6 539.5px,#f8f8f8 566.5px,#fff 582.5px,#fff 762.5px)"></i><i style="background:linear-gradient(90deg,#fff 0.5px,#fefefe 189.5px,#f3f3f3 198.5px,#adadad 226.5px,#818181 256.5px,#727272 390.5px,#787878 417.5px,#818181 508.5px,#b4b4b4 540.5px,#f8f8f8 567.5px,#fff 583.5px,#fff 762.5px)"></i><i style="background:linear-gradient(90deg,#fff 0.5px,#fefefe 188.5px,#f3f3f3 197.5px,#adadad 224.5px,#818181 254.5px,#717171 389.5px,#787878 419.5px,#818181 509.5px,#b3b3b3 541.5px,#f8f8f8 568.5px,#fff 583.5px,#fff 762.5px)"></i><i style="background:linear-gradient(90deg,#fff 0.5px,#fdfdfd 188.5px,#f3f3f3 196.5px,#adadad 222.5px,#818181 253.5px,#727272 390.5px,#787878 420.5px,#818181 511.5px,#b1b1b1 542.5px,#f9f9f9 569.5px,#fff 584.5px,#fff 762.5px)"></i><i style="background:linear-gradient(90deg,#fff 0.5px,#fefefe 187.5px,#f3f3f3 195.5px,#aeaeae 220.5px,#818181 251.5px,#727272 390.5px,#787878 420.5px,#818181 513.5px,#b1b1b1 544.5px,#f9f9f9 570.5px,#fff 585.5px,#fff 762.5px)"></i><i style="background:linear-gradient(90deg,#fff 0.5px,#fefefe 186.5px,#f4f4f4 194.5px,#aeaeae 218.5px,#818181 249.5px,#727272 390.5px,#787878 420.5px,#818181 515.5px,#afafaf 545.5px,#f9f9f9 571.5px,#fff 586.5px,#fff 762.5px)"></i><i style="background:linear-gradient(90deg,#fff 0.5px,#fdfdfd 186.5px,#f4f4f4 193.5px,#aeaeae 216.5px,#828282 246.5px,#717171 387.5px,#777 412.5px,#818181 517.5px,#afafaf 547.5px,#f9f9f9 572.5px,#fff 587.5px,#fff 762.5px)"></i><i style="background:linear-gradient(90deg,#fff 0.5px,#fdfdfd 186.5px,#f2f2f2 193.5px,#adadad 215.5px,#828282 245.5px,#717171 389.5px,#787878 422.5px,#818181 518.5px,#aeaeae 548.5px,#f9f9f9 572.5px,#fff 585.5px,#fff 762.5px)"></i><i style="background:linear-gradient(90deg,#fff 0.5px,#fefefe 185.5px,#f4f4f4 192.5px,#acacac 214.5px,#818181 244.5px,#727272 390.5px,#787878 420.5px,#818181 519.5px,#aeaeae 549.5px,#fafafa 573.5px,#fff 589.5px,#fff 762.5px)"></i><i style="background:linear-gradient(90deg,#fefefe 0.5px,#fdfdfd 185.5px,#f5f5f5 191.5px,#aeaeae 212.5px,#828282 242.5px,#717171 390.5px,#787878 418.5px,#818181 521.5px,#adadad 550.5px,#f9f9f9 573.5px,#fff 585.5px,#fefefe 762.5px)"></i><i style="background:linear-gradient(90deg,#fdfdfd 0.5px,#fdfdfd 184.5px,#f3f3f3 190.5px,#acacac 211.5px,#818181 242.5px,#727272 390.5px,#787878 423.5px,#818181 522.5px,#aeaeae 552.5px,#f8f8f8 574.5px,#fff 585.5px,#fdfdfd 762.5px)"></i><i style="background:linear-gradient(90deg,#fbfbfb 0.5px,#fcfcfc 183.5px,#f2f2f2 189.5px,#adadad 209.5px,#818181 240.5px,#727272 390.5px,#787878 423.5px,#818181 523.5px,#adadad 553.5px,#f8f8f8 576.5px,#fefefe 589.5px,#fafafa 710.5px,#fbfbfb 762.5px)"></i><i style="background:linear-gradient(90deg,#f4f4f4 0.5px,#f7f7f7 159.5px,#fafafa 181.5px,#efefef 188.5px,#acacac 208.5px,#818181 239.5px,#727272 390.5px,#787878 424.5px,#818181 525.5px,#adadad 555.5px,#f6f6f6 577.5px,#fbfbfb 588.5px,#f3f3f3 654.5px,#f4f4f4 762.5px)"></i><i style="background:linear-gradient(90deg,#e4e4e4 0.5px,#e6e6e6 142.5px,#f4f4f4 181.5px,#ececec 186.5px,#a7a7a7 208.5px,#808080 239.5px,#727272 391.5px,#787878 416.5px,#818181 526.5px,#acacac 556.5px,#f0f0f0 578.5px,#f4f4f4 589.5px,#e5e5e5 628.5px,#e4e4e4 762.5px)"></i><i style="background:linear-gradient(90deg,#c5c5c5 0.5px,#c7c7c7 135.5px,#d9d9d9 167.5px,#e4e4e4 180.5px,#dedede 186.5px,#a5a5a5 207.5px,#818181 237.5px,#727272 391.5px,#797979 424.5px,#818181 528.5px,#aaa 558.5px,#dfdfdf 577.5px,#e4e4e4 583.5px,#c9c9c9 620.5px,#c3c3c3 701.5px,#c5c5c5 762.5px)"></i><i style="background:linear-gradient(90deg,#a2a2a2 0.5px,#a4a4a4 137.5px,#b5b5b5 165.5px,#c8c8c8 181.5px,#b8b8b8 194.5px,#9f9f9f 206.5px,#808080 236.5px,#737373 392.5px,#7b7b7b 439.5px,#818181 529.5px,#a7a7a7 561.5px,#c3c3c3 575.5px,#c7c7c7 583.5px,#aaa 610.5px,#a1a1a1 655.5px,#a2a2a2 762.5px)"></i><i style="background:linear-gradient(90deg,#8b8b8b 0.5px,#8d8d8d 146.5px,#9e9e9e 175.5px,#a6a6a6 184.5px,#9a9a9a 202.5px,#929292 210.5px,#7f7f7f 237.5px,#767676 396.5px,#818181 532.5px,#a6a6a6 576.5px,#9e9e9e 591.5px,#929292 604.5px,#898989 657.5px,#8b8b8b 762.5px)"></i><i style="background:linear-gradient(90deg,#808080 0.5px,#828282 156.5px,#909090 191.5px,#7d7d7d 244.5px,#797979 420.5px,#818181 536.5px,#8e8e8e 563.5px,#8c8c8c 587.5px,#818181 611.5px,#808080 762.5px)"></i><i style="background:linear-gradient(90deg,#7a7a7a 0.5px,#7c7c7c 163.5px,#858585 198.5px,#7d7d7d 262.5px,#7f7f7f 535.5px,#858585 569.5px,#797979 633.5px,#7a7a7a 762.5px)"></i><i style="background:linear-gradient(90deg,#757575 0.5px,#777 161.5px,#818181 206.5px,#7c7c7c 364.5px,#7f7f7f 455.5px,#7d7d7d 587.5px,#747474 631.5px,#757575 762.5px)"></i><i style="background:linear-gradient(90deg,#6f6f6f 0.5px,#727272 155.5px,#7f7f7f 209.5px,#7c7c7c 578.5px,#6f6f6f 629.5px,#6f6f6f 762.5px)"></i><i style="background:linear-gradient(90deg,#686868 0.5px,#6b6b6b 150.5px,#7c7c7c 207.5px,#7d7d7d 543.5px,#717171 601.5px,#686868 631.5px,#686868 762.5px)"></i><i style="background:linear-gradient(90deg,#5e5e5e 0.5px,#616161 145.5px,#7a7a7a 207.5px,#7d7d7d 393.5px,#797979 430.5px,#797979 559.5px,#5f5f5f 626.5px,#5e5e5e 762.5px)"></i><i style="background:linear-gradient(90deg,#535353 0.5px,#555 142.5px,#767676 207.5px,#7a7a7a 375.5px,#7e7e7e 385.5px,#777 400.5px,#777 553.5px,#636363 595.5px,#565656 616.5px,#515151 729.5px,#535353 762.5px)"></i><i style="background:linear-gradient(90deg,#454545 0.5px,#484848 140.5px,#5b5b5b 175.5px,#6e6e6e 199.5px,#767676 256.5px,#767676 373.5px,#7d7d7d 382.5px,#737373 400.5px,#737373 547.5px,#636363 581.5px,#4c4c4c 609.5px,#444 666.5px,#454545 762.5px)"></i><i style="background:linear-gradient(90deg,#313131 0.5px,#343434 132.5px,#4d4d4d 173.5px,#676767 200.5px,#717171 244.5px,#717171 371.5px,#7b7b7b 381.5px,#6f6f6f 398.5px,#6e6e6e 543.5px,#5d5d5d 575.5px,#414141 605.5px,#323232 641.5px,#313131 762.5px)"></i><i style="background:linear-gradient(90deg,#1d1d1d 0.5px,#202020 136.5px,#303030 162.5px,#494949 180.5px,#636363 211.5px,#6a6a6a 275.5px,#6a6a6a 370.5px,#797979 381.5px,#686868 397.5px,#676767 538.5px,#575757 569.5px,#262626 611.5px,#1c1c1c 653.5px,#1d1d1d 762.5px)"></i><i style="background:linear-gradient(90deg,#101010 0.5px,#121212 143.5px,#212121 168.5px,#474747 191.5px,#5b5b5b 220.5px,#616161 317.5px,#606060 369.5px,#757575 381.5px,#606060 395.5px,#5d5d5d 537.5px,#4c4c4c 567.5px,#383838 582.5px,#222 594.5px,#121212 618.5px,#0e0e0e 762.5px)"></i><i style="background:linear-gradient(90deg,#080808 0.5px,#0a0a0a 152.5px,#1a1a1a 176.5px,#444 202.5px,#525252 234.5px,#555 369.5px,#6e6e6e 380.5px,#686868 386.5px,#555 393.5px,#515151 536.5px,#404040 564.5px,#191919 587.5px,#0a0a0a 611.5px,#070707 762.5px)"></i><i style="background:linear-gradient(90deg,#040404 0.5px,#060606 161.5px,#151515 185.5px,#3d3d3d 215.5px,#474747 250.5px,#484848 369.5px,#666 380.5px,#616161 385.5px,#4a4a4a 392.5px,#454545 406.5px,#454545 529.5px,#3a3a3a 551.5px,#0e0e0e 585.5px,#030303 619.5px,#040404 762.5px)"></i><i style="background:linear-gradient(90deg,#020202 0.5px,#040404 171.5px,#171717 200.5px,#2a2a2a 221.5px,#343434 266.5px,#353535 368.5px,#5c5c5c 380.5px,#585858 384.5px,#383838 393.5px,#323232 402.5px,#323232 522.5px,#212121 554.5px,#080808 582.5px,#000 638.5px,#020202 762.5px)"></i><i style="background:linear-gradient(90deg,#010101 0.5px,#030303 181.5px,#1d1d1d 235.5px,#202020 368.5px,#2e2e2e 373.5px,#474747 377.5px,#505050 381.5px,#484848 385.5px,#282828 391.5px,#1f1f1f 396.5px,#1c1c1c 530.5px,#020202 589.5px,#010101 762.5px)"></i><i style="background:linear-gradient(90deg,#000 0.5px,#020202 191.5px,#111 242.5px,#121212 369.5px,#1f1f1f 374.5px,#3e3e3e 379.5px,#424242 382.5px,#363636 385.5px,#1c1c1c 389.5px,#101010 395.5px,#0e0e0e 538.5px,#000 592.5px,#000 762.5px)"></i><i style="background:linear-gradient(90deg,#000 0.5px,#020202 205.5px,#090909 255.5px,#0a0a0a 371.5px,#181818 376.5px,#2b2b2b 380.5px,#292929 383.5px,#0f0f0f 389.5px,#070707 397.5px,#060606 550.5px,#000 601.5px,#000 762.5px)"></i><i style="background:linear-gradient(90deg,#000 0.5px,#040404 370.5px,#0f0f0f 377.5px,#1a1a1a 381.5px,#040404 391.5px,#000 762.5px)"></i><i style="background:linear-gradient(90deg,#000 0.5px,#030303 374.5px,#0e0e0e 382.5px,#020202 391.5px,#000 762.5px)"></i><i style="background:linear-gradient(90deg,#000 0.5px,#020202 377.5px,#070707 383.5px,#000 392.5px,#000 762.5px)"></i><i style="height:3px;background:linear-gradient(90deg,#000 0.5px,#010101 762.5px)"></i><i style="height:37px;background:#000"></i></div>
<div class="f r" style="left:1055px;top:326px;width:763px;height:196px"><i style="height:7px;background:linear-gradient(90deg,#808080 0.5px,#7e7e7e 160.5px,#666 187.5px,#505050 205.5px,#0c0c0c 319.5px,#040404 371.5px,#080808 376.5px,#0f0f0f 377.5px,#202020 378.5px,#404040 379.5px,#686868 380.5px,#7f7f7f 381.5px,#8b8b8b 382.5px,#d2d2d2 384.5px,#e8e8e8 385.5px,#f2f2f2 386.5px,#f7f7f7 390.5px,#f2f2f2 436.5px,#c4c4c4 522.5px,#a5a5a5 567.5px,#8a8a8a 590.5px,#7e7e7e 611.5px,#808080 762.5px)"></i><i style="height:7px;background:linear-gradient(90deg,#808080 0.5px,#7e7e7e 161.5px,#666 188.5px,#505050 206.5px,#0c0c0c 320.5px,#070707 374.5px,#0a0a0a 376.5px,#101010 377.5px,#212121 378.5px,#414141 379.5px,#686868 380.5px,#7f7f7f 381.5px,#8a8a8a 382.5px,#d1d1d1 384.5px,#e7e7e7 385.5px,#f0f0f0 386.5px,#f6f6f6 390.5px,#eee 445.5px,#aaa 562.5px,#8a8a8a 589.5px,#7e7e7e 611.5px,#808080 762.5px)"></i><i style="height:5px;background:linear-gradient(90deg,#808080 0.5px,#7e7e7e 162.5px,#666 189.5px,#505050 207.5px,#101010 316.5px,#080808 366.5px,#0b0b0b 376.5px,#121212 377.5px,#222 378.5px,#424242 379.5px,#686868 380.5px,#7f7f7f 381.5px,#8a8a8a 382.5px,#d0d0d0 384.5px,#e6e6e6 385.5px,#efefef 386.5px,#f4f4f4 390.5px,#ededed 443.5px,#b2b2b2 549.5px,#9f9f9f 570.5px,#8a8a8a 588.5px,#7e7e7e 610.5px,#808080 762.5px)"></i><i style="height:4px;background:linear-gradient(90deg,#808080 0.5px,#7e7e7e 163.5px,#666 190.5px,#4f4f4f 209.5px,#131313 315.5px,#090909 357.5px,#0d0d0d 376.5px,#131313 377.5px,#232323 378.5px,#424242 379.5px,#686868 380.5px,#7f7f7f 381.5px,#8a8a8a 382.5px,#cfcfcf 384.5px,#e4e4e4 385.5px,#ededed 386.5px,#f2f2f2 390.5px,#ececec 440.5px,#bbb 533.5px,#a4a4a4 565.5px,#8a8a8a 587.5px,#7e7e7e 609.5px,#808080 762.5px)"></i><i style="height:4px;background:linear-gradient(90deg,#808080 0.5px,#7e7e7e 164.5px,#666 192.5px,#505050 210.5px,#161616 314.5px,#0b0b0b 360.5px,#0e0e0e 376.5px,#141414 377.5px,#242424 378.5px,#434343 379.5px,#696969 380.5px,#7f7f7f 381.5px,#8a8a8a 382.5px,#cecece 384.5px,#e3e3e3 385.5px,#ececec 386.5px,#f1f1f1 390.5px,#ebebeb 436.5px,#c3c3c3 518.5px,#a4a4a4 563.5px,#8a8a8a 585.5px,#7e7e7e 608.5px,#808080 762.5px)"></i><i style="height:3px;background:linear-gradient(90deg,#808080 0.5px,#7e7e7e 165.5px,#666 193.5px,#505050 212.5px,#181818 314.5px,#0d0d0d 366.5px,#101010 376.5px,#171717 377.5px,#262626 378.5px,#454545 379.5px,#696969 380.5px,#7f7f7f 381.5px,#8a8a8a 382.5px,#ccc 384.5px,#e1e1e1 385.5px,#eaeaea 386.5px,#efefef 390.5px,#e9e9e9 436.5px,#c4c4c4 513.5px,#a5a5a5 561.5px,#8a8a8a 584.5px,#7e7e7e 607.5px,#808080 762.5px)"></i><i style="height:3px;background:linear-gradient(90deg,#808080 0.5px,#7e7e7e 166.5px,#676767 194.5px,#4f4f4f 214.5px,#191919 315.5px,#0f0f0f 368.5px,#131313 376.5px,#191919 377.5px,#282828 378.5px,#464646 379.5px,#6a6a6a 380.5px,#7f7f7f 381.5px,#8a8a8a 382.5px,#cacaca 384.5px,#dfdfdf 385.5px,#e7e7e7 386.5px,#ececec 390.5px,#e6e6e6 438.5px,#c1c1c1 516.5px,#a4a4a4 560.5px,#8a8a8a 583.5px,#7e7e7e 606.5px,#808080 762.5px)"></i><i style="height:3px;background:linear-gradient(90deg,#808080 0.5px,#7e7e7e 168.5px,#666 196.5px,#505050 215.5px,#1b1b1b 315.5px,#121212 369.5px,#161616 376.5px,#1b1b1b 377.5px,#2a2a2a 378.5px,#474747 379.5px,#6a6a6a 380.5px,#7f7f7f 381.5px,#898989 382.5px,#c9c9c9 384.5px,#ddd 385.5px,#e5e5e5 386.5px,#eaeaea 391.5px,#e2e2e2 444.5px,#b4b4b4 538.5px,#a1a1a1 561.5px,#898989 582.5px,#7e7e7e 604.5px,#808080 762.5px)"></i><i style="height:3px;background:linear-gradient(90deg,#808080 0.5px,#7e7e7e 169.5px,#666 198.5px,#505050 217.5px,#1d1d1d 316.5px,#151515 371.5px,#181818 376.5px,#1e1e1e 377.5px,#2c2c2c 378.5px,#484848 379.5px,#6b6b6b 380.5px,#7f7f7f 381.5px,#898989 382.5px,#c7c7c7 384.5px,#dadada 385.5px,#e3e3e3 386.5px,#e7e7e7 391.5px,#e0e0e0 446.5px,#adadad 548.5px,#898989 581.5px,#7e7e7e 603.5px,#808080 762.5px)"></i><i style="height:3px;background:linear-gradient(90deg,#808080 0.5px,#7e7e7e 171.5px,#666 200.5px,#505050 219.5px,#1f1f1f 317.5px,#181818 373.5px,#1b1b1b 376.5px,#202020 377.5px,#2e2e2e 378.5px,#4a4a4a 379.5px,#6b6b6b 380.5px,#7f7f7f 381.5px,#898989 382.5px,#c5c5c5 384.5px,#d8d8d8 385.5px,#e0e0e0 386.5px,#e5e5e5 391.5px,#ddd 447.5px,#ababab 548.5px,#898989 579.5px,#7e7e7e 602.5px,#808080 762.5px)"></i><i style="height:3px;background:linear-gradient(90deg,#808080 0.5px,#7e7e7e 172.5px,#676767 201.5px,#4f4f4f 222.5px,#202020 319.5px,#1b1b1b 374.5px,#212121 377.5px,#313131 378.5px,#4b4b4b 379.5px,#6c6c6c 380.5px,#7f7f7f 381.5px,#898989 382.5px,#c4c4c4 384.5px,#d6d6d6 385.5px,#dedede 386.5px,#e2e2e2 392.5px,#dadada 451.5px,#a9a9a9 548.5px,#898989 577.5px,#7e7e7e 600.5px,#808080 762.5px)"></i><i style="height:3px;background:linear-gradient(90deg,#808080 0.5px,#7e7e7e 174.5px,#666 204.5px,#505050 224.5px,#222 320.5px,#1d1d1d 375.5px,#252525 377.5px,#333 378.5px,#4c4c4c 379.5px,#6c6c6c 380.5px,#7f7f7f 381.5px,#888 382.5px,#c2c2c2 384.5px,#d4d4d4 385.5px,#dbdbdb 386.5px,#e0e0e0 392.5px,#d8d8d8 451.5px,#aaa 545.5px,#898989 575.5px,#7e7e7e 598.5px,#808080 762.5px)"></i><i style="height:3px;background:linear-gradient(90deg,#808080 0.5px,#7e7e7e 176.5px,#666 206.5px,#505050 227.5px,#252525 320.5px,#202020 375.5px,#272727 377.5px,#353535 378.5px,#4e4e4e 379.5px,#6d6d6d 380.5px,#7f7f7f 381.5px,#888 382.5px,#c0c0c0 384.5px,#d1d1d1 385.5px,#d9d9d9 386.5px,#ddd 392.5px,#d6d6d6 449.5px,#aaa 542.5px,#898989 573.5px,#7e7e7e 596.5px,#808080 762.5px)"></i><i style="height:3px;background:linear-gradient(90deg,#808080 0.5px,#7e7e7e 178.5px,#666 209.5px,#505050 230.5px,#272727 321.5px,#232323 375.5px,#2a2a2a 377.5px,#373737 378.5px,#4f4f4f 379.5px,#6d6d6d 380.5px,#7f7f7f 381.5px,#888 382.5px,#bebebe 384.5px,#cfcfcf 385.5px,#d6d6d6 386.5px,#dbdbdb 393.5px,#d2d2d2 452.5px,#a9a9a9 540.5px,#8a8a8a 570.5px,#7e7e7e 594.5px,#808080 762.5px)"></i><i style="height:3px;background:linear-gradient(90deg,#808080 0.5px,#7e7e7e 181.5px,#656565 213.5px,#505050 233.5px,#2a2a2a 322.5px,#262626 375.5px,#2c2c2c 377.5px,#393939 378.5px,#515151 379.5px,#6e6e6e 380.5px,#7f7f7f 381.5px,#888 382.5px,#bcbcbc 384.5px,#cdcdcd 385.5px,#d3d3d3 386.5px,#d8d8d8 394.5px,#cecece 456.5px,#a8a8a8 538.5px,#898989 568.5px,#7e7e7e 592.5px,#808080 762.5px)"></i><i style="height:3px;background:linear-gradient(90deg,#808080 0.5px,#7e7e7e 183.5px,#666 215.5px,#505050 236.5px,#2d2d2d 322.5px,#292929 375.5px,#2f2f2f 377.5px,#3c3c3c 378.5px,#525252 379.5px,#6e6e6e 380.5px,#7f7f7f 381.5px,#878787 382.5px,#bababa 384.5px,#cacaca 385.5px,#d1d1d1 386.5px,#d5d5d5 395.5px,#cbcbcb 459.5px,#a7a7a7 536.5px,#8a8a8a 565.5px,#7e7e7e 590.5px,#808080 762.5px)"></i><i style="height:3px;background:linear-gradient(90deg,#808080 0.5px,#7e7e7e 186.5px,#656565 219.5px,#505050 240.5px,#2f2f2f 325.5px,#2d2d2d 376.5px,#323232 377.5px,#3e3e3e 378.5px,#545454 379.5px,#6f6f6f 380.5px,#7f7f7f 381.5px,#878787 382.5px,#b8b8b8 384.5px,#c7c7c7 385.5px,#d1d1d1 387.5px,#ccc 447.5px,#a9a9a9 530.5px,#898989 563.5px,#7e7e7e 588.5px,#808080 762.5px)"></i><i style="height:2px;background:linear-gradient(90deg,#808080 0.5px,#7e7e7e 188.5px,#656565 222.5px,#505050 243.5px,#313131 327.5px,#303030 376.5px,#353535 377.5px,#404040 378.5px,#555 379.5px,#707070 380.5px,#7f7f7f 381.5px,#878787 382.5px,#b6b6b6 384.5px,#c5c5c5 385.5px,#cfcfcf 387.5px,#c9c9c9 448.5px,#a9a9a9 527.5px,#898989 560.5px,#7e7e7e 585.5px,#808080 762.5px)"></i><i style="height:2px;background:linear-gradient(90deg,#808080 0.5px,#7e7e7e 190.5px,#656565 224.5px,#505050 246.5px,#333 328.5px,#323232 376.5px,#373737 377.5px,#424242 378.5px,#565656 379.5px,#707070 380.5px,#7f7f7f 381.5px,#878787 382.5px,#b5b5b5 384.5px,#c3c3c3 385.5px,#cdcdcd 387.5px,#c7c7c7 449.5px,#a8a8a8 525.5px,#898989 558.5px,#7e7e7e 583.5px,#808080 762.5px)"></i><i style="height:2px;background:linear-gradient(90deg,#808080 0.5px,#7e7e7e 192.5px,#656565 227.5px,#505050 249.5px,#343434 331.5px,#343434 376.5px,#393939 377.5px,#434343 378.5px,#585858 379.5px,#707070 380.5px,#7f7f7f 381.5px,#868686 382.5px,#b3b3b3 384.5px,#c2c2c2 385.5px,#cacaca 387.5px,#c5c5c5 449.5px,#a8a8a8 523.5px,#898989 556.5px,#7e7e7e 581.5px,#808080 762.5px)"></i><i style="height:2px;background:linear-gradient(90deg,#808080 0.5px,#7e7e7e 194.5px,#656565 230.5px,#505050 252.5px,#363636 333.5px,#363636 376.5px,#3a3a3a 377.5px,#454545 378.5px,#6f6f6f 380.5px,#7f7f7f 381.5px,#868686 382.5px,#b2b2b2 384.5px,#c0c0c0 385.5px,#c8c8c8 387.5px,#c3c3c3 450.5px,#a7a7a7 521.5px,#898989 554.5px,#7e7e7e 579.5px,#808080 762.5px)"></i><i style="height:2px;background:linear-gradient(90deg,#808080 0.5px,#7e7e7e 197.5px,#646464 233.5px,#505050 256.5px,#373737 336.5px,#383838 376.5px,#3c3c3c 377.5px,#464646 378.5px,#707070 380.5px,#7f7f7f 381.5px,#868686 382.5px,#b1b1b1 384.5px,#bebebe 385.5px,#c6c6c6 387.5px,#c1c1c1 450.5px,#a7a7a7 518.5px,#898989 551.5px,#7e7e7e 577.5px,#808080 762.5px)"></i><i style="height:2px;background:linear-gradient(90deg,#808080 0.5px,#7e7e7e 199.5px,#646464 236.5px,#505050 259.5px,#393939 338.5px,#3a3a3a 376.5px,#3e3e3e 377.5px,#484848 378.5px,#707070 380.5px,#7f7f7f 381.5px,#868686 382.5px,#afafaf 384.5px,#bcbcbc 385.5px,#c4c4c4 387.5px,#bfbfbf 451.5px,#a6a6a6 515.5px,#898989 549.5px,#7e7e7e 575.5px,#808080 762.5px)"></i><i style="height:2px;background:linear-gradient(90deg,#808080 0.5px,#7e7e7e 201.5px,#646464 239.5px,#505050 263.5px,#3b3b3b 341.5px,#3c3c3c 376.5px,#404040 377.5px,#4a4a4a 378.5px,#717171 380.5px,#7f7f7f 381.5px,#868686 382.5px,#aeaeae 384.5px,#bababa 385.5px,#c2c2c2 387.5px,#bdbdbd 451.5px,#a6a6a6 512.5px,#898989 546.5px,#7e7e7e 573.5px,#808080 762.5px)"></i><i style="height:2px;background:linear-gradient(90deg,#808080 0.5px,#7e7e7e 204.5px,#636363 244.5px,#515151 266.5px,#3d3d3d 343.5px,#3e3e3e 376.5px,#424242 377.5px,#4b4b4b 378.5px,#717171 380.5px,#7f7f7f 381.5px,#868686 382.5px,#adadad 384.5px,#b9b9b9 385.5px,#c0c0c0 387.5px,#bbb 452.5px,#a6a6a6 509.5px,#898989 544.5px,#7e7e7e 571.5px,#808080 762.5px)"></i><i style="height:2px;background:linear-gradient(90deg,#808080 0.5px,#7e7e7e 207.5px,#636363 248.5px,#505050 271.5px,#3e3e3e 348.5px,#404040 376.5px,#444 377.5px,#4d4d4d 378.5px,#727272 380.5px,#7f7f7f 381.5px,#858585 382.5px,#ababab 384.5px,#b7b7b7 385.5px,#bebebe 387.5px,#b9b9b9 452.5px,#a6a6a6 505.5px,#898989 541.5px,#7e7e7e 568.5px,#808080 762.5px)"></i><i style="height:2px;background:linear-gradient(90deg,#808080 0.5px,#7e7e7e 209.5px,#636363 251.5px,#515151 275.5px,#404040 351.5px,#424242 376.5px,#464646 377.5px,#4f4f4f 378.5px,#727272 380.5px,#7f7f7f 381.5px,#858585 382.5px,#aaa 384.5px,#b5b5b5 385.5px,#bcbcbc 387.5px,#b7b7b7 452.5px,#a6a6a6 501.5px,#888 539.5px,#7e7e7e 566.5px,#808080 762.5px)"></i><i style="height:2px;background:linear-gradient(90deg,#808080 0.5px,#7e7e7e 212.5px,#626262 257.5px,#515151 280.5px,#424242 356.5px,#444 376.5px,#484848 377.5px,#505050 378.5px,#737373 380.5px,#7f7f7f 381.5px,#858585 382.5px,#a8a8a8 384.5px,#b3b3b3 385.5px,#bababa 387.5px,#b5b5b5 453.5px,#a5a5a5 498.5px,#888 536.5px,#7e7e7e 563.5px,#808080 762.5px)"></i><i style="height:2px;background:linear-gradient(90deg,#808080 0.5px,#7e7e7e 215.5px,#616161 263.5px,#515151 285.5px,#444 360.5px,#474747 376.5px,#4a4a4a 377.5px,#525252 378.5px,#737373 380.5px,#7f7f7f 381.5px,#858585 382.5px,#a7a7a7 384.5px,#b2b2b2 385.5px,#b8b8b8 387.5px,#b4b4b4 453.5px,#a4a4a4 494.5px,#888 533.5px,#7d7d7d 561.5px,#818181 762.5px)"></i><i style="height:2px;background:linear-gradient(90deg,#808080 0.5px,#7e7e7e 218.5px,#5e5e5e 271.5px,#515151 292.5px,#464646 367.5px,#4a4a4a 377.5px,#535353 378.5px,#737373 380.5px,#7f7f7f 381.5px,#858585 382.5px,#a5a5a5 384.5px,#b0b0b0 385.5px,#b6b6b6 387.5px,#b1b1b1 454.5px,#a3a3a3 491.5px,#878787 530.5px,#7d7d7d 558.5px,#818181 762.5px)"></i><i style="height:2px;background:linear-gradient(90deg,#808080 0.5px,#7f7f7f 221.5px,#505050 300.5px,#494949 374.5px,#4d4d4d 377.5px,#555 378.5px,#747474 380.5px,#7f7f7f 381.5px,#858585 382.5px,#a4a4a4 384.5px,#aeaeae 385.5px,#b4b4b4 387.5px,#b0b0b0 454.5px,#a0a0a0 491.5px,#878787 527.5px,#7d7d7d 555.5px,#818181 725.5px,#808080 762.5px)"></i><i style="height:2px;background:linear-gradient(90deg,#808080 0.5px,#7f7f7f 225.5px,#515151 306.5px,#4b4b4b 375.5px,#505050 377.5px,#575757 378.5px,#747474 380.5px,#7f7f7f 381.5px,#848484 382.5px,#a3a3a3 384.5px,#acacac 385.5px,#b2b2b2 387.5px,#aeaeae 454.5px,#949494 503.5px,#888 521.5px,#7c7c7c 552.5px,#818181 693.5px,#808080 762.5px)"></i><i style="height:2px;background:linear-gradient(90deg,#808080 0.5px,#7f7f7f 228.5px,#515151 312.5px,#4e4e4e 376.5px,#575757 378.5px,#757575 380.5px,#868686 382.5px,#a1a1a1 384.5px,#aaa 385.5px,#b0b0b0 387.5px,#acacac 454.5px,#7c7c7c 543.5px,#818181 705.5px,#808080 762.5px)"></i><i style="height:2px;background:linear-gradient(90deg,#808080 0.5px,#808080 230.5px,#525252 319.5px,#505050 376.5px,#595959 378.5px,#757575 380.5px,#858585 382.5px,#a0a0a0 384.5px,#a9a9a9 385.5px,#afafaf 388.5px,#a8a8a8 454.5px,#7b7b7b 540.5px,#818181 698.5px,#808080 762.5px)"></i><i style="height:2px;background:linear-gradient(90deg,#808080 0.5px,#818181 233.5px,#545454 324.5px,#525252 376.5px,#5b5b5b 378.5px,#757575 380.5px,#858585 382.5px,#9f9f9f 384.5px,#a7a7a7 385.5px,#adadad 388.5px,#a7a7a7 447.5px,#7a7a7a 541.5px,#818181 673.5px,#808080 762.5px)"></i><i style="height:2px;background:linear-gradient(90deg,#808080 0.5px,#828282 235.5px,#5a5a5a 317.5px,#535353 372.5px,#575757 377.5px,#5d5d5d 378.5px,#757575 380.5px,#858585 382.5px,#9d9d9d 384.5px,#a9a9a9 386.5px,#a6a6a6 437.5px,#797979 540.5px,#7b7b7b 586.5px,#818181 622.5px,#808080 762.5px)"></i><i style="height:2px;background:linear-gradient(90deg,#808080 0.5px,#828282 189.5px,#858585 218.5px,#7b7b7b 253.5px,#5a5a5a 331.5px,#585858 376.5px,#606060 378.5px,#757575 380.5px,#8f8f8f 383.5px,#9b9b9b 384.5px,#a5a5a5 386.5px,#a3a3a3 435.5px,#777 541.5px,#797979 581.5px,#818181 615.5px,#808080 762.5px)"></i><i style="height:2px;background:linear-gradient(90deg,#808080 0.5px,#828282 181.5px,#868686 212.5px,#7c7c7c 256.5px,#5f5f5f 327.5px,#5c5c5c 376.5px,#636363 378.5px,#8e8e8e 383.5px,#989898 384.5px,#a1a1a1 386.5px,#a0a0a0 434.5px,#757575 545.5px,#787878 582.5px,#808080 613.5px,#808080 762.5px)"></i><i style="height:2px;background:linear-gradient(90deg,#808080 0.5px,#828282 176.5px,#888 209.5px,#7b7b7b 263.5px,#616161 333.5px,#616161 377.5px,#7a7a7a 381.5px,#878787 382.5px,#9c9c9c 385.5px,#9f9f9f 410.5px,#8a8a8a 490.5px,#787878 533.5px,#737373 569.5px,#808080 612.5px,#808080 762.5px)"></i><i style="height:2px;background:linear-gradient(90deg,#808080 0.5px,#818181 172.5px,#8a8a8a 208.5px,#797979 276.5px,#646464 342.5px,#656565 377.5px,#797979 381.5px,#888 382.5px,#989898 385.5px,#9b9b9b 418.5px,#707070 562.5px,#808080 615.5px,#808080 762.5px)"></i><i style="height:2px;background:linear-gradient(90deg,#808080 0.5px,#818181 169.5px,#8c8c8c 207.5px,#676767 352.5px,#6a6a6a 378.5px,#787878 381.5px,#898989 382.5px,#979797 386.5px,#929292 442.5px,#6f6f6f 563.5px,#808080 613.5px,#808080 762.5px)"></i><i style="height:2px;background:linear-gradient(90deg,#808080 0.5px,#818181 167.5px,#8d8d8d 206.5px,#7e7e7e 262.5px,#777 296.5px,#6b6b6b 346.5px,#6e6e6e 378.5px,#777 381.5px,#898989 382.5px,#929292 386.5px,#8f8f8f 445.5px,#6f6f6f 563.5px,#808080 613.5px,#808080 762.5px)"></i><i style="height:2px;background:linear-gradient(90deg,#808080 0.5px,#818181 166.5px,#8f8f8f 205.5px,#7f7f7f 261.5px,#7e7e7e 281.5px,#717171 327.5px,#717171 378.5px,#767676 381.5px,#898989 382.5px,#909090 388.5px,#898989 465.5px,#7d7d7d 506.5px,#7a7a7a 531.5px,#6e6e6e 558.5px,#808080 616.5px,#808080 762.5px)"></i><i style="height:3px;background:linear-gradient(90deg,#808080 0.5px,#818181 165.5px,#909090 205.5px,#7f7f7f 260.5px,#7d7d7d 291.5px,#727272 337.5px,#757575 381.5px,#898989 382.5px,#8d8d8d 396.5px,#838383 477.5px,#7e7e7e 496.5px,#7c7c7c 524.5px,#6f6f6f 559.5px,#808080 616.5px,#808080 762.5px)"></i><i style="height:3px;background:linear-gradient(90deg,#808080 0.5px,#818181 164.5px,#919191 205.5px,#7f7f7f 259.5px,#7d7d7d 306.5px,#757575 350.5px,#787878 381.5px,#878787 382.5px,#888 436.5px,#7e7e7e 490.5px,#7d7d7d 524.5px,#707070 560.5px,#808080 616.5px,#808080 762.5px)"></i><i style="height:3px;background:linear-gradient(90deg,#808080 0.5px,#818181 165.5px,#909090 204.5px,#7f7f7f 261.5px,#7e7e7e 325.5px,#787878 370.5px,#7b7b7b 381.5px,#848484 382.5px,#838383 447.5px,#7e7e7e 476.5px,#7e7e7e 523.5px,#737373 561.5px,#818181 618.5px,#808080 762.5px)"></i><i style="height:3px;background:linear-gradient(90deg,#808080 0.5px,#818181 166.5px,#8f8f8f 205.5px,#7f7f7f 261.5px,#7e7e7e 381.5px,#838383 384.5px,#7c7c7c 532.5px,#757575 563.5px,#818181 620.5px,#808080 762.5px)"></i><i style="height:3px;background:linear-gradient(90deg,#808080 0.5px,#828282 169.5px,#8c8c8c 206.5px,#7e7e7e 263.5px,#7e7e7e 531.5px,#787878 566.5px,#818181 624.5px,#808080 762.5px)"></i><i style="height:3px;background:linear-gradient(90deg,#808080 0.5px,#828282 173.5px,#8a8a8a 208.5px,#7e7e7e 265.5px,#7e7e7e 539.5px,#7a7a7a 572.5px,#818181 632.5px,#808080 762.5px)"></i><i style="height:4px;background:linear-gradient(90deg,#808080 0.5px,#828282 180.5px,#878787 212.5px,#7e7e7e 270.5px,#7e7e7e 762.5px)"></i><i style="height:6px;background:linear-gradient(90deg,#808080 0.5px,#818181 249.5px,#7e7e7e 370.5px,#808080 762.5px)"></i><i style="height:53px;background:#808080"></i></div>
<div class="f r" style="left:1055px;top:561px;width:763px;height:195px"><i style="height:5px;background:linear-gradient(90deg,#808080 0.5px,#818181 160.5px,#8d8d8d 166.5px,#adadad 172.5px,#c8c8c8 181.5px,#ddd 200.5px,#fff 259.5px,#fafafa 357.5px,#e9e9e9 368.5px,#cfcfcf 375.5px,#b2b2b2 379.5px,#9d9d9d 381.5px,#4f4f4f 382.5px,#323232 386.5px,#191919 392.5px,#070707 402.5px,#000 430.5px,#020202 514.5px,#252525 574.5px,#3b3b3b 587.5px,#585858 595.5px,#727272 599.5px,#7e7e7e 606.5px,#808080 762.5px)"></i><i style="height:3px;background:linear-gradient(90deg,#808080 0.5px,#818181 160.5px,#8d8d8d 166.5px,#adadad 172.5px,#c8c8c8 181.5px,#ddd 200.5px,#fff 259.5px,#f8f8f8 355.5px,#eee 366.5px,#d8d8d8 373.5px,#bbb 378.5px,#9e9e9e 381.5px,#4f4f4f 382.5px,#323232 386.5px,#191919 392.5px,#070707 402.5px,#000 470.5px,#020202 514.5px,#252525 574.5px,#3b3b3b 587.5px,#595959 595.5px,#6e6e6e 598.5px,#7d7d7d 604.5px,#818181 655.5px,#808080 762.5px)"></i><i style="height:2px;background:linear-gradient(90deg,#808080 0.5px,#818181 160.5px,#8d8d8d 166.5px,#adadad 172.5px,#c8c8c8 181.5px,#ddd 200.5px,#fff 259.5px,#f7f7f7 351.5px,#ececec 366.5px,#d9d9d9 373.5px,#bbb 378.5px,#9e9e9e 381.5px,#4f4f4f 382.5px,#323232 386.5px,#191919 392.5px,#090909 401.5px,#000 466.5px,#020202 514.5px,#242424 573.5px,#3b3b3b 587.5px,#595959 595.5px,#6e6e6e 598.5px,#7b7b7b 603.5px,#818181 623.5px,#808080 762.5px)"></i><i style="background:linear-gradient(90deg,#808080 0.5px,#818181 160.5px,#8d8d8d 166.5px,#adadad 172.5px,#c8c8c8 181.5px,#ddd 200.5px,#fff 259.5px,#f6f6f6 348.5px,#ebebeb 365.5px,#d4d4d4 374.5px,#b3b3b3 379.5px,#9d9d9d 381.5px,#4f4f4f 382.5px,#323232 386.5px,#191919 392.5px,#0b0b0b 400.5px,#010101 457.5px,#020202 514.5px,#242424 573.5px,#3b3b3b 587.5px,#5a5a5a 595.5px,#6f6f6f 598.5px,#7d7d7d 604.5px,#818181 644.5px,#808080 762.5px)"></i><i style="background:linear-gradient(90deg,#808080 0.5px,#818181 160.5px,#8d8d8d 166.5px,#adadad 172.5px,#c8c8c8 181.5px,#ddd 200.5px,#fff 259.5px,#f6f6f6 347.5px,#e9e9e9 365.5px,#cecece 375.5px,#b2b2b2 379.5px,#9d9d9d 381.5px,#4f4f4f 382.5px,#323232 386.5px,#191919 392.5px,#0d0d0d 399.5px,#010101 450.5px,#020202 514.5px,#242424 573.5px,#3b3b3b 587.5px,#5a5a5a 595.5px,#6f6f6f 598.5px,#7d7d7d 604.5px,#818181 650.5px,#808080 762.5px)"></i><i style="background:linear-gradient(90deg,#808080 0.5px,#818181 160.5px,#8d8d8d 166.5px,#adadad 172.5px,#c8c8c8 181.5px,#ddd 200.5px,#fff 259.5px,#f5f5f5 345.5px,#e7e7e7 365.5px,#cecece 374.5px,#bababa 378.5px,#9e9e9e 381.5px,#4f4f4f 382.5px,#323232 386.5px,#191919 392.5px,#0f0f0f 398.5px,#020202 443.5px,#020202 514.5px,#242424 573.5px,#3b3b3b 587.5px,#5a5a5a 595.5px,#6f6f6f 598.5px,#7d7d7d 604.5px,#818181 653.5px,#808080 762.5px)"></i><i style="background:linear-gradient(90deg,#808080 0.5px,#818181 160.5px,#8d8d8d 166.5px,#adadad 172.5px,#c8c8c8 181.5px,#ddd 200.5px,#fefefe 259.5px,#f4f4f4 344.5px,#e5e5e5 365.5px,#cacaca 374.5px,#afafaf 379.5px,#9c9c9c 381.5px,#4f4f4f 382.5px,#323232 386.5px,#191919 392.5px,#0f0f0f 400.5px,#030303 444.5px,#020202 514.5px,#242424 573.5px,#3b3b3b 587.5px,#5a5a5a 595.5px,#6f6f6f 598.5px,#7d7d7d 604.5px,#818181 653.5px,#808080 762.5px)"></i><i style="background:linear-gradient(90deg,#808080 0.5px,#818181 160.5px,#8d8d8d 166.5px,#adadad 172.5px,#c8c8c8 181.5px,#ddd 200.5px,#fefefe 259.5px,#f4f4f4 342.5px,#e3e3e3 365.5px,#c6c6c6 374.5px,#9b9b9b 381.5px,#4f4f4f 382.5px,#323232 386.5px,#191919 392.5px,#080808 419.5px,#000 509.5px,#232323 572.5px,#393939 586.5px,#555 594.5px,#6f6f6f 598.5px,#7d7d7d 604.5px,#818181 660.5px,#808080 762.5px)"></i><i style="background:linear-gradient(90deg,#808080 0.5px,#818181 160.5px,#8d8d8d 166.5px,#adadad 172.5px,#c8c8c8 181.5px,#ddd 200.5px,#fefefe 259.5px,#f3f3f3 341.5px,#e0e0e0 365.5px,#c6c6c6 373.5px,#959595 381.5px,#4f4f4f 382.5px,#323232 386.5px,#1d1d1d 391.5px,#0a0a0a 416.5px,#000 490.5px,#040404 516.5px,#242424 573.5px,#3b3b3b 587.5px,#5a5a5a 595.5px,#6f6f6f 598.5px,#7d7d7d 604.5px,#818181 653.5px,#808080 762.5px)"></i><i style="background:linear-gradient(90deg,#808080 0.5px,#818181 160.5px,#8d8d8d 166.5px,#adadad 172.5px,#c8c8c8 181.5px,#ddd 200.5px,#fafafa 253.5px,#fefefe 259.5px,#f2f2f2 340.5px,#dcdcdc 366.5px,#bcbcbc 374.5px,#9a9a9a 379.5px,#939393 381.5px,#4f4f4f 382.5px,#323232 386.5px,#212121 390.5px,#0c0c0c 415.5px,#010101 478.5px,#030303 515.5px,#232323 572.5px,#393939 586.5px,#565656 594.5px,#6f6f6f 598.5px,#7d7d7d 604.5px,#818181 670.5px,#808080 762.5px)"></i><i style="background:linear-gradient(90deg,#808080 0.5px,#818181 160.5px,#8d8d8d 166.5px,#adadad 172.5px,#c8c8c8 181.5px,#ddd 200.5px,#f9f9f9 251.5px,#fefefe 259.5px,#f1f1f1 339.5px,#dadada 365.5px,#c5c5c5 371.5px,#969696 379.5px,#909090 381.5px,#4f4f4f 382.5px,#323232 386.5px,#262626 389.5px,#0f0f0f 413.5px,#030303 459.5px,#030303 514.5px,#232323 572.5px,#393939 586.5px,#565656 594.5px,#707070 598.5px,#7d7d7d 604.5px,#818181 646.5px,#808080 762.5px)"></i><i style="background:linear-gradient(90deg,#808080 0.5px,#818181 160.5px,#8d8d8d 166.5px,#adadad 172.5px,#c8c8c8 181.5px,#ddd 200.5px,#f7f7f7 249.5px,#fdfdfd 258.5px,#f1f1f1 337.5px,#d8d8d8 363.5px,#cecece 368.5px,#b0b0b0 374.5px,#a0a0a0 376.5px,#8c8c8c 381.5px,#4f4f4f 382.5px,#323232 386.5px,#262626 391.5px,#0f0f0f 416.5px,#020202 466.5px,#030303 514.5px,#232323 572.5px,#393939 586.5px,#565656 594.5px,#707070 598.5px,#7d7d7d 604.5px,#818181 658.5px,#808080 762.5px)"></i><i style="background:linear-gradient(90deg,#808080 0.5px,#818181 160.5px,#8d8d8d 166.5px,#adadad 172.5px,#c8c8c8 181.5px,#ddd 200.5px,#f5f5f5 246.5px,#fdfdfd 258.5px,#f0f0f0 334.5px,#d9d9d9 360.5px,#c9c9c9 368.5px,#afafaf 373.5px,#9a9a9a 376.5px,#8a8a8a 381.5px,#4f4f4f 382.5px,#393939 385.5px,#2c2c2c 390.5px,#121212 413.5px,#050505 450.5px,#030303 513.5px,#232323 572.5px,#393939 586.5px,#565656 594.5px,#707070 598.5px,#7d7d7d 604.5px,#818181 659.5px,#808080 762.5px)"></i><i style="background:linear-gradient(90deg,#808080 0.5px,#818181 160.5px,#8d8d8d 166.5px,#adadad 172.5px,#c8c8c8 181.5px,#ddd 200.5px,#f3f3f3 244.5px,#fcfcfc 258.5px,#efefef 331.5px,#dcdcdc 355.5px,#c4c4c4 368.5px,#afafaf 372.5px,#9a9a9a 375.5px,#888 381.5px,#4f4f4f 382.5px,#404040 384.5px,#292929 395.5px,#101010 419.5px,#030303 471.5px,#040404 514.5px,#232323 572.5px,#393939 586.5px,#565656 594.5px,#707070 598.5px,#7d7d7d 604.5px,#818181 659.5px,#808080 762.5px)"></i><i style="background:linear-gradient(90deg,#808080 0.5px,#818181 160.5px,#8d8d8d 166.5px,#adadad 172.5px,#c8c8c8 181.5px,#ddd 200.5px,#f2f2f2 242.5px,#fcfcfc 258.5px,#efefef 328.5px,#dfdfdf 349.5px,#bfbfbf 368.5px,#a8a8a8 372.5px,#9a9a9a 374.5px,#888 380.5px,#878787 381.5px,#4f4f4f 382.5px,#474747 383.5px,#262626 400.5px,#0e0e0e 426.5px,#010101 496.5px,#060606 519.5px,#232323 572.5px,#393939 586.5px,#565656 594.5px,#707070 598.5px,#7d7d7d 604.5px,#818181 659.5px,#808080 762.5px)"></i><i style="background:linear-gradient(90deg,#808080 0.5px,#818181 160.5px,#8d8d8d 166.5px,#adadad 172.5px,#c8c8c8 181.5px,#ddd 200.5px,#f0f0f0 240.5px,#fbfbfb 258.5px,#eee 325.5px,#dfdfdf 346.5px,#bfbfbf 365.5px,#b0b0b0 370.5px,#9f9f9f 372.5px,#8c8c8c 377.5px,#868686 381.5px,#505050 382.5px,#282828 401.5px,#0f0f0f 426.5px,#020202 492.5px,#050505 517.5px,#232323 572.5px,#3a3a3a 586.5px,#575757 594.5px,#707070 598.5px,#7d7d7d 604.5px,#818181 662.5px,#808080 762.5px)"></i><i style="background:linear-gradient(90deg,#808080 0.5px,#818181 160.5px,#8d8d8d 166.5px,#adadad 172.5px,#c8c8c8 181.5px,#ddd 200.5px,#efefef 239.5px,#fbfbfb 258.5px,#ededed 322.5px,#dedede 344.5px,#bdbdbd 363.5px,#a7a7a7 370.5px,#959595 373.5px,#858585 380.5px,#858585 381.5px,#585858 382.5px,#575757 384.5px,#414141 391.5px,#212121 409.5px,#0e0e0e 434.5px,#020202 505.5px,#222 571.5px,#393939 586.5px,#585858 594.5px,#707070 598.5px,#7d7d7d 604.5px,#818181 653.5px,#808080 762.5px)"></i><i style="background:linear-gradient(90deg,#808080 0.5px,#818181 160.5px,#8d8d8d 166.5px,#adadad 172.5px,#c8c8c8 181.5px,#ddd 200.5px,#eee 238.5px,#fafafa 258.5px,#ececec 319.5px,#dbdbdb 343.5px,#b9b9b9 362.5px,#8a8a8a 376.5px,#848484 381.5px,#616161 382.5px,#5c5c5c 386.5px,#464646 392.5px,#242424 410.5px,#101010 433.5px,#020202 497.5px,#080808 521.5px,#232323 572.5px,#3a3a3a 586.5px,#585858 594.5px,#717171 598.5px,#7e7e7e 605.5px,#808080 762.5px)"></i><i style="background:linear-gradient(90deg,#808080 0.5px,#818181 160.5px,#8d8d8d 166.5px,#adadad 172.5px,#c8c8c8 181.5px,#dcdcdc 199.5px,#efefef 241.5px,#f9f9f9 258.5px,#ebebeb 316.5px,#d8d8d8 343.5px,#b1b1b1 362.5px,#9b9b9b 368.5px,#848484 379.5px,#838383 381.5px,#686868 382.5px,#616161 387.5px,#464646 395.5px,#252525 412.5px,#111 434.5px,#030303 495.5px,#070707 518.5px,#232323 572.5px,#3a3a3a 586.5px,#585858 594.5px,#717171 598.5px,#7e7e7e 605.5px,#808080 762.5px)"></i><i style="background:linear-gradient(90deg,#808080 0.5px,#818181 160.5px,#8d8d8d 166.5px,#adadad 172.5px,#c8c8c8 181.5px,#dcdcdc 199.5px,#eee 240.5px,#f8f8f8 258.5px,#eaeaea 313.5px,#d5d5d5 342.5px,#b0b0b0 359.5px,#999 366.5px,#828282 380.5px,#838383 381.5px,#6d6d6d 382.5px,#606060 390.5px,#434343 399.5px,#212121 418.5px,#0f0f0f 443.5px,#030303 507.5px,#232323 572.5px,#3a3a3a 586.5px,#585858 594.5px,#717171 598.5px,#7e7e7e 605.5px,#808080 762.5px)"></i><i style="background:linear-gradient(90deg,#808080 0.5px,#818181 160.5px,#8d8d8d 166.5px,#adadad 172.5px,#c8c8c8 181.5px,#dbdbdb 198.5px,#f0f0f0 245.5px,#f7f7f7 258.5px,#e9e9e9 310.5px,#d1d1d1 341.5px,#adadad 357.5px,#9c9c9c 362.5px,#818181 380.5px,#828282 381.5px,#717171 382.5px,#656565 391.5px,#3e3e3e 404.5px,#1d1d1d 424.5px,#090909 465.5px,#050505 513.5px,#232323 572.5px,#3a3a3a 586.5px,#585858 594.5px,#717171 598.5px,#7e7e7e 605.5px,#808080 762.5px)"></i><i style="background:linear-gradient(90deg,#808080 0.5px,#818181 160.5px,#8d8d8d 166.5px,#adadad 172.5px,#c8c8c8 181.5px,#dbdbdb 198.5px,#efefef 244.5px,#f7f7f7 258.5px,#e8e8e8 308.5px,#cecece 340.5px,#aaa 355.5px,#9c9c9c 359.5px,#848484 376.5px,#828282 381.5px,#747474 382.5px,#676767 393.5px,#3b3b3b 408.5px,#1e1e1e 426.5px,#090909 468.5px,#060606 514.5px,#232323 572.5px,#3a3a3a 586.5px,#585858 594.5px,#717171 598.5px,#7e7e7e 605.5px,#808080 762.5px)"></i><i style="background:linear-gradient(90deg,#808080 0.5px,#818181 160.5px,#8d8d8d 166.5px,#adadad 172.5px,#c8c8c8 181.5px,#dadada 197.5px,#f2f2f2 253.5px,#f5f5f5 259.5px,#e6e6e6 306.5px,#c9c9c9 340.5px,#949494 360.5px,#808080 381.5px,#777 382.5px,#6b6b6b 394.5px,#555 402.5px,#3f3f3f 409.5px,#212121 427.5px,#0b0b0b 468.5px,#060606 513.5px,#242424 573.5px,#3a3a3a 586.5px,#585858 594.5px,#717171 598.5px,#7e7e7e 605.5px,#808080 762.5px)"></i><i style="background:linear-gradient(90deg,#808080 0.5px,#818181 160.5px,#8d8d8d 166.5px,#adadad 172.5px,#c8c8c8 181.5px,#d9d9d9 197.5px,#f0f0f0 250.5px,#f4f4f4 259.5px,#e4e4e4 304.5px,#c5c5c5 338.5px,#aaa 349.5px,#9c9c9c 353.5px,#878787 368.5px,#818181 381.5px,#797979 382.5px,#6c6c6c 396.5px,#555 405.5px,#3f3f3f 412.5px,#242424 428.5px,#0c0c0c 467.5px,#070707 513.5px,#242424 573.5px,#3a3a3a 586.5px,#595959 594.5px,#6e6e6e 597.5px,#7c7c7c 603.5px,#818181 641.5px,#808080 762.5px)"></i><i style="background:linear-gradient(90deg,#808080 0.5px,#818181 160.5px,#8d8d8d 166.5px,#adadad 172.5px,#c8c8c8 181.5px,#d8d8d8 196.5px,#f3f3f3 259.5px,#e3e3e3 301.5px,#c4c4c4 334.5px,#b1b1b1 344.5px,#9c9c9c 350.5px,#878787 365.5px,#818181 381.5px,#7a7a7a 382.5px,#6e6e6e 398.5px,#585858 407.5px,#464646 412.5px,#292929 427.5px,#101010 462.5px,#060606 509.5px,#252525 573.5px,#3a3a3a 586.5px,#595959 594.5px,#6e6e6e 597.5px,#7d7d7d 603.5px,#818181 654.5px,#808080 762.5px)"></i><i style="background:linear-gradient(90deg,#808080 0.5px,#818181 160.5px,#8d8d8d 166.5px,#adadad 172.5px,#c8c8c8 181.5px,#d7d7d7 195.5px,#f1f1f1 259.5px,#e1e1e1 299.5px,#c0c0c0 332.5px,#aeaeae 342.5px,#9a9a9a 348.5px,#868686 363.5px,#818181 381.5px,#7b7b7b 382.5px,#707070 399.5px,#5b5b5b 409.5px,#444 416.5px,#2c2c2c 429.5px,#121212 463.5px,#070707 509.5px,#252525 573.5px,#3b3b3b 586.5px,#595959 594.5px,#6e6e6e 597.5px,#7d7d7d 603.5px,#818181 656.5px,#808080 762.5px)"></i><i style="background:linear-gradient(90deg,#808080 0.5px,#818181 160.5px,#8d8d8d 166.5px,#adadad 172.5px,#c8c8c8 181.5px,#d7d7d7 195.5px,#efefef 259.5px,#dfdfdf 297.5px,#bcbcbc 330.5px,#a4a4a4 342.5px,#919191 350.5px,#818181 371.5px,#808080 381.5px,#7b7b7b 383.5px,#757575 398.5px,#616161 410.5px,#464646 418.5px,#313131 429.5px,#151515 461.5px,#080808 505.5px,#242424 572.5px,#3b3b3b 586.5px,#5a5a5a 594.5px,#6e6e6e 597.5px,#7b7b7b 602.5px,#818181 623.5px,#808080 762.5px)"></i><i style="background:linear-gradient(90deg,#808080 0.5px,#818181 160.5px,#8d8d8d 166.5px,#adadad 172.5px,#c8c8c8 181.5px,#d6d6d6 194.5px,#ededed 258.5px,#ddd 294.5px,#bababa 326.5px,#8d8d8d 350.5px,#808080 374.5px,#808080 381.5px,#7c7c7c 383.5px,#757575 401.5px,#606060 413.5px,#404040 423.5px,#222 447.5px,#0c0c0c 486.5px,#0b0b0b 516.5px,#262626 574.5px,#3e3e3e 587.5px,#5b5b5b 594.5px,#6f6f6f 597.5px,#7d7d7d 603.5px,#818181 646.5px,#808080 762.5px)"></i><i style="background:linear-gradient(90deg,#808080 0.5px,#818181 160.5px,#8d8d8d 166.5px,#adadad 172.5px,#c8c8c8 181.5px,#d5d5d5 193.5px,#ebebeb 258.5px,#dadada 293.5px,#b5b5b5 324.5px,#999 338.5px,#858585 356.5px,#7b7b7b 396.5px,#696969 412.5px,#444 425.5px,#232323 450.5px,#0d0d0d 487.5px,#0c0c0c 516.5px,#262626 574.5px,#3c3c3c 586.5px,#5c5c5c 594.5px,#707070 597.5px,#7d7d7d 603.5px,#818181 644.5px,#808080 762.5px)"></i><i style="background:linear-gradient(90deg,#808080 0.5px,#818181 160.5px,#8d8d8d 166.5px,#adadad 172.5px,#c8c8c8 181.5px,#d4d4d4 192.5px,#e9e9e9 258.5px,#d6d6d6 292.5px,#b0b0b0 322.5px,#9c9c9c 331.5px,#848484 356.5px,#7b7b7b 398.5px,#6b6b6b 414.5px,#484848 427.5px,#252525 452.5px,#0f0f0f 487.5px,#0d0d0d 516.5px,#262626 574.5px,#3d3d3d 586.5px,#585858 593.5px,#707070 597.5px,#7d7d7d 603.5px,#818181 654.5px,#808080 762.5px)"></i><i style="background:linear-gradient(90deg,#808080 0.5px,#818181 160.5px,#8d8d8d 166.5px,#adadad 172.5px,#c8c8c8 181.5px,#d3d3d3 191.5px,#e6e6e6 257.5px,#d4d4d4 290.5px,#aeaeae 318.5px,#a1a1a1 323.5px,#868686 348.5px,#797979 405.5px,#666 419.5px,#464646 432.5px,#242424 458.5px,#101010 491.5px,#0e0e0e 517.5px,#282828 575.5px,#404040 587.5px,#5e5e5e 594.5px,#6c6c6c 596.5px,#7b7b7b 601.5px,#818181 621.5px,#808080 762.5px)"></i><i style="background:linear-gradient(90deg,#808080 0.5px,#818181 160.5px,#8d8d8d 166.5px,#adadad 172.5px,#c8c8c8 181.5px,#d2d2d2 191.5px,#e4e4e4 256.5px,#d0d0d0 288.5px,#aeaeae 313.5px,#9e9e9e 320.5px,#888 343.5px,#7f7f7f 377.5px,#7d7d7d 399.5px,#6e6e6e 418.5px,#3e3e3e 441.5px,#1e1e1e 469.5px,#0f0f0f 500.5px,#131313 530.5px,#282828 575.5px,#404040 587.5px,#5f5f5f 594.5px,#6e6e6e 596.5px,#7d7d7d 602.5px,#818181 644.5px,#808080 762.5px)"></i><i style="background:linear-gradient(90deg,#808080 0.5px,#818181 160.5px,#8d8d8d 166.5px,#adadad 172.5px,#c8c8c8 181.5px,#d1d1d1 190.5px,#e1e1e1 256.5px,#cbcbcb 288.5px,#a9a9a9 310.5px,#999 318.5px,#858585 345.5px,#797979 410.5px,#606060 430.5px,#454545 441.5px,#222 468.5px,#121212 496.5px,#121212 519.5px,#282828 575.5px,#3e3e3e 586.5px,#5b5b5b 593.5px,#6f6f6f 596.5px,#7d7d7d 602.5px,#818181 646.5px,#808080 762.5px)"></i><i style="background:linear-gradient(90deg,#808080 0.5px,#818181 160.5px,#8d8d8d 166.5px,#adadad 172.5px,#c8c8c8 181.5px,#d0d0d0 190.5px,#ddd 255.5px,#c6c6c6 287.5px,#949494 317.5px,#828282 350.5px,#7b7b7b 409.5px,#656565 431.5px,#3f3f3f 449.5px,#1f1f1f 476.5px,#121212 510.5px,#272727 574.5px,#3e3e3e 586.5px,#5c5c5c 593.5px,#6f6f6f 596.5px,#7d7d7d 602.5px,#818181 648.5px,#808080 762.5px)"></i><i style="background:linear-gradient(90deg,#808080 0.5px,#818181 160.5px,#8d8d8d 166.5px,#adadad 172.5px,#c8c8c8 181.5px,#cfcfcf 191.5px,#dadada 254.5px,#c1c1c1 286.5px,#979797 310.5px,#858585 337.5px,#7a7a7a 414.5px,#626262 437.5px,#434343 451.5px,#222 477.5px,#141414 511.5px,#272727 574.5px,#3f3f3f 586.5px,#5d5d5d 593.5px,#717171 596.5px,#7e7e7e 603.5px,#808080 762.5px)"></i><i style="background:linear-gradient(90deg,#808080 0.5px,#818181 160.5px,#8d8d8d 166.5px,#adadad 172.5px,#c8c8c8 181.5px,#d1d1d1 206.5px,#d5d5d5 255.5px,#bababa 286.5px,#989898 304.5px,#858585 330.5px,#7b7b7b 416.5px,#666 439.5px,#404040 457.5px,#202020 484.5px,#171717 515.5px,#292929 575.5px,#404040 586.5px,#5e5e5e 593.5px,#6c6c6c 595.5px,#7b7b7b 600.5px,#818181 620.5px,#808080 762.5px)"></i><i style="background:linear-gradient(90deg,#808080 0.5px,#818181 160.5px,#8d8d8d 166.5px,#adadad 172.5px,#c8c8c8 181.5px,#d3d3d3 239.5px,#cbcbcb 262.5px,#b1b1b1 286.5px,#9b9b9b 297.5px,#878787 321.5px,#7e7e7e 383.5px,#7d7d7d 414.5px,#6a6a6a 440.5px,#3a3a3a 465.5px,#212121 488.5px,#191919 516.5px,#292929 575.5px,#404040 586.5px,#5f5f5f 593.5px,#6e6e6e 595.5px,#7d7d7d 601.5px,#818181 645.5px,#808080 762.5px)"></i><i style="background:linear-gradient(90deg,#808080 0.5px,#818181 160.5px,#8d8d8d 166.5px,#adadad 172.5px,#c8c8c8 181.5px,#cecece 241.5px,#c3c3c3 263.5px,#ababab 284.5px,#a3a3a3 287.5px,#8c8c8c 307.5px,#7f7f7f 351.5px,#7d7d7d 417.5px,#6c6c6c 443.5px,#545454 456.5px,#464646 462.5px,#272727 485.5px,#1c1c1c 515.5px,#292929 571.5px,#343434 581.5px,#505050 590.5px,#737373 596.5px,#7f7f7f 604.5px,#808080 762.5px)"></i><i style="background:linear-gradient(90deg,#808080 0.5px,#818181 160.5px,#8d8d8d 166.5px,#adadad 172.5px,#c5c5c5 180.5px,#cbcbcb 234.5px,#bfbfbf 260.5px,#a4a4a4 282.5px,#939393 293.5px,#838383 323.5px,#7b7b7b 424.5px,#6b6b6b 448.5px,#535353 461.5px,#434343 468.5px,#2b2b2b 487.5px,#1e1e1e 516.5px,#292929 568.5px,#323232 580.5px,#4d4d4d 589.5px,#747474 596.5px,#7f7f7f 604.5px,#808080 762.5px)"></i><i style="background:linear-gradient(90deg,#808080 0.5px,#818181 160.5px,#8d8d8d 166.5px,#adadad 172.5px,#c5c5c5 180.5px,#c6c6c6 236.5px,#b7b7b7 261.5px,#989898 284.5px,#858585 311.5px,#7b7b7b 429.5px,#6a6a6a 453.5px,#393939 478.5px,#262626 502.5px,#222 539.5px,#303030 578.5px,#424242 586.5px,#5d5d5d 592.5px,#707070 595.5px,#7d7d7d 601.5px,#818181 654.5px,#808080 762.5px)"></i><i style="background:linear-gradient(90deg,#808080 0.5px,#818181 160.5px,#8d8d8d 166.5px,#adadad 172.5px,#c2c2c2 179.5px,#c2c2c2 231.5px,#b1b1b1 259.5px,#a3a3a3 266.5px,#878787 301.5px,#7e7e7e 368.5px,#808080 405.5px,#757575 446.5px,#5f5f5f 464.5px,#454545 475.5px,#333 490.5px,#252525 517.5px,#2a2a2a 561.5px,#333 579.5px,#464646 587.5px,#757575 596.5px,#808080 605.5px,#808080 762.5px)"></i><i style="background:linear-gradient(90deg,#808080 0.5px,#818181 160.5px,#8d8d8d 166.5px,#adadad 172.5px,#c0c0c0 178.5px,#bebebe 226.5px,#aeaeae 253.5px,#9c9c9c 265.5px,#848484 304.5px,#7d7d7d 433.5px,#6d6d6d 459.5px,#575757 472.5px,#464646 479.5px,#2c2c2c 507.5px,#292929 548.5px,#333 578.5px,#474747 587.5px,#717171 595.5px,#7e7e7e 601.5px,#818181 762.5px)"></i><i style="background:linear-gradient(90deg,#808080 0.5px,#818181 160.5px,#8d8d8d 166.5px,#adadad 172.5px,#bebebe 178.5px,#b9b9b9 227.5px,#a9a9a9 248.5px,#9f9f9f 255.5px,#868686 292.5px,#7e7e7e 362.5px,#818181 393.5px,#787878 449.5px,#646464 470.5px,#474747 483.5px,#2e2e2e 514.5px,#2c2c2c 553.5px,#353535 578.5px,#4b4b4b 588.5px,#737373 595.5px,#7e7e7e 602.5px,#808080 762.5px)"></i><i style="background:linear-gradient(90deg,#808080 0.5px,#818181 160.5px,#8d8d8d 166.5px,#adadad 172.5px,#bcbcbc 178.5px,#b4b4b4 223.5px,#a1a1a1 246.5px,#969696 257.5px,#828282 304.5px,#7e7e7e 381.5px,#838383 382.5px,#797979 451.5px,#676767 472.5px,#4d4d4d 485.5px,#343434 514.5px,#2e2e2e 550.5px,#373737 578.5px,#515151 589.5px,#6f6f6f 594.5px,#7d7d7d 600.5px,#818181 658.5px,#808080 762.5px)"></i><i style="background:linear-gradient(90deg,#808080 0.5px,#818181 160.5px,#8d8d8d 166.5px,#a8a8a8 171.5px,#b8b8b8 177.5px,#b1b1b1 217.5px,#a3a3a3 235.5px,#999 244.5px,#959595 254.5px,#898989 272.5px,#7f7f7f 332.5px,#7d7d7d 381.5px,#848484 382.5px,#7f7f7f 405.5px,#7c7c7c 448.5px,#6c6c6c 473.5px,#494949 496.5px,#363636 520.5px,#323232 553.5px,#393939 578.5px,#575757 590.5px,#707070 594.5px,#7d7d7d 600.5px,#818181 654.5px,#808080 762.5px)"></i><i style="background:linear-gradient(90deg,#808080 0.5px,#818181 160.5px,#8d8d8d 166.5px,#a6a6a6 171.5px,#b6b6b6 177.5px,#ababab 217.5px,#939393 244.5px,#919191 254.5px,#858585 278.5px,#7c7c7c 381.5px,#868686 382.5px,#808080 399.5px,#7d7d7d 450.5px,#6d6d6d 476.5px,#444 508.5px,#343434 542.5px,#3b3b3b 578.5px,#5a5a5a 590.5px,#757575 595.5px,#808080 604.5px,#808080 762.5px)"></i><i style="background:linear-gradient(90deg,#808080 0.5px,#818181 160.5px,#8f8f8f 167.5px,#aaa 173.5px,#b3b3b3 177.5px,#a6a6a6 213.5px,#9c9c9c 221.5px,#868686 267.5px,#7c7c7c 373.5px,#797979 379.5px,#7c7c7c 381.5px,#878787 382.5px,#888 384.5px,#828282 390.5px,#7c7c7c 458.5px,#666 489.5px,#474747 514.5px,#393939 546.5px,#3d3d3d 578.5px,#5b5b5b 589.5px,#757575 595.5px,#808080 604.5px,#808080 762.5px)"></i><i style="background:linear-gradient(90deg,#808080 0.5px,#818181 160.5px,#909090 168.5px,#aeaeae 175.5px,#a4a4a4 205.5px,#979797 219.5px,#838383 273.5px,#7c7c7c 371.5px,#767676 378.5px,#7b7b7b 381.5px,#888 382.5px,#8b8b8b 384.5px,#858585 388.5px,#7b7b7b 464.5px,#5f5f5f 504.5px,#4c4c4c 517.5px,#4b4b4b 522.5px,#424242 531.5px,#3d3d3d 557.5px,#414141 579.5px,#616161 589.5px,#6e6e6e 592.5px,#7e7e7e 600.5px,#808080 762.5px)"></i><i style="background:linear-gradient(90deg,#808080 0.5px,#818181 160.5px,#909090 169.5px,#ababab 175.5px,#9d9d9d 203.5px,#979797 208.5px,#838383 265.5px,#7b7b7b 369.5px,#727272 377.5px,#7a7a7a 381.5px,#888 382.5px,#8d8d8d 384.5px,#868686 391.5px,#7c7c7c 465.5px,#626262 508.5px,#4d4d4d 525.5px,#424242 549.5px,#444 579.5px,#747474 593.5px,#7f7f7f 603.5px,#808080 762.5px)"></i><i style="background:linear-gradient(90deg,#808080 0.5px,#818181 161.5px,#909090 170.5px,#a4a4a4 174.5px,#a6a6a6 179.5px,#9f9f9f 187.5px,#9e9e9e 192.5px,#989898 197.5px,#848484 253.5px,#7b7b7b 367.5px,#6f6f6f 377.5px,#797979 381.5px,#888 382.5px,#909090 384.5px,#878787 396.5px,#848484 438.5px,#717171 496.5px,#575757 527.5px,#515151 530.5px,#474747 550.5px,#494949 562.5px,#464646 578.5px,#5f5f5f 586.5px,#707070 590.5px,#7f7f7f 602.5px,#808080 762.5px)"></i><i style="background:linear-gradient(90deg,#808080 0.5px,#818181 161.5px,#8e8e8e 170.5px,#a2a2a2 175.5px,#959595 191.5px,#838383 249.5px,#7a7a7a 364.5px,#6b6b6b 377.5px,#797979 381.5px,#898989 382.5px,#949494 385.5px,#8c8c8c 395.5px,#7c7c7c 475.5px,#666 521.5px,#4f4f4f 542.5px,#4c4c4c 579.5px,#737373 590.5px,#808080 603.5px,#808080 762.5px)"></i><i style="background:linear-gradient(90deg,#808080 0.5px,#818181 162.5px,#8e8e8e 171.5px,#9c9c9c 175.5px,#969696 180.5px,#848484 237.5px,#7a7a7a 358.5px,#717171 370.5px,#676767 376.5px,#787878 381.5px,#898989 382.5px,#969696 385.5px,#6f6f6f 515.5px,#545454 549.5px,#555 555.5px,#4f4f4f 579.5px,#717171 588.5px,#7e7e7e 599.5px,#808080 762.5px)"></i><i style="background:linear-gradient(90deg,#808080 0.5px,#818181 163.5px,#8e8e8e 172.5px,#949494 174.5px,#848484 226.5px,#7a7a7a 349.5px,#707070 368.5px,#646464 376.5px,#777 381.5px,#8a8a8a 382.5px,#9a9a9a 386.5px,#8b8b8b 441.5px,#7a7a7a 483.5px,#717171 519.5px,#5a5a5a 556.5px,#545454 579.5px,#727272 587.5px,#7e7e7e 598.5px,#808080 762.5px)"></i><i style="background:linear-gradient(90deg,#808080 0.5px,#818181 164.5px,#909090 175.5px,#838383 224.5px,#7a7a7a 340.5px,#6c6c6c 368.5px,#626262 376.5px,#767676 381.5px,#8a8a8a 382.5px,#9d9d9d 387.5px,#979797 412.5px,#989898 422.5px,#929292 430.5px,#909090 439.5px,#8a8a8a 446.5px,#6c6c6c 538.5px,#656565 548.5px,#656565 557.5px,#5f5f5f 562.5px,#606060 567.5px,#5a5a5a 572.5px,#5b5b5b 580.5px,#6d6d6d 584.5px,#7c7c7c 593.5px,#818181 632.5px,#808080 762.5px)"></i><i style="background:linear-gradient(90deg,#808080 0.5px,#818181 165.5px,#8d8d8d 176.5px,#868686 197.5px,#7a7a7a 333.5px,#676767 369.5px,#606060 375.5px,#767676 381.5px,#8a8a8a 382.5px,#9f9f9f 387.5px,#9c9c9c 429.5px,#808080 473.5px,#6d6d6d 550.5px,#626262 580.5px,#707070 584.5px,#7d7d7d 594.5px,#818181 699.5px,#808080 762.5px)"></i><i style="background:linear-gradient(90deg,#808080 0.5px,#818181 166.5px,#8a8a8a 176.5px,#818181 229.5px,#7c7c7c 318.5px,#646464 369.5px,#5f5f5f 375.5px,#757575 381.5px,#8a8a8a 382.5px,#a2a2a2 388.5px,#a1a1a1 432.5px,#838383 474.5px,#686868 580.5px,#787878 587.5px,#818181 607.5px,#808080 762.5px)"></i><i style="background:linear-gradient(90deg,#808080 0.5px,#818181 167.5px,#888 176.5px,#7f7f7f 249.5px,#7c7c7c 307.5px,#626262 369.5px,#5d5d5d 374.5px,#747474 381.5px,#8a8a8a 382.5px,#a2a2a2 388.5px,#a8a8a8 429.5px,#9a9a9a 453.5px,#8c8c8c 464.5px,#7c7c7c 500.5px,#6e6e6e 581.5px,#7b7b7b 588.5px,#818181 623.5px,#808080 762.5px)"></i><i style="background:linear-gradient(90deg,#808080 0.5px,#818181 168.5px,#868686 177.5px,#7a7a7a 306.5px,#606060 360.5px,#606060 367.5px,#5c5c5c 374.5px,#747474 381.5px,#8a8a8a 382.5px,#a5a5a5 389.5px,#adadad 436.5px,#999 461.5px,#919191 466.5px,#7f7f7f 497.5px,#727272 582.5px,#7c7c7c 588.5px,#818181 634.5px,#808080 762.5px)"></i><i style="background:linear-gradient(90deg,#808080 0.5px,#818181 169.5px,#858585 180.5px,#7a7a7a 294.5px,#5d5d5d 355.5px,#5d5d5d 370.5px,#5b5b5b 373.5px,#6b6b6b 379.5px,#747474 381.5px,#8a8a8a 382.5px,#a5a5a5 389.5px,#b2b2b2 436.5px,#a4a4a4 459.5px,#919191 472.5px,#7f7f7f 502.5px,#757575 582.5px,#7f7f7f 592.5px,#808080 762.5px)"></i><i style="background:linear-gradient(90deg,#808080 0.5px,#818181 172.5px,#848484 187.5px,#7a7a7a 285.5px,#5b5b5b 348.5px,#5b5b5b 373.5px,#6b6b6b 379.5px,#747474 381.5px,#8a8a8a 382.5px,#a5a5a5 389.5px,#aaa 397.5px,#ababab 408.5px,#b5b5b5 427.5px,#b2b2b2 451.5px,#898989 487.5px,#7c7c7c 524.5px,#787878 583.5px,#808080 595.5px,#808080 762.5px)"></i><i style="background:linear-gradient(90deg,#808080 0.5px,#818181 234.5px,#767676 287.5px,#606060 322.5px,#585858 355.5px,#5a5a5a 370.5px,#5a5a5a 373.5px,#6f6f6f 380.5px,#747474 381.5px,#8a8a8a 382.5px,#a5a5a5 389.5px,#acacac 397.5px,#acacac 406.5px,#bababa 436.5px,#b3b3b3 459.5px,#8b8b8b 491.5px,#7c7c7c 528.5px,#7a7a7a 585.5px,#808080 597.5px,#808080 762.5px)"></i><i style="background:linear-gradient(90deg,#808080 0.5px,#808080 239.5px,#747474 283.5px,#5b5b5b 319.5px,#565656 356.5px,#5a5a5a 373.5px,#6f6f6f 380.5px,#747474 381.5px,#8a8a8a 382.5px,#a5a5a5 389.5px,#adadad 397.5px,#aeaeae 408.5px,#bbb 430.5px,#bbb 457.5px,#a5a5a5 478.5px,#909090 491.5px,#808080 521.5px,#7b7b7b 586.5px,#818181 602.5px,#808080 762.5px)"></i><i style="background:linear-gradient(90deg,#808080 0.5px,#808080 238.5px,#727272 278.5px,#585858 310.5px,#545454 352.5px,#595959 372.5px,#676767 378.5px,#747474 381.5px,#8a8a8a 382.5px,#a5a5a5 389.5px,#aeaeae 398.5px,#afafaf 407.5px,#bfbfbf 435.5px,#bebebe 462.5px,#a9a9a9 482.5px,#8f8f8f 498.5px,#7f7f7f 531.5px,#7d7d7d 589.5px,#818181 613.5px,#808080 762.5px)"></i><i style="background:linear-gradient(90deg,#808080 0.5px,#7f7f7f 235.5px,#707070 274.5px,#575757 297.5px,#505050 323.5px,#535353 330.5px,#535353 354.5px,#585858 372.5px,#6b6b6b 379.5px,#747474 381.5px,#8a8a8a 382.5px,#a5a5a5 389.5px,#aeaeae 398.5px,#b2b2b2 411.5px,#c3c3c3 439.5px,#c1c1c1 467.5px,#ababab 487.5px,#919191 503.5px,#7f7f7f 536.5px,#7d7d7d 593.5px,#818181 645.5px,#808080 762.5px)"></i><i style="background:linear-gradient(90deg,#808080 0.5px,#7f7f7f 232.5px,#6e6e6e 269.5px,#525252 293.5px,#4c4c4c 318.5px,#575757 371.5px,#676767 378.5px,#747474 381.5px,#8a8a8a 382.5px,#a5a5a5 389.5px,#afafaf 399.5px,#c7c7c7 450.5px,#c2c2c2 475.5px,#909090 511.5px,#7f7f7f 543.5px,#7e7e7e 619.5px,#808080 762.5px)"></i><i style="background:linear-gradient(90deg,#808080 0.5px,#7f7f7f 227.5px,#6d6d6d 262.5px,#4c4c4c 289.5px,#474747 313.5px,#565656 363.5px,#565656 370.5px,#656565 377.5px,#757575 381.5px,#8a8a8a 382.5px,#a5a5a5 389.5px,#b1b1b1 401.5px,#cacaca 452.5px,#c6c6c6 478.5px,#9d9d9d 509.5px,#929292 516.5px,#808080 545.5px,#7e7e7e 611.5px,#808080 762.5px)"></i><i style="background:linear-gradient(90deg,#808080 0.5px,#7e7e7e 222.5px,#6e6e6e 254.5px,#444 288.5px,#434343 314.5px,#4d4d4d 335.5px,#565656 370.5px,#686868 378.5px,#767676 381.5px,#8a8a8a 382.5px,#a5a5a5 389.5px,#b3b3b3 403.5px,#cdcdcd 454.5px,#cacaca 480.5px,#aeaeae 504.5px,#919191 523.5px,#808080 552.5px,#7e7e7e 658.5px,#808080 762.5px)"></i><i style="background:linear-gradient(90deg,#808080 0.5px,#7e7e7e 217.5px,#6e6e6e 246.5px,#3f3f3f 284.5px,#3e3e3e 308.5px,#4c4c4c 336.5px,#565656 370.5px,#656565 377.5px,#767676 381.5px,#8a8a8a 382.5px,#a5a5a5 389.5px,#b5b5b5 405.5px,#cfcfcf 456.5px,#cecece 482.5px,#b5b5b5 506.5px,#909090 530.5px,#7f7f7f 561.5px,#808080 762.5px)"></i><i style="background:linear-gradient(90deg,#808080 0.5px,#7e7e7e 212.5px,#6e6e6e 240.5px,#414141 273.5px,#363636 290.5px,#565656 370.5px,#656565 377.5px,#767676 381.5px,#8a8a8a 382.5px,#a5a5a5 389.5px,#b8b8b8 408.5px,#d2d2d2 459.5px,#d1d1d1 485.5px,#bababa 510.5px,#8f8f8f 537.5px,#898989 549.5px,#808080 562.5px,#7f7f7f 762.5px)"></i><i style="background:linear-gradient(90deg,#808080 0.5px,#7e7e7e 208.5px,#6d6d6d 235.5px,#474747 260.5px,#313131 286.5px,#414141 322.5px,#474747 331.5px,#545454 368.5px,#646464 377.5px,#767676 381.5px,#8a8a8a 382.5px,#a5a5a5 389.5px,#bababa 410.5px,#d4d4d4 461.5px,#d4d4d4 487.5px,#bebebe 514.5px,#909090 543.5px,#7f7f7f 571.5px,#808080 762.5px)"></i><i style="background:linear-gradient(90deg,#808080 0.5px,#7e7e7e 203.5px,#6d6d6d 229.5px,#424242 256.5px,#2e2e2e 283.5px,#393939 312.5px,#474747 332.5px,#525252 366.5px,#626262 376.5px,#767676 381.5px,#8a8a8a 382.5px,#a5a5a5 389.5px,#bcbcbc 412.5px,#d7d7d7 463.5px,#d7d7d7 490.5px,#c4c4c4 517.5px,#8f8f8f 549.5px,#7f7f7f 575.5px,#808080 762.5px)"></i><i style="background:linear-gradient(90deg,#808080 0.5px,#7e7e7e 198.5px,#6e6e6e 223.5px,#3e3e3e 252.5px,#2b2b2b 279.5px,#2c2c2c 294.5px,#464646 333.5px,#545454 368.5px,#626262 376.5px,#767676 381.5px,#8a8a8a 382.5px,#a5a5a5 389.5px,#bcbcbc 412.5px,#d9d9d9 465.5px,#d9d9d9 494.5px,#c9c9c9 519.5px,#8c8c8c 557.5px,#7f7f7f 580.5px,#808080 762.5px)"></i><i style="background:linear-gradient(90deg,#808080 0.5px,#7e7e7e 194.5px,#6c6c6c 219.5px,#3a3a3a 248.5px,#282828 275.5px,#282828 292.5px,#454545 333.5px,#525252 366.5px,#626262 376.5px,#767676 381.5px,#8a8a8a 382.5px,#a4a4a4 389.5px,#bcbcbc 411.5px,#dbdbdb 466.5px,#dbdbdb 498.5px,#cecece 521.5px,#9e9e9e 552.5px,#929292 557.5px,#808080 577.5px,#808080 762.5px)"></i><i style="background:linear-gradient(90deg,#808080 0.5px,#7e7e7e 190.5px,#6b6b6b 214.5px,#353535 245.5px,#252525 274.5px,#262626 291.5px,#444 332.5px,#525252 366.5px,#626262 376.5px,#767676 381.5px,#898989 382.5px,#a5a5a5 389.5px,#bebebe 413.5px,#ddd 468.5px,#ddd 505.5px,#d2d2d2 523.5px,#adadad 549.5px,#8e8e8e 564.5px,#808080 582.5px,#808080 762.5px)"></i><i style="background:linear-gradient(90deg,#808080 0.5px,#7e7e7e 186.5px,#6b6b6b 209.5px,#363636 238.5px,#272727 256.5px,#222 289.5px,#434343 332.5px,#525252 365.5px,#606060 375.5px,#777 381.5px,#898989 382.5px,#a5a5a5 389.5px,#bfbfbf 414.5px,#dfdfdf 470.5px,#dedede 513.5px,#c6c6c6 539.5px,#9e9e9e 561.5px,#8f8f8f 567.5px,#808080 584.5px,#808080 762.5px)"></i><i style="background:linear-gradient(90deg,#808080 0.5px,#7e7e7e 182.5px,#6b6b6b 204.5px,#373737 232.5px,#252525 250.5px,#202020 288.5px,#434343 332.5px,#505050 363.5px,#5f5f5f 375.5px,#777 381.5px,#898989 382.5px,#a5a5a5 389.5px,#c1c1c1 416.5px,#e2e2e2 475.5px,#dfdfdf 519.5px,#c2c2c2 547.5px,#8b8b8b 573.5px,#7f7f7f 588.5px,#808080 762.5px)"></i><i style="background:linear-gradient(90deg,#808080 0.5px,#7e7e7e 179.5px,#6a6a6a 200.5px,#424242 220.5px,#232323 245.5px,#1d1d1d 287.5px,#414141 331.5px,#505050 363.5px,#5f5f5f 375.5px,#777 381.5px,#898989 382.5px,#a5a5a5 389.5px,#c2c2c2 417.5px,#e4e4e4 477.5px,#e2e2e2 520.5px,#c5c5c5 550.5px,#a1a1a1 567.5px,#8e8e8e 574.5px,#808080 588.5px,#808080 762.5px)"></i><i style="background:linear-gradient(90deg,#808080 0.5px,#7e7e7e 177.5px,#696969 196.5px,#414141 215.5px,#222 241.5px,#1a1a1a 280.5px,#232323 297.5px,#414141 331.5px,#4f4f4f 361.5px,#5f5f5f 375.5px,#777 381.5px,#898989 382.5px,#a5a5a5 389.5px,#c3c3c3 417.5px,#e6e6e6 477.5px,#e5e5e5 521.5px,#c9c9c9 552.5px,#aaa 567.5px,#8c8c8c 578.5px,#7f7f7f 592.5px,#808080 762.5px)"></i><i style="background:linear-gradient(90deg,#808080 0.5px,#7e7e7e 175.5px,#676767 193.5px,#515151 202.5px,#2d2d2d 225.5px,#1a1a1a 250.5px,#1c1c1c 290.5px,#404040 331.5px,#4e4e4e 360.5px,#5e5e5e 374.5px,#777 381.5px,#898989 382.5px,#a5a5a5 389.5px,#c4c4c4 418.5px,#e7e7e7 478.5px,#e7e7e7 521.5px,#ccc 554.5px,#aeaeae 569.5px,#8f8f8f 579.5px,#808080 591.5px,#808080 762.5px)"></i><i style="background:linear-gradient(90deg,#808080 0.5px,#7e7e7e 173.5px,#676767 189.5px,#424242 205.5px,#242424 229.5px,#181818 251.5px,#1b1b1b 290.5px,#404040 331.5px,#4e4e4e 360.5px,#5e5e5e 374.5px,#787878 381.5px,#898989 382.5px,#a5a5a5 389.5px,#c5c5c5 419.5px,#e8e8e8 479.5px,#e9e9e9 521.5px,#cfcfcf 556.5px,#b4b4b4 570.5px,#8d8d8d 582.5px,#808080 593.5px,#808080 762.5px)"></i><i style="background:linear-gradient(90deg,#808080 0.5px,#7e7e7e 171.5px,#6a6a6a 184.5px,#454545 199.5px,#272727 221.5px,#161616 250.5px,#1a1a1a 290.5px,#3f3f3f 330.5px,#4e4e4e 360.5px,#5e5e5e 374.5px,#787878 381.5px,#898989 382.5px,#a5a5a5 389.5px,#c7c7c7 421.5px,#eaeaea 481.5px,#ebebeb 521.5px,#d1d1d1 558.5px,#b7b7b7 572.5px,#8b8b8b 585.5px,#7f7f7f 597.5px,#808080 762.5px)"></i><i style="background:linear-gradient(90deg,#808080 0.5px,#7e7e7e 170.5px,#6a6a6a 181.5px,#4e4e4e 191.5px,#303030 208.5px,#141414 244.5px,#181818 289.5px,#3e3e3e 330.5px,#4d4d4d 359.5px,#5e5e5e 374.5px,#787878 381.5px,#898989 382.5px,#a4a4a4 389.5px,#c7c7c7 421.5px,#ebebeb 481.5px,#ededed 521.5px,#d3d3d3 560.5px,#bbb 573.5px,#8d8d8d 586.5px,#808080 596.5px,#808080 762.5px)"></i><i style="background:linear-gradient(90deg,#808080 0.5px,#7e7e7e 168.5px,#6f6f6f 177.5px,#4c4c4c 188.5px,#303030 204.5px,#141414 241.5px,#161616 288.5px,#3e3e3e 330.5px,#4d4d4d 359.5px,#5e5e5e 374.5px,#787878 381.5px,#898989 382.5px,#a4a4a4 389.5px,#c4c4c4 416.5px,#ebebeb 479.5px,#efefef 521.5px,#d5d5d5 562.5px,#bdbdbd 575.5px,#8d8d8d 588.5px,#808080 598.5px,#808080 762.5px)"></i><i style="background:linear-gradient(90deg,#808080 0.5px,#7e7e7e 167.5px,#6d6d6d 176.5px,#545454 182.5px,#373737 195.5px,#1c1c1c 223.5px,#101010 251.5px,#171717 290.5px,#3d3d3d 330.5px,#4c4c4c 358.5px,#5e5e5e 374.5px,#787878 381.5px,#888 382.5px,#a4a4a4 389.5px,#c5c5c5 418.5px,#ececec 481.5px,#f1f1f1 521.5px,#d7d7d7 563.5px,#c1c1c1 576.5px,#8c8c8c 590.5px,#808080 600.5px,#808080 762.5px)"></i><i style="background:linear-gradient(90deg,#808080 0.5px,#7e7e7e 165.5px,#6e6e6e 174.5px,#4f4f4f 181.5px,#363636 192.5px,#1c1c1c 219.5px,#0f0f0f 250.5px,#161616 290.5px,#3d3d3d 330.5px,#4c4c4c 358.5px,#5e5e5e 374.5px,#797979 381.5px,#888 382.5px,#a4a4a4 389.5px,#c6c6c6 419.5px,#ededed 481.5px,#f2f2f2 521.5px,#d8d8d8 565.5px,#c2c2c2 578.5px,#8b8b8b 592.5px,#7f7f7f 602.5px,#808080 762.5px)"></i><i style="background:linear-gradient(90deg,#808080 0.5px,#7e7e7e 164.5px,#6f6f6f 172.5px,#474747 181.5px,#323232 191.5px,#191919 221.5px,#0d0d0d 251.5px,#151515 290.5px,#3d3d3d 330.5px,#4b4b4b 357.5px,#5e5e5e 374.5px,#797979 381.5px,#888 382.5px,#a4a4a4 389.5px,#c7c7c7 419.5px,#eee 482.5px,#f3f3f3 521.5px,#d9d9d9 567.5px,#c3c3c3 580.5px,#8d8d8d 593.5px,#808080 602.5px,#808080 762.5px)"></i><i style="background:linear-gradient(90deg,#808080 0.5px,#7e7e7e 163.5px,#6e6e6e 171.5px,#434343 180.5px,#2f2f2f 190.5px,#151515 225.5px,#0c0c0c 251.5px,#141414 290.5px,#3c3c3c 330.5px,#4b4b4b 357.5px,#5e5e5e 374.5px,#797979 381.5px,#888 382.5px,#a4a4a4 389.5px,#c8c8c8 420.5px,#efefef 482.5px,#f5f5f5 521.5px,#dbdbdb 568.5px,#c5c5c5 581.5px,#a1a1a1 590.5px,#8e8e8e 594.5px,#818181 602.5px,#808080 762.5px)"></i><i style="background:linear-gradient(90deg,#808080 0.5px,#7e7e7e 161.5px,#707070 169.5px,#404040 179.5px,#2d2d2d 188.5px,#131313 226.5px,#0b0b0b 252.5px,#131313 290.5px,#3c3c3c 330.5px,#4a4a4a 356.5px,#5e5e5e 374.5px,#797979 381.5px,#888 382.5px,#a4a4a4 389.5px,#c9c9c9 421.5px,#f0f0f0 483.5px,#f6f6f6 521.5px,#dcdcdc 569.5px,#c8c8c8 582.5px,#a8a8a8 590.5px,#8f8f8f 595.5px,#808080 603.5px,#808080 762.5px)"></i><i style="background:linear-gradient(90deg,#808080 0.5px,#7e7e7e 160.5px,#6f6f6f 168.5px,#3d3d3d 178.5px,#2b2b2b 187.5px,#101010 229.5px,#0a0a0a 252.5px,#131313 290.5px,#3c3c3c 330.5px,#4a4a4a 356.5px,#5e5e5e 374.5px,#797979 381.5px,#888 382.5px,#a4a4a4 389.5px,#c9c9c9 421.5px,#f0f0f0 483.5px,#f7f7f7 521.5px,#ddd 570.5px,#cacaca 583.5px,#ababab 591.5px,#909090 596.5px,#828282 603.5px,#7e7e7e 685.5px,#808080 762.5px)"></i><i style="background:linear-gradient(90deg,#808080 0.5px,#7e7e7e 159.5px,#717171 166.5px,#3c3c3c 177.5px,#292929 186.5px,#0d0d0d 232.5px,#090909 254.5px,#121212 290.5px,#3c3c3c 330.5px,#494949 355.5px,#5e5e5e 374.5px,#797979 381.5px,#888 382.5px,#a4a4a4 389.5px,#cacaca 422.5px,#f1f1f1 484.5px,#f8f8f8 521.5px,#dedede 571.5px,#cbcbcb 584.5px,#b2b2b2 591.5px,#8d8d8d 598.5px,#818181 605.5px,#808080 762.5px)"></i><i style="background:linear-gradient(90deg,#808080 0.5px,#7e7e7e 158.5px,#707070 165.5px,#3e3e3e 175.5px,#2a2a2a 183.5px,#121212 218.5px,#070707 250.5px,#111 290.5px,#3b3b3b 330.5px,#494949 355.5px,#5e5e5e 374.5px,#797979 381.5px,#888 382.5px,#a4a4a4 389.5px,#cacaca 422.5px,#f2f2f2 484.5px,#f9f9f9 521.5px,#dfdfdf 572.5px,#cacaca 586.5px,#afafaf 593.5px,#8e8e8e 599.5px,#808080 606.5px,#808080 762.5px)"></i><i style="background:linear-gradient(90deg,#808080 0.5px,#7e7e7e 157.5px,#707070 164.5px,#3c3c3c 174.5px,#262626 184.5px,#0a0a0a 234.5px,#070707 256.5px,#111 290.5px,#3a3a3a 329.5px,#494949 355.5px,#5e5e5e 374.5px,#797979 381.5px,#898989 382.5px,#a4a4a4 389.5px,#c9c9c9 421.5px,#f2f2f2 484.5px,#fafafa 521.5px,#e0e0e0 573.5px,#ccc 587.5px,#b0b0b0 594.5px,#8e8e8e 600.5px,#808080 607.5px,#808080 762.5px)"></i><i style="background:linear-gradient(90deg,#808080 0.5px,#7e7e7e 156.5px,#6f6f6f 163.5px,#434343 171.5px,#2b2b2b 179.5px,#1a1a1a 198.5px,#060606 249.5px,#101010 289.5px,#3b3b3b 330.5px,#484848 354.5px,#5e5e5e 374.5px,#797979 381.5px,#898989 382.5px,#a4a4a4 389.5px,#cdcdcd 425.5px,#f3f3f3 485.5px,#fafafa 521.5px,#e1e1e1 574.5px,#cdcdcd 588.5px,#b2b2b2 595.5px,#8e8e8e 601.5px,#818181 607.5px,#808080 762.5px)"></i><i style="background:linear-gradient(90deg,#808080 0.5px,#7e7e7e 156.5px,#6f6f6f 162.5px,#414141 170.5px,#2b2b2b 178.5px,#1a1a1a 195.5px,#050505 249.5px,#0f0f0f 289.5px,#3b3b3b 330.5px,#484848 354.5px,#5e5e5e 374.5px,#797979 381.5px,#898989 382.5px,#a5a5a5 389.5px,#d2d2d2 431.5px,#f4f4f4 486.5px,#fbfbfb 521.5px,#e1e1e1 575.5px,#cdcdcd 589.5px,#b3b3b3 596.5px,#8e8e8e 602.5px,#808080 608.5px,#808080 762.5px)"></i><i style="background:linear-gradient(90deg,#808080 0.5px,#7e7e7e 155.5px,#707070 161.5px,#454545 168.5px,#2c2c2c 176.5px,#1b1b1b 192.5px,#040404 249.5px,#0f0f0f 289.5px,#3a3a3a 329.5px,#484848 354.5px,#5e5e5e 374.5px,#797979 381.5px,#898989 382.5px,#a5a5a5 389.5px,#d1d1d1 430.5px,#f4f4f4 485.5px,#fcfcfc 521.5px,#e2e2e2 576.5px,#cecece 590.5px,#b8b8b8 596.5px,#8c8c8c 603.5px,#808080 609.5px,#808080 762.5px)"></i><i style="background:linear-gradient(90deg,#808080 0.5px,#7e7e7e 155.5px,#707070 160.5px,#454545 167.5px,#2d2d2d 174.5px,#1a1a1a 190.5px,#030303 249.5px,#0e0e0e 289.5px,#3a3a3a 329.5px,#484848 354.5px,#5e5e5e 374.5px,#797979 381.5px,#8a8a8a 382.5px,#a4a4a4 389.5px,#d0d0d0 429.5px,#f4f4f4 485.5px,#fdfdfd 521.5px,#e3e3e3 576.5px,#cfcfcf 591.5px,#b9b9b9 597.5px,#8f8f8f 603.5px,#818181 608.5px,#7f7f7f 762.5px)"></i><i style="background:linear-gradient(90deg,#808080 0.5px,#7e7e7e 154.5px,#727272 159.5px,#3f3f3f 167.5px,#292929 175.5px,#171717 193.5px,#030303 249.5px,#0e0e0e 289.5px,#3a3a3a 330.5px,#484848 354.5px,#5e5e5e 374.5px,#797979 381.5px,#8a8a8a 382.5px,#a5a5a5 389.5px,#d0d0d0 430.5px,#f5f5f5 486.5px,#fdfdfd 521.5px,#e4e4e4 577.5px,#cfcfcf 592.5px,#bdbdbd 597.5px,#8d8d8d 604.5px,#818181 609.5px,#808080 762.5px)"></i><i style="background:linear-gradient(90deg,#808080 0.5px,#7e7e7e 154.5px,#707070 159.5px,#3f3f3f 166.5px,#292929 174.5px,#161616 193.5px,#020202 249.5px,#0e0e0e 289.5px,#3a3a3a 329.5px,#4a4a4a 356.5px,#5e5e5e 374.5px,#787878 381.5px,#8b8b8b 382.5px,#a5a5a5 389.5px,#cfcfcf 429.5px,#f6f6f6 487.5px,#fefefe 521.5px,#e4e4e4 578.5px,#cfcfcf 593.5px,#bcbcbc 598.5px,#8f8f8f 604.5px,#818181 609.5px,#808080 762.5px)"></i><i style="background:linear-gradient(90deg,#808080 0.5px,#7e7e7e 154.5px,#6e6e6e 159.5px,#464646 164.5px,#313131 169.5px,#1c1c1c 183.5px,#010101 246.5px,#0d0d0d 289.5px,#3a3a3a 329.5px,#4a4a4a 356.5px,#5e5e5e 374.5px,#787878 381.5px,#8b8b8b 382.5px,#a3a3a3 388.5px,#bbb 407.5px,#eaeaea 466.5px,#fff 517.5px,#e6e6e6 577.5px,#d2d2d2 593.5px,#bfbfbf 598.5px,#8b8b8b 605.5px,#7f7f7f 611.5px,#808080 762.5px)"></i><i style="background:linear-gradient(90deg,#808080 0.5px,#7e7e7e 153.5px,#727272 158.5px,#434343 164.5px,#2f2f2f 169.5px,#191919 185.5px,#010101 248.5px,#0e0e0e 289.5px,#3a3a3a 329.5px,#4a4a4a 356.5px,#5e5e5e 374.5px,#787878 381.5px,#8c8c8c 382.5px,#a6a6a6 389.5px,#cecece 428.5px,#f5f5f5 487.5px,#fff 521.5px,#e6e6e6 578.5px,#d2d2d2 594.5px,#bcbcbc 599.5px,#919191 604.5px,#828282 608.5px,#7e7e7e 636.5px,#808080 762.5px)"></i><i style="height:2px;background:linear-gradient(90deg,#808080 0.5px,#7e7e7e 153.5px,#727272 158.5px,#404040 164.5px,#2c2c2c 169.5px,#171717 186.5px,#010101 248.5px,#0f0f0f 290.5px,#3b3b3b 329.5px,#4b4b4b 357.5px,#5e5e5e 374.5px,#787878 381.5px,#8d8d8d 382.5px,#a4a4a4 388.5px,#c5c5c5 417.5px,#f4f4f4 487.5px,#fefefe 521.5px,#e8e8e8 577.5px,#d4d4d4 593.5px,#c1c1c1 598.5px,#8b8b8b 605.5px,#808080 610.5px,#808080 762.5px)"></i><i style="background:linear-gradient(90deg,#808080 0.5px,#7e7e7e 153.5px,#727272 158.5px,#414141 164.5px,#2c2c2c 169.5px,#1b1b1b 181.5px,#010101 245.5px,#101010 290.5px,#3b3b3b 329.5px,#4c4c4c 358.5px,#5e5e5e 374.5px,#777 381.5px,#8e8e8e 382.5px,#a4a4a4 388.5px,#c7c7c7 420.5px,#f3f3f3 487.5px,#fdfdfd 521.5px,#e8e8e8 575.5px,#d4d4d4 592.5px,#bdbdbd 598.5px,#8f8f8f 604.5px,#818181 609.5px,#808080 762.5px)"></i><i style="background:linear-gradient(90deg,#808080 0.5px,#7e7e7e 154.5px,#6d6d6d 159.5px,#434343 164.5px,#2d2d2d 169.5px,#1b1b1b 182.5px,#020202 246.5px,#101010 290.5px,#3b3b3b 329.5px,#4c4c4c 358.5px,#5e5e5e 374.5px,#777 381.5px,#8f8f8f 382.5px,#a5a5a5 388.5px,#c9c9c9 423.5px,#f3f3f3 487.5px,#fcfcfc 521.5px,#e7e7e7 575.5px,#d4d4d4 591.5px,#bfbfbf 597.5px,#8d8d8d 604.5px,#818181 609.5px,#808080 762.5px)"></i><i style="background:linear-gradient(90deg,#808080 0.5px,#7e7e7e 154.5px,#6f6f6f 159.5px,#3f3f3f 165.5px,#2a2a2a 171.5px,#191919 187.5px,#030303 249.5px,#111 290.5px,#3b3b3b 329.5px,#4d4d4d 359.5px,#5d5d5d 374.5px,#777 381.5px,#909090 382.5px,#a5a5a5 388.5px,#c9c9c9 423.5px,#f2f2f2 487.5px,#fcfcfc 521.5px,#e7e7e7 574.5px,#d2d2d2 591.5px,#bbb 597.5px,#909090 603.5px,#818181 608.5px,#808080 762.5px)"></i><i style="background:linear-gradient(90deg,#808080 0.5px,#7e7e7e 154.5px,#707070 159.5px,#3d3d3d 166.5px,#282828 173.5px,#161616 193.5px,#040404 249.5px,#111 290.5px,#3c3c3c 329.5px,#4d4d4d 360.5px,#5d5d5d 374.5px,#777 381.5px,#919191 382.5px,#a6a6a6 388.5px,#c8c8c8 423.5px,#f2f2f2 487.5px,#fbfbfb 521.5px,#e6e6e6 574.5px,#d1d1d1 590.5px,#bcbcbc 596.5px,#8d8d8d 603.5px,#818181 608.5px,#7f7f7f 762.5px)"></i><i style="background:linear-gradient(90deg,#808080 0.5px,#7e7e7e 154.5px,#727272 159.5px,#3b3b3b 167.5px,#282828 174.5px,#171717 195.5px,#050505 249.5px,#121212 290.5px,#3c3c3c 329.5px,#4e4e4e 360.5px,#5d5d5d 374.5px,#767676 381.5px,#919191 382.5px,#a6a6a6 388.5px,#c7c7c7 422.5px,#f1f1f1 487.5px,#fafafa 521.5px,#e6e6e6 573.5px,#d1d1d1 589.5px,#bdbdbd 595.5px,#8f8f8f 602.5px,#828282 607.5px,#7e7e7e 656.5px,#808080 762.5px)"></i><i style="background:linear-gradient(90deg,#808080 0.5px,#7e7e7e 155.5px,#707070 160.5px,#404040 167.5px,#2c2c2c 173.5px,#1a1a1a 190.5px,#060606 249.5px,#121212 290.5px,#3c3c3c 329.5px,#4e4e4e 361.5px,#5f5f5f 375.5px,#767676 381.5px,#929292 382.5px,#a6a6a6 388.5px,#c7c7c7 422.5px,#f1f1f1 488.5px,#f9f9f9 521.5px,#e5e5e5 573.5px,#cfcfcf 589.5px,#b8b8b8 595.5px,#909090 601.5px,#828282 606.5px,#7e7e7e 631.5px,#808080 762.5px)"></i><i style="background:linear-gradient(90deg,#808080 0.5px,#7e7e7e 155.5px,#727272 160.5px,#3f3f3f 168.5px,#2b2b2b 175.5px,#191919 195.5px,#070707 249.5px,#131313 290.5px,#3d3d3d 329.5px,#4f4f4f 361.5px,#5f5f5f 375.5px,#767676 381.5px,#939393 382.5px,#a7a7a7 388.5px,#c7c7c7 423.5px,#f0f0f0 488.5px,#f8f8f8 521.5px,#e4e4e4 572.5px,#cecece 588.5px,#b7b7b7 594.5px,#8d8d8d 601.5px,#818181 607.5px,#808080 762.5px)"></i><i style="background:linear-gradient(90deg,#808080 0.5px,#7e7e7e 156.5px,#717171 161.5px,#3f3f3f 169.5px,#2a2a2a 177.5px,#181818 200.5px,#080808 250.5px,#141414 290.5px,#3d3d3d 329.5px,#505050 363.5px,#5f5f5f 375.5px,#767676 381.5px,#949494 382.5px,#a7a7a7 388.5px,#c7c7c7 423.5px,#efefef 488.5px,#f7f7f7 521.5px,#e3e3e3 572.5px,#cdcdcd 587.5px,#b2b2b2 594.5px,#8d8d8d 600.5px,#808080 607.5px,#808080 762.5px)"></i><i style="background:linear-gradient(90deg,#808080 0.5px,#7e7e7e 156.5px,#707070 162.5px,#444 169.5px,#2e2e2e 176.5px,#1d1d1d 194.5px,#090909 249.5px,#151515 290.5px,#3e3e3e 329.5px,#515151 365.5px,#616161 376.5px,#767676 381.5px,#959595 382.5px,#a7a7a7 388.5px,#c6c6c6 423.5px,#eee 488.5px,#f6f6f6 521.5px,#e2e2e2 571.5px,#cfcfcf 585.5px,#b6b6b6 592.5px,#8d8d8d 599.5px,#808080 606.5px,#808080 762.5px)"></i><i style="background:linear-gradient(90deg,#808080 0.5px,#7e7e7e 157.5px,#6f6f6f 163.5px,#454545 170.5px,#303030 177.5px,#1e1e1e 194.5px,#0a0a0a 249.5px,#151515 290.5px,#3f3f3f 330.5px,#4e4e4e 360.5px,#5f5f5f 375.5px,#767676 381.5px,#959595 382.5px,#a8a8a8 388.5px,#c7c7c7 425.5px,#eee 489.5px,#f5f5f5 522.5px,#e1e1e1 571.5px,#cbcbcb 585.5px,#afafaf 592.5px,#8d8d8d 598.5px,#808080 605.5px,#808080 762.5px)"></i><i style="background:linear-gradient(90deg,#808080 0.5px,#7e7e7e 158.5px,#6f6f6f 164.5px,#434343 172.5px,#2c2c2c 181.5px,#171717 211.5px,#0b0b0b 250.5px,#161616 290.5px,#3f3f3f 330.5px,#4f4f4f 362.5px,#5e5e5e 375.5px,#757575 381.5px,#969696 382.5px,#a8a8a8 388.5px,#c8c8c8 427.5px,#ededed 489.5px,#f4f4f4 522.5px,#e0e0e0 570.5px,#ccc 583.5px,#b3b3b3 590.5px,#8d8d8d 597.5px,#808080 604.5px,#808080 762.5px)"></i><i style="background:linear-gradient(90deg,#808080 0.5px,#7e7e7e 158.5px,#6f6f6f 165.5px,#454545 173.5px,#303030 181.5px,#1d1d1d 203.5px,#0c0c0c 250.5px,#171717 290.5px,#404040 330.5px,#525252 366.5px,#616161 376.5px,#767676 381.5px,#979797 382.5px,#a8a8a8 388.5px,#cacaca 431.5px,#ececec 490.5px,#f3f3f3 522.5px,#dfdfdf 569.5px,#cbcbcb 582.5px,#acacac 590.5px,#8c8c8c 596.5px,#808080 604.5px,#808080 762.5px)"></i><i style="background:linear-gradient(90deg,#808080 0.5px,#7e7e7e 159.5px,#707070 166.5px,#444 175.5px,#2f2f2f 184.5px,#191919 214.5px,#0e0e0e 251.5px,#181818 290.5px,#414141 330.5px,#545454 368.5px,#646464 377.5px,#767676 381.5px,#979797 382.5px,#a8a8a8 388.5px,#cfcfcf 440.5px,#ebebeb 492.5px,#f1f1f1 522.5px,#ddd 568.5px,#cacaca 581.5px,#a9a9a9 589.5px,#909090 594.5px,#818181 601.5px,#7f7f7f 762.5px)"></i><i style="background:linear-gradient(90deg,#808080 0.5px,#7e7e7e 160.5px,#6d6d6d 168.5px,#474747 176.5px,#323232 185.5px,#1c1c1c 212.5px,#0f0f0f 250.5px,#191919 290.5px,#414141 330.5px,#555 369.5px,#646464 377.5px,#767676 381.5px,#989898 382.5px,#a9a9a9 388.5px,#d2d2d2 446.5px,#eaeaea 493.5px,#f0f0f0 522.5px,#dcdcdc 567.5px,#c8c8c8 580.5px,#a2a2a2 589.5px,#8e8e8e 593.5px,#808080 601.5px,#808080 762.5px)"></i><i style="background:linear-gradient(90deg,#808080 0.5px,#7e7e7e 161.5px,#6f6f6f 169.5px,#444 179.5px,#2f2f2f 190.5px,#181818 225.5px,#111 252.5px,#1b1b1b 290.5px,#424242 330.5px,#565656 370.5px,#656565 377.5px,#757575 381.5px,#999 382.5px,#a9a9a9 388.5px,#cbcbcb 436.5px,#e9e9e9 492.5px,#eee 522.5px,#dbdbdb 566.5px,#c8c8c8 578.5px,#a9a9a9 586.5px,#909090 591.5px,#818181 599.5px,#808080 762.5px)"></i><i style="background:linear-gradient(90deg,#808080 0.5px,#7e7e7e 162.5px,#6e6e6e 171.5px,#494949 180.5px,#333 191.5px,#1c1c1c 222.5px,#131313 252.5px,#1c1c1c 290.5px,#434343 330.5px,#575757 371.5px,#686868 378.5px,#747474 381.5px,#999 382.5px,#a9a9a9 388.5px,#c6c6c6 430.5px,#e7e7e7 491.5px,#ececec 522.5px,#d9d9d9 565.5px,#c6c6c6 577.5px,#a6a6a6 585.5px,#8f8f8f 590.5px,#808080 599.5px,#808080 762.5px)"></i><i style="background:linear-gradient(90deg,#808080 0.5px,#7e7e7e 163.5px,#6f6f6f 172.5px,#484848 183.5px,#2f2f2f 198.5px,#141414 244.5px,#1d1d1d 290.5px,#434343 329.5px,#575757 371.5px,#676767 378.5px,#747474 381.5px,#999 382.5px,#a9a9a9 388.5px,#bebebe 418.5px,#e5e5e5 491.5px,#eaeaea 522.5px,#d7d7d7 564.5px,#c2c2c2 576.5px,#8e8e8e 589.5px,#818181 597.5px,#808080 762.5px)"></i><i style="background:linear-gradient(90deg,#808080 0.5px,#7e7e7e 165.5px,#6d6d6d 175.5px,#4e4e4e 184.5px,#333 199.5px,#191919 238.5px,#1a1a1a 278.5px,#232323 294.5px,#444 330.5px,#575757 371.5px,#676767 378.5px,#747474 381.5px,#9a9a9a 382.5px,#a9a9a9 388.5px,#bebebe 419.5px,#e4e4e4 492.5px,#e8e8e8 523.5px,#d4d4d4 563.5px,#bfbfbf 575.5px,#8b8b8b 588.5px,#808080 598.5px,#808080 762.5px)"></i><i style="background:linear-gradient(90deg,#808080 0.5px,#7e7e7e 166.5px,#6d6d6d 177.5px,#4f4f4f 187.5px,#353535 203.5px,#1a1a1a 243.5px,#1f1f1f 289.5px,#454545 330.5px,#575757 371.5px,#676767 378.5px,#747474 381.5px,#9a9a9a 382.5px,#ababab 389.5px,#e1e1e1 490.5px,#e6e6e6 523.5px,#dadada 546.5px,#d3d3d3 560.5px,#c0c0c0 572.5px,#8d8d8d 586.5px,#808080 595.5px,#808080 762.5px)"></i><i style="background:linear-gradient(90deg,#808080 0.5px,#7e7e7e 168.5px,#6c6c6c 180.5px,#4d4d4d 192.5px,#313131 212.5px,#1c1c1c 248.5px,#222 290.5px,#454545 328.5px,#585858 372.5px,#6b6b6b 379.5px,#747474 381.5px,#9b9b9b 382.5px,#a9a9a9 388.5px,#c3c3c3 433.5px,#e0e0e0 495.5px,#e2e2e2 523.5px,#cfcfcf 560.5px,#b9b9b9 572.5px,#8d8d8d 584.5px,#808080 594.5px,#808080 762.5px)"></i><i style="background:linear-gradient(90deg,#808080 0.5px,#7e7e7e 170.5px,#686868 185.5px,#5c5c5c 189.5px,#3c3c3c 208.5px,#212121 243.5px,#232323 288.5px,#474747 330.5px,#585858 372.5px,#6b6b6b 379.5px,#747474 381.5px,#9b9b9b 382.5px,#a9a9a9 388.5px,#ddd 492.5px,#dfdfdf 523.5px,#ccc 558.5px,#b4b4b4 571.5px,#8b8b8b 583.5px,#808080 594.5px,#808080 762.5px)"></i><i style="background:linear-gradient(90deg,#808080 0.5px,#7e7e7e 172.5px,#686868 189.5px,#4c4c4c 203.5px,#2e2e2e 230.5px,#232323 254.5px,#272727 290.5px,#484848 329.5px,#585858 372.5px,#6b6b6b 379.5px,#747474 381.5px,#9a9a9a 382.5px,#ababab 389.5px,#b4b4b4 415.5px,#d9d9d9 492.5px,#dbdbdb 523.5px,#c8c8c8 556.5px,#b0b0b0 569.5px,#8b8b8b 581.5px,#7f7f7f 593.5px,#808080 762.5px)"></i><i style="background:linear-gradient(90deg,#808080 0.5px,#7e7e7e 174.5px,#676767 194.5px,#5c5c5c 199.5px,#373737 227.5px,#272727 252.5px,#292929 289.5px,#4a4a4a 329.5px,#5a5a5a 373.5px,#6f6f6f 380.5px,#747474 381.5px,#9a9a9a 382.5px,#a9a9a9 388.5px,#c6c6c6 460.5px,#d5d5d5 489.5px,#d7d7d7 523.5px,#cecece 536.5px,#c9c9c9 547.5px,#b5b5b5 563.5px,#898989 580.5px,#7f7f7f 594.5px,#808080 762.5px)"></i><i style="background:linear-gradient(90deg,#808080 0.5px,#7e7e7e 176.5px,#686868 199.5px,#575757 208.5px,#434343 226.5px,#363636 237.5px,#2b2b2b 261.5px,#2d2d2d 290.5px,#4c4c4c 330.5px,#5a5a5a 373.5px,#707070 380.5px,#757575 381.5px,#999 382.5px,#a9a9a9 388.5px,#bfbfbf 452.5px,#d1d1d1 490.5px,#d1d1d1 523.5px,#c9c9c9 533.5px,#c2c2c2 547.5px,#acacac 563.5px,#8a8a8a 577.5px,#7f7f7f 591.5px,#808080 762.5px)"></i><i style="background:linear-gradient(90deg,#808080 0.5px,#7e7e7e 179.5px,#666 206.5px,#5a5a5a 213.5px,#373737 246.5px,#2e2e2e 282.5px,#4f4f4f 334.5px,#5b5b5b 373.5px,#6c6c6c 379.5px,#767676 381.5px,#999 382.5px,#a8a8a8 388.5px,#bababa 452.5px,#ccc 491.5px,#cacaca 524.5px,#c5c5c5 527.5px,#c1c1c1 538.5px,#bababa 544.5px,#b2b2b2 554.5px,#878787 577.5px,#7e7e7e 595.5px,#808080 762.5px)"></i><i style="background:linear-gradient(90deg,#808080 0.5px,#7e7e7e 182.5px,#686868 212.5px,#5b5b5b 220.5px,#585858 225.5px,#444 240.5px,#414141 247.5px,#3a3a3a 255.5px,#333 286.5px,#515151 333.5px,#5c5c5c 371.5px,#5c5c5c 374.5px,#757575 381.5px,#989898 382.5px,#a5a5a5 387.5px,#b4b4b4 437.5px,#b3b3b3 447.5px,#c6c6c6 493.5px,#c1c1c1 524.5px,#bcbcbc 527.5px,#b8b8b8 538.5px,#aeaeae 546.5px,#a3a3a3 558.5px,#909090 567.5px,#808080 585.5px,#808080 762.5px)"></i><i style="background:linear-gradient(90deg,#808080 0.5px,#7e7e7e 186.5px,#676767 221.5px,#5d5d5d 227.5px,#434343 254.5px,#393939 284.5px,#565656 337.5px,#575757 350.5px,#5e5e5e 370.5px,#5d5d5d 374.5px,#757575 381.5px,#969696 382.5px,#a4a4a4 387.5px,#aeaeae 429.5px,#aeaeae 449.5px,#bebebe 496.5px,#bababa 500.5px,#bbb 512.5px,#b8b8b8 515.5px,#b7b7b7 524.5px,#b2b2b2 528.5px,#b1b1b1 534.5px,#a9a9a9 540.5px,#a8a8a8 545.5px,#9d9d9d 553.5px,#999 558.5px,#868686 572.5px,#7e7e7e 595.5px,#808080 762.5px)"></i><i style="background:linear-gradient(90deg,#808080 0.5px,#7e7e7e 191.5px,#676767 230.5px,#5f5f5f 234.5px,#5e5e5e 238.5px,#575757 242.5px,#545454 249.5px,#4b4b4b 257.5px,#4b4b4b 262.5px,#474747 264.5px,#414141 289.5px,#565656 325.5px,#5a5a5a 350.5px,#606060 369.5px,#5e5e5e 374.5px,#757575 381.5px,#959595 382.5px,#a2a2a2 387.5px,#aaa 424.5px,#a6a6a6 442.5px,#b5b5b5 496.5px,#b1b1b1 500.5px,#b2b2b2 512.5px,#aeaeae 515.5px,#afafaf 519.5px,#a8a8a8 527.5px,#a6a6a6 535.5px,#9f9f9f 541.5px,#9e9e9e 545.5px,#939393 554.5px,#8c8c8c 565.5px,#808080 578.5px,#808080 762.5px)"></i><i style="background:linear-gradient(90deg,#808080 0.5px,#7e7e7e 196.5px,#686868 238.5px,#5c5c5c 248.5px,#545454 262.5px,#4f4f4f 267.5px,#4f4f4f 274.5px,#4b4b4b 277.5px,#4b4b4b 293.5px,#5b5b5b 329.5px,#626262 371.5px,#606060 375.5px,#777 381.5px,#939393 382.5px,#a1a1a1 388.5px,#a6a6a6 422.5px,#9f9f9f 442.5px,#aaa 497.5px,#a6a6a6 501.5px,#a8a8a8 511.5px,#a3a3a3 515.5px,#a2a2a2 525.5px,#9e9e9e 527.5px,#9c9c9c 535.5px,#979797 537.5px,#939393 549.5px,#828282 571.5px,#7e7e7e 643.5px,#808080 762.5px)"></i><i style="background:linear-gradient(90deg,#808080 0.5px,#7e7e7e 202.5px,#686868 249.5px,#5f5f5f 257.5px,#5d5d5d 265.5px,#595959 268.5px,#535353 290.5px,#5f5f5f 319.5px,#5d5d5d 324.5px,#666 369.5px,#616161 375.5px,#777 381.5px,#909090 382.5px,#9e9e9e 388.5px,#a2a2a2 418.5px,#979797 442.5px,#a0a0a0 505.5px,#9b9b9b 507.5px,#9b9b9b 519.5px,#969696 521.5px,#939393 536.5px,#7f7f7f 581.5px,#808080 762.5px)"></i><i style="background:linear-gradient(90deg,#808080 0.5px,#7e7e7e 209.5px,#676767 265.5px,#636363 268.5px,#5d5d5d 291.5px,#636363 308.5px,#616161 311.5px,#666 328.5px,#646464 333.5px,#696969 369.5px,#646464 375.5px,#787878 381.5px,#8d8d8d 382.5px,#9a9a9a 388.5px,#9f9f9f 410.5px,#8f8f8f 442.5px,#959595 506.5px,#929292 511.5px,#929292 520.5px,#7f7f7f 580.5px,#808080 762.5px)"></i><i style="background:linear-gradient(90deg,#808080 0.5px,#7e7e7e 217.5px,#676767 290.5px,#6b6b6b 308.5px,#696969 312.5px,#6d6d6d 328.5px,#6a6a6a 335.5px,#6e6e6e 367.5px,#676767 376.5px,#797979 381.5px,#8a8a8a 382.5px,#989898 390.5px,#989898 415.5px,#8b8b8b 434.5px,#8e8e8e 513.5px,#8b8b8b 518.5px,#7e7e7e 594.5px,#808080 762.5px)"></i><i style="background:linear-gradient(90deg,#808080 0.5px,#7e7e7e 226.5px,#6f6f6f 288.5px,#747474 317.5px,#717171 325.5px,#717171 369.5px,#6b6b6b 376.5px,#7a7a7a 381.5px,#878787 382.5px,#949494 391.5px,#929292 415.5px,#898989 426.5px,#858585 464.5px,#8a8a8a 508.5px,#7e7e7e 596.5px,#808080 762.5px)"></i><i style="background:linear-gradient(90deg,#808080 0.5px,#7e7e7e 236.5px,#747474 288.5px,#7a7a7a 315.5px,#757575 348.5px,#757575 369.5px,#6f6f6f 376.5px,#7b7b7b 381.5px,#868686 382.5px,#919191 395.5px,#808080 451.5px,#878787 517.5px,#7e7e7e 584.5px,#808080 762.5px)"></i><i style="background:linear-gradient(90deg,#808080 0.5px,#7d7d7d 250.5px,#797979 281.5px,#7e7e7e 318.5px,#797979 332.5px,#777 371.5px,#737373 376.5px,#7b7b7b 381.5px,#848484 382.5px,#8d8d8d 399.5px,#898989 406.5px,#7d7d7d 458.5px,#858585 518.5px,#7e7e7e 582.5px,#808080 762.5px)"></i><i style="background:linear-gradient(90deg,#808080 0.5px,#7e7e7e 292.5px,#828282 313.5px,#7a7a7a 364.5px,#797979 373.5px,#777 378.5px,#7c7c7c 381.5px,#838383 382.5px,#898989 400.5px,#808080 425.5px,#7b7b7b 468.5px,#838383 514.5px,#7e7e7e 655.5px,#808080 762.5px)"></i><i style="height:2px;background:linear-gradient(90deg,#808080 0.5px,#808080 282.5px,#868686 310.5px,#797979 377.5px,#848484 385.5px,#818181 422.5px,#777 456.5px,#828282 520.5px,#7e7e7e 739.5px,#808080 762.5px)"></i><i style="height:5px;background:linear-gradient(90deg,#808080 0.5px,#818181 276.5px,#888 311.5px,#7d7d7d 367.5px,#818181 412.5px,#767676 463.5px,#818181 518.5px,#7f7f7f 762.5px)"></i><i style="height:3px;background:linear-gradient(90deg,#808080 0.5px,#818181 293.5px,#838383 326.5px,#7e7e7e 379.5px,#818181 411.5px,#7b7b7b 474.5px,#818181 530.5px,#808080 762.5px)"></i><i style="height:40px;background:#7f7f7f"></i></div>
<div class="f c" style="left:1055px;top:795px;width:763px;height:195px"><i style="background:linear-gradient(#818181 0.5px,#898989 10.5px,#858585 93.5px,#7e7e7e 114.5px,#808080 194.5px)"></i><i style="width:2px;background:linear-gradient(#828282 0.5px,#8d8d8d 8.5px,#8a8a8a 88.5px,#7f7f7f 110.5px,#808080 194.5px)"></i><i style="background:#808080"></i><i style="width:2px;background:linear-gradient(#7f7f7f 0.5px,#7a7a7a 23.5px,#818181 190.5px,#7f7f7f 194.5px)"></i><i style="width:2px;background:linear-gradient(#808080 0.5px,#838383 78.5px,#7e7e7e 149.5px,#808080 194.5px)"></i><i style="width:2px;background:linear-gradient(#7f7f7f 0.5px,#7e7e7e 155.5px,#7f7f7f 194.5px)"></i><i style="background:linear-gradient(#808080 0.5px,#858585 21.5px,#7e7e7e 187.5px,#808080 194.5px)"></i><i style="width:2px;background:linear-gradient(#808080 0.5px,#868686 13.5px,#828282 101.5px,#7e7e7e 133.5px,#808080 194.5px)"></i><i style="width:2px;background:#808080"></i><i style="width:2px;background:linear-gradient(#808080 0.5px,#868686 14.5px,#828282 105.5px,#7e7e7e 149.5px,#808080 194.5px)"></i><i style="width:2px;background:linear-gradient(#808080 0.5px,#808080 194.5px)"></i><i style="background:#7f7f7f"></i><i style="background:linear-gradient(#7e7e7e 0.5px,#757575 9.5px,#797979 92.5px,#808080 111.5px,#7f7f7f 194.5px)"></i><i style="background:linear-gradient(#7d7d7d 0.5px,#727272 8.5px,#767676 88.5px,#808080 110.5px,#7f7f7f 194.5px)"></i><i style="background:linear-gradient(#7e7e7e 0.5px,#757575 10.5px,#797979 92.5px,#818181 114.5px,#7f7f7f 194.5px)"></i><i style="background:linear-gradient(#7d7d7d 0.5px,#727272 8.5px,#757575 88.5px,#808080 110.5px,#7f7f7f 194.5px)"></i><i style="width:2px;background:linear-gradient(#7c7c7c 0.5px,#6d6d6d 7.5px,#707070 85.5px,#808080 108.5px,#7f7f7f 194.5px)"></i><i style="width:3px;background:linear-gradient(#7d7d7d 0.5px,#707070 7.5px,#727272 86.5px,#808080 109.5px,#7f7f7f 194.5px)"></i><i style="background:linear-gradient(#7f7f7f 0.5px,#7a7a7a 24.5px,#818181 191.5px,#7f7f7f 194.5px)"></i><i style="background:linear-gradient(#808080 0.5px,#848484 31.5px,#7e7e7e 194.5px)"></i><i style="width:2px;background:linear-gradient(#7f7f7f 0.5px,#7f7f7f 194.5px)"></i><i style="background:linear-gradient(#808080 0.5px,#828282 94.5px,#7e7e7e 144.5px,#808080 194.5px)"></i><i style="width:2px;background:linear-gradient(#808080 0.5px,#868686 16.5px,#7e7e7e 180.5px,#808080 194.5px)"></i><i style="width:2px;background:linear-gradient(#818181 0.5px,#888 11.5px,#848484 95.5px,#7e7e7e 117.5px,#808080 194.5px)"></i><i style="background:#808080"></i><i style="background:linear-gradient(#7f7f7f 0.5px,#7a7a7a 23.5px,#818181 193.5px,#7f7f7f 194.5px)"></i><i style="background:#808080"></i><i style="background:linear-gradient(#808080 0.5px,#868686 13.5px,#828282 101.5px,#7e7e7e 136.5px,#808080 194.5px)"></i><i style="background:linear-gradient(#808080 0.5px,#848484 42.5px,#7e7e7e 192.5px,#808080 194.5px)"></i><i style="background:linear-gradient(#7e7e7e 0.5px,#777 11.5px,#7b7b7b 95.5px,#818181 115.5px,#7f7f7f 194.5px)"></i><i style="background:linear-gradient(#7d7d7d 0.5px,#717171 8.5px,#747474 88.5px,#808080 109.5px,#7f7f7f 194.5px)"></i><i style="width:2px;background:linear-gradient(#7d7d7d 0.5px,#707070 7.5px,#727272 86.5px,#808080 109.5px,#7f7f7f 194.5px)"></i><i style="background:linear-gradient(#7f7f7f 0.5px,#797979 14.5px,#7d7d7d 104.5px,#818181 147.5px,#7f7f7f 194.5px)"></i><i style="background:#808080"></i><i style="background:linear-gradient(#808080 0.5px,#858585 23.5px,#7e7e7e 192.5px,#808080 194.5px)"></i><i style="background:linear-gradient(#818181 0.5px,#8b8b8b 9.5px,#888 90.5px,#7f7f7f 111.5px,#808080 194.5px)"></i><i style="width:2px;background:linear-gradient(#828282 0.5px,#8d8d8d 8.5px,#898989 88.5px,#7f7f7f 110.5px,#808080 194.5px)"></i><i style="background:linear-gradient(#818181 0.5px,#8a8a8a 10.5px,#868686 92.5px,#7e7e7e 113.5px,#808080 194.5px)"></i><i style="background:linear-gradient(#808080 0.5px,#858585 21.5px,#7e7e7e 188.5px,#808080 194.5px)"></i><i style="width:3px;background:#7f7f7f"></i><i style="background:linear-gradient(#7e7e7e 0.5px,#777 10.5px,#7a7a7a 94.5px,#818181 114.5px,#7f7f7f 194.5px)"></i><i style="background:linear-gradient(#7f7f7f 0.5px,#7a7a7a 16.5px,#818181 182.5px,#7f7f7f 194.5px)"></i><i style="width:5px;background:#808080"></i><i style="background:linear-gradient(#7f7f7f 0.5px,#7d7d7d 90.5px,#818181 141.5px,#808080 194.5px)"></i><i style="width:3px;background:linear-gradient(#808080 0.5px,#818181 194.5px)"></i><i style="background:linear-gradient(#808080 0.5px,#848484 26.5px,#7e7e7e 192.5px,#808080 194.5px)"></i><i style="width:3px;background:linear-gradient(#818181 0.5px,#888 11.5px,#848484 95.5px,#7e7e7e 116.5px,#808080 194.5px)"></i><i style="background:linear-gradient(#818181 0.5px,#8c8c8c 9.5px,#888 90.5px,#7f7f7f 111.5px,#808080 194.5px)"></i><i style="background:linear-gradient(#828282 0.5px,#919191 7.5px,#8e8e8e 85.5px,#7f7f7f 109.5px,#808080 194.5px)"></i><i style="background:linear-gradient(#828282 0.5px,#8c8c8c 8.5px,#898989 89.5px,#7f7f7f 109.5px,#808080 194.5px)"></i><i style="width:3px;background:linear-gradient(#808080 0.5px,#848484 33.5px,#7e7e7e 194.5px)"></i><i style="width:4px;background:#7f7f7f"></i><i style="width:2px;background:linear-gradient(#808080 0.5px,#848484 27.5px,#7e7e7e 194.5px)"></i><i style="background:linear-gradient(#7e7e7e 0.5px,#777 11.5px,#7b7b7b 95.5px,#818181 116.5px,#808080 194.5px)"></i><i style="background:linear-gradient(#7d7d7d 0.5px,#727272 8.5px,#767676 88.5px,#808080 110.5px,#808080 194.5px)"></i><i style="background:linear-gradient(#7e7e7e 0.5px,#767676 9.5px,#797979 92.5px,#818181 112.5px,#808080 194.5px)"></i><i style="background:linear-gradient(#808080 0.5px,#858585 21.5px,#7e7e7e 192.5px,#808080 194.5px)"></i><i style="background:linear-gradient(#828282 0.5px,#909090 7.5px,#8e8e8e 86.5px,#7f7f7f 108.5px,#808080 194.5px)"></i><i style="background:linear-gradient(#828282 0.5px,#8c8c8c 8.5px,#898989 89.5px,#7f7f7f 109.5px,#808080 194.5px)"></i><i style="width:2px;background:linear-gradient(#7f7f7f 0.5px,#7a7a7a 18.5px,#818181 182.5px,#808080 194.5px)"></i><i style="background:linear-gradient(#818181 0.5px,#888 10.5px,#858585 94.5px,#7e7e7e 115.5px,#808080 194.5px)"></i><i style="background:linear-gradient(#828282 0.5px,#8e8e8e 8.5px,#8b8b8b 88.5px,#7f7f7f 109.5px,#808080 194.5px)"></i><i style="background:linear-gradient(#818181 0.5px,#888 11.5px,#848484 95.5px,#7e7e7e 118.5px,#808080 194.5px)"></i><i style="width:3px;background:#7f7f7f"></i><i style="width:2px;background:linear-gradient(#7f7f7f 0.5px,#7a7a7a 21.5px,#818181 186.5px,#808080 194.5px)"></i><i style="width:2px;background:linear-gradient(#808080 0.5px,#808080 194.5px)"></i><i style="background:#7f7f7f"></i><i style="background:linear-gradient(#7e7e7e 0.5px,#777 11.5px,#7c7c7c 96.5px,#818181 118.5px,#808080 194.5px)"></i><i style="background:linear-gradient(#7e7e7e 0.5px,#747474 9.5px,#787878 91.5px,#818181 110.5px,#808080 194.5px)"></i><i style="background:linear-gradient(#7f7f7f 0.5px,#7a7a7a 20.5px,#818181 178.5px,#808080 194.5px)"></i><i style="background:linear-gradient(#808080 0.5px,#848484 37.5px,#7e7e7e 194.5px)"></i><i style="width:2px;background:linear-gradient(#7f7f7f 0.5px,#7c7c7c 71.5px,#818181 157.5px,#7f7f7f 194.5px)"></i><i style="background:linear-gradient(#818181 0.5px,#888 11.5px,#858585 94.5px,#7f7f7f 117.5px,#808080 194.5px)"></i><i style="width:2px;background:linear-gradient(#838383 0.5px,#909090 7.5px,#8f8f8f 85.5px,#808080 109.5px,#808080 194.5px)"></i><i style="background:linear-gradient(#818181 0.5px,#888 12.5px,#858585 95.5px,#7f7f7f 119.5px,#808080 194.5px)"></i><i style="width:2px;background:linear-gradient(#7f7f7f 0.5px,#7a7a7a 17.5px,#818181 158.5px,#7f7f7f 194.5px)"></i><i style="background:linear-gradient(#828282 0.5px,#8d8d8d 8.5px,#8b8b8b 87.5px,#808080 111.5px,#808080 194.5px)"></i><i style="background:linear-gradient(#838383 0.5px,#919191 7.5px,#919191 84.5px,#818181 109.5px,#808080 194.5px)"></i><i style="background:linear-gradient(#818181 0.5px,#868686 23.5px,#838383 108.5px,#7e7e7e 178.5px,#808080 194.5px)"></i><i style="width:4px;background:linear-gradient(#808080 0.5px,#7c7c7c 19.5px,#828282 139.5px,#7f7f7f 194.5px)"></i><i style="background:linear-gradient(#808080 0.5px,#828282 150.5px,#7f7f7f 194.5px)"></i><i style="background:linear-gradient(#828282 0.5px,#888 23.5px,#878787 95.5px,#808080 132.5px,#808080 194.5px)"></i><i style="width:3px;background:linear-gradient(#828282 0.5px,#8a8a8a 12.5px,#8c8c8c 87.5px,#828282 118.5px,#808080 194.5px)"></i><i style="background:linear-gradient(#828282 0.5px,#898989 86.5px,#7e7e7e 177.5px,#808080 194.5px)"></i><i style="background:linear-gradient(#808080 0.5px,#7a7a7a 11.5px,#868686 107.5px,#7e7e7e 190.5px,#808080 194.5px)"></i><i style="background:linear-gradient(#7f7f7f 0.5px,#737373 7.5px,#7e7e7e 92.5px,#868686 107.5px,#7e7e7e 194.5px)"></i><i style="background:linear-gradient(#808080 0.5px,#757575 8.5px,#838383 97.5px,#878787 112.5px,#7e7e7e 183.5px,#808080 194.5px)"></i><i style="background:linear-gradient(#828282 0.5px,#818181 21.5px,#8a8a8a 73.5px,#7e7e7e 194.5px)"></i><i style="background:linear-gradient(#838383 0.5px,#8f8f8f 76.5px,#7f7f7f 170.5px,#808080 194.5px)"></i><i style="background:linear-gradient(#848484 0.5px,#8d8d8d 19.5px,#949494 80.5px,#828282 139.5px,#808080 194.5px)"></i><i style="background:linear-gradient(#858585 0.5px,#8f8f8f 9.5px,#9b9b9b 74.5px,#848484 129.5px,#7f7f7f 194.5px)"></i><i style="width:2px;background:linear-gradient(#868686 0.5px,#929292 8.5px,#a0a0a0 72.5px,#929292 102.5px,#878787 122.5px,#7f7f7f 194.5px)"></i><i style="background:linear-gradient(#868686 0.5px,#909090 11.5px,#9e9e9e 72.5px,#838383 140.5px,#808080 194.5px)"></i><i style="background:linear-gradient(#858585 0.5px,#989898 69.5px,#7f7f7f 167.5px,#808080 194.5px)"></i><i style="width:3px;background:linear-gradient(#848484 0.5px,#818181 11.5px,#939393 64.5px,#8e8e8e 116.5px,#818181 156.5px,#808080 194.5px)"></i><i style="background:linear-gradient(#858585 0.5px,#808080 10.5px,#959595 63.5px,#919191 114.5px,#828282 153.5px,#808080 194.5px)"></i><i style="background:linear-gradient(#868686 0.5px,#858585 13.5px,#9a9a9a 61.5px,#939393 111.5px,#828282 152.5px,#808080 194.5px)"></i><i style="background:linear-gradient(#878787 0.5px,#949494 35.5px,#a0a0a0 60.5px,#9a9a9a 101.5px,#838383 150.5px,#808080 194.5px)"></i><i style="background:linear-gradient(#888 0.5px,#a3a3a3 66.5px,#999 107.5px,#848484 147.5px,#808080 194.5px)"></i><i style="width:2px;background:linear-gradient(#878787 0.5px,#858585 11.5px,#9f9f9f 60.5px,#999 107.5px,#848484 150.5px,#808080 194.5px)"></i><i style="background:linear-gradient(#898989 0.5px,#8d8d8d 18.5px,#a5a5a5 58.5px,#a1a1a1 95.5px,#848484 151.5px,#808080 194.5px)"></i><i style="background:linear-gradient(#8b8b8b 0.5px,#aeaeae 59.5px,#ababab 88.5px,#878787 143.5px,#7f7f7f 194.5px)"></i><i style="width:2px;background:linear-gradient(#8c8c8c 0.5px,#b0b0b0 52.5px,#b3b3b3 80.5px,#878787 145.5px,#7f7f7f 194.5px)"></i><i style="background:linear-gradient(#8b8b8b 0.5px,#b0b0b0 61.5px,#acacac 91.5px,#878787 147.5px,#7f7f7f 194.5px)"></i><i style="background:linear-gradient(#8c8c8c 0.5px,#b4b4b4 59.5px,#b1b1b1 86.5px,#878787 146.5px,#7f7f7f 194.5px)"></i><i style="background:linear-gradient(#8e8e8e 0.5px,#9e9e9e 14.5px,#bdbdbd 60.5px,#bbb 84.5px,#8e8e8e 136.5px,#808080 181.5px,#808080 194.5px)"></i><i style="background:linear-gradient(#8f8f8f 0.5px,#9e9e9e 10.5px,#c3c3c3 59.5px,#c1c1c1 83.5px,#929292 130.5px,#818181 171.5px,#808080 194.5px)"></i><i style="width:2px;background:linear-gradient(#909090 0.5px,#9f9f9f 10.5px,#c5c5c5 59.5px,#c3c3c3 82.5px,#919191 133.5px,#818181 174.5px,#808080 194.5px)"></i><i style="width:2px;background:linear-gradient(#8e8e8e 0.5px,#bcbcbc 57.5px,#bcbcbc 82.5px,#8a8a8a 145.5px,#7f7f7f 194.5px)"></i><i style="width:4px;background:linear-gradient(#8f8f8f 0.5px,#c0c0c0 57.5px,#bfbfbf 82.5px,#8b8b8b 144.5px,#7f7f7f 191.5px,#808080 194.5px)"></i><i style="background:linear-gradient(#8e8e8e 0.5px,#a7a7a7 33.5px,#bababa 55.5px,#bcbcbc 81.5px,#888 149.5px,#7f7f7f 194.5px)"></i><i style="width:3px;background:linear-gradient(#8e8e8e 0.5px,#999 20.5px,#b7b7b7 54.5px,#bababa 80.5px,#a2a2a2 116.5px,#8b8b8b 142.5px,#7f7f7f 188.5px,#808080 194.5px)"></i><i style="width:2px;background:linear-gradient(#8e8e8e 0.5px,#bcbcbc 59.5px,#bbb 85.5px,#898989 146.5px,#7f7f7f 194.5px)"></i><i style="width:3px;background:linear-gradient(#8f8f8f 0.5px,#bfbfbf 57.5px,#bfbfbf 82.5px,#8b8b8b 144.5px,#7f7f7f 192.5px,#808080 194.5px)"></i><i style="background:linear-gradient(#8e8e8e 0.5px,#bcbcbc 58.5px,#bababa 84.5px,#898989 145.5px,#7f7f7f 194.5px)"></i><i style="background:linear-gradient(#8d8d8d 0.5px,#b9b9b9 59.5px,#b7b7b7 85.5px,#898989 146.5px,#7f7f7f 194.5px)"></i><i style="width:2px;background:linear-gradient(#8c8c8c 0.5px,#a3a3a3 35.5px,#b3b3b3 56.5px,#b3b3b3 84.5px,#878787 149.5px,#808080 194.5px)"></i><i style="width:3px;background:linear-gradient(#8c8c8c 0.5px,#b3b3b3 60.5px,#b0b0b0 88.5px,#878787 146.5px,#7f7f7f 194.5px)"></i><i style="background:linear-gradient(#8b8b8b 0.5px,#afafaf 61.5px,#ababab 91.5px,#878787 146.5px,#7f7f7f 194.5px)"></i><i style="width:2px;background:linear-gradient(#8a8a8a 0.5px,#ababab 63.5px,#a5a5a5 96.5px,#868686 147.5px,#808080 194.5px)"></i><i style="background:linear-gradient(#898989 0.5px,#929292 24.5px,#a6a6a6 57.5px,#a3a3a3 91.5px,#848484 152.5px,#808080 194.5px)"></i><i style="width:3px;background:linear-gradient(#888 0.5px,#8d8d8d 20.5px,#a2a2a2 59.5px,#9d9d9d 99.5px,#838383 151.5px,#808080 194.5px)"></i><i style="background:linear-gradient(#878787 0.5px,#939393 34.5px,#a0a0a0 61.5px,#999 102.5px,#838383 150.5px,#808080 194.5px)"></i><i style="background:linear-gradient(#868686 0.5px,#878787 16.5px,#9b9b9b 60.5px,#959595 109.5px,#838383 150.5px,#808080 194.5px)"></i><i style="background:linear-gradient(#858585 0.5px,#838383 11.5px,#979797 63.5px,#919191 114.5px,#828282 152.5px,#808080 194.5px)"></i><i style="background:linear-gradient(#868686 0.5px,#8a8a8a 23.5px,#999 62.5px,#919191 112.5px,#828282 152.5px,#808080 194.5px)"></i><i style="background:linear-gradient(#868686 0.5px,#9d9d9d 64.5px,#959595 103.5px,#838383 145.5px,#808080 194.5px)"></i><i style="background:linear-gradient(#858585 0.5px,#9a9a9a 69.5px,#808080 167.5px,#808080 194.5px)"></i><i style="background:linear-gradient(#848484 0.5px,#828282 14.5px,#929292 65.5px,#8c8c8c 120.5px,#808080 160.5px,#808080 194.5px)"></i><i style="width:2px;background:linear-gradient(#838383 0.5px,#828282 15.5px,#909090 66.5px,#898989 124.5px,#808080 163.5px,#808080 194.5px)"></i><i style="background:linear-gradient(#848484 0.5px,#939393 73.5px,#7f7f7f 170.5px,#808080 194.5px)"></i><i style="width:3px;background:linear-gradient(#838383 0.5px,#8f8f8f 78.5px,#7f7f7f 174.5px,#808080 194.5px)"></i><i style="background:linear-gradient(#828282 0.5px,#818181 20.5px,#8a8a8a 73.5px,#7f7f7f 194.5px)"></i><i style="background:linear-gradient(#828282 0.5px,#8d8d8d 78.5px,#7f7f7f 170.5px,#808080 194.5px)"></i><i style="width:3px;background:linear-gradient(#838383 0.5px,#8b8b8b 11.5px,#909090 83.5px,#838383 122.5px,#808080 194.5px)"></i><i style="background:linear-gradient(#838383 0.5px,#8b8b8b 11.5px,#8e8e8e 85.5px,#828282 119.5px,#808080 194.5px)"></i><i style="background:linear-gradient(#828282 0.5px,#898989 15.5px,#8b8b8b 89.5px,#818181 121.5px,#808080 194.5px)"></i><i style="width:2px;background:linear-gradient(#818181 0.5px,#898989 61.5px,#7e7e7e 181.5px,#808080 194.5px)"></i><i style="width:2px;background:linear-gradient(#818181 0.5px,#848484 108.5px,#7e7e7e 194.5px)"></i><i style="background:linear-gradient(#808080 0.5px,#828282 138.5px,#7f7f7f 194.5px)"></i><i style="width:2px;background:linear-gradient(#808080 0.5px,#7b7b7b 17.5px,#828282 142.5px,#7f7f7f 194.5px)"></i><i style="background:linear-gradient(#818181 0.5px,#878787 18.5px,#848484 99.5px,#7f7f7f 136.5px,#808080 194.5px)"></i><i style="background:linear-gradient(#828282 0.5px,#8e8e8e 8.5px,#8d8d8d 86.5px,#808080 111.5px,#808080 194.5px)"></i><i style="background:linear-gradient(#828282 0.5px,#8b8b8b 9.5px,#898989 89.5px,#808080 112.5px,#808080 194.5px)"></i><i style="background:linear-gradient(#818181 0.5px,#868686 24.5px,#7f7f7f 194.5px)"></i><i style="width:2px;background:linear-gradient(#808080 0.5px,#808080 194.5px)"></i><i style="background:linear-gradient(#7f7f7f 0.5px,#7c7c7c 33.5px,#818181 176.5px,#808080 194.5px)"></i><i style="background:linear-gradient(#7e7e7e 0.5px,#777 11.5px,#7c7c7c 96.5px,#818181 118.5px,#7f7f7f 194.5px)"></i><i style="width:2px;background:linear-gradient(#7e7e7e 0.5px,#747474 9.5px,#787878 91.5px,#818181 110.5px,#808080 194.5px)"></i><i style="background:linear-gradient(#7e7e7e 0.5px,#767676 9.5px,#7a7a7a 92.5px,#818181 113.5px,#808080 194.5px)"></i><i style="background:linear-gradient(#7e7e7e 0.5px,#737373 8.5px,#777 89.5px,#818181 111.5px,#808080 194.5px)"></i><i style="width:2px;background:linear-gradient(#7d7d7d 0.5px,#717171 8.5px,#757575 88.5px,#808080 109.5px,#808080 194.5px)"></i><i style="background:linear-gradient(#7f7f7f 0.5px,#787878 13.5px,#7d7d7d 101.5px,#818181 134.5px,#7f7f7f 194.5px)"></i><i style="background:linear-gradient(#808080 0.5px,#858585 17.5px,#7e7e7e 189.5px,#808080 194.5px)"></i><i style="width:2px;background:linear-gradient(#818181 0.5px,#888 10.5px,#858585 94.5px,#7e7e7e 114.5px,#808080 194.5px)"></i><i style="background:linear-gradient(#808080 0.5px,#848484 27.5px,#7e7e7e 194.5px)"></i><i style="background:linear-gradient(#7f7f7f 0.5px,#7c7c7c 52.5px,#818181 181.5px,#808080 194.5px)"></i><i style="background:linear-gradient(#7e7e7e 0.5px,#787878 12.5px,#7d7d7d 99.5px,#818181 125.5px,#808080 194.5px)"></i><i style="background:linear-gradient(#7f7f7f 0.5px,#7b7b7b 48.5px,#818181 185.5px,#808080 194.5px)"></i><i style="width:4px;background:#808080"></i><i style="width:4px;background:linear-gradient(#7f7f7f 0.5px,#7b7b7b 33.5px,#818181 194.5px)"></i><i style="width:2px;background:linear-gradient(#808080 0.5px,#808080 194.5px)"></i><i style="width:10px;background:linear-gradient(#808080 0.5px,#818181 194.5px)"></i><i style="width:18px;background:#7f7f7f"></i><i style="width:5px;background:linear-gradient(#808080 0.5px,#7d7d7d 127.5px,#818181 170.5px,#7f7f7f 194.5px)"></i><i style="width:6px;background:linear-gradient(#808080 0.5px,#7d7d7d 91.5px,#797979 109.5px,#818181 149.5px,#7f7f7f 194.5px)"></i><i style="width:7px;background:linear-gradient(#808080 0.5px,#7d7d7d 80.5px,#777 102.5px,#818181 139.5px,#7f7f7f 194.5px)"></i><i style="width:2px;background:linear-gradient(#7f7f7f 0.5px,#7d7d7d 79.5px,#787878 100.5px,#818181 136.5px,#7f7f7f 194.5px)"></i><i style="background:linear-gradient(#7f7f7f 0.5px,#7d7d7d 73.5px,#747474 96.5px,#808080 133.5px,#7f7f7f 194.5px)"></i><i style="background:linear-gradient(#7f7f7f 0.5px,#7d7d7d 76.5px,#777 98.5px,#818181 134.5px,#7f7f7f 194.5px)"></i><i style="width:2px;background:linear-gradient(#7f7f7f 0.5px,#7c7c7c 86.5px,#7b7b7b 105.5px,#818181 138.5px,#7f7f7f 194.5px)"></i><i style="width:2px;background:linear-gradient(#7f7f7f 0.5px,#7d7d7d 70.5px,#757575 94.5px,#818181 131.5px,#7f7f7f 194.5px)"></i><i style="background:linear-gradient(#7f7f7f 0.5px,#7d7d7d 66.5px,#737373 92.5px,#808080 128.5px,#7f7f7f 194.5px)"></i><i style="background:linear-gradient(#808080 0.5px,#7d7d7d 57.5px,#686868 89.5px,#7f7f7f 124.5px,#7f7f7f 194.5px)"></i><i style="background:linear-gradient(#808080 0.5px,#7d7d7d 54.5px,#626262 87.5px,#6d6d6d 103.5px,#7c7c7c 117.5px,#818181 185.5px,#7f7f7f 194.5px)"></i><i style="background:linear-gradient(#808080 0.5px,#7d7d7d 56.5px,#6a6a6a 88.5px,#7f7f7f 123.5px,#7f7f7f 194.5px)"></i><i style="width:2px;background:linear-gradient(#7f7f7f 0.5px,#7c7c7c 60.5px,#717171 87.5px,#808080 126.5px,#7f7f7f 194.5px)"></i><i style="background:linear-gradient(#7f7f7f 0.5px,#7c7c7c 64.5px,#757575 89.5px,#818181 127.5px,#7f7f7f 194.5px)"></i><i style="width:2px;background:linear-gradient(#7f7f7f 0.5px,#7c7c7c 103.5px,#818181 142.5px,#7f7f7f 194.5px)"></i><i style="background:linear-gradient(#7f7f7f 0.5px,#7c7c7c 54.5px,#6f6f6f 83.5px,#808080 123.5px,#7f7f7f 194.5px)"></i><i style="background:linear-gradient(#7f7f7f 0.5px,#7c7c7c 48.5px,#686868 81.5px,#7f7f7f 120.5px,#7f7f7f 194.5px)"></i><i style="background:linear-gradient(#7f7f7f 0.5px,#7c7c7c 46.5px,#656565 80.5px,#737373 102.5px,#7e7e7e 116.5px,#7f7f7f 194.5px)"></i><i style="background:linear-gradient(#7f7f7f 0.5px,#7c7c7c 46.5px,#686868 79.5px,#7f7f7f 119.5px,#7f7f7f 194.5px)"></i><i style="background:linear-gradient(#7f7f7f 0.5px,#7c7c7c 43.5px,#636363 77.5px,#6d6d6d 95.5px,#7c7c7c 111.5px,#818181 185.5px,#7f7f7f 194.5px)"></i><i style="background:linear-gradient(#7f7f7f 0.5px,#7c7c7c 40.5px,#5e5e5e 76.5px,#686868 93.5px,#7b7b7b 109.5px,#818181 151.5px,#7f7f7f 194.5px)"></i><i style="background:linear-gradient(#7f7f7f 0.5px,#7c7c7c 44.5px,#696969 76.5px,#808080 119.5px,#7f7f7f 194.5px)"></i><i style="background:linear-gradient(#7f7f7f 0.5px,#7b7b7b 51.5px,#727272 78.5px,#808080 121.5px,#7f7f7f 194.5px)"></i><i style="background:linear-gradient(#7f7f7f 0.5px,#7b7b7b 47.5px,#6f6f6f 75.5px,#808080 121.5px,#7f7f7f 194.5px)"></i><i style="background:linear-gradient(#7f7f7f 0.5px,#7b7b7b 42.5px,#696969 73.5px,#808080 118.5px,#7f7f7f 194.5px)"></i><i style="background:linear-gradient(#7f7f7f 0.5px,#7b7b7b 39.5px,#666 71.5px,#727272 95.5px,#7e7e7e 111.5px,#808080 194.5px)"></i><i style="width:2px;background:linear-gradient(#7f7f7f 0.5px,#7b7b7b 40.5px,#6b6b6b 70.5px,#808080 118.5px,#7f7f7f 194.5px)"></i><i style="background:linear-gradient(#7f7f7f 0.5px,#7a7a7a 34.5px,#616161 67.5px,#6b6b6b 88.5px,#7c7c7c 106.5px,#818181 170.5px,#7f7f7f 194.5px)"></i><i style="background:linear-gradient(#7f7f7f 0.5px,#7a7a7a 29.5px,#575757 65.5px,#5e5e5e 81.5px,#797979 105.5px,#818181 145.5px,#7f7f7f 194.5px)"></i><i style="background:linear-gradient(#7f7f7f 0.5px,#7a7a7a 33.5px,#636363 64.5px,#6c6c6c 85.5px,#7d7d7d 107.5px,#808080 194.5px)"></i><i style="width:2px;background:linear-gradient(#7f7f7f 0.5px,#797979 81.5px,#818181 124.5px,#7f7f7f 194.5px)"></i><i style="background:linear-gradient(#7f7f7f 0.5px,#797979 43.5px,#717171 64.5px,#808080 120.5px,#7f7f7f 194.5px)"></i><i style="background:linear-gradient(#7f7f7f 0.5px,#787878 34.5px,#696969 60.5px,#808080 117.5px,#7f7f7f 194.5px)"></i><i style="background:linear-gradient(#7f7f7f 0.5px,#787878 28.5px,#616161 58.5px,#6b6b6b 81.5px,#7b7b7b 103.5px,#818181 173.5px,#7f7f7f 194.5px)"></i><i style="width:2px;background:linear-gradient(#7f7f7f 0.5px,#777 24.5px,#595959 55.5px,#606060 73.5px,#797979 101.5px,#818181 147.5px,#7f7f7f 194.5px)"></i><i style="background:linear-gradient(#7f7f7f 0.5px,#767676 25.5px,#5f5f5f 53.5px,#656565 73.5px,#7a7a7a 100.5px,#818181 153.5px,#7f7f7f 194.5px)"></i><i style="width:2px;background:linear-gradient(#7f7f7f 0.5px,#757575 29.5px,#666 52.5px,#707070 80.5px,#7d7d7d 104.5px,#808080 194.5px)"></i><i style="background:linear-gradient(#7f7f7f 0.5px,#747474 26.5px,#626262 50.5px,#6c6c6c 75.5px,#7b7b7b 100.5px,#818181 170.5px,#7f7f7f 194.5px)"></i><i style="background:linear-gradient(#7f7f7f 0.5px,#747474 23.5px,#5f5f5f 48.5px,#666 69.5px,#787878 95.5px,#818181 144.5px,#7f7f7f 194.5px)"></i><i style="background:linear-gradient(#7f7f7f 0.5px,#737373 25.5px,#626262 47.5px,#6a6a6a 71.5px,#797979 94.5px,#818181 148.5px,#7f7f7f 194.5px)"></i><i style="background:linear-gradient(#7f7f7f 0.5px,#717171 28.5px,#646464 46.5px,#6e6e6e 73.5px,#7b7b7b 98.5px,#818181 169.5px,#7f7f7f 194.5px)"></i><i style="background:linear-gradient(#7f7f7f 0.5px,#707070 26.5px,#626262 45.5px,#6c6c6c 72.5px,#7a7a7a 95.5px,#818181 154.5px,#7f7f7f 194.5px)"></i><i style="background:linear-gradient(#7f7f7f 0.5px,#656565 47.5px,#7d7d7d 105.5px,#808080 194.5px)"></i><i style="background:linear-gradient(#7f7f7f 0.5px,#6d6d6d 48.5px,#7e7e7e 105.5px,#7f7f7f 194.5px)"></i><i style="background:linear-gradient(#7f7f7f 0.5px,#737373 50.5px,#808080 109.5px,#7f7f7f 194.5px)"></i><i style="background:linear-gradient(#7f7f7f 0.5px,#777 53.5px,#808080 115.5px,#7f7f7f 194.5px)"></i><i style="width:2px;background:linear-gradient(#7f7f7f 0.5px,#7e7e7e 131.5px,#808080 194.5px)"></i><i style="background:linear-gradient(#7f7f7f 0.5px,#6d6d6d 39.5px,#7e7e7e 103.5px,#7f7f7f 194.5px)"></i><i style="width:2px;background:linear-gradient(#7e7e7e 0.5px,#646464 33.5px,#6d6d6d 60.5px,#777 82.5px,#818181 149.5px,#7f7f7f 194.5px)"></i><i style="background:linear-gradient(#7e7e7e 0.5px,#626262 29.5px,#666 49.5px,#757575 75.5px,#818181 143.5px,#7f7f7f 194.5px)"></i><i style="background:linear-gradient(#7e7e7e 0.5px,#656565 28.5px,#696969 50.5px,#767676 74.5px,#818181 146.5px,#7f7f7f 194.5px)"></i><i style="background:linear-gradient(#7e7e7e 0.5px,#6f6f6f 32.5px,#7d7d7d 93.5px,#808080 194.5px)"></i><i style="background:linear-gradient(#7f7f7f 0.5px,#7a7a7a 46.5px,#818181 124.5px,#7f7f7f 194.5px)"></i><i style="background:linear-gradient(#7e7e7e 0.5px,#717171 31.5px,#7d7d7d 89.5px,#808080 194.5px)"></i><i style="background:linear-gradient(#7d7d7d 0.5px,#626262 23.5px,#666 43.5px,#747474 67.5px,#818181 145.5px,#7f7f7f 194.5px)"></i><i style="background:linear-gradient(#7b7b7b 0.5px,#575757 20.5px,#555 34.5px,#6e6e6e 65.5px,#808080 136.5px,#7f7f7f 194.5px)"></i><i style="background:linear-gradient(#7b7b7b 0.5px,#545454 19.5px,#525252 32.5px,#6c6c6c 63.5px,#808080 135.5px,#7f7f7f 194.5px)"></i><i style="background:linear-gradient(#7c7c7c 0.5px,#5e5e5e 20.5px,#626262 38.5px,#727272 62.5px,#818181 144.5px,#7f7f7f 194.5px)"></i><i style="background:linear-gradient(#7e7e7e 0.5px,#737373 25.5px,#7d7d7d 81.5px,#808080 194.5px)"></i><i style="background:linear-gradient(#7f7f7f 0.5px,#7b7b7b 39.5px,#818181 116.5px,#7f7f7f 194.5px)"></i><i style="background:linear-gradient(#7e7e7e 0.5px,#6f6f6f 21.5px,#7b7b7b 74.5px,#818181 194.5px)"></i><i style="background:linear-gradient(#7c7c7c 0.5px,#666 17.5px,#6c6c6c 40.5px,#767676 61.5px,#818181 157.5px,#7f7f7f 194.5px)"></i><i style="background:linear-gradient(#7c7c7c 0.5px,#646464 16.5px,#696969 36.5px,#757575 57.5px,#7c7c7c 115.5px,#818181 147.5px,#7f7f7f 194.5px)"></i><i style="background:linear-gradient(#7c7c7c 0.5px,#676767 16.5px,#787878 66.5px,#7c7c7c 110.5px,#818181 143.5px,#7f7f7f 194.5px)"></i><i style="background:linear-gradient(#7d7d7d 0.5px,#6e6e6e 17.5px,#7b7b7b 66.5px,#818181 194.5px)"></i><i style="background:linear-gradient(#7e7e7e 0.5px,#727272 17.5px,#7c7c7c 69.5px,#808080 194.5px)"></i><i style="background:linear-gradient(#7d7d7d 0.5px,#6e6e6e 15.5px,#7b7b7b 65.5px,#7d7d7d 117.5px,#818181 166.5px,#7f7f7f 194.5px)"></i><i style="background:linear-gradient(#7c7c7c 0.5px,#6b6b6b 13.5px,#797979 63.5px,#7c7c7c 109.5px,#818181 141.5px,#7f7f7f 194.5px)"></i><i style="width:2px;background:linear-gradient(#7a7a7a 0.5px,#676767 12.5px,#767676 58.5px,#7a7a7a 103.5px,#818181 131.5px,#7f7f7f 194.5px)"></i><i style="background:linear-gradient(#797979 0.5px,#676767 11.5px,#757575 60.5px,#787878 98.5px,#808080 127.5px,#7f7f7f 194.5px)"></i><i style="background:linear-gradient(#777 0.5px,#666 9.5px,#666 22.5px,#707070 45.5px,#767676 96.5px,#808080 123.5px,#7f7f7f 194.5px)"></i><i style="background:linear-gradient(#747474 0.5px,#636363 7.5px,#5e5e5e 18.5px,#6a6a6a 45.5px,#6f6f6f 91.5px,#808080 120.5px,#7f7f7f 194.5px)"></i><i style="background:linear-gradient(#707070 0.5px,#5e5e5e 5.5px,#535353 16.5px,#606060 43.5px,#656565 88.5px,#808080 122.5px,#7f7f7f 194.5px)"></i><i style="background:linear-gradient(#6c6c6c 0.5px,#575757 4.5px,#4a4a4a 15.5px,#545454 46.5px,#565656 76.5px,#5f5f5f 94.5px,#7f7f7f 124.5px,#7f7f7f 194.5px)"></i><i style="background:linear-gradient(#646464 0.5px,#4a4a4a 4.5px,#3d3d3d 16.5px,#464646 56.5px,#4b4b4b 89.5px,#686868 114.5px,#7c7c7c 122.5px,#818181 144.5px,#7f7f7f 194.5px)"></i><i style="background:linear-gradient(#4f4f4f 0.5px,#373737 3.5px,#2d2d2d 7.5px,#252525 18.5px,#2d2d2d 43.5px,#2e2e2e 70.5px,#363636 92.5px,#515151 113.5px,#7a7a7a 125.5px,#818181 132.5px,#7f7f7f 194.5px)"></i><i style="background:linear-gradient(#2e2e2e 0.5px,#171717 3.5px,#0b0b0b 9.5px,#090909 19.5px,#121212 41.5px,#151515 83.5px,#2d2d2d 109.5px,#3a3a3a 115.5px,#727272 127.5px,#7e7e7e 129.5px,#878787 145.5px,#7e7e7e 174.5px,#7f7f7f 194.5px)"></i><i style="background:linear-gradient(#0c0c0c 0.5px,#010101 2.5px,#010101 91.5px,#161616 114.5px,#363636 123.5px,#484848 126.5px,#7f7f7f 131.5px,#8c8c8c 140.5px,#8e8e8e 150.5px,#7f7f7f 165.5px,#7f7f7f 194.5px)"></i><i style="background:linear-gradient(#000 0.5px,#010101 119.5px,#141414 126.5px,#242424 128.5px,#3e3e3e 130.5px,#7d7d7d 133.5px,#888 134.5px,#9a9a9a 145.5px,#8f8f8f 155.5px,#828282 162.5px,#7f7f7f 194.5px)"></i><i style="background:linear-gradient(#000 0.5px,#000 132.5px,#040404 133.5px,#101010 134.5px,#353535 135.5px,#8f8f8f 136.5px,#a0a0a0 145.5px,#969696 153.5px,#848484 161.5px,#7e7e7e 179.5px,#7f7f7f 194.5px)"></i><i style="background:linear-gradient(#000 0.5px,#010101 126.5px,#121212 129.5px,#2a2a2a 131.5px,#404040 132.5px,#7d7d7d 134.5px,#8c8c8c 135.5px,#9e9e9e 145.5px,#939393 154.5px,#848484 161.5px,#7e7e7e 182.5px,#7f7f7f 194.5px)"></i><i style="background:linear-gradient(#080808 0.5px,#000 3.5px,#020202 100.5px,#0d0d0d 115.5px,#252525 123.5px,#353535 126.5px,#4a4a4a 128.5px,#767676 131.5px,#808080 132.5px,#878787 134.5px,#949494 146.5px,#7f7f7f 166.5px,#7f7f7f 194.5px)"></i><i style="background:linear-gradient(#262626 0.5px,#131313 3.5px,#070707 12.5px,#131313 92.5px,#2a2a2a 114.5px,#555 124.5px,#696969 127.5px,#7a7a7a 129.5px,#838383 132.5px,#898989 149.5px,#7e7e7e 168.5px,#7f7f7f 194.5px)"></i><i style="background:linear-gradient(#434343 0.5px,#2c2c2c 3.5px,#202020 8.5px,#1b1b1b 19.5px,#232323 41.5px,#252525 76.5px,#2d2d2d 93.5px,#464646 113.5px,#7f7f7f 128.5px,#838383 154.5px,#7e7e7e 176.5px,#7f7f7f 194.5px)"></i><i style="background:linear-gradient(#5c5c5c 0.5px,#414141 4.5px,#343434 16.5px,#3c3c3c 48.5px,#424242 89.5px,#616161 114.5px,#797979 122.5px,#818181 132.5px,#7f7f7f 194.5px)"></i><i style="background:linear-gradient(#6e6e6e 0.5px,#5a5a5a 4.5px,#4e4e4e 17.5px,#595959 90.5px,#727272 115.5px,#7e7e7e 121.5px,#808080 194.5px)"></i><i style="background:linear-gradient(#757575 0.5px,#656565 5.5px,#5c5c5c 19.5px,#646464 64.5px,#676767 91.5px,#808080 124.5px,#7f7f7f 194.5px)"></i><i style="background:linear-gradient(#757575 0.5px,#666 6.5px,#5f5f5f 18.5px,#696969 45.5px,#6e6e6e 90.5px,#808080 121.5px,#7f7f7f 194.5px)"></i><i style="background:linear-gradient(#777 0.5px,#676767 9.5px,#666 23.5px,#707070 46.5px,#757575 95.5px,#808080 122.5px,#7f7f7f 194.5px)"></i><i style="width:2px;background:linear-gradient(#7c7c7c 0.5px,#707070 14.5px,#7a7a7a 65.5px,#7c7c7c 107.5px,#818181 144.5px,#7f7f7f 194.5px)"></i><i style="width:2px;background:linear-gradient(#7c7c7c 0.5px,#6c6c6c 13.5px,#797979 61.5px,#7c7c7c 109.5px,#818181 144.5px,#7f7f7f 194.5px)"></i><i style="background:linear-gradient(#7c7c7c 0.5px,#6a6a6a 13.5px,#797979 64.5px,#7b7b7b 106.5px,#818181 140.5px,#7f7f7f 194.5px)"></i><i style="background:linear-gradient(#7b7b7b 0.5px,#636363 13.5px,#676767 30.5px,#737373 50.5px,#7b7b7b 110.5px,#818181 139.5px,#7f7f7f 194.5px)"></i><i style="background:linear-gradient(#7a7a7a 0.5px,#5d5d5d 14.5px,#616161 30.5px,#707070 50.5px,#7a7a7a 108.5px,#808080 131.5px,#7f7f7f 194.5px)"></i><i style="background:linear-gradient(#7b7b7b 0.5px,#5f5f5f 15.5px,#656565 33.5px,#727272 53.5px,#7a7a7a 109.5px,#818181 134.5px,#7f7f7f 194.5px)"></i><i style="background:linear-gradient(#7c7c7c 0.5px,#636363 16.5px,#6b6b6b 39.5px,#757575 58.5px,#7b7b7b 109.5px,#818181 139.5px,#7f7f7f 194.5px)"></i><i style="background:linear-gradient(#7c7c7c 0.5px,#676767 18.5px,#787878 68.5px,#7c7c7c 112.5px,#818181 145.5px,#7f7f7f 194.5px)"></i><i style="width:2px;background:linear-gradient(#7d7d7d 0.5px,#6a6a6a 20.5px,#7a7a7a 72.5px,#818181 174.5px,#7f7f7f 194.5px)"></i><i style="background:linear-gradient(#7d7d7d 0.5px,#6d6d6d 22.5px,#7b7b7b 76.5px,#818181 187.5px,#7f7f7f 194.5px)"></i><i style="width:2px;background:linear-gradient(#7e7e7e 0.5px,#6f6f6f 24.5px,#7c7c7c 81.5px,#818181 194.5px)"></i><i style="background:linear-gradient(#7d7d7d 0.5px,#6a6a6a 23.5px,#7a7a7a 84.5px,#818181 169.5px,#7f7f7f 194.5px)"></i><i style="width:3px;background:linear-gradient(#7d7d7d 0.5px,#676767 25.5px,#707070 55.5px,#787878 76.5px,#818181 157.5px,#7f7f7f 194.5px)"></i><i style="background:linear-gradient(#7d7d7d 0.5px,#5e5e5e 25.5px,#606060 43.5px,#727272 70.5px,#818181 140.5px,#7f7f7f 194.5px)"></i><i style="background:linear-gradient(#7d7d7d 0.5px,#5b5b5b 25.5px,#595959 41.5px,#707070 72.5px,#818181 136.5px,#7f7f7f 194.5px)"></i><i style="background:linear-gradient(#7d7d7d 0.5px,#5c5c5c 27.5px,#5c5c5c 44.5px,#717171 73.5px,#818181 136.5px,#7f7f7f 194.5px)"></i><i style="background:linear-gradient(#7e7e7e 0.5px,#616161 30.5px,#656565 50.5px,#757575 76.5px,#818181 142.5px,#7f7f7f 194.5px)"></i><i style="background:linear-gradient(#7e7e7e 0.5px,#696969 35.5px,#7d7d7d 99.5px,#808080 194.5px)"></i><i style="background:linear-gradient(#7f7f7f 0.5px,#6d6d6d 39.5px,#7d7d7d 98.5px,#808080 194.5px)"></i><i style="background:linear-gradient(#7f7f7f 0.5px,#6a6a6a 39.5px,#7d7d7d 101.5px,#808080 194.5px)"></i><i style="background:linear-gradient(#7f7f7f 0.5px,#666 40.5px,#7c7c7c 99.5px,#818181 192.5px,#7f7f7f 194.5px)"></i><i style="background:linear-gradient(#7f7f7f 0.5px,#6c6c6c 43.5px,#7e7e7e 106.5px,#7f7f7f 194.5px)"></i><i style="width:4px;background:linear-gradient(#7f7f7f 0.5px,#767676 55.5px,#808080 113.5px,#7f7f7f 194.5px)"></i><i style="width:2px;background:linear-gradient(#7f7f7f 0.5px,#797979 64.5px,#818181 124.5px,#7f7f7f 194.5px)"></i><i style="width:3px;background:linear-gradient(#7f7f7f 0.5px,#727272 59.5px,#808080 114.5px,#7f7f7f 194.5px)"></i><i style="background:linear-gradient(#7f7f7f 0.5px,#767676 28.5px,#656565 52.5px,#6e6e6e 78.5px,#7c7c7c 103.5px,#818181 194.5px)"></i><i style="background:linear-gradient(#7f7f7f 0.5px,#767676 25.5px,#5f5f5f 53.5px,#676767 74.5px,#7a7a7a 100.5px,#818181 155.5px,#7f7f7f 194.5px)"></i><i style="width:2px;background:linear-gradient(#7f7f7f 0.5px,#777 29.5px,#656565 56.5px,#717171 85.5px,#7e7e7e 107.5px,#808080 194.5px)"></i><i style="background:linear-gradient(#7f7f7f 0.5px,#787878 35.5px,#6b6b6b 59.5px,#808080 117.5px,#7f7f7f 194.5px)"></i><i style="width:2px;background:linear-gradient(#7f7f7f 0.5px,#787878 45.5px,#727272 64.5px,#808080 120.5px,#7f7f7f 194.5px)"></i><i style="background:linear-gradient(#7f7f7f 0.5px,#797979 41.5px,#707070 65.5px,#808080 119.5px,#7f7f7f 194.5px)"></i><i style="width:2px;background:linear-gradient(#7f7f7f 0.5px,#7a7a7a 34.5px,#676767 64.5px,#747474 93.5px,#7e7e7e 111.5px,#7f7f7f 194.5px)"></i><i style="background:linear-gradient(#7f7f7f 0.5px,#7a7a7a 42.5px,#6f6f6f 68.5px,#808080 119.5px,#7f7f7f 194.5px)"></i><i style="width:2px;background:linear-gradient(#7f7f7f 0.5px,#787878 82.5px,#818181 123.5px,#7f7f7f 194.5px)"></i><i style="background:linear-gradient(#7f7f7f 0.5px,#7b7b7b 47.5px,#727272 72.5px,#808080 121.5px,#7f7f7f 194.5px)"></i><i style="background:linear-gradient(#7f7f7f 0.5px,#7b7b7b 45.5px,#6f6f6f 72.5px,#808080 120.5px,#7f7f7f 194.5px)"></i><i style="width:2px;background:linear-gradient(#7f7f7f 0.5px,#7b7b7b 52.5px,#747474 77.5px,#808080 122.5px,#7f7f7f 194.5px)"></i><i style="background:linear-gradient(#7f7f7f 0.5px,#7b7b7b 43.5px,#696969 74.5px,#767676 101.5px,#7f7f7f 116.5px,#7f7f7f 194.5px)"></i><i style="width:2px;background:linear-gradient(#7f7f7f 0.5px,#7b7b7b 41.5px,#626262 75.5px,#6b6b6b 93.5px,#7c7c7c 110.5px,#818181 178.5px,#7f7f7f 194.5px)"></i><i style="background:linear-gradient(#7f7f7f 0.5px,#7c7c7c 47.5px,#6c6c6c 78.5px,#808080 120.5px,#7f7f7f 194.5px)"></i><i style="width:3px;background:linear-gradient(#7f7f7f 0.5px,#7c7c7c 52.5px,#6f6f6f 81.5px,#808080 122.5px,#7f7f7f 194.5px)"></i><i style="background:linear-gradient(#7f7f7f 0.5px,#7c7c7c 51.5px,#6b6b6b 82.5px,#808080 121.5px,#7f7f7f 194.5px)"></i><i style="background:linear-gradient(#808080 0.5px,#7c7c7c 48.5px,#636363 82.5px,#6f6f6f 100.5px,#7d7d7d 114.5px,#818181 194.5px)"></i><i style="background:linear-gradient(#808080 0.5px,#7c7c7c 48.5px,#616161 83.5px,#6d6d6d 100.5px,#7c7c7c 114.5px,#818181 175.5px,#7f7f7f 194.5px)"></i><i style="background:linear-gradient(#808080 0.5px,#7c7c7c 51.5px,#676767 84.5px,#767676 107.5px,#7f7f7f 119.5px,#7f7f7f 194.5px)"></i><i style="background:linear-gradient(#7f7f7f 0.5px,#7c7c7c 56.5px,#6d6d6d 86.5px,#808080 123.5px,#7f7f7f 194.5px)"></i><i style="background:linear-gradient(#7f7f7f 0.5px,#7c7c7c 62.5px,#737373 88.5px,#818181 127.5px,#7f7f7f 194.5px)"></i><i style="width:2px;background:linear-gradient(#7f7f7f 0.5px,#7c7c7c 73.5px,#787878 93.5px,#818181 131.5px,#7f7f7f 194.5px)"></i><i style="background:linear-gradient(#808080 0.5px,#7d7d7d 61.5px,#6f6f6f 90.5px,#808080 126.5px,#7f7f7f 194.5px)"></i><i style="width:2px;background:linear-gradient(#808080 0.5px,#7d7d7d 58.5px,#676767 90.5px,#7f7f7f 124.5px,#7f7f7f 194.5px)"></i><i style="background:linear-gradient(#808080 0.5px,#7d7d7d 64.5px,#707070 92.5px,#808080 128.5px,#7f7f7f 194.5px)"></i><i style="width:2px;background:linear-gradient(#7f7f7f 0.5px,#7c7c7c 85.5px,#7a7a7a 103.5px,#818181 138.5px,#7f7f7f 194.5px)"></i><i style="background:linear-gradient(#808080 0.5px,#7d7d7d 70.5px,#737373 95.5px,#808080 131.5px,#7f7f7f 194.5px)"></i><i style="background:linear-gradient(#808080 0.5px,#7d7d7d 67.5px,#6f6f6f 95.5px,#808080 129.5px,#7f7f7f 194.5px)"></i><i style="width:2px;background:linear-gradient(#808080 0.5px,#7d7d7d 71.5px,#727272 96.5px,#808080 132.5px,#7f7f7f 194.5px)"></i><i style="width:2px;background:linear-gradient(#7f7f7f 0.5px,#7d7d7d 76.5px,#757575 99.5px,#818181 136.5px,#7f7f7f 194.5px)"></i><i style="width:3px;background:linear-gradient(#808080 0.5px,#7d7d7d 75.5px,#737373 100.5px,#808080 135.5px,#7f7f7f 194.5px)"></i><i style="width:2px;background:linear-gradient(#808080 0.5px,#7d7d7d 83.5px,#777 103.5px,#818181 142.5px,#7f7f7f 194.5px)"></i><i style="width:6px;background:linear-gradient(#7f7f7f 0.5px,#7d7d7d 96.5px,#7b7b7b 114.5px,#818181 153.5px,#7f7f7f 194.5px)"></i><i style="width:38px;background:#7f7f7f"></i><i style="background:linear-gradient(#808080 0.5px,#808080 194.5px)"></i><i style="width:2px;background:linear-gradient(#818181 0.5px,#868686 13.5px,#828282 101.5px,#7e7e7e 130.5px,#7f7f7f 194.5px)"></i><i style="background:linear-gradient(#808080 0.5px,#808080 194.5px)"></i><i style="width:3px;background:linear-gradient(#7f7f7f 0.5px,#797979 14.5px,#818181 172.5px,#808080 194.5px)"></i><i style="background:linear-gradient(#7f7f7f 0.5px,#7d7d7d 87.5px,#818181 139.5px,#808080 194.5px)"></i><i style="width:3px;background:linear-gradient(#808080 0.5px,#838383 84.5px,#7e7e7e 142.5px,#808080 194.5px)"></i><i style="background:#7f7f7f"></i><i style="background:linear-gradient(#7f7f7f 0.5px,#797979 13.5px,#818181 162.5px,#808080 194.5px)"></i><i style="background:linear-gradient(#7e7e7e 0.5px,#767676 10.5px,#7b7b7b 94.5px,#818181 113.5px,#808080 194.5px)"></i><i style="background:linear-gradient(#7f7f7f 0.5px,#797979 14.5px,#818181 159.5px,#808080 194.5px)"></i><i style="background:linear-gradient(#808080 0.5px,#808080 194.5px)"></i><i style="width:2px;background:linear-gradient(#818181 0.5px,#878787 13.5px,#848484 97.5px,#7f7f7f 124.5px,#808080 194.5px)"></i><i style="background:linear-gradient(#808080 0.5px,#858585 37.5px,#7e7e7e 194.5px)"></i><i style="width:3px;background:linear-gradient(#7f7f7f 0.5px,#797979 12.5px,#818181 146.5px,#7f7f7f 194.5px)"></i><i style="background:linear-gradient(#7f7f7f 0.5px,#777 10.5px,#7d7d7d 97.5px,#828282 117.5px,#7f7f7f 194.5px)"></i><i style="background:linear-gradient(#808080 0.5px,#7d7d7d 31.5px,#828282 145.5px,#7f7f7f 194.5px)"></i><i style="background:linear-gradient(#828282 0.5px,#898989 11.5px,#898989 90.5px,#808080 116.5px,#808080 194.5px)"></i><i style="width:2px;background:linear-gradient(#838383 0.5px,#8d8d8d 8.5px,#8e8e8e 85.5px,#818181 112.5px,#808080 194.5px)"></i><i style="width:4px;background:linear-gradient(#828282 0.5px,#888 21.5px,#888 93.5px,#808080 128.5px,#808080 194.5px)"></i><i style="width:2px;background:linear-gradient(#838383 0.5px,#8a8a8a 13.5px,#8d8d8d 86.5px,#828282 121.5px,#808080 194.5px)"></i><i style="background:linear-gradient(#828282 0.5px,#8b8b8b 82.5px,#7e7e7e 173.5px,#808080 194.5px)"></i><i style="background:linear-gradient(#828282 0.5px,#818181 27.5px,#898989 76.5px,#7f7f7f 194.5px)"></i><i style="background:linear-gradient(#828282 0.5px,#8c8c8c 80.5px,#7f7f7f 174.5px,#808080 194.5px)"></i><i style="width:3px;background:linear-gradient(#848484 0.5px,#8c8c8c 20.5px,#939393 81.5px,#828282 138.5px,#808080 194.5px)"></i><i style="background:linear-gradient(#838383 0.5px,#909090 78.5px,#7f7f7f 176.5px,#808080 194.5px)"></i><i style="width:2px;background:linear-gradient(#828282 0.5px,#7c7c7c 9.5px,#8b8b8b 70.5px,#8a8a8a 120.5px,#7f7f7f 165.5px,#808080 194.5px)"></i><i style="width:2px;background:linear-gradient(#838383 0.5px,#7e7e7e 10.5px,#8f8f8f 67.5px,#8b8b8b 119.5px,#808080 160.5px,#808080 194.5px)"></i><i style="width:2px;background:linear-gradient(#838383 0.5px,#7a7a7a 8.5px,#8d8d8d 67.5px,#8e8e8e 115.5px,#818181 158.5px,#808080 194.5px)"></i><i style="background:linear-gradient(#848484 0.5px,#7f7f7f 9.5px,#939393 64.5px,#909090 114.5px,#818181 156.5px,#808080 194.5px)"></i><i style="background:linear-gradient(#868686 0.5px,#838383 12.5px,#989898 62.5px,#929292 113.5px,#828282 153.5px,#808080 194.5px)"></i><i style="background:linear-gradient(#878787 0.5px,#898989 18.5px,#9c9c9c 60.5px,#969696 106.5px,#838383 151.5px,#808080 194.5px)"></i><i style="background:linear-gradient(#888 0.5px,#a5a5a5 61.5px,#a0a0a0 93.5px,#858585 143.5px,#808080 194.5px)"></i><i style="width:2px;background:linear-gradient(#8a8a8a 0.5px,#969696 12.5px,#aeaeae 64.5px,#a7a7a7 91.5px,#8e8e8e 125.5px,#7f7f7f 176.5px,#808080 194.5px)"></i><i style="background:linear-gradient(#8b8b8b 0.5px,#999 17.5px,#afafaf 64.5px,#a9a9a9 91.5px,#8c8c8c 132.5px,#7f7f7f 184.5px,#808080 194.5px)"></i><i style="background:linear-gradient(#8a8a8a 0.5px,#acacac 61.5px,#a7a7a7 91.5px,#868686 145.5px,#7f7f7f 194.5px)"></i><i style="width:2px;background:linear-gradient(#898989 0.5px,#8d8d8d 16.5px,#a7a7a7 57.5px,#a5a5a5 91.5px,#848484 153.5px,#808080 194.5px)"></i><i style="background:linear-gradient(#8a8a8a 0.5px,#929292 20.5px,#aaa 56.5px,#aaa 87.5px,#858585 152.5px,#808080 194.5px)"></i><i style="background:linear-gradient(#8b8b8b 0.5px,#b0b0b0 62.5px,#ababab 93.5px,#878787 146.5px,#7f7f7f 194.5px)"></i><i style="background:linear-gradient(#8c8c8c 0.5px,#b3b3b3 60.5px,#b0b0b0 88.5px,#888 146.5px,#7f7f7f 194.5px)"></i><i style="width:2px;background:linear-gradient(#8d8d8d 0.5px,#b7b7b7 59.5px,#b5b5b5 86.5px,#898989 144.5px,#7f7f7f 194.5px)"></i><i style="background:linear-gradient(#8c8c8c 0.5px,#9b9b9b 25.5px,#b2b2b2 54.5px,#b4b4b4 81.5px,#979797 126.5px,#878787 149.5px,#808080 194.5px)"></i><i style="background:linear-gradient(#8e8e8e 0.5px,#bababa 58.5px,#b9b9b9 84.5px,#898989 145.5px,#7f7f7f 194.5px)"></i><i style="width:2px;background:linear-gradient(#8f8f8f 0.5px,#bebebe 57.5px,#bdbdbd 82.5px,#8a8a8a 144.5px,#7f7f7f 192.5px,#808080 194.5px)"></i><i style="background:linear-gradient(#8e8e8e 0.5px,#bababa 59.5px,#b9b9b9 85.5px,#898989 147.5px,#7f7f7f 194.5px)"></i><i style="width:4px;background:linear-gradient(#8d8d8d 0.5px,#949494 16.5px,#b6b6b6 55.5px,#b7b7b7 82.5px,#9e9e9e 120.5px,#8a8a8a 144.5px,#7f7f7f 193.5px,#808080 194.5px)"></i><i style="width:2px;background:linear-gradient(#8c8c8c 0.5px,#8d8d8d 11.5px,#b2b2b2 56.5px,#b2b2b2 85.5px,#9e9e9e 119.5px,#898989 145.5px,#7f7f7f 194.5px)"></i><i style="background:linear-gradient(#8f8f8f 0.5px,#bebebe 59.5px,#bcbcbc 84.5px,#8a8a8a 146.5px,#7f7f7f 194.5px)"></i><i style="background:linear-gradient(#909090 0.5px,#c2c2c2 55.5px,#c4c4c4 79.5px,#8b8b8b 144.5px,#7f7f7f 190.5px,#808080 194.5px)"></i><i style="background:linear-gradient(#909090 0.5px,#c0c0c0 56.5px,#c2c2c2 80.5px,#8a8a8a 145.5px,#7f7f7f 193.5px,#808080 194.5px)"></i><i style="width:2px;background:linear-gradient(#8f8f8f 0.5px,#bebebe 58.5px,#bdbdbd 83.5px,#8a8a8a 145.5px,#7f7f7f 194.5px)"></i><i style="width:3px;background:linear-gradient(#8e8e8e 0.5px,#bcbcbc 57.5px,#bcbcbc 82.5px,#898989 145.5px,#7f7f7f 194.5px)"></i><i style="width:2px;background:linear-gradient(#8d8d8d 0.5px,#b7b7b7 59.5px,#b4b4b4 86.5px,#888 146.5px,#7f7f7f 194.5px)"></i><i style="width:2px;background:linear-gradient(#8c8c8c 0.5px,#b3b3b3 60.5px,#b0b0b0 88.5px,#888 146.5px,#7f7f7f 194.5px)"></i><i style="width:2px;background:linear-gradient(#8d8d8d 0.5px,#9c9c9c 16.5px,#b9b9b9 62.5px,#b3b3b3 88.5px,#8e8e8e 133.5px,#808080 179.5px,#808080 194.5px)"></i><i style="width:2px;background:linear-gradient(#8b8b8b 0.5px,#a5a5a5 34.5px,#b3b3b3 69.5px,#a8a8a8 97.5px,#8c8c8c 134.5px,#7f7f7f 184.5px,#808080 194.5px)"></i><i style="width:3px;background:linear-gradient(#8a8a8a 0.5px,#a3a3a3 38.5px,#adadad 72.5px,#9e9e9e 104.5px,#888 140.5px,#7f7f7f 194.5px)"></i><i style="width:2px;background:linear-gradient(#898989 0.5px,#969696 15.5px,#aaa 66.5px,#a2a2a2 94.5px,#8b8b8b 129.5px,#7f7f7f 185.5px,#808080 194.5px)"></i><i style="width:2px;background:linear-gradient(#898989 0.5px,#959595 9.5px,#ababab 66.5px,#a2a2a2 92.5px,#909090 116.5px,#808080 170.5px,#808080 194.5px)"></i><i style="background:linear-gradient(#878787 0.5px,#9e9e9e 52.5px,#9d9d9d 88.5px,#858585 140.5px,#7f7f7f 194.5px)"></i><i style="background:linear-gradient(#858585 0.5px,#828282 12.5px,#949494 64.5px,#8e8e8e 117.5px,#818181 155.5px,#808080 194.5px)"></i><i style="background:linear-gradient(#848484 0.5px,#7f7f7f 11.5px,#919191 65.5px,#8d8d8d 118.5px,#818181 157.5px,#808080 194.5px)"></i><i style="width:2px;background:linear-gradient(#848484 0.5px,#8b8b8b 35.5px,#949494 66.5px,#898989 127.5px,#808080 164.5px,#808080 194.5px)"></i><i style="background:linear-gradient(#838383 0.5px,#828282 16.5px,#909090 67.5px,#888 128.5px,#7f7f7f 166.5px,#808080 194.5px)"></i><i style="width:2px;background:linear-gradient(#828282 0.5px,#7e7e7e 11.5px,#8b8b8b 71.5px,#878787 127.5px,#7f7f7f 170.5px,#808080 194.5px)"></i><i style="background:linear-gradient(#838383 0.5px,#838383 23.5px,#8d8d8d 70.5px,#7e7e7e 193.5px,#808080 194.5px)"></i><i style="background:linear-gradient(#838383 0.5px,#909090 75.5px,#7f7f7f 169.5px,#808080 194.5px)"></i><i style="width:2px;background:linear-gradient(#828282 0.5px,#8a8a8a 89.5px,#7e7e7e 183.5px,#808080 194.5px)"></i><i style="width:2px;background:linear-gradient(#828282 0.5px,#8b8b8b 81.5px,#7f7f7f 169.5px,#808080 194.5px)"></i><i style="width:2px;background:linear-gradient(#818181 0.5px,#7d7d7d 17.5px,#868686 96.5px,#7f7f7f 194.5px)"></i><i style="background:linear-gradient(#818181 0.5px,#878787 95.5px,#7e7e7e 186.5px,#808080 194.5px)"></i><i style="width:2px;background:linear-gradient(#818181 0.5px,#888 32.5px,#868686 100.5px,#7f7f7f 140.5px,#808080 194.5px)"></i><i style="width:4px;background:linear-gradient(#808080 0.5px,#838383 115.5px,#7e7e7e 194.5px)"></i><i style="width:2px;background:linear-gradient(#808080 0.5px,#7e7e7e 43.5px,#818181 155.5px,#7f7f7f 194.5px)"></i><i style="background:linear-gradient(#808080 0.5px,#828282 138.5px,#7f7f7f 194.5px)"></i><i style="background:linear-gradient(#828282 0.5px,#8b8b8b 9.5px,#898989 89.5px,#808080 112.5px,#808080 194.5px)"></i><i style="background:linear-gradient(#828282 0.5px,#8f8f8f 8.5px,#8d8d8d 86.5px,#808080 110.5px,#808080 194.5px)"></i><i style="background:linear-gradient(#818181 0.5px,#898989 10.5px,#878787 91.5px,#7f7f7f 114.5px,#808080 194.5px)"></i><i style="background:linear-gradient(#818181 0.5px,#878787 13.5px,#848484 97.5px,#7f7f7f 121.5px,#808080 194.5px)"></i><i style="background:linear-gradient(#808080 0.5px,#808080 194.5px)"></i><i style="background:linear-gradient(#7d7d7d 0.5px,#707070 7.5px,#747474 87.5px,#808080 108.5px,#808080 194.5px)"></i><i style="background:linear-gradient(#7c7c7c 0.5px,#6a6a6a 6.5px,#6c6c6c 83.5px,#7f7f7f 107.5px,#808080 194.5px)"></i><i style="background:linear-gradient(#7d7d7d 0.5px,#717171 7.5px,#747474 87.5px,#808080 109.5px,#808080 194.5px)"></i><i style="background:linear-gradient(#808080 0.5px,#848484 35.5px,#7e7e7e 194.5px)"></i><i style="width:2px;background:linear-gradient(#838383 0.5px,#919191 7.5px,#8f8f8f 85.5px,#7f7f7f 109.5px,#808080 194.5px)"></i><i style="background:linear-gradient(#818181 0.5px,#898989 10.5px,#868686 92.5px,#7f7f7f 114.5px,#808080 194.5px)"></i><i style="background:linear-gradient(#7e7e7e 0.5px,#767676 10.5px,#7b7b7b 94.5px,#818181 114.5px,#808080 194.5px)"></i><i style="background:linear-gradient(#7b7b7b 0.5px,#696969 6.5px,#696969 82.5px,#7f7f7f 107.5px,#808080 194.5px)"></i><i style="background:linear-gradient(#7c7c7c 0.5px,#6c6c6c 6.5px,#6c6c6c 83.5px,#808080 108.5px,#808080 194.5px)"></i><i style="background:linear-gradient(#7f7f7f 0.5px,#797979 15.5px,#818181 171.5px,#808080 194.5px)"></i><i style="background:#7f7f7f"></i><i style="width:2px;background:linear-gradient(#7f7f7f 0.5px,#7b7b7b 27.5px,#818181 193.5px,#808080 194.5px)"></i><i style="background:#7f7f7f"></i><i style="width:2px;background:linear-gradient(#818181 0.5px,#898989 10.5px,#858585 93.5px,#7e7e7e 114.5px,#808080 194.5px)"></i><i style="background:linear-gradient(#7f7f7f 0.5px,#7d7d7d 93.5px,#818181 141.5px,#808080 194.5px)"></i><i style="background:linear-gradient(#7e7e7e 0.5px,#777 12.5px,#7c7c7c 97.5px,#818181 120.5px,#808080 194.5px)"></i><i style="width:4px;background:linear-gradient(#7f7f7f 0.5px,#7c7c7c 60.5px,#818181 173.5px,#808080 194.5px)"></i><i style="width:2px;background:#808080"></i><i style="background:linear-gradient(#7f7f7f 0.5px,#797979 14.5px,#7d7d7d 104.5px,#818181 148.5px,#808080 194.5px)"></i><i style="width:2px;background:linear-gradient(#7e7e7e 0.5px,#757575 9.5px,#797979 91.5px,#818181 112.5px,#808080 194.5px)"></i><i style="background:linear-gradient(#7d7d7d 0.5px,#707070 8.5px,#747474 87.5px,#808080 110.5px,#808080 194.5px)"></i><i style="background:linear-gradient(#7e7e7e 0.5px,#747474 9.5px,#787878 90.5px,#808080 111.5px,#808080 194.5px)"></i><i style="background:linear-gradient(#7f7f7f 0.5px,#7a7a7a 22.5px,#818181 190.5px,#808080 194.5px)"></i><i style="width:2px;background:#7f7f7f"></i><i style="background:linear-gradient(#808080 0.5px,#868686 16.5px,#7e7e7e 178.5px,#808080 194.5px)"></i><i style="width:2px;background:#808080"></i><i style="background:linear-gradient(#818181 0.5px,#8b8b8b 8.5px,#888 89.5px,#7f7f7f 111.5px,#808080 194.5px)"></i><i style="background:linear-gradient(#828282 0.5px,#8f8f8f 8.5px,#8b8b8b 87.5px,#7f7f7f 109.5px,#808080 194.5px)"></i><i style="background:linear-gradient(#808080 0.5px,#848484 33.5px,#7e7e7e 194.5px)"></i><i style="width:3px;background:linear-gradient(#7e7e7e 0.5px,#787878 13.5px,#7d7d7d 100.5px,#818181 130.5px,#808080 194.5px)"></i><i style="background:linear-gradient(#808080 0.5px,#808080 194.5px)"></i><i style="width:2px;background:linear-gradient(#818181 0.5px,#8b8b8b 9.5px,#878787 91.5px,#7f7f7f 111.5px,#808080 194.5px)"></i><i style="width:3px;background:linear-gradient(#808080 0.5px,#868686 15.5px,#7e7e7e 178.5px,#808080 194.5px)"></i><i style="width:2px;background:linear-gradient(#818181 0.5px,#898989 10.5px,#858585 93.5px,#7e7e7e 112.5px,#808080 194.5px)"></i><i style="background:linear-gradient(#808080 0.5px,#858585 17.5px,#7e7e7e 181.5px,#808080 194.5px)"></i><i style="background:linear-gradient(#818181 0.5px,#8b8b8b 9.5px,#878787 90.5px,#7e7e7e 112.5px,#808080 194.5px)"></i><i style="background:linear-gradient(#838383 0.5px,#929292 7.5px,#8f8f8f 85.5px,#7f7f7f 108.5px,#808080 194.5px)"></i><i style="background:linear-gradient(#828282 0.5px,#8e8e8e 8.5px,#8b8b8b 88.5px,#7f7f7f 109.5px,#808080 194.5px)"></i><i style="width:2px;background:linear-gradient(#828282 0.5px,#8c8c8c 8.5px,#898989 89.5px,#7f7f7f 110.5px,#808080 194.5px)"></i><i style="background:linear-gradient(#808080 0.5px,#858585 18.5px,#7e7e7e 182.5px,#808080 194.5px)"></i><i style="width:4px;background:linear-gradient(#7f7f7f 0.5px,#797979 16.5px,#818181 180.5px,#7f7f7f 194.5px)"></i><i style="width:2px;background:linear-gradient(#7f7f7f 0.5px,#7b7b7b 41.5px,#818181 192.5px,#7f7f7f 194.5px)"></i><i style="width:2px;background:linear-gradient(#7e7e7e 0.5px,#767676 10.5px,#7a7a7a 93.5px,#818181 114.5px,#7f7f7f 194.5px)"></i><i style="background:linear-gradient(#7f7f7f 0.5px,#7b7b7b 37.5px,#818181 194.5px)"></i><i style="background:linear-gradient(#808080 0.5px,#808080 194.5px)"></i><i style="background:#7f7f7f"></i><i style="background:linear-gradient(#808080 0.5px,#828282 91.5px,#7e7e7e 139.5px,#808080 194.5px)"></i><i style="width:2px;background:linear-gradient(#818181 0.5px,#8b8b8b 9.5px,#888 90.5px,#7f7f7f 111.5px,#808080 194.5px)"></i><i style="width:2px;background:linear-gradient(#828282 0.5px,#8e8e8e 8.5px,#8b8b8b 88.5px,#7f7f7f 109.5px,#808080 194.5px)"></i><i style="background:#808080"></i><i style="background:linear-gradient(#7e7e7e 0.5px,#787878 12.5px,#7c7c7c 98.5px,#818181 121.5px,#7f7f7f 194.5px)"></i><i style="background:#808080"></i><i style="width:3px;background:linear-gradient(#818181 0.5px,#8b8b8b 9.5px,#878787 90.5px,#7f7f7f 111.5px,#808080 194.5px)"></i><i style="background:linear-gradient(#828282 0.5px,#8f8f8f 8.5px,#8b8b8b 87.5px,#7f7f7f 109.5px,#808080 194.5px)"></i><i style="background:linear-gradient(#818181 0.5px,#8c8c8c 8.5px,#888 89.5px,#7f7f7f 110.5px,#808080 194.5px)"></i><i style="width:2px;background:linear-gradient(#818181 0.5px,#878787 12.5px,#838383 98.5px,#7e7e7e 123.5px,#808080 194.5px)"></i><i style="background:linear-gradient(#808080 0.5px,#858585 22.5px,#7e7e7e 192.5px,#808080 194.5px)"></i><i style="background:#7f7f7f"></i><i style="background:linear-gradient(#808080 0.5px,#858585 18.5px,#7e7e7e 186.5px,#808080 194.5px)"></i><i style="background:linear-gradient(#828282 0.5px,#8e8e8e 8.5px,#8a8a8a 88.5px,#7f7f7f 109.5px,#808080 194.5px)"></i><i style="background:linear-gradient(#818181 0.5px,#878787 11.5px,#838383 96.5px,#7e7e7e 119.5px,#808080 194.5px)"></i><i style="width:2px;background:linear-gradient(#7e7e7e 0.5px,#787878 12.5px,#7c7c7c 98.5px,#818181 122.5px,#7f7f7f 194.5px)"></i><i style="width:2px;background:linear-gradient(#7f7f7f 0.5px,#7a7a7a 18.5px,#818181 184.5px,#7f7f7f 194.5px)"></i><i style="width:2px;background:linear-gradient(#7e7e7e 0.5px,#757575 9.5px,#797979 91.5px,#818181 112.5px,#7f7f7f 194.5px)"></i><i style="width:2px;background:linear-gradient(#7f7f7f 0.5px,#797979 13.5px,#7d7d7d 102.5px,#818181 134.5px,#7f7f7f 194.5px)"></i><i style="width:2px;background:linear-gradient(#7e7e7e 0.5px,#767676 10.5px,#797979 92.5px,#818181 114.5px,#7f7f7f 194.5px)"></i><i style="background:linear-gradient(#7f7f7f 0.5px,#7a7a7a 17.5px,#818181 184.5px,#7f7f7f 194.5px)"></i><i style="width:2px;background:linear-gradient(#808080 0.5px,#808080 194.5px)"></i><i style="background:linear-gradient(#7e7e7e 0.5px,#787878 12.5px,#7c7c7c 97.5px,#818181 121.5px,#7f7f7f 194.5px)"></i><i style="background:linear-gradient(#7e7e7e 0.5px,#757575 9.5px,#787878 91.5px,#818181 112.5px,#7f7f7f 194.5px)"></i><i style="background:linear-gradient(#7f7f7f 0.5px,#7b7b7b 24.5px,#818181 194.5px)"></i><i style="width:2px;background:linear-gradient(#808080 0.5px,#858585 16.5px,#7e7e7e 181.5px,#808080 194.5px)"></i><i style="background:#808080"></i><i style="width:2px;background:linear-gradient(#7f7f7f 0.5px,#7b7b7b 40.5px,#818181 193.5px,#7f7f7f 194.5px)"></i><i style="width:2px;background:linear-gradient(#7e7e7e 0.5px,#787878 13.5px,#7d7d7d 100.5px,#818181 126.5px,#7f7f7f 194.5px)"></i><i style="width:3px;background:#7f7f7f"></i><i style="width:2px;background:linear-gradient(#818181 0.5px,#898989 10.5px,#858585 94.5px,#7e7e7e 113.5px,#808080 194.5px)"></i></div>
<div class="cb" style="left:873.0px;top:146.2px;width:29.0px;height:140.0px"></div>
<div class="cb" style="left:865.0px;top:381.0px;width:30.0px;height:140.0px"></div>
<div class="cb" style="left:865.0px;top:605.0px;width:29.7px;height:141.0px"></div>
<div class="cb" style="left:869.6px;top:849.2px;width:29.7px;height:140.8px"></div>
<div class="cb" style="left:1862.0px;top:146.2px;width:29.0px;height:140.0px"></div>
<div class="cb" style="left:1854.0px;top:381.0px;width:30.0px;height:140.0px"></div>
<div class="cb" style="left:1854.0px;top:605.0px;width:29.7px;height:141.0px"></div>
<div class="cb" style="left:1858.6px;top:849.2px;width:29.7px;height:140.8px"></div>
<svg class="o" width="1961" height="1072" font-family="'Liberation Sans',Arial,Helvetica,sans-serif"><text x="459.3" y="38.8" font-size="48.6" text-anchor="middle">fully turbulent i.c.</text><text x="1475.9" y="38.6" font-size="48.6" text-anchor="middle">at t= 6 hrs., peak frontal strength and arrest</text><path d="M67.5 111.5H828.3V287.2H67.5ZM67.5 99.5V111.5M67.5 287.2V299.2M130.9 99.5V111.5M130.9 287.2V299.2M194.3 99.5V111.5M194.3 287.2V299.2M257.7 99.5V111.5M257.7 287.2V299.2M321.1 99.5V111.5M321.1 287.2V299.2M384.5 99.5V111.5M384.5 287.2V299.2M447.9 99.5V111.5M447.9 287.2V299.2M511.3 99.5V111.5M511.3 287.2V299.2M574.7 99.5V111.5M574.7 287.2V299.2M638.1 99.5V111.5M638.1 287.2V299.2M701.5 99.5V111.5M701.5 287.2V299.2M764.9 99.5V111.5M764.9 287.2V299.2M828.3 99.5V111.5M828.3 287.2V299.2M55.5 111.5H67.5M828.3 111.5H840.3M55.5 199.3H67.5M828.3 199.3H840.3M55.5 287.2H67.5M828.3 287.2H840.3" fill="none" stroke="#1a1a1a" stroke-width="2.7" stroke-linecap="butt"/><text x="52.1" y="120.9" font-size="26.2" text-anchor="end" fill="#222" stroke="#222" stroke-width="0.45">0</text><text x="52.1" y="297.4" font-size="26.2" text-anchor="end" letter-spacing="-0.8" fill="#222" stroke="#222" stroke-width="0.45">-100</text><text transform="translate(37.5 200.8) rotate(-90)" font-size="29" font-weight="bold" text-anchor="middle" fill="#111">z (m)</text><path d="M67.5 326.2H828.3V522.0H67.5ZM67.5 314.2V326.2M67.5 522.0V534.0M130.9 314.2V326.2M130.9 522.0V534.0M194.3 314.2V326.2M194.3 522.0V534.0M257.7 314.2V326.2M257.7 522.0V534.0M321.1 314.2V326.2M321.1 522.0V534.0M384.5 314.2V326.2M384.5 522.0V534.0M447.9 314.2V326.2M447.9 522.0V534.0M511.3 314.2V326.2M511.3 522.0V534.0M574.7 314.2V326.2M574.7 522.0V534.0M638.1 314.2V326.2M638.1 522.0V534.0M701.5 314.2V326.2M701.5 522.0V534.0M764.9 314.2V326.2M764.9 522.0V534.0M828.3 314.2V326.2M828.3 522.0V534.0M55.5 326.2H67.5M828.3 326.2H840.3M55.5 424.1H67.5M828.3 424.1H840.3M55.5 522.0H67.5M828.3 522.0H840.3" fill="none" stroke="#1a1a1a" stroke-width="2.7" stroke-linecap="butt"/><text x="52.1" y="335.6" font-size="26.2" text-anchor="end" fill="#222" stroke="#222" stroke-width="0.45">0</text><text x="52.1" y="532.2" font-size="26.2" text-anchor="end" letter-spacing="-0.8" fill="#222" stroke="#222" stroke-width="0.45">-100</text><text transform="translate(37.5 425.6) rotate(-90)" font-size="29" font-weight="bold" text-anchor="middle" fill="#111">z (m)</text><path d="M67.5 561.0H828.3V755.7H67.5ZM67.5 549.0V561.0M67.5 755.7V767.7M130.9 549.0V561.0M130.9 755.7V767.7M194.3 549.0V561.0M194.3 755.7V767.7M257.7 549.0V561.0M257.7 755.7V767.7M321.1 549.0V561.0M321.1 755.7V767.7M384.5 549.0V561.0M384.5 755.7V767.7M447.9 549.0V561.0M447.9 755.7V767.7M511.3 549.0V561.0M511.3 755.7V767.7M574.7 549.0V561.0M574.7 755.7V767.7M638.1 549.0V561.0M638.1 755.7V767.7M701.5 549.0V561.0M701.5 755.7V767.7M764.9 549.0V561.0M764.9 755.7V767.7M828.3 549.0V561.0M828.3 755.7V767.7M55.5 561.0H67.5M828.3 561.0H840.3M55.5 658.4H67.5M828.3 658.4H840.3M55.5 755.7H67.5M828.3 755.7H840.3" fill="none" stroke="#1a1a1a" stroke-width="2.7" stroke-linecap="butt"/><text x="52.1" y="570.4" font-size="26.2" text-anchor="end" fill="#222" stroke="#222" stroke-width="0.45">0</text><text x="52.1" y="765.9" font-size="26.2" text-anchor="end" letter-spacing="-0.8" fill="#222" stroke="#222" stroke-width="0.45">-100</text><text transform="translate(37.5 659.9) rotate(-90)" font-size="29" font-weight="bold" text-anchor="middle" fill="#111">z (m)</text><path d="M67.5 795.0H828.3V990.0H67.5ZM67.5 783.0V795.0M67.5 990.0V1002.0M130.9 783.0V795.0M130.9 990.0V1002.0M194.3 783.0V795.0M194.3 990.0V1002.0M257.7 783.0V795.0M257.7 990.0V1002.0M321.1 783.0V795.0M321.1 990.0V1002.0M384.5 783.0V795.0M384.5 990.0V1002.0M447.9 783.0V795.0M447.9 990.0V1002.0M511.3 783.0V795.0M511.3 990.0V1002.0M574.7 783.0V795.0M574.7 990.0V1002.0M638.1 783.0V795.0M638.1 990.0V1002.0M701.5 783.0V795.0M701.5 990.0V1002.0M764.9 783.0V795.0M764.9 990.0V1002.0M828.3 783.0V795.0M828.3 990.0V1002.0M55.5 795.0H67.5M828.3 795.0H840.3M55.5 892.5H67.5M828.3 892.5H840.3M55.5 990.0H67.5M828.3 990.0H840.3" fill="none" stroke="#1a1a1a" stroke-width="2.7" stroke-linecap="butt"/><text x="52.1" y="804.4" font-size="26.2" text-anchor="end" fill="#222" stroke="#222" stroke-width="0.45">0</text><text x="52.1" y="1000.2" font-size="26.2" text-anchor="end" letter-spacing="-0.8" fill="#222" stroke="#222" stroke-width="0.45">-100</text><text transform="translate(37.5 894.0) rotate(-90)" font-size="29" font-weight="bold" text-anchor="middle" fill="#111">z (m)</text><text x="130.9" y="1032" font-size="25.4" text-anchor="middle" fill="#222" stroke="#222" stroke-width="0.45">-5000</text><text x="447.9" y="1032" font-size="25.4" text-anchor="middle" fill="#222" stroke="#222" stroke-width="0.45">0</text><text x="764.9" y="1032" font-size="25.4" text-anchor="middle" fill="#222" stroke="#222" stroke-width="0.45">5000</text><text x="447.9" y="1058" font-size="29" font-weight="bold" text-anchor="middle" fill="#111">x (m)</text><path d="M1055.7 111.5H1817.6V287.2H1055.7ZM1056.3 99.5V111.5M1056.3 287.2V299.2M1119.7 99.5V111.5M1119.7 287.2V299.2M1183.1 99.5V111.5M1183.1 287.2V299.2M1246.5 99.5V111.5M1246.5 287.2V299.2M1309.9 99.5V111.5M1309.9 287.2V299.2M1373.3 99.5V111.5M1373.3 287.2V299.2M1436.7 99.5V111.5M1436.7 287.2V299.2M1500.1 99.5V111.5M1500.1 287.2V299.2M1563.5 99.5V111.5M1563.5 287.2V299.2M1626.9 99.5V111.5M1626.9 287.2V299.2M1690.3 99.5V111.5M1690.3 287.2V299.2M1753.7 99.5V111.5M1753.7 287.2V299.2M1817.1 99.5V111.5M1817.1 287.2V299.2M1043.7 111.5H1055.7M1817.6 111.5H1829.6M1043.7 199.3H1055.7M1817.6 199.3H1829.6M1043.7 287.2H1055.7M1817.6 287.2H1829.6" fill="none" stroke="#1a1a1a" stroke-width="2.7" stroke-linecap="butt"/><text x="1040.3" y="120.9" font-size="26.2" text-anchor="end" fill="#222" stroke="#222" stroke-width="0.45">0</text><text x="1040.3" y="297.4" font-size="26.2" text-anchor="end" letter-spacing="-0.8" fill="#222" stroke="#222" stroke-width="0.45">-100</text><text transform="translate(1025.7 200.8) rotate(-90)" font-size="29" font-weight="bold" text-anchor="middle" fill="#111">z (m)</text><path d="M1055.7 326.2H1817.6V522.0H1055.7ZM1056.3 314.2V326.2M1056.3 522.0V534.0M1119.7 314.2V326.2M1119.7 522.0V534.0M1183.1 314.2V326.2M1183.1 522.0V534.0M1246.5 314.2V326.2M1246.5 522.0V534.0M1309.9 314.2V326.2M1309.9 522.0V534.0M1373.3 314.2V326.2M1373.3 522.0V534.0M1436.7 314.2V326.2M1436.7 522.0V534.0M1500.1 314.2V326.2M1500.1 522.0V534.0M1563.5 314.2V326.2M1563.5 522.0V534.0M1626.9 314.2V326.2M1626.9 522.0V534.0M1690.3 314.2V326.2M1690.3 522.0V534.0M1753.7 314.2V326.2M1753.7 522.0V534.0M1817.1 314.2V326.2M1817.1 522.0V534.0M1043.7 326.2H1055.7M1817.6 326.2H1829.6M1043.7 424.1H1055.7M1817.6 424.1H1829.6M1043.7 522.0H1055.7M1817.6 522.0H1829.6" fill="none" stroke="#1a1a1a" stroke-width="2.7" stroke-linecap="butt"/><text x="1040.3" y="335.6" font-size="26.2" text-anchor="end" fill="#222" stroke="#222" stroke-width="0.45">0</text><text x="1040.3" y="532.2" font-size="26.2" text-anchor="end" letter-spacing="-0.8" fill="#222" stroke="#222" stroke-width="0.45">-100</text><text transform="translate(1025.7 425.6) rotate(-90)" font-size="29" font-weight="bold" text-anchor="middle" fill="#111">z (m)</text><path d="M1055.7 561.0H1817.6V755.7H1055.7ZM1056.3 549.0V561.0M1056.3 755.7V767.7M1119.7 549.0V561.0M1119.7 755.7V767.7M1183.1 549.0V561.0M1183.1 755.7V767.7M1246.5 549.0V561.0M1246.5 755.7V767.7M1309.9 549.0V561.0M1309.9 755.7V767.7M1373.3 549.0V561.0M1373.3 755.7V767.7M1436.7 549.0V561.0M1436.7 755.7V767.7M1500.1 549.0V561.0M1500.1 755.7V767.7M1563.5 549.0V561.0M1563.5 755.7V767.7M1626.9 549.0V561.0M1626.9 755.7V767.7M1690.3 549.0V561.0M1690.3 755.7V767.7M1753.7 549.0V561.0M1753.7 755.7V767.7M1817.1 549.0V561.0M1817.1 755.7V767.7M1043.7 561.0H1055.7M1817.6 561.0H1829.6M1043.7 658.4H1055.7M1817.6 658.4H1829.6M1043.7 755.7H1055.7M1817.6 755.7H1829.6" fill="none" stroke="#1a1a1a" stroke-width="2.7" stroke-linecap="butt"/><text x="1040.3" y="570.4" font-size="26.2" text-anchor="end" fill="#222" stroke="#222" stroke-width="0.45">0</text><text x="1040.3" y="765.9" font-size="26.2" text-anchor="end" letter-spacing="-0.8" fill="#222" stroke="#222" stroke-width="0.45">-100</text><text transform="translate(1025.7 659.9) rotate(-90)" font-size="29" font-weight="bold" text-anchor="middle" fill="#111">z (m)</text><path d="M1055.7 795.0H1817.6V990.0H1055.7ZM1056.3 783.0V795.0M1056.3 990.0V1002.0M1119.7 783.0V795.0M1119.7 990.0V1002.0M1183.1 783.0V795.0M1183.1 990.0V1002.0M1246.5 783.0V795.0M1246.5 990.0V1002.0M1309.9 783.0V795.0M1309.9 990.0V1002.0M1373.3 783.0V795.0M1373.3 990.0V1002.0M1436.7 783.0V795.0M1436.7 990.0V1002.0M1500.1 783.0V795.0M1500.1 990.0V1002.0M1563.5 783.0V795.0M1563.5 990.0V1002.0M1626.9 783.0V795.0M1626.9 990.0V1002.0M1690.3 783.0V795.0M1690.3 990.0V1002.0M1753.7 783.0V795.0M1753.7 990.0V1002.0M1817.1 783.0V795.0M1817.1 990.0V1002.0M1043.7 795.0H1055.7M1817.6 795.0H1829.6M1043.7 892.5H1055.7M1817.6 892.5H1829.6M1043.7 990.0H1055.7M1817.6 990.0H1829.6" fill="none" stroke="#1a1a1a" stroke-width="2.7" stroke-linecap="butt"/><text x="1040.3" y="804.4" font-size="26.2" text-anchor="end" fill="#222" stroke="#222" stroke-width="0.45">0</text><text x="1040.3" y="1000.2" font-size="26.2" text-anchor="end" letter-spacing="-0.8" fill="#222" stroke="#222" stroke-width="0.45">-100</text><text transform="translate(1025.7 894.0) rotate(-90)" font-size="29" font-weight="bold" text-anchor="middle" fill="#111">z (m)</text><text x="1119.7" y="1032" font-size="25.4" text-anchor="middle" fill="#222" stroke="#222" stroke-width="0.45">-5000</text><text x="1436.7" y="1032" font-size="25.4" text-anchor="middle" fill="#222" stroke="#222" stroke-width="0.45">0</text><text x="1753.7" y="1032" font-size="25.4" text-anchor="middle" fill="#222" stroke="#222" stroke-width="0.45">5000</text><text x="1436.7" y="1058" font-size="29" font-weight="bold" text-anchor="middle" fill="#111">x (m)</text><text x="961.2" y="154.8" font-size="19.8" text-anchor="end" fill="#222" stroke="#222" stroke-width="0.55">5.00</text><text x="961.2" y="178.1" font-size="19.8" text-anchor="end" fill="#222" stroke="#222" stroke-width="0.55">4.92</text><text x="961.2" y="201.5" font-size="19.8" text-anchor="end" fill="#222" stroke="#222" stroke-width="0.55">4.83</text><text x="961.2" y="224.8" font-size="19.8" text-anchor="end" fill="#222" stroke="#222" stroke-width="0.55">4.75</text><text x="961.2" y="248.1" font-size="19.8" text-anchor="end" fill="#222" stroke="#222" stroke-width="0.55">4.67</text><text x="961.2" y="271.5" font-size="19.8" text-anchor="end" fill="#222" stroke="#222" stroke-width="0.55">4.58</text><text x="961.2" y="294.8" font-size="19.8" text-anchor="end" fill="#222" stroke="#222" stroke-width="0.55">4.50</text><text x="960.7" y="389.6" font-size="19.8" text-anchor="end" fill="#222" stroke="#222" stroke-width="0.55">0.20</text><text x="960.7" y="412.9" font-size="19.8" text-anchor="end" fill="#222" stroke="#222" stroke-width="0.55">0.13</text><text x="960.7" y="436.3" font-size="19.8" text-anchor="end" fill="#222" stroke="#222" stroke-width="0.55">0.07</text><text x="960.7" y="459.6" font-size="19.8" text-anchor="end" fill="#222" stroke="#222" stroke-width="0.55">0.00</text><text x="960.7" y="482.9" font-size="19.8" text-anchor="end" fill="#222" stroke="#222" stroke-width="0.55">-0.07</text><text x="960.7" y="506.3" font-size="19.8" text-anchor="end" fill="#222" stroke="#222" stroke-width="0.55">-0.13</text><text x="960.7" y="529.6" font-size="19.8" text-anchor="end" fill="#222" stroke="#222" stroke-width="0.55">-0.20</text><text x="960.7" y="613.6" font-size="19.8" text-anchor="end" fill="#222" stroke="#222" stroke-width="0.55">0.04</text><text x="960.7" y="637.1" font-size="19.8" text-anchor="end" fill="#222" stroke="#222" stroke-width="0.55">0.03</text><text x="960.7" y="660.6" font-size="19.8" text-anchor="end" fill="#222" stroke="#222" stroke-width="0.55">0.01</text><text x="960.7" y="684.1" font-size="19.8" text-anchor="end" fill="#222" stroke="#222" stroke-width="0.55">0.00</text><text x="960.7" y="707.6" font-size="19.8" text-anchor="end" fill="#222" stroke="#222" stroke-width="0.55">-0.01</text><text x="960.7" y="731.1" font-size="19.8" text-anchor="end" fill="#222" stroke="#222" stroke-width="0.55">-0.03</text><text x="960.7" y="754.6" font-size="19.8" text-anchor="end" fill="#222" stroke="#222" stroke-width="0.55">-0.04</text><text x="965.2" y="857.8" font-size="19.8" text-anchor="end" fill="#222" stroke="#222" stroke-width="0.55">0.20</text><text x="965.2" y="881.3" font-size="19.8" text-anchor="end" fill="#222" stroke="#222" stroke-width="0.55">0.13</text><text x="965.2" y="904.7" font-size="19.8" text-anchor="end" fill="#222" stroke="#222" stroke-width="0.55">0.07</text><text x="965.2" y="928.2" font-size="19.8" text-anchor="end" fill="#222" stroke="#222" stroke-width="0.55">0.00</text><text x="965.2" y="951.7" font-size="19.8" text-anchor="end" fill="#222" stroke="#222" stroke-width="0.55">-0.07</text><text x="965.2" y="975.1" font-size="19.8" text-anchor="end" fill="#222" stroke="#222" stroke-width="0.55">-0.13</text><text x="965.2" y="998.6" font-size="19.8" text-anchor="end" fill="#222" stroke="#222" stroke-width="0.55">-0.20</text><text x="1950.2" y="154.8" font-size="19.8" text-anchor="end" fill="#222" stroke="#222" stroke-width="0.55">5.00</text><text x="1950.2" y="178.1" font-size="19.8" text-anchor="end" fill="#222" stroke="#222" stroke-width="0.55">4.92</text><text x="1950.2" y="201.5" font-size="19.8" text-anchor="end" fill="#222" stroke="#222" stroke-width="0.55">4.83</text><text x="1950.2" y="224.8" font-size="19.8" text-anchor="end" fill="#222" stroke="#222" stroke-width="0.55">4.75</text><text x="1950.2" y="248.1" font-size="19.8" text-anchor="end" fill="#222" stroke="#222" stroke-width="0.55">4.67</text><text x="1950.2" y="271.5" font-size="19.8" text-anchor="end" fill="#222" stroke="#222" stroke-width="0.55">4.58</text><text x="1950.2" y="294.8" font-size="19.8" text-anchor="end" fill="#222" stroke="#222" stroke-width="0.55">4.50</text><text x="1949.7" y="389.6" font-size="19.8" text-anchor="end" fill="#222" stroke="#222" stroke-width="0.55">0.20</text><text x="1949.7" y="412.9" font-size="19.8" text-anchor="end" fill="#222" stroke="#222" stroke-width="0.55">0.13</text><text x="1949.7" y="436.3" font-size="19.8" text-anchor="end" fill="#222" stroke="#222" stroke-width="0.55">0.07</text><text x="1949.7" y="459.6" font-size="19.8" text-anchor="end" fill="#222" stroke="#222" stroke-width="0.55">0.00</text><text x="1949.7" y="482.9" font-size="19.8" text-anchor="end" fill="#222" stroke="#222" stroke-width="0.55">-0.07</text><text x="1949.7" y="506.3" font-size="19.8" text-anchor="end" fill="#222" stroke="#222" stroke-width="0.55">-0.13</text><text x="1949.7" y="529.6" font-size="19.8" text-anchor="end" fill="#222" stroke="#222" stroke-width="0.55">-0.20</text><text x="1949.7" y="613.6" font-size="19.8" text-anchor="end" fill="#222" stroke="#222" stroke-width="0.55">0.08</text><text x="1949.7" y="637.1" font-size="19.8" text-anchor="end" fill="#222" stroke="#222" stroke-width="0.55">0.05</text><text x="1949.7" y="660.6" font-size="19.8" text-anchor="end" fill="#222" stroke="#222" stroke-width="0.55">0.03</text><text x="1949.7" y="684.1" font-size="19.8" text-anchor="end" fill="#222" stroke="#222" stroke-width="0.55">0.00</text><text x="1949.7" y="707.6" font-size="19.8" text-anchor="end" fill="#222" stroke="#222" stroke-width="0.55">-0.03</text><text x="1949.7" y="731.1" font-size="19.8" text-anchor="end" fill="#222" stroke="#222" stroke-width="0.55">-0.05</text><text x="1949.7" y="754.6" font-size="19.8" text-anchor="end" fill="#222" stroke="#222" stroke-width="0.55">-0.08</text><text x="1954.2" y="857.8" font-size="19.8" text-anchor="end" fill="#222" stroke="#222" stroke-width="0.55">0.40</text><text x="1954.2" y="881.3" font-size="19.8" text-anchor="end" fill="#222" stroke="#222" stroke-width="0.55">0.27</text><text x="1954.2" y="904.7" font-size="19.8" text-anchor="end" fill="#222" stroke="#222" stroke-width="0.55">0.13</text><text x="1954.2" y="928.2" font-size="19.8" text-anchor="end" fill="#222" stroke="#222" stroke-width="0.55">0.00</text><text x="1954.2" y="951.7" font-size="19.8" text-anchor="end" fill="#222" stroke="#222" stroke-width="0.55">-0.13</text><text x="1954.2" y="975.1" font-size="19.8" text-anchor="end" fill="#222" stroke="#222" stroke-width="0.55">-0.27</text><text x="1954.2" y="998.6" font-size="19.8" text-anchor="end" fill="#222" stroke="#222" stroke-width="0.55">-0.40</text><text x="907.5" y="124.5" font-size="22" text-anchor="middle" fill="#111"><tspan font-family="DejaVu Sans" font-weight="normal" font-size="28" fill="#555">⟨</tspan><tspan font-family="Liberation Serif" font-size="27">θ</tspan><tspan font-weight="bold" font-size="24" dx="1"> - </tspan><tspan font-family="Liberation Serif" font-size="27" dx="1">θ</tspan><tspan font-weight="bold" font-size="17" dy="7" dx="1">o</tspan><tspan dy="-7" font-family="DejaVu Sans" font-weight="normal" font-size="28" fill="#555">⟩</tspan></text><text x="881.0" y="362.5" font-size="22" text-anchor="middle" fill="#111"><tspan font-family="DejaVu Sans" font-weight="normal" font-size="28" fill="#555">⟨</tspan><tspan font-weight="bold">v</tspan><tspan font-family="DejaVu Sans" font-weight="normal" font-size="28" fill="#555">⟩</tspan></text><text x="881.0" y="590.5" font-size="22" text-anchor="middle" fill="#111"><tspan font-family="DejaVu Sans" font-weight="normal" font-size="28" fill="#555">⟨</tspan><tspan font-weight="bold">u</tspan><tspan font-family="DejaVu Sans" font-weight="normal" font-size="28" fill="#555">⟩</tspan></text><text x="903.6" y="830.5" font-size="22" text-anchor="middle" fill="#111"><tspan font-family="DejaVu Sans" font-weight="normal" font-size="28" fill="#555">⟨</tspan><tspan font-weight="bold">w</tspan><tspan font-family="DejaVu Sans" font-weight="normal" font-size="28" fill="#555">⟩</tspan><tspan font-weight="bold"> x 100</tspan></text><text x="1898.5" y="119.0" font-size="22" text-anchor="middle" fill="#111"><tspan font-family="DejaVu Sans" font-weight="normal" font-size="28" fill="#555">⟨</tspan><tspan font-family="Liberation Serif" font-size="27">θ</tspan><tspan font-weight="bold" font-size="24" dx="1"> - </tspan><tspan font-family="Liberation Serif" font-size="27" dx="1">θ</tspan><tspan font-weight="bold" font-size="17" dy="7" dx="1">o</tspan><tspan dy="-7" font-family="DejaVu Sans" font-weight="normal" font-size="28" fill="#555">⟩</tspan></text><text x="1870.0" y="363.5" font-size="22" text-anchor="middle" fill="#111"><tspan font-family="DejaVu Sans" font-weight="normal" font-size="28" fill="#555">⟨</tspan><tspan font-weight="bold">v</tspan><tspan font-family="DejaVu Sans" font-weight="normal" font-size="28" fill="#555">⟩</tspan></text><text x="1870.0" y="588.5" font-size="22" text-anchor="middle" fill="#111"><tspan font-family="DejaVu Sans" font-weight="normal" font-size="28" fill="#555">⟨</tspan><tspan font-weight="bold">u</tspan><tspan font-family="DejaVu Sans" font-weight="normal" font-size="28" fill="#555">⟩</tspan></text><text x="1892.6" y="830.5" font-size="22" text-anchor="middle" fill="#111"><tspan font-family="DejaVu Sans" font-weight="normal" font-size="28" fill="#555">⟨</tspan><tspan font-weight="bold">w</tspan><tspan font-family="DejaVu Sans" font-weight="normal" font-size="28" fill="#555">⟩</tspan><tspan font-weight="bold"> x 100</tspan></text></svg>
</body></html>
